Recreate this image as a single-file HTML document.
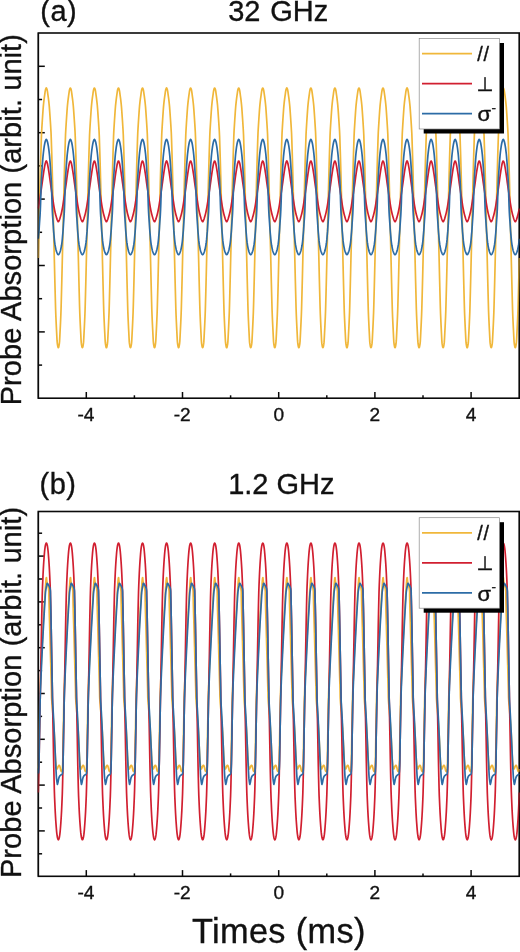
<!DOCTYPE html><html><head><meta charset="utf-8"><title>Probe Absorption</title><style>html,body{margin:0;padding:0;background:#fff}svg{display:block}</style></head><body><svg width="520" height="952" viewBox="0 0 520 952" font-family="Liberation Sans, Arial, Helvetica, sans-serif"><style>text{font-family:"Liberation Sans",Arial,Helvetica,"DejaVu Sans",sans-serif;stroke:#111;stroke-width:0.35px;paint-order:stroke}</style>
<rect width="520" height="952" fill="#fff"/>
<clipPath id="clipa"><rect x="37.4" y="33" width="482.799" height="365.2"/></clipPath>
<rect x="38.3" y="33" width="480.999" height="365.2" fill="none" stroke="#0a0a0a" stroke-width="1.6"/>
<line x1="38.3" x2="44.8" y1="66.3" y2="66.3" stroke="#0a0a0a" stroke-width="1.5"/>
<line x1="38.3" x2="44.8" y1="132.7" y2="132.7" stroke="#0a0a0a" stroke-width="1.5"/>
<line x1="38.3" x2="44.8" y1="199.100" y2="199.100" stroke="#0a0a0a" stroke-width="1.5"/>
<line x1="38.3" x2="44.8" y1="265.5" y2="265.5" stroke="#0a0a0a" stroke-width="1.5"/>
<line x1="38.3" x2="44.8" y1="331.900" y2="331.900" stroke="#0a0a0a" stroke-width="1.5"/>
<line x1="38.3" x2="42.099" y1="99.5" y2="99.5" stroke="#0a0a0a" stroke-width="1.5"/>
<line x1="38.3" x2="42.099" y1="165.9" y2="165.9" stroke="#0a0a0a" stroke-width="1.5"/>
<line x1="38.3" x2="42.099" y1="232.3" y2="232.3" stroke="#0a0a0a" stroke-width="1.5"/>
<line x1="38.3" x2="42.099" y1="298.700" y2="298.700" stroke="#0a0a0a" stroke-width="1.5"/>
<line x1="38.3" x2="42.099" y1="365.1" y2="365.1" stroke="#0a0a0a" stroke-width="1.5"/>
<line x1="86.299" x2="86.299" y1="398.2" y2="392.0" stroke="#0a0a0a" stroke-width="1.5"/>
<text x="85.999" y="421.3" font-size="19.1" text-anchor="middle" fill="#111">-4</text>
<line x1="134.399" x2="134.399" y1="398.2" y2="395.3" stroke="#0a0a0a" stroke-width="1.5"/>
<line x1="182.5" x2="182.5" y1="398.2" y2="392.0" stroke="#0a0a0a" stroke-width="1.5"/>
<text x="182.2" y="421.3" font-size="19.1" text-anchor="middle" fill="#111">-2</text>
<line x1="230.6" x2="230.6" y1="398.2" y2="395.3" stroke="#0a0a0a" stroke-width="1.5"/>
<line x1="278.7" x2="278.7" y1="398.2" y2="392.0" stroke="#0a0a0a" stroke-width="1.5"/>
<text x="278.7" y="421.3" font-size="19.1" text-anchor="middle" fill="#111">0</text>
<line x1="326.8" x2="326.8" y1="398.2" y2="395.3" stroke="#0a0a0a" stroke-width="1.5"/>
<line x1="374.9" x2="374.9" y1="398.2" y2="392.0" stroke="#0a0a0a" stroke-width="1.5"/>
<text x="374.9" y="421.3" font-size="19.1" text-anchor="middle" fill="#111">2</text>
<line x1="423.0" x2="423.0" y1="398.2" y2="395.3" stroke="#0a0a0a" stroke-width="1.5"/>
<line x1="471.1" x2="471.1" y1="398.2" y2="392.0" stroke="#0a0a0a" stroke-width="1.5"/>
<text x="471.1" y="421.3" font-size="19.1" text-anchor="middle" fill="#111">4</text>
<g clip-path="url(#clipa)" fill="none" stroke-width="1.7" stroke-linejoin="round">
<path d="M38.30 258.01 L38.55 248.13 L38.80 238.00 L39.05 226.43 L39.30 214.74 L39.55 203.57 L39.80 192.92 L40.05 182.86 L40.30 173.43 L40.55 164.48 L40.80 155.50 L41.05 147.81 L41.30 139.86 L41.55 132.94 L41.80 128.68 L42.05 124.67 L42.30 120.76 L42.55 117.02 L42.80 113.38 L43.05 109.81 L43.30 106.60 L43.55 103.99 L43.80 101.69 L44.05 99.61 L44.30 97.69 L44.55 95.87 L44.80 94.07 L45.05 92.21 L45.30 90.59 L45.55 89.54 L45.80 88.79 L46.05 88.22 L46.30 88.00 L46.55 88.22 L46.80 88.79 L47.05 89.54 L47.30 90.59 L47.55 92.21 L47.80 94.07 L48.05 95.87 L48.30 97.69 L48.55 99.61 L48.80 101.69 L49.05 103.99 L49.30 106.60 L49.55 109.81 L49.80 113.38 L50.05 117.02 L50.30 120.76 L50.55 124.67 L50.80 128.68 L51.05 132.94 L51.30 139.86 L51.55 147.81 L51.80 155.50 L52.05 164.48 L52.30 173.43 L52.55 182.86 L52.80 192.92 L53.05 203.57 L53.30 214.74 L53.55 226.43 L53.80 238.00 L54.05 248.13 L54.30 258.01 L54.55 268.53 L54.80 278.90 L55.05 288.61 L55.30 298.00 L55.55 307.53 L55.80 314.81 L56.05 320.51 L56.30 325.89 L56.55 330.87 L56.80 335.84 L57.05 340.69 L57.30 343.49 L57.55 345.13 L57.80 346.45 L58.05 347.34 L58.30 347.70 L58.55 347.45 L58.80 346.66 L59.05 345.42 L59.30 343.84 L59.55 341.48 L59.80 336.88 L60.05 331.83 L60.30 326.91 L60.55 321.61 L60.80 316.02 L61.05 309.24 L61.30 299.90 L61.55 290.50 L61.80 280.88 L62.05 270.65 L62.30 260.08 L62.55 250.08 L62.80 240.12 L63.05 228.82 L63.30 217.00 L63.55 205.78 L63.80 195.00 L64.05 184.83 L64.30 175.24 L64.55 166.30 L64.80 157.20 L65.05 149.30 L65.30 141.55 L65.55 134.00 L65.80 129.46 L66.05 125.48 L66.30 121.53 L66.55 117.76 L66.80 114.11 L67.05 110.50 L67.30 107.20 L67.55 104.48 L67.80 102.13 L68.05 100.01 L68.30 98.07 L68.55 96.23 L68.80 94.44 L69.05 92.58 L69.30 90.88 L69.55 89.70 L69.80 88.93 L70.05 88.31 L70.30 88.01 L70.55 88.15 L70.80 88.66 L71.05 89.38 L71.30 90.32 L71.55 91.86 L71.80 93.70 L72.05 95.51 L72.30 97.32 L72.55 99.22 L72.80 101.26 L73.05 103.51 L73.30 106.04 L73.55 109.13 L73.80 112.65 L74.05 116.30 L74.30 120.00 L74.55 123.88 L74.80 127.90 L75.05 131.98 L75.30 138.21 L75.55 146.32 L75.80 153.88 L76.05 162.64 L76.30 171.64 L76.55 180.92 L76.80 190.87 L77.05 201.39 L77.30 212.48 L77.55 224.03 L77.80 235.80 L78.05 246.17 L78.30 255.98 L78.55 266.41 L78.80 276.88 L79.05 286.70 L79.30 296.13 L79.55 305.70 L79.80 313.55 L80.05 319.41 L80.30 324.84 L80.55 329.91 L80.80 334.79 L81.05 339.83 L81.30 343.14 L81.55 344.83 L81.80 346.21 L82.05 347.20 L82.30 347.67 L82.55 347.55 L82.80 346.86 L83.05 345.70 L83.30 344.18 L83.55 342.16 L83.80 337.90 L84.05 332.78 L84.30 327.93 L84.55 322.71 L84.80 317.18 L85.05 310.80 L85.30 301.84 L85.55 292.39 L85.80 282.84 L86.05 272.75 L86.30 262.18 L86.55 252.03 L86.80 242.18 L87.05 231.19 L87.30 219.30 L87.55 208.00 L87.80 197.10 L88.05 186.82 L88.30 177.10 L88.55 168.09 L88.80 158.97 L89.05 150.79 L89.30 143.21 L89.55 135.23 L89.80 130.26 L90.05 126.28 L90.30 122.31 L90.55 118.50 L90.80 114.85 L91.05 111.21 L91.30 107.82 L91.55 104.98 L91.80 102.58 L92.05 100.42 L92.30 98.44 L92.55 96.59 L92.80 94.80 L93.05 92.95 L93.30 91.19 L93.55 89.88 L93.80 89.08 L94.05 88.42 L94.30 88.04 L94.55 88.08 L94.80 88.53 L95.05 89.23 L95.30 90.09 L95.55 91.51 L95.80 93.32 L96.05 95.16 L96.30 96.95 L96.55 98.83 L96.80 100.84 L97.05 103.04 L97.30 105.50 L97.55 108.46 L97.80 111.93 L98.05 115.58 L98.30 119.24 L98.55 123.09 L98.80 127.10 L99.05 131.09 L99.30 136.65 L99.55 144.80 L99.80 152.32 L100.05 160.79 L100.30 169.86 L100.55 179.00 L100.80 188.83 L101.05 199.23 L101.30 210.23 L101.55 221.65 L101.80 233.52 L102.05 244.20 L102.30 253.99 L102.55 264.29 L102.80 274.83 L103.05 284.78 L103.30 294.26 L103.55 303.79 L103.80 312.22 L104.05 318.31 L104.30 323.78 L104.55 328.92 L104.80 333.77 L105.05 338.89 L105.30 342.71 L105.55 344.51 L105.80 345.96 L106.05 347.04 L106.30 347.62 L106.55 347.62 L106.80 347.04 L107.05 345.96 L107.30 344.51 L107.55 342.71 L107.80 338.89 L108.05 333.77 L108.30 328.92 L108.55 323.78 L108.80 318.31 L109.05 312.22 L109.30 303.79 L109.55 294.26 L109.80 284.78 L110.05 274.83 L110.30 264.29 L110.55 253.99 L110.80 244.20 L111.05 233.52 L111.30 221.65 L111.55 210.23 L111.80 199.23 L112.05 188.83 L112.30 179.00 L112.55 169.86 L112.80 160.79 L113.05 152.32 L113.30 144.80 L113.55 136.65 L113.80 131.09 L114.05 127.10 L114.30 123.09 L114.55 119.24 L114.80 115.58 L115.05 111.93 L115.30 108.46 L115.55 105.50 L115.80 103.04 L116.05 100.84 L116.30 98.83 L116.55 96.95 L116.80 95.16 L117.05 93.32 L117.30 91.51 L117.55 90.09 L117.80 89.23 L118.05 88.53 L118.30 88.08 L118.55 88.04 L118.80 88.42 L119.05 89.08 L119.30 89.88 L119.55 91.19 L119.80 92.95 L120.05 94.80 L120.30 96.59 L120.55 98.44 L120.80 100.42 L121.05 102.58 L121.30 104.98 L121.55 107.82 L121.80 111.21 L122.05 114.85 L122.30 118.50 L122.55 122.31 L122.80 126.28 L123.05 130.26 L123.30 135.23 L123.55 143.21 L123.80 150.79 L124.05 158.97 L124.30 168.09 L124.55 177.10 L124.80 186.82 L125.05 197.10 L125.30 208.00 L125.55 219.30 L125.80 231.19 L126.05 242.18 L126.30 252.03 L126.55 262.18 L126.80 272.75 L127.05 282.84 L127.30 292.39 L127.55 301.84 L127.80 310.80 L128.05 317.18 L128.30 322.71 L128.55 327.93 L128.80 332.78 L129.05 337.90 L129.30 342.16 L129.55 344.18 L129.80 345.70 L130.05 346.86 L130.30 347.55 L130.55 347.67 L130.80 347.20 L131.05 346.21 L131.30 344.83 L131.55 343.14 L131.80 339.83 L132.05 334.79 L132.30 329.91 L132.55 324.84 L132.80 319.41 L133.05 313.55 L133.30 305.70 L133.55 296.13 L133.80 286.70 L134.05 276.88 L134.30 266.41 L134.55 255.98 L134.80 246.17 L135.05 235.80 L135.30 224.03 L135.55 212.48 L135.80 201.39 L136.05 190.87 L136.30 180.92 L136.55 171.64 L136.80 162.64 L137.05 153.88 L137.30 146.32 L137.55 138.21 L137.80 131.98 L138.05 127.90 L138.30 123.88 L138.55 120.00 L138.80 116.30 L139.05 112.65 L139.30 109.13 L139.55 106.04 L139.80 103.51 L140.05 101.26 L140.30 99.22 L140.55 97.32 L140.80 95.51 L141.05 93.70 L141.30 91.86 L141.55 90.32 L141.80 89.38 L142.05 88.66 L142.30 88.15 L142.55 88.01 L142.80 88.31 L143.05 88.93 L143.30 89.70 L143.55 90.88 L143.80 92.58 L144.05 94.44 L144.30 96.23 L144.55 98.07 L144.80 100.01 L145.05 102.13 L145.30 104.48 L145.55 107.20 L145.80 110.50 L146.05 114.11 L146.30 117.76 L146.55 121.53 L146.80 125.48 L147.05 129.46 L147.30 134.00 L147.55 141.55 L147.80 149.30 L148.05 157.20 L148.30 166.30 L148.55 175.24 L148.80 184.83 L149.05 195.00 L149.30 205.78 L149.55 217.00 L149.80 228.82 L150.05 240.12 L150.30 250.08 L150.55 260.08 L150.80 270.65 L151.05 280.88 L151.30 290.50 L151.55 299.90 L151.80 309.24 L152.05 316.02 L152.30 321.61 L152.55 326.91 L152.80 331.83 L153.05 336.88 L153.30 341.48 L153.55 343.84 L153.80 345.42 L154.05 346.66 L154.30 347.45 L154.55 347.70 L154.80 347.34 L155.05 346.45 L155.30 345.13 L155.55 343.49 L155.80 340.69 L156.05 335.84 L156.30 330.87 L156.55 325.89 L156.80 320.51 L157.05 314.81 L157.30 307.53 L157.55 298.00 L157.80 288.61 L158.05 278.90 L158.30 268.53 L158.55 258.01 L158.80 248.13 L159.05 238.00 L159.30 226.43 L159.55 214.74 L159.80 203.57 L160.05 192.92 L160.30 182.86 L160.55 173.43 L160.80 164.48 L161.05 155.50 L161.30 147.81 L161.55 139.86 L161.80 132.94 L162.05 128.68 L162.30 124.67 L162.55 120.76 L162.80 117.02 L163.05 113.38 L163.30 109.81 L163.55 106.60 L163.80 103.99 L164.05 101.69 L164.30 99.61 L164.55 97.69 L164.80 95.87 L165.05 94.07 L165.30 92.21 L165.55 90.59 L165.80 89.54 L166.05 88.79 L166.30 88.22 L166.55 88.00 L166.80 88.22 L167.05 88.79 L167.30 89.54 L167.55 90.59 L167.80 92.21 L168.05 94.07 L168.30 95.87 L168.55 97.69 L168.80 99.61 L169.05 101.69 L169.30 103.99 L169.55 106.60 L169.80 109.81 L170.05 113.38 L170.30 117.02 L170.55 120.76 L170.80 124.67 L171.05 128.68 L171.30 132.94 L171.55 139.86 L171.80 147.81 L172.05 155.50 L172.30 164.48 L172.55 173.43 L172.80 182.86 L173.05 192.92 L173.30 203.57 L173.55 214.74 L173.80 226.43 L174.05 238.00 L174.30 248.13 L174.55 258.01 L174.80 268.53 L175.05 278.90 L175.30 288.61 L175.55 298.00 L175.80 307.53 L176.05 314.81 L176.30 320.51 L176.55 325.89 L176.80 330.87 L177.05 335.84 L177.30 340.69 L177.55 343.49 L177.80 345.13 L178.05 346.45 L178.30 347.34 L178.55 347.70 L178.80 347.45 L179.05 346.66 L179.30 345.42 L179.55 343.84 L179.80 341.48 L180.05 336.88 L180.30 331.83 L180.55 326.91 L180.80 321.61 L181.05 316.02 L181.30 309.24 L181.55 299.90 L181.80 290.50 L182.05 280.88 L182.30 270.65 L182.55 260.08 L182.80 250.08 L183.05 240.12 L183.30 228.82 L183.55 217.00 L183.80 205.78 L184.05 195.00 L184.30 184.83 L184.55 175.24 L184.80 166.30 L185.05 157.20 L185.30 149.30 L185.55 141.55 L185.80 134.00 L186.05 129.46 L186.30 125.48 L186.55 121.53 L186.80 117.76 L187.05 114.11 L187.30 110.50 L187.55 107.20 L187.80 104.48 L188.05 102.13 L188.30 100.01 L188.55 98.07 L188.80 96.23 L189.05 94.44 L189.30 92.58 L189.55 90.88 L189.80 89.70 L190.05 88.93 L190.30 88.31 L190.55 88.01 L190.80 88.15 L191.05 88.66 L191.30 89.38 L191.55 90.32 L191.80 91.86 L192.05 93.70 L192.30 95.51 L192.55 97.32 L192.80 99.22 L193.05 101.26 L193.30 103.51 L193.55 106.04 L193.80 109.13 L194.05 112.65 L194.30 116.30 L194.55 120.00 L194.80 123.88 L195.05 127.90 L195.30 131.98 L195.55 138.21 L195.80 146.32 L196.05 153.88 L196.30 162.64 L196.55 171.64 L196.80 180.92 L197.05 190.87 L197.30 201.39 L197.55 212.48 L197.80 224.03 L198.05 235.80 L198.30 246.17 L198.55 255.98 L198.80 266.41 L199.05 276.88 L199.30 286.70 L199.55 296.13 L199.80 305.70 L200.05 313.55 L200.30 319.41 L200.55 324.84 L200.80 329.91 L201.05 334.79 L201.30 339.83 L201.55 343.14 L201.80 344.83 L202.05 346.21 L202.30 347.20 L202.55 347.67 L202.80 347.55 L203.05 346.86 L203.30 345.70 L203.55 344.18 L203.80 342.16 L204.05 337.90 L204.30 332.78 L204.55 327.93 L204.80 322.71 L205.05 317.18 L205.30 310.80 L205.55 301.84 L205.80 292.39 L206.05 282.84 L206.30 272.75 L206.55 262.18 L206.80 252.03 L207.05 242.18 L207.30 231.19 L207.55 219.30 L207.80 208.00 L208.05 197.10 L208.30 186.82 L208.55 177.10 L208.80 168.09 L209.05 158.97 L209.30 150.79 L209.55 143.21 L209.80 135.23 L210.05 130.26 L210.30 126.28 L210.55 122.31 L210.80 118.50 L211.05 114.85 L211.30 111.21 L211.55 107.82 L211.80 104.98 L212.05 102.58 L212.30 100.42 L212.55 98.44 L212.80 96.59 L213.05 94.80 L213.30 92.95 L213.55 91.19 L213.80 89.88 L214.05 89.08 L214.30 88.42 L214.55 88.04 L214.80 88.08 L215.05 88.53 L215.30 89.23 L215.55 90.09 L215.80 91.51 L216.05 93.32 L216.30 95.16 L216.55 96.95 L216.80 98.83 L217.05 100.84 L217.30 103.04 L217.55 105.50 L217.80 108.46 L218.05 111.93 L218.30 115.58 L218.55 119.24 L218.80 123.09 L219.05 127.10 L219.30 131.09 L219.55 136.65 L219.80 144.80 L220.05 152.32 L220.30 160.79 L220.55 169.86 L220.80 179.00 L221.05 188.83 L221.30 199.23 L221.55 210.23 L221.80 221.65 L222.05 233.52 L222.30 244.20 L222.55 253.99 L222.80 264.29 L223.05 274.83 L223.30 284.78 L223.55 294.26 L223.80 303.79 L224.05 312.22 L224.30 318.31 L224.55 323.78 L224.80 328.92 L225.05 333.77 L225.30 338.89 L225.55 342.71 L225.80 344.51 L226.05 345.96 L226.30 347.04 L226.55 347.62 L226.80 347.62 L227.05 347.04 L227.30 345.96 L227.55 344.51 L227.80 342.71 L228.05 338.89 L228.30 333.77 L228.55 328.92 L228.80 323.78 L229.05 318.31 L229.30 312.22 L229.55 303.79 L229.80 294.26 L230.05 284.78 L230.30 274.83 L230.55 264.29 L230.80 253.99 L231.05 244.20 L231.30 233.52 L231.55 221.65 L231.80 210.23 L232.05 199.23 L232.30 188.83 L232.55 179.00 L232.80 169.86 L233.05 160.79 L233.30 152.32 L233.55 144.80 L233.80 136.65 L234.05 131.09 L234.30 127.10 L234.55 123.09 L234.80 119.24 L235.05 115.58 L235.30 111.93 L235.55 108.46 L235.80 105.50 L236.05 103.04 L236.30 100.84 L236.55 98.83 L236.80 96.95 L237.05 95.16 L237.30 93.32 L237.55 91.51 L237.80 90.09 L238.05 89.23 L238.30 88.53 L238.55 88.08 L238.80 88.04 L239.05 88.42 L239.30 89.08 L239.55 89.88 L239.80 91.19 L240.05 92.95 L240.30 94.80 L240.55 96.59 L240.80 98.44 L241.05 100.42 L241.30 102.58 L241.55 104.98 L241.80 107.82 L242.05 111.21 L242.30 114.85 L242.55 118.50 L242.80 122.31 L243.05 126.28 L243.30 130.26 L243.55 135.23 L243.80 143.21 L244.05 150.79 L244.30 158.97 L244.55 168.09 L244.80 177.10 L245.05 186.82 L245.30 197.10 L245.55 208.00 L245.80 219.30 L246.05 231.19 L246.30 242.18 L246.55 252.03 L246.80 262.18 L247.05 272.75 L247.30 282.84 L247.55 292.39 L247.80 301.84 L248.05 310.80 L248.30 317.18 L248.55 322.71 L248.80 327.93 L249.05 332.78 L249.30 337.90 L249.55 342.16 L249.80 344.18 L250.05 345.70 L250.30 346.86 L250.55 347.55 L250.80 347.67 L251.05 347.20 L251.30 346.21 L251.55 344.83 L251.80 343.14 L252.05 339.83 L252.30 334.79 L252.55 329.91 L252.80 324.84 L253.05 319.41 L253.30 313.55 L253.55 305.70 L253.80 296.13 L254.05 286.70 L254.30 276.88 L254.55 266.41 L254.80 255.98 L255.05 246.17 L255.30 235.80 L255.55 224.03 L255.80 212.48 L256.05 201.39 L256.30 190.87 L256.55 180.92 L256.80 171.64 L257.05 162.64 L257.30 153.88 L257.55 146.32 L257.80 138.21 L258.05 131.98 L258.30 127.90 L258.55 123.88 L258.80 120.00 L259.05 116.30 L259.30 112.65 L259.55 109.13 L259.80 106.04 L260.05 103.51 L260.30 101.26 L260.55 99.22 L260.80 97.32 L261.05 95.51 L261.30 93.70 L261.55 91.86 L261.80 90.32 L262.05 89.38 L262.30 88.66 L262.55 88.15 L262.80 88.01 L263.05 88.31 L263.30 88.93 L263.55 89.70 L263.80 90.88 L264.05 92.58 L264.30 94.44 L264.55 96.23 L264.80 98.07 L265.05 100.01 L265.30 102.13 L265.55 104.48 L265.80 107.20 L266.05 110.50 L266.30 114.11 L266.55 117.76 L266.80 121.53 L267.05 125.48 L267.30 129.46 L267.55 134.00 L267.80 141.55 L268.05 149.30 L268.30 157.20 L268.55 166.30 L268.80 175.24 L269.05 184.83 L269.30 195.00 L269.55 205.78 L269.80 217.00 L270.05 228.82 L270.30 240.12 L270.55 250.08 L270.80 260.08 L271.05 270.65 L271.30 280.88 L271.55 290.50 L271.80 299.90 L272.05 309.24 L272.30 316.02 L272.55 321.61 L272.80 326.91 L273.05 331.83 L273.30 336.88 L273.55 341.48 L273.80 343.84 L274.05 345.42 L274.30 346.66 L274.55 347.45 L274.80 347.70 L275.05 347.34 L275.30 346.45 L275.55 345.13 L275.80 343.49 L276.05 340.69 L276.30 335.84 L276.55 330.87 L276.80 325.89 L277.05 320.51 L277.30 314.81 L277.55 307.53 L277.80 298.00 L278.05 288.61 L278.30 278.90 L278.55 268.53 L278.80 258.01 L279.05 248.13 L279.30 238.00 L279.55 226.43 L279.80 214.74 L280.05 203.57 L280.30 192.92 L280.55 182.86 L280.80 173.43 L281.05 164.48 L281.30 155.50 L281.55 147.81 L281.80 139.86 L282.05 132.94 L282.30 128.68 L282.55 124.67 L282.80 120.76 L283.05 117.02 L283.30 113.38 L283.55 109.81 L283.80 106.60 L284.05 103.99 L284.30 101.69 L284.55 99.61 L284.80 97.69 L285.05 95.87 L285.30 94.07 L285.55 92.21 L285.80 90.59 L286.05 89.54 L286.30 88.79 L286.55 88.22 L286.80 88.00 L287.05 88.22 L287.30 88.79 L287.55 89.54 L287.80 90.59 L288.05 92.21 L288.30 94.07 L288.55 95.87 L288.80 97.69 L289.05 99.61 L289.30 101.69 L289.55 103.99 L289.80 106.60 L290.05 109.81 L290.30 113.38 L290.55 117.02 L290.80 120.76 L291.05 124.67 L291.30 128.68 L291.55 132.94 L291.80 139.86 L292.05 147.81 L292.30 155.50 L292.55 164.48 L292.80 173.43 L293.05 182.86 L293.30 192.92 L293.55 203.57 L293.80 214.74 L294.05 226.43 L294.30 238.00 L294.55 248.13 L294.80 258.01 L295.05 268.53 L295.30 278.90 L295.55 288.61 L295.80 298.00 L296.05 307.53 L296.30 314.81 L296.55 320.51 L296.80 325.89 L297.05 330.87 L297.30 335.84 L297.55 340.69 L297.80 343.49 L298.05 345.13 L298.30 346.45 L298.55 347.34 L298.80 347.70 L299.05 347.45 L299.30 346.66 L299.55 345.42 L299.80 343.84 L300.05 341.48 L300.30 336.88 L300.55 331.83 L300.80 326.91 L301.05 321.61 L301.30 316.02 L301.55 309.24 L301.80 299.90 L302.05 290.50 L302.30 280.88 L302.55 270.65 L302.80 260.08 L303.05 250.08 L303.30 240.12 L303.55 228.82 L303.80 217.00 L304.05 205.78 L304.30 195.00 L304.55 184.83 L304.80 175.24 L305.05 166.30 L305.30 157.20 L305.55 149.30 L305.80 141.55 L306.05 134.00 L306.30 129.46 L306.55 125.48 L306.80 121.53 L307.05 117.76 L307.30 114.11 L307.55 110.50 L307.80 107.20 L308.05 104.48 L308.30 102.13 L308.55 100.01 L308.80 98.07 L309.05 96.23 L309.30 94.44 L309.55 92.58 L309.80 90.88 L310.05 89.70 L310.30 88.93 L310.55 88.31 L310.80 88.01 L311.05 88.15 L311.30 88.66 L311.55 89.38 L311.80 90.32 L312.05 91.86 L312.30 93.70 L312.55 95.51 L312.80 97.32 L313.05 99.22 L313.30 101.26 L313.55 103.51 L313.80 106.04 L314.05 109.13 L314.30 112.65 L314.55 116.30 L314.80 120.00 L315.05 123.88 L315.30 127.90 L315.55 131.98 L315.80 138.21 L316.05 146.32 L316.30 153.88 L316.55 162.64 L316.80 171.64 L317.05 180.92 L317.30 190.87 L317.55 201.39 L317.80 212.48 L318.05 224.03 L318.30 235.80 L318.55 246.17 L318.80 255.98 L319.05 266.41 L319.30 276.88 L319.55 286.70 L319.80 296.13 L320.05 305.70 L320.30 313.55 L320.55 319.41 L320.80 324.84 L321.05 329.91 L321.30 334.79 L321.55 339.83 L321.80 343.14 L322.05 344.83 L322.30 346.21 L322.55 347.20 L322.80 347.67 L323.05 347.55 L323.30 346.86 L323.55 345.70 L323.80 344.18 L324.05 342.16 L324.30 337.90 L324.55 332.78 L324.80 327.93 L325.05 322.71 L325.30 317.18 L325.55 310.80 L325.80 301.84 L326.05 292.39 L326.30 282.84 L326.55 272.75 L326.80 262.18 L327.05 252.03 L327.30 242.18 L327.55 231.19 L327.80 219.30 L328.05 208.00 L328.30 197.10 L328.55 186.82 L328.80 177.10 L329.05 168.09 L329.30 158.97 L329.55 150.79 L329.80 143.21 L330.05 135.23 L330.30 130.26 L330.55 126.28 L330.80 122.31 L331.05 118.50 L331.30 114.85 L331.55 111.21 L331.80 107.82 L332.05 104.98 L332.30 102.58 L332.55 100.42 L332.80 98.44 L333.05 96.59 L333.30 94.80 L333.55 92.95 L333.80 91.19 L334.05 89.88 L334.30 89.08 L334.55 88.42 L334.80 88.04 L335.05 88.08 L335.30 88.53 L335.55 89.23 L335.80 90.09 L336.05 91.51 L336.30 93.32 L336.55 95.16 L336.80 96.95 L337.05 98.83 L337.30 100.84 L337.55 103.04 L337.80 105.50 L338.05 108.46 L338.30 111.93 L338.55 115.58 L338.80 119.24 L339.05 123.09 L339.30 127.10 L339.55 131.09 L339.80 136.65 L340.05 144.80 L340.30 152.32 L340.55 160.79 L340.80 169.86 L341.05 179.00 L341.30 188.83 L341.55 199.23 L341.80 210.23 L342.05 221.65 L342.30 233.52 L342.55 244.20 L342.80 253.99 L343.05 264.29 L343.30 274.83 L343.55 284.78 L343.80 294.26 L344.05 303.79 L344.30 312.22 L344.55 318.31 L344.80 323.78 L345.05 328.92 L345.30 333.77 L345.55 338.89 L345.80 342.71 L346.05 344.51 L346.30 345.96 L346.55 347.04 L346.80 347.62 L347.05 347.62 L347.30 347.04 L347.55 345.96 L347.80 344.51 L348.05 342.71 L348.30 338.89 L348.55 333.77 L348.80 328.92 L349.05 323.78 L349.30 318.31 L349.55 312.22 L349.80 303.79 L350.05 294.26 L350.30 284.78 L350.55 274.83 L350.80 264.29 L351.05 253.99 L351.30 244.20 L351.55 233.52 L351.80 221.65 L352.05 210.23 L352.30 199.23 L352.55 188.83 L352.80 179.00 L353.05 169.86 L353.30 160.79 L353.55 152.32 L353.80 144.80 L354.05 136.65 L354.30 131.09 L354.55 127.10 L354.80 123.09 L355.05 119.24 L355.30 115.58 L355.55 111.93 L355.80 108.46 L356.05 105.50 L356.30 103.04 L356.55 100.84 L356.80 98.83 L357.05 96.95 L357.30 95.16 L357.55 93.32 L357.80 91.51 L358.05 90.09 L358.30 89.23 L358.55 88.53 L358.80 88.08 L359.05 88.04 L359.30 88.42 L359.55 89.08 L359.80 89.88 L360.05 91.19 L360.30 92.95 L360.55 94.80 L360.80 96.59 L361.05 98.44 L361.30 100.42 L361.55 102.58 L361.80 104.98 L362.05 107.82 L362.30 111.21 L362.55 114.85 L362.80 118.50 L363.05 122.31 L363.30 126.28 L363.55 130.26 L363.80 135.23 L364.05 143.21 L364.30 150.79 L364.55 158.97 L364.80 168.09 L365.05 177.10 L365.30 186.82 L365.55 197.10 L365.80 208.00 L366.05 219.30 L366.30 231.19 L366.55 242.18 L366.80 252.03 L367.05 262.18 L367.30 272.75 L367.55 282.84 L367.80 292.39 L368.05 301.84 L368.30 310.80 L368.55 317.18 L368.80 322.71 L369.05 327.93 L369.30 332.78 L369.55 337.90 L369.80 342.16 L370.05 344.18 L370.30 345.70 L370.55 346.86 L370.80 347.55 L371.05 347.67 L371.30 347.20 L371.55 346.21 L371.80 344.83 L372.05 343.14 L372.30 339.83 L372.55 334.79 L372.80 329.91 L373.05 324.84 L373.30 319.41 L373.55 313.55 L373.80 305.70 L374.05 296.13 L374.30 286.70 L374.55 276.88 L374.80 266.41 L375.05 255.98 L375.30 246.17 L375.55 235.80 L375.80 224.03 L376.05 212.48 L376.30 201.39 L376.55 190.87 L376.80 180.92 L377.05 171.64 L377.30 162.64 L377.55 153.88 L377.80 146.32 L378.05 138.21 L378.30 131.98 L378.55 127.90 L378.80 123.88 L379.05 120.00 L379.30 116.30 L379.55 112.65 L379.80 109.13 L380.05 106.04 L380.30 103.51 L380.55 101.26 L380.80 99.22 L381.05 97.32 L381.30 95.51 L381.55 93.70 L381.80 91.86 L382.05 90.32 L382.30 89.38 L382.55 88.66 L382.80 88.15 L383.05 88.01 L383.30 88.31 L383.55 88.93 L383.80 89.70 L384.05 90.88 L384.30 92.58 L384.55 94.44 L384.80 96.23 L385.05 98.07 L385.30 100.01 L385.55 102.13 L385.80 104.48 L386.05 107.20 L386.30 110.50 L386.55 114.11 L386.80 117.76 L387.05 121.53 L387.30 125.48 L387.55 129.46 L387.80 134.00 L388.05 141.55 L388.30 149.30 L388.55 157.20 L388.80 166.30 L389.05 175.24 L389.30 184.83 L389.55 195.00 L389.80 205.78 L390.05 217.00 L390.30 228.82 L390.55 240.12 L390.80 250.08 L391.05 260.08 L391.30 270.65 L391.55 280.88 L391.80 290.50 L392.05 299.90 L392.30 309.24 L392.55 316.02 L392.80 321.61 L393.05 326.91 L393.30 331.83 L393.55 336.88 L393.80 341.48 L394.05 343.84 L394.30 345.42 L394.55 346.66 L394.80 347.45 L395.05 347.70 L395.30 347.34 L395.55 346.45 L395.80 345.13 L396.05 343.49 L396.30 340.69 L396.55 335.84 L396.80 330.87 L397.05 325.89 L397.30 320.51 L397.55 314.81 L397.80 307.53 L398.05 298.00 L398.30 288.61 L398.55 278.90 L398.80 268.53 L399.05 258.01 L399.30 248.13 L399.55 238.00 L399.80 226.43 L400.05 214.74 L400.30 203.57 L400.55 192.92 L400.80 182.86 L401.05 173.43 L401.30 164.48 L401.55 155.50 L401.80 147.81 L402.05 139.86 L402.30 132.94 L402.55 128.68 L402.80 124.67 L403.05 120.76 L403.30 117.02 L403.55 113.38 L403.80 109.81 L404.05 106.60 L404.30 103.99 L404.55 101.69 L404.80 99.61 L405.05 97.69 L405.30 95.87 L405.55 94.07 L405.80 92.21 L406.05 90.59 L406.30 89.54 L406.55 88.79 L406.80 88.22 L407.05 88.00 L407.30 88.22 L407.55 88.79 L407.80 89.54 L408.05 90.59 L408.30 92.21 L408.55 94.07 L408.80 95.87 L409.05 97.69 L409.30 99.61 L409.55 101.69 L409.80 103.99 L410.05 106.60 L410.30 109.81 L410.55 113.38 L410.80 117.02 L411.05 120.76 L411.30 124.67 L411.55 128.68 L411.80 132.94 L412.05 139.86 L412.30 147.81 L412.55 155.50 L412.80 164.48 L413.05 173.43 L413.30 182.86 L413.55 192.92 L413.80 203.57 L414.05 214.74 L414.30 226.43 L414.55 238.00 L414.80 248.13 L415.05 258.01 L415.30 268.53 L415.55 278.90 L415.80 288.61 L416.05 298.00 L416.30 307.53 L416.55 314.81 L416.80 320.51 L417.05 325.89 L417.30 330.87 L417.55 335.84 L417.80 340.69 L418.05 343.49 L418.30 345.13 L418.55 346.45 L418.80 347.34 L419.05 347.70 L419.30 347.45 L419.55 346.66 L419.80 345.42 L420.05 343.84 L420.30 341.48 L420.55 336.88 L420.80 331.83 L421.05 326.91 L421.30 321.61 L421.55 316.02 L421.80 309.24 L422.05 299.90 L422.30 290.50 L422.55 280.88 L422.80 270.65 L423.05 260.08 L423.30 250.08 L423.55 240.12 L423.80 228.82 L424.05 217.00 L424.30 205.78 L424.55 195.00 L424.80 184.83 L425.05 175.24 L425.30 166.30 L425.55 157.20 L425.80 149.30 L426.05 141.55 L426.30 134.00 L426.55 129.46 L426.80 125.48 L427.05 121.53 L427.30 117.76 L427.55 114.11 L427.80 110.50 L428.05 107.20 L428.30 104.48 L428.55 102.13 L428.80 100.01 L429.05 98.07 L429.30 96.23 L429.55 94.44 L429.80 92.58 L430.05 90.88 L430.30 89.70 L430.55 88.93 L430.80 88.31 L431.05 88.01 L431.30 88.15 L431.55 88.66 L431.80 89.38 L432.05 90.32 L432.30 91.86 L432.55 93.70 L432.80 95.51 L433.05 97.32 L433.30 99.22 L433.55 101.26 L433.80 103.51 L434.05 106.04 L434.30 109.13 L434.55 112.65 L434.80 116.30 L435.05 120.00 L435.30 123.88 L435.55 127.90 L435.80 131.98 L436.05 138.21 L436.30 146.32 L436.55 153.88 L436.80 162.64 L437.05 171.64 L437.30 180.92 L437.55 190.87 L437.80 201.39 L438.05 212.48 L438.30 224.03 L438.55 235.80 L438.80 246.17 L439.05 255.98 L439.30 266.41 L439.55 276.88 L439.80 286.70 L440.05 296.13 L440.30 305.70 L440.55 313.55 L440.80 319.41 L441.05 324.84 L441.30 329.91 L441.55 334.79 L441.80 339.83 L442.05 343.14 L442.30 344.83 L442.55 346.21 L442.80 347.20 L443.05 347.67 L443.30 347.55 L443.55 346.86 L443.80 345.70 L444.05 344.18 L444.30 342.16 L444.55 337.90 L444.80 332.78 L445.05 327.93 L445.30 322.71 L445.55 317.18 L445.80 310.80 L446.05 301.84 L446.30 292.39 L446.55 282.84 L446.80 272.75 L447.05 262.18 L447.30 252.03 L447.55 242.18 L447.80 231.19 L448.05 219.30 L448.30 208.00 L448.55 197.10 L448.80 186.82 L449.05 177.10 L449.30 168.09 L449.55 158.97 L449.80 150.79 L450.05 143.21 L450.30 135.23 L450.55 130.26 L450.80 126.28 L451.05 122.31 L451.30 118.50 L451.55 114.85 L451.80 111.21 L452.05 107.82 L452.30 104.98 L452.55 102.58 L452.80 100.42 L453.05 98.44 L453.30 96.59 L453.55 94.80 L453.80 92.95 L454.05 91.19 L454.30 89.88 L454.55 89.08 L454.80 88.42 L455.05 88.04 L455.30 88.08 L455.55 88.53 L455.80 89.23 L456.05 90.09 L456.30 91.51 L456.55 93.32 L456.80 95.16 L457.05 96.95 L457.30 98.83 L457.55 100.84 L457.80 103.04 L458.05 105.50 L458.30 108.46 L458.55 111.93 L458.80 115.58 L459.05 119.24 L459.30 123.09 L459.55 127.10 L459.80 131.09 L460.05 136.65 L460.30 144.80 L460.55 152.32 L460.80 160.79 L461.05 169.86 L461.30 179.00 L461.55 188.83 L461.80 199.23 L462.05 210.23 L462.30 221.65 L462.55 233.52 L462.80 244.20 L463.05 253.99 L463.30 264.29 L463.55 274.83 L463.80 284.78 L464.05 294.26 L464.30 303.79 L464.55 312.22 L464.80 318.31 L465.05 323.78 L465.30 328.92 L465.55 333.77 L465.80 338.89 L466.05 342.71 L466.30 344.51 L466.55 345.96 L466.80 347.04 L467.05 347.62 L467.30 347.62 L467.55 347.04 L467.80 345.96 L468.05 344.51 L468.30 342.71 L468.55 338.89 L468.80 333.77 L469.05 328.92 L469.30 323.78 L469.55 318.31 L469.80 312.22 L470.05 303.79 L470.30 294.26 L470.55 284.78 L470.80 274.83 L471.05 264.29 L471.30 253.99 L471.55 244.20 L471.80 233.52 L472.05 221.65 L472.30 210.23 L472.55 199.23 L472.80 188.83 L473.05 179.00 L473.30 169.86 L473.55 160.79 L473.80 152.32 L474.05 144.80 L474.30 136.65 L474.55 131.09 L474.80 127.10 L475.05 123.09 L475.30 119.24 L475.55 115.58 L475.80 111.93 L476.05 108.46 L476.30 105.50 L476.55 103.04 L476.80 100.84 L477.05 98.83 L477.30 96.95 L477.55 95.16 L477.80 93.32 L478.05 91.51 L478.30 90.09 L478.55 89.23 L478.80 88.53 L479.05 88.08 L479.30 88.04 L479.55 88.42 L479.80 89.08 L480.05 89.88 L480.30 91.19 L480.55 92.95 L480.80 94.80 L481.05 96.59 L481.30 98.44 L481.55 100.42 L481.80 102.58 L482.05 104.98 L482.30 107.82 L482.55 111.21 L482.80 114.85 L483.05 118.50 L483.30 122.31 L483.55 126.28 L483.80 130.26 L484.05 135.23 L484.30 143.21 L484.55 150.79 L484.80 158.97 L485.05 168.09 L485.30 177.10 L485.55 186.82 L485.80 197.10 L486.05 208.00 L486.30 219.30 L486.55 231.19 L486.80 242.18 L487.05 252.03 L487.30 262.18 L487.55 272.75 L487.80 282.84 L488.05 292.39 L488.30 301.84 L488.55 310.80 L488.80 317.18 L489.05 322.71 L489.30 327.93 L489.55 332.78 L489.80 337.90 L490.05 342.16 L490.30 344.18 L490.55 345.70 L490.80 346.86 L491.05 347.55 L491.30 347.67 L491.55 347.20 L491.80 346.21 L492.05 344.83 L492.30 343.14 L492.55 339.83 L492.80 334.79 L493.05 329.91 L493.30 324.84 L493.55 319.41 L493.80 313.55 L494.05 305.70 L494.30 296.13 L494.55 286.70 L494.80 276.88 L495.05 266.41 L495.30 255.98 L495.55 246.17 L495.80 235.80 L496.05 224.03 L496.30 212.48 L496.55 201.39 L496.80 190.87 L497.05 180.92 L497.30 171.64 L497.55 162.64 L497.80 153.88 L498.05 146.32 L498.30 138.21 L498.55 131.98 L498.80 127.90 L499.05 123.88 L499.30 120.00 L499.55 116.30 L499.80 112.65 L500.05 109.13 L500.30 106.04 L500.55 103.51 L500.80 101.26 L501.05 99.22 L501.30 97.32 L501.55 95.51 L501.80 93.70 L502.05 91.86 L502.30 90.32 L502.55 89.38 L502.80 88.66 L503.05 88.15 L503.30 88.01 L503.55 88.31 L503.80 88.93 L504.05 89.70 L504.30 90.88 L504.55 92.58 L504.80 94.44 L505.05 96.23 L505.30 98.07 L505.55 100.01 L505.80 102.13 L506.05 104.48 L506.30 107.20 L506.55 110.50 L506.80 114.11 L507.05 117.76 L507.30 121.53 L507.55 125.48 L507.80 129.46 L508.05 134.00 L508.30 141.55 L508.55 149.30 L508.80 157.20 L509.05 166.30 L509.30 175.24 L509.55 184.83 L509.80 195.00 L510.05 205.78 L510.30 217.00 L510.55 228.82 L510.80 240.12 L511.05 250.08 L511.30 260.08 L511.55 270.65 L511.80 280.88 L512.05 290.50 L512.30 299.90 L512.55 309.24 L512.80 316.02 L513.05 321.61 L513.30 326.91 L513.55 331.83 L513.80 336.88 L514.05 341.48 L514.30 343.84 L514.55 345.42 L514.80 346.66 L515.05 347.45 L515.30 347.70 L515.55 347.34 L515.80 346.45 L516.05 345.13 L516.30 343.49 L516.55 340.69 L516.80 335.84 L517.05 330.87 L517.30 325.89 L517.55 320.51 L517.80 314.81 L518.05 307.53 L518.30 298.00 L518.55 288.61 L518.80 278.90 L519.05 268.53 L519.30 258.01" stroke="#F0B73A"/>
<path d="M38.30 208.50 L38.55 207.11 L38.80 205.62 L39.05 204.07 L39.30 202.50 L39.55 200.90 L39.80 199.26 L40.05 197.59 L40.30 195.89 L40.55 194.20 L40.80 192.50 L41.05 190.82 L41.30 189.14 L41.55 187.45 L41.80 185.74 L42.05 184.00 L42.30 182.21 L42.55 180.30 L42.80 178.37 L43.05 176.55 L43.30 174.82 L43.55 173.13 L43.80 171.48 L44.05 169.89 L44.30 168.37 L44.55 166.92 L44.80 165.56 L45.05 164.23 L45.30 163.20 L45.55 162.42 L45.80 161.71 L46.05 161.20 L46.30 161.00 L46.55 161.20 L46.80 161.71 L47.05 162.42 L47.30 163.20 L47.55 164.23 L47.80 165.56 L48.05 166.92 L48.30 168.37 L48.55 169.89 L48.80 171.48 L49.05 173.13 L49.30 174.82 L49.55 176.55 L49.80 178.37 L50.05 180.30 L50.30 182.21 L50.55 184.00 L50.80 185.74 L51.05 187.45 L51.30 189.14 L51.55 190.82 L51.80 192.50 L52.05 194.20 L52.30 195.89 L52.55 197.59 L52.80 199.26 L53.05 200.90 L53.30 202.50 L53.55 204.07 L53.80 205.62 L54.05 207.11 L54.30 208.50 L54.55 209.79 L54.80 211.01 L55.05 212.15 L55.30 213.22 L55.55 214.23 L55.80 215.18 L56.05 216.08 L56.30 216.94 L56.55 217.81 L56.80 218.63 L57.05 219.38 L57.30 220.00 L57.55 220.56 L57.80 221.10 L58.05 221.51 L58.30 221.70 L58.55 221.57 L58.80 221.20 L59.05 220.67 L59.30 220.11 L59.55 219.52 L59.80 218.79 L60.05 217.98 L60.30 217.12 L60.55 216.26 L60.80 215.36 L61.05 214.42 L61.30 213.43 L61.55 212.37 L61.80 211.24 L62.05 210.04 L62.30 208.76 L62.55 207.40 L62.80 205.93 L63.05 204.39 L63.30 202.81 L63.55 201.22 L63.80 199.59 L64.05 197.92 L64.30 196.23 L64.55 194.54 L64.80 192.84 L65.05 191.15 L65.30 189.47 L65.55 187.79 L65.80 186.09 L66.05 184.35 L66.30 182.57 L66.55 180.69 L66.80 178.75 L67.05 176.90 L67.30 175.17 L67.55 173.46 L67.80 171.81 L68.05 170.20 L68.30 168.66 L68.55 167.20 L68.80 165.83 L69.05 164.48 L69.30 163.37 L69.55 162.57 L69.80 161.84 L70.05 161.28 L70.30 161.01 L70.55 161.13 L70.80 161.59 L71.05 162.27 L71.30 163.04 L71.55 163.99 L71.80 165.28 L72.05 166.65 L72.30 168.07 L72.55 169.58 L72.80 171.16 L73.05 172.79 L73.30 174.48 L73.55 176.20 L73.80 177.99 L74.05 179.91 L74.30 181.84 L74.55 183.65 L74.80 185.40 L75.05 187.11 L75.30 188.80 L75.55 190.48 L75.80 192.16 L76.05 193.86 L76.30 195.56 L76.55 197.25 L76.80 198.93 L77.05 200.58 L77.30 202.18 L77.55 203.76 L77.80 205.32 L78.05 206.82 L78.30 208.23 L78.55 209.54 L78.80 210.77 L79.05 211.93 L79.30 213.01 L79.55 214.03 L79.80 214.99 L80.05 215.90 L80.30 216.77 L80.55 217.63 L80.80 218.47 L81.05 219.24 L81.30 219.89 L81.55 220.45 L81.80 221.00 L82.05 221.45 L82.30 221.68 L82.55 221.62 L82.80 221.29 L83.05 220.79 L83.30 220.22 L83.55 219.65 L83.80 218.95 L84.05 218.14 L84.30 217.29 L84.55 216.43 L84.80 215.54 L85.05 214.61 L85.30 213.63 L85.55 212.59 L85.80 211.47 L86.05 210.29 L86.30 209.03 L86.55 207.68 L86.80 206.23 L87.05 204.70 L87.30 203.13 L87.55 201.55 L87.80 199.92 L88.05 198.26 L88.30 196.57 L88.55 194.88 L88.80 193.18 L89.05 191.49 L89.30 189.81 L89.55 188.13 L89.80 186.43 L90.05 184.70 L90.30 182.93 L90.55 181.08 L90.80 179.13 L91.05 177.25 L91.30 175.51 L91.55 173.80 L91.80 172.13 L92.05 170.52 L92.30 168.97 L92.55 167.49 L92.80 166.10 L93.05 164.74 L93.30 163.56 L93.55 162.73 L93.80 161.98 L94.05 161.37 L94.30 161.03 L94.55 161.07 L94.80 161.47 L95.05 162.12 L95.30 162.89 L95.55 163.77 L95.80 165.01 L96.05 166.37 L96.30 167.78 L96.55 169.27 L96.80 170.84 L97.05 172.46 L97.30 174.14 L97.55 175.86 L97.80 177.62 L98.05 179.52 L98.30 181.46 L98.55 183.29 L98.80 185.05 L99.05 186.77 L99.30 188.46 L99.55 190.15 L99.80 191.83 L100.05 193.52 L100.30 195.22 L100.55 196.91 L100.80 198.59 L101.05 200.25 L101.30 201.87 L101.55 203.45 L101.80 205.01 L102.05 206.53 L102.30 207.96 L102.55 209.28 L102.80 210.53 L103.05 211.70 L103.30 212.80 L103.55 213.83 L103.80 214.80 L104.05 215.72 L104.30 216.60 L104.55 217.46 L104.80 218.31 L105.05 219.10 L105.30 219.77 L105.55 220.33 L105.80 220.89 L106.05 221.37 L106.30 221.66 L106.55 221.66 L106.80 221.37 L107.05 220.89 L107.30 220.33 L107.55 219.77 L107.80 219.10 L108.05 218.31 L108.30 217.46 L108.55 216.60 L108.80 215.72 L109.05 214.80 L109.30 213.83 L109.55 212.80 L109.80 211.70 L110.05 210.53 L110.30 209.28 L110.55 207.96 L110.80 206.53 L111.05 205.01 L111.30 203.45 L111.55 201.87 L111.80 200.25 L112.05 198.59 L112.30 196.91 L112.55 195.22 L112.80 193.52 L113.05 191.83 L113.30 190.15 L113.55 188.46 L113.80 186.77 L114.05 185.05 L114.30 183.29 L114.55 181.46 L114.80 179.52 L115.05 177.62 L115.30 175.86 L115.55 174.14 L115.80 172.46 L116.05 170.84 L116.30 169.27 L116.55 167.78 L116.80 166.37 L117.05 165.01 L117.30 163.77 L117.55 162.89 L117.80 162.12 L118.05 161.47 L118.30 161.07 L118.55 161.03 L118.80 161.37 L119.05 161.98 L119.30 162.73 L119.55 163.56 L119.80 164.74 L120.05 166.10 L120.30 167.49 L120.55 168.97 L120.80 170.52 L121.05 172.13 L121.30 173.80 L121.55 175.51 L121.80 177.25 L122.05 179.13 L122.30 181.08 L122.55 182.93 L122.80 184.70 L123.05 186.43 L123.30 188.13 L123.55 189.81 L123.80 191.49 L124.05 193.18 L124.30 194.88 L124.55 196.57 L124.80 198.26 L125.05 199.92 L125.30 201.55 L125.55 203.13 L125.80 204.70 L126.05 206.23 L126.30 207.68 L126.55 209.03 L126.80 210.29 L127.05 211.47 L127.30 212.59 L127.55 213.63 L127.80 214.61 L128.05 215.54 L128.30 216.43 L128.55 217.29 L128.80 218.14 L129.05 218.95 L129.30 219.65 L129.55 220.22 L129.80 220.79 L130.05 221.29 L130.30 221.62 L130.55 221.68 L130.80 221.45 L131.05 221.00 L131.30 220.45 L131.55 219.89 L131.80 219.24 L132.05 218.47 L132.30 217.63 L132.55 216.77 L132.80 215.90 L133.05 214.99 L133.30 214.03 L133.55 213.01 L133.80 211.93 L134.05 210.77 L134.30 209.54 L134.55 208.23 L134.80 206.82 L135.05 205.32 L135.30 203.76 L135.55 202.18 L135.80 200.58 L136.05 198.93 L136.30 197.25 L136.55 195.56 L136.80 193.86 L137.05 192.16 L137.30 190.48 L137.55 188.80 L137.80 187.11 L138.05 185.40 L138.30 183.65 L138.55 181.84 L138.80 179.91 L139.05 177.99 L139.30 176.20 L139.55 174.48 L139.80 172.79 L140.05 171.16 L140.30 169.58 L140.55 168.07 L140.80 166.65 L141.05 165.28 L141.30 163.99 L141.55 163.04 L141.80 162.27 L142.05 161.59 L142.30 161.13 L142.55 161.01 L142.80 161.28 L143.05 161.84 L143.30 162.57 L143.55 163.37 L143.80 164.48 L144.05 165.83 L144.30 167.20 L144.55 168.66 L144.80 170.20 L145.05 171.81 L145.30 173.46 L145.55 175.17 L145.80 176.90 L146.05 178.75 L146.30 180.69 L146.55 182.57 L146.80 184.35 L147.05 186.09 L147.30 187.79 L147.55 189.47 L147.80 191.15 L148.05 192.84 L148.30 194.54 L148.55 196.23 L148.80 197.92 L149.05 199.59 L149.30 201.22 L149.55 202.81 L149.80 204.39 L150.05 205.93 L150.30 207.40 L150.55 208.76 L150.80 210.04 L151.05 211.24 L151.30 212.37 L151.55 213.43 L151.80 214.42 L152.05 215.36 L152.30 216.26 L152.55 217.12 L152.80 217.98 L153.05 218.79 L153.30 219.52 L153.55 220.11 L153.80 220.67 L154.05 221.20 L154.30 221.57 L154.55 221.70 L154.80 221.51 L155.05 221.10 L155.30 220.56 L155.55 220.00 L155.80 219.38 L156.05 218.63 L156.30 217.81 L156.55 216.94 L156.80 216.08 L157.05 215.18 L157.30 214.23 L157.55 213.22 L157.80 212.15 L158.05 211.01 L158.30 209.79 L158.55 208.50 L158.80 207.11 L159.05 205.62 L159.30 204.07 L159.55 202.50 L159.80 200.90 L160.05 199.26 L160.30 197.59 L160.55 195.89 L160.80 194.20 L161.05 192.50 L161.30 190.82 L161.55 189.14 L161.80 187.45 L162.05 185.74 L162.30 184.00 L162.55 182.21 L162.80 180.30 L163.05 178.37 L163.30 176.55 L163.55 174.82 L163.80 173.13 L164.05 171.48 L164.30 169.89 L164.55 168.37 L164.80 166.92 L165.05 165.56 L165.30 164.23 L165.55 163.20 L165.80 162.42 L166.05 161.71 L166.30 161.20 L166.55 161.00 L166.80 161.20 L167.05 161.71 L167.30 162.42 L167.55 163.20 L167.80 164.23 L168.05 165.56 L168.30 166.92 L168.55 168.37 L168.80 169.89 L169.05 171.48 L169.30 173.13 L169.55 174.82 L169.80 176.55 L170.05 178.37 L170.30 180.30 L170.55 182.21 L170.80 184.00 L171.05 185.74 L171.30 187.45 L171.55 189.14 L171.80 190.82 L172.05 192.50 L172.30 194.20 L172.55 195.89 L172.80 197.59 L173.05 199.26 L173.30 200.90 L173.55 202.50 L173.80 204.07 L174.05 205.62 L174.30 207.11 L174.55 208.50 L174.80 209.79 L175.05 211.01 L175.30 212.15 L175.55 213.22 L175.80 214.23 L176.05 215.18 L176.30 216.08 L176.55 216.94 L176.80 217.81 L177.05 218.63 L177.30 219.38 L177.55 220.00 L177.80 220.56 L178.05 221.10 L178.30 221.51 L178.55 221.70 L178.80 221.57 L179.05 221.20 L179.30 220.67 L179.55 220.11 L179.80 219.52 L180.05 218.79 L180.30 217.98 L180.55 217.12 L180.80 216.26 L181.05 215.36 L181.30 214.42 L181.55 213.43 L181.80 212.37 L182.05 211.24 L182.30 210.04 L182.55 208.76 L182.80 207.40 L183.05 205.93 L183.30 204.39 L183.55 202.81 L183.80 201.22 L184.05 199.59 L184.30 197.92 L184.55 196.23 L184.80 194.54 L185.05 192.84 L185.30 191.15 L185.55 189.47 L185.80 187.79 L186.05 186.09 L186.30 184.35 L186.55 182.57 L186.80 180.69 L187.05 178.75 L187.30 176.90 L187.55 175.17 L187.80 173.46 L188.05 171.81 L188.30 170.20 L188.55 168.66 L188.80 167.20 L189.05 165.83 L189.30 164.48 L189.55 163.37 L189.80 162.57 L190.05 161.84 L190.30 161.28 L190.55 161.01 L190.80 161.13 L191.05 161.59 L191.30 162.27 L191.55 163.04 L191.80 163.99 L192.05 165.28 L192.30 166.65 L192.55 168.07 L192.80 169.58 L193.05 171.16 L193.30 172.79 L193.55 174.48 L193.80 176.20 L194.05 177.99 L194.30 179.91 L194.55 181.84 L194.80 183.65 L195.05 185.40 L195.30 187.11 L195.55 188.80 L195.80 190.48 L196.05 192.16 L196.30 193.86 L196.55 195.56 L196.80 197.25 L197.05 198.93 L197.30 200.58 L197.55 202.18 L197.80 203.76 L198.05 205.32 L198.30 206.82 L198.55 208.23 L198.80 209.54 L199.05 210.77 L199.30 211.93 L199.55 213.01 L199.80 214.03 L200.05 214.99 L200.30 215.90 L200.55 216.77 L200.80 217.63 L201.05 218.47 L201.30 219.24 L201.55 219.89 L201.80 220.45 L202.05 221.00 L202.30 221.45 L202.55 221.68 L202.80 221.62 L203.05 221.29 L203.30 220.79 L203.55 220.22 L203.80 219.65 L204.05 218.95 L204.30 218.14 L204.55 217.29 L204.80 216.43 L205.05 215.54 L205.30 214.61 L205.55 213.63 L205.80 212.59 L206.05 211.47 L206.30 210.29 L206.55 209.03 L206.80 207.68 L207.05 206.23 L207.30 204.70 L207.55 203.13 L207.80 201.55 L208.05 199.92 L208.30 198.26 L208.55 196.57 L208.80 194.88 L209.05 193.18 L209.30 191.49 L209.55 189.81 L209.80 188.13 L210.05 186.43 L210.30 184.70 L210.55 182.93 L210.80 181.08 L211.05 179.13 L211.30 177.25 L211.55 175.51 L211.80 173.80 L212.05 172.13 L212.30 170.52 L212.55 168.97 L212.80 167.49 L213.05 166.10 L213.30 164.74 L213.55 163.56 L213.80 162.73 L214.05 161.98 L214.30 161.37 L214.55 161.03 L214.80 161.07 L215.05 161.47 L215.30 162.12 L215.55 162.89 L215.80 163.77 L216.05 165.01 L216.30 166.37 L216.55 167.78 L216.80 169.27 L217.05 170.84 L217.30 172.46 L217.55 174.14 L217.80 175.86 L218.05 177.62 L218.30 179.52 L218.55 181.46 L218.80 183.29 L219.05 185.05 L219.30 186.77 L219.55 188.46 L219.80 190.15 L220.05 191.83 L220.30 193.52 L220.55 195.22 L220.80 196.91 L221.05 198.59 L221.30 200.25 L221.55 201.87 L221.80 203.45 L222.05 205.01 L222.30 206.53 L222.55 207.96 L222.80 209.28 L223.05 210.53 L223.30 211.70 L223.55 212.80 L223.80 213.83 L224.05 214.80 L224.30 215.72 L224.55 216.60 L224.80 217.46 L225.05 218.31 L225.30 219.10 L225.55 219.77 L225.80 220.33 L226.05 220.89 L226.30 221.37 L226.55 221.66 L226.80 221.66 L227.05 221.37 L227.30 220.89 L227.55 220.33 L227.80 219.77 L228.05 219.10 L228.30 218.31 L228.55 217.46 L228.80 216.60 L229.05 215.72 L229.30 214.80 L229.55 213.83 L229.80 212.80 L230.05 211.70 L230.30 210.53 L230.55 209.28 L230.80 207.96 L231.05 206.53 L231.30 205.01 L231.55 203.45 L231.80 201.87 L232.05 200.25 L232.30 198.59 L232.55 196.91 L232.80 195.22 L233.05 193.52 L233.30 191.83 L233.55 190.15 L233.80 188.46 L234.05 186.77 L234.30 185.05 L234.55 183.29 L234.80 181.46 L235.05 179.52 L235.30 177.62 L235.55 175.86 L235.80 174.14 L236.05 172.46 L236.30 170.84 L236.55 169.27 L236.80 167.78 L237.05 166.37 L237.30 165.01 L237.55 163.77 L237.80 162.89 L238.05 162.12 L238.30 161.47 L238.55 161.07 L238.80 161.03 L239.05 161.37 L239.30 161.98 L239.55 162.73 L239.80 163.56 L240.05 164.74 L240.30 166.10 L240.55 167.49 L240.80 168.97 L241.05 170.52 L241.30 172.13 L241.55 173.80 L241.80 175.51 L242.05 177.25 L242.30 179.13 L242.55 181.08 L242.80 182.93 L243.05 184.70 L243.30 186.43 L243.55 188.13 L243.80 189.81 L244.05 191.49 L244.30 193.18 L244.55 194.88 L244.80 196.57 L245.05 198.26 L245.30 199.92 L245.55 201.55 L245.80 203.13 L246.05 204.70 L246.30 206.23 L246.55 207.68 L246.80 209.03 L247.05 210.29 L247.30 211.47 L247.55 212.59 L247.80 213.63 L248.05 214.61 L248.30 215.54 L248.55 216.43 L248.80 217.29 L249.05 218.14 L249.30 218.95 L249.55 219.65 L249.80 220.22 L250.05 220.79 L250.30 221.29 L250.55 221.62 L250.80 221.68 L251.05 221.45 L251.30 221.00 L251.55 220.45 L251.80 219.89 L252.05 219.24 L252.30 218.47 L252.55 217.63 L252.80 216.77 L253.05 215.90 L253.30 214.99 L253.55 214.03 L253.80 213.01 L254.05 211.93 L254.30 210.77 L254.55 209.54 L254.80 208.23 L255.05 206.82 L255.30 205.32 L255.55 203.76 L255.80 202.18 L256.05 200.58 L256.30 198.93 L256.55 197.25 L256.80 195.56 L257.05 193.86 L257.30 192.16 L257.55 190.48 L257.80 188.80 L258.05 187.11 L258.30 185.40 L258.55 183.65 L258.80 181.84 L259.05 179.91 L259.30 177.99 L259.55 176.20 L259.80 174.48 L260.05 172.79 L260.30 171.16 L260.55 169.58 L260.80 168.07 L261.05 166.65 L261.30 165.28 L261.55 163.99 L261.80 163.04 L262.05 162.27 L262.30 161.59 L262.55 161.13 L262.80 161.01 L263.05 161.28 L263.30 161.84 L263.55 162.57 L263.80 163.37 L264.05 164.48 L264.30 165.83 L264.55 167.20 L264.80 168.66 L265.05 170.20 L265.30 171.81 L265.55 173.46 L265.80 175.17 L266.05 176.90 L266.30 178.75 L266.55 180.69 L266.80 182.57 L267.05 184.35 L267.30 186.09 L267.55 187.79 L267.80 189.47 L268.05 191.15 L268.30 192.84 L268.55 194.54 L268.80 196.23 L269.05 197.92 L269.30 199.59 L269.55 201.22 L269.80 202.81 L270.05 204.39 L270.30 205.93 L270.55 207.40 L270.80 208.76 L271.05 210.04 L271.30 211.24 L271.55 212.37 L271.80 213.43 L272.05 214.42 L272.30 215.36 L272.55 216.26 L272.80 217.12 L273.05 217.98 L273.30 218.79 L273.55 219.52 L273.80 220.11 L274.05 220.67 L274.30 221.20 L274.55 221.57 L274.80 221.70 L275.05 221.51 L275.30 221.10 L275.55 220.56 L275.80 220.00 L276.05 219.38 L276.30 218.63 L276.55 217.81 L276.80 216.94 L277.05 216.08 L277.30 215.18 L277.55 214.23 L277.80 213.22 L278.05 212.15 L278.30 211.01 L278.55 209.79 L278.80 208.50 L279.05 207.11 L279.30 205.62 L279.55 204.07 L279.80 202.50 L280.05 200.90 L280.30 199.26 L280.55 197.59 L280.80 195.89 L281.05 194.20 L281.30 192.50 L281.55 190.82 L281.80 189.14 L282.05 187.45 L282.30 185.74 L282.55 184.00 L282.80 182.21 L283.05 180.30 L283.30 178.37 L283.55 176.55 L283.80 174.82 L284.05 173.13 L284.30 171.48 L284.55 169.89 L284.80 168.37 L285.05 166.92 L285.30 165.56 L285.55 164.23 L285.80 163.20 L286.05 162.42 L286.30 161.71 L286.55 161.20 L286.80 161.00 L287.05 161.20 L287.30 161.71 L287.55 162.42 L287.80 163.20 L288.05 164.23 L288.30 165.56 L288.55 166.92 L288.80 168.37 L289.05 169.89 L289.30 171.48 L289.55 173.13 L289.80 174.82 L290.05 176.55 L290.30 178.37 L290.55 180.30 L290.80 182.21 L291.05 184.00 L291.30 185.74 L291.55 187.45 L291.80 189.14 L292.05 190.82 L292.30 192.50 L292.55 194.20 L292.80 195.89 L293.05 197.59 L293.30 199.26 L293.55 200.90 L293.80 202.50 L294.05 204.07 L294.30 205.62 L294.55 207.11 L294.80 208.50 L295.05 209.79 L295.30 211.01 L295.55 212.15 L295.80 213.22 L296.05 214.23 L296.30 215.18 L296.55 216.08 L296.80 216.94 L297.05 217.81 L297.30 218.63 L297.55 219.38 L297.80 220.00 L298.05 220.56 L298.30 221.10 L298.55 221.51 L298.80 221.70 L299.05 221.57 L299.30 221.20 L299.55 220.67 L299.80 220.11 L300.05 219.52 L300.30 218.79 L300.55 217.98 L300.80 217.12 L301.05 216.26 L301.30 215.36 L301.55 214.42 L301.80 213.43 L302.05 212.37 L302.30 211.24 L302.55 210.04 L302.80 208.76 L303.05 207.40 L303.30 205.93 L303.55 204.39 L303.80 202.81 L304.05 201.22 L304.30 199.59 L304.55 197.92 L304.80 196.23 L305.05 194.54 L305.30 192.84 L305.55 191.15 L305.80 189.47 L306.05 187.79 L306.30 186.09 L306.55 184.35 L306.80 182.57 L307.05 180.69 L307.30 178.75 L307.55 176.90 L307.80 175.17 L308.05 173.46 L308.30 171.81 L308.55 170.20 L308.80 168.66 L309.05 167.20 L309.30 165.83 L309.55 164.48 L309.80 163.37 L310.05 162.57 L310.30 161.84 L310.55 161.28 L310.80 161.01 L311.05 161.13 L311.30 161.59 L311.55 162.27 L311.80 163.04 L312.05 163.99 L312.30 165.28 L312.55 166.65 L312.80 168.07 L313.05 169.58 L313.30 171.16 L313.55 172.79 L313.80 174.48 L314.05 176.20 L314.30 177.99 L314.55 179.91 L314.80 181.84 L315.05 183.65 L315.30 185.40 L315.55 187.11 L315.80 188.80 L316.05 190.48 L316.30 192.16 L316.55 193.86 L316.80 195.56 L317.05 197.25 L317.30 198.93 L317.55 200.58 L317.80 202.18 L318.05 203.76 L318.30 205.32 L318.55 206.82 L318.80 208.23 L319.05 209.54 L319.30 210.77 L319.55 211.93 L319.80 213.01 L320.05 214.03 L320.30 214.99 L320.55 215.90 L320.80 216.77 L321.05 217.63 L321.30 218.47 L321.55 219.24 L321.80 219.89 L322.05 220.45 L322.30 221.00 L322.55 221.45 L322.80 221.68 L323.05 221.62 L323.30 221.29 L323.55 220.79 L323.80 220.22 L324.05 219.65 L324.30 218.95 L324.55 218.14 L324.80 217.29 L325.05 216.43 L325.30 215.54 L325.55 214.61 L325.80 213.63 L326.05 212.59 L326.30 211.47 L326.55 210.29 L326.80 209.03 L327.05 207.68 L327.30 206.23 L327.55 204.70 L327.80 203.13 L328.05 201.55 L328.30 199.92 L328.55 198.26 L328.80 196.57 L329.05 194.88 L329.30 193.18 L329.55 191.49 L329.80 189.81 L330.05 188.13 L330.30 186.43 L330.55 184.70 L330.80 182.93 L331.05 181.08 L331.30 179.13 L331.55 177.25 L331.80 175.51 L332.05 173.80 L332.30 172.13 L332.55 170.52 L332.80 168.97 L333.05 167.49 L333.30 166.10 L333.55 164.74 L333.80 163.56 L334.05 162.73 L334.30 161.98 L334.55 161.37 L334.80 161.03 L335.05 161.07 L335.30 161.47 L335.55 162.12 L335.80 162.89 L336.05 163.77 L336.30 165.01 L336.55 166.37 L336.80 167.78 L337.05 169.27 L337.30 170.84 L337.55 172.46 L337.80 174.14 L338.05 175.86 L338.30 177.62 L338.55 179.52 L338.80 181.46 L339.05 183.29 L339.30 185.05 L339.55 186.77 L339.80 188.46 L340.05 190.15 L340.30 191.83 L340.55 193.52 L340.80 195.22 L341.05 196.91 L341.30 198.59 L341.55 200.25 L341.80 201.87 L342.05 203.45 L342.30 205.01 L342.55 206.53 L342.80 207.96 L343.05 209.28 L343.30 210.53 L343.55 211.70 L343.80 212.80 L344.05 213.83 L344.30 214.80 L344.55 215.72 L344.80 216.60 L345.05 217.46 L345.30 218.31 L345.55 219.10 L345.80 219.77 L346.05 220.33 L346.30 220.89 L346.55 221.37 L346.80 221.66 L347.05 221.66 L347.30 221.37 L347.55 220.89 L347.80 220.33 L348.05 219.77 L348.30 219.10 L348.55 218.31 L348.80 217.46 L349.05 216.60 L349.30 215.72 L349.55 214.80 L349.80 213.83 L350.05 212.80 L350.30 211.70 L350.55 210.53 L350.80 209.28 L351.05 207.96 L351.30 206.53 L351.55 205.01 L351.80 203.45 L352.05 201.87 L352.30 200.25 L352.55 198.59 L352.80 196.91 L353.05 195.22 L353.30 193.52 L353.55 191.83 L353.80 190.15 L354.05 188.46 L354.30 186.77 L354.55 185.05 L354.80 183.29 L355.05 181.46 L355.30 179.52 L355.55 177.62 L355.80 175.86 L356.05 174.14 L356.30 172.46 L356.55 170.84 L356.80 169.27 L357.05 167.78 L357.30 166.37 L357.55 165.01 L357.80 163.77 L358.05 162.89 L358.30 162.12 L358.55 161.47 L358.80 161.07 L359.05 161.03 L359.30 161.37 L359.55 161.98 L359.80 162.73 L360.05 163.56 L360.30 164.74 L360.55 166.10 L360.80 167.49 L361.05 168.97 L361.30 170.52 L361.55 172.13 L361.80 173.80 L362.05 175.51 L362.30 177.25 L362.55 179.13 L362.80 181.08 L363.05 182.93 L363.30 184.70 L363.55 186.43 L363.80 188.13 L364.05 189.81 L364.30 191.49 L364.55 193.18 L364.80 194.88 L365.05 196.57 L365.30 198.26 L365.55 199.92 L365.80 201.55 L366.05 203.13 L366.30 204.70 L366.55 206.23 L366.80 207.68 L367.05 209.03 L367.30 210.29 L367.55 211.47 L367.80 212.59 L368.05 213.63 L368.30 214.61 L368.55 215.54 L368.80 216.43 L369.05 217.29 L369.30 218.14 L369.55 218.95 L369.80 219.65 L370.05 220.22 L370.30 220.79 L370.55 221.29 L370.80 221.62 L371.05 221.68 L371.30 221.45 L371.55 221.00 L371.80 220.45 L372.05 219.89 L372.30 219.24 L372.55 218.47 L372.80 217.63 L373.05 216.77 L373.30 215.90 L373.55 214.99 L373.80 214.03 L374.05 213.01 L374.30 211.93 L374.55 210.77 L374.80 209.54 L375.05 208.23 L375.30 206.82 L375.55 205.32 L375.80 203.76 L376.05 202.18 L376.30 200.58 L376.55 198.93 L376.80 197.25 L377.05 195.56 L377.30 193.86 L377.55 192.16 L377.80 190.48 L378.05 188.80 L378.30 187.11 L378.55 185.40 L378.80 183.65 L379.05 181.84 L379.30 179.91 L379.55 177.99 L379.80 176.20 L380.05 174.48 L380.30 172.79 L380.55 171.16 L380.80 169.58 L381.05 168.07 L381.30 166.65 L381.55 165.28 L381.80 163.99 L382.05 163.04 L382.30 162.27 L382.55 161.59 L382.80 161.13 L383.05 161.01 L383.30 161.28 L383.55 161.84 L383.80 162.57 L384.05 163.37 L384.30 164.48 L384.55 165.83 L384.80 167.20 L385.05 168.66 L385.30 170.20 L385.55 171.81 L385.80 173.46 L386.05 175.17 L386.30 176.90 L386.55 178.75 L386.80 180.69 L387.05 182.57 L387.30 184.35 L387.55 186.09 L387.80 187.79 L388.05 189.47 L388.30 191.15 L388.55 192.84 L388.80 194.54 L389.05 196.23 L389.30 197.92 L389.55 199.59 L389.80 201.22 L390.05 202.81 L390.30 204.39 L390.55 205.93 L390.80 207.40 L391.05 208.76 L391.30 210.04 L391.55 211.24 L391.80 212.37 L392.05 213.43 L392.30 214.42 L392.55 215.36 L392.80 216.26 L393.05 217.12 L393.30 217.98 L393.55 218.79 L393.80 219.52 L394.05 220.11 L394.30 220.67 L394.55 221.20 L394.80 221.57 L395.05 221.70 L395.30 221.51 L395.55 221.10 L395.80 220.56 L396.05 220.00 L396.30 219.38 L396.55 218.63 L396.80 217.81 L397.05 216.94 L397.30 216.08 L397.55 215.18 L397.80 214.23 L398.05 213.22 L398.30 212.15 L398.55 211.01 L398.80 209.79 L399.05 208.50 L399.30 207.11 L399.55 205.62 L399.80 204.07 L400.05 202.50 L400.30 200.90 L400.55 199.26 L400.80 197.59 L401.05 195.89 L401.30 194.20 L401.55 192.50 L401.80 190.82 L402.05 189.14 L402.30 187.45 L402.55 185.74 L402.80 184.00 L403.05 182.21 L403.30 180.30 L403.55 178.37 L403.80 176.55 L404.05 174.82 L404.30 173.13 L404.55 171.48 L404.80 169.89 L405.05 168.37 L405.30 166.92 L405.55 165.56 L405.80 164.23 L406.05 163.20 L406.30 162.42 L406.55 161.71 L406.80 161.20 L407.05 161.00 L407.30 161.20 L407.55 161.71 L407.80 162.42 L408.05 163.20 L408.30 164.23 L408.55 165.56 L408.80 166.92 L409.05 168.37 L409.30 169.89 L409.55 171.48 L409.80 173.13 L410.05 174.82 L410.30 176.55 L410.55 178.37 L410.80 180.30 L411.05 182.21 L411.30 184.00 L411.55 185.74 L411.80 187.45 L412.05 189.14 L412.30 190.82 L412.55 192.50 L412.80 194.20 L413.05 195.89 L413.30 197.59 L413.55 199.26 L413.80 200.90 L414.05 202.50 L414.30 204.07 L414.55 205.62 L414.80 207.11 L415.05 208.50 L415.30 209.79 L415.55 211.01 L415.80 212.15 L416.05 213.22 L416.30 214.23 L416.55 215.18 L416.80 216.08 L417.05 216.94 L417.30 217.81 L417.55 218.63 L417.80 219.38 L418.05 220.00 L418.30 220.56 L418.55 221.10 L418.80 221.51 L419.05 221.70 L419.30 221.57 L419.55 221.20 L419.80 220.67 L420.05 220.11 L420.30 219.52 L420.55 218.79 L420.80 217.98 L421.05 217.12 L421.30 216.26 L421.55 215.36 L421.80 214.42 L422.05 213.43 L422.30 212.37 L422.55 211.24 L422.80 210.04 L423.05 208.76 L423.30 207.40 L423.55 205.93 L423.80 204.39 L424.05 202.81 L424.30 201.22 L424.55 199.59 L424.80 197.92 L425.05 196.23 L425.30 194.54 L425.55 192.84 L425.80 191.15 L426.05 189.47 L426.30 187.79 L426.55 186.09 L426.80 184.35 L427.05 182.57 L427.30 180.69 L427.55 178.75 L427.80 176.90 L428.05 175.17 L428.30 173.46 L428.55 171.81 L428.80 170.20 L429.05 168.66 L429.30 167.20 L429.55 165.83 L429.80 164.48 L430.05 163.37 L430.30 162.57 L430.55 161.84 L430.80 161.28 L431.05 161.01 L431.30 161.13 L431.55 161.59 L431.80 162.27 L432.05 163.04 L432.30 163.99 L432.55 165.28 L432.80 166.65 L433.05 168.07 L433.30 169.58 L433.55 171.16 L433.80 172.79 L434.05 174.48 L434.30 176.20 L434.55 177.99 L434.80 179.91 L435.05 181.84 L435.30 183.65 L435.55 185.40 L435.80 187.11 L436.05 188.80 L436.30 190.48 L436.55 192.16 L436.80 193.86 L437.05 195.56 L437.30 197.25 L437.55 198.93 L437.80 200.58 L438.05 202.18 L438.30 203.76 L438.55 205.32 L438.80 206.82 L439.05 208.23 L439.30 209.54 L439.55 210.77 L439.80 211.93 L440.05 213.01 L440.30 214.03 L440.55 214.99 L440.80 215.90 L441.05 216.77 L441.30 217.63 L441.55 218.47 L441.80 219.24 L442.05 219.89 L442.30 220.45 L442.55 221.00 L442.80 221.45 L443.05 221.68 L443.30 221.62 L443.55 221.29 L443.80 220.79 L444.05 220.22 L444.30 219.65 L444.55 218.95 L444.80 218.14 L445.05 217.29 L445.30 216.43 L445.55 215.54 L445.80 214.61 L446.05 213.63 L446.30 212.59 L446.55 211.47 L446.80 210.29 L447.05 209.03 L447.30 207.68 L447.55 206.23 L447.80 204.70 L448.05 203.13 L448.30 201.55 L448.55 199.92 L448.80 198.26 L449.05 196.57 L449.30 194.88 L449.55 193.18 L449.80 191.49 L450.05 189.81 L450.30 188.13 L450.55 186.43 L450.80 184.70 L451.05 182.93 L451.30 181.08 L451.55 179.13 L451.80 177.25 L452.05 175.51 L452.30 173.80 L452.55 172.13 L452.80 170.52 L453.05 168.97 L453.30 167.49 L453.55 166.10 L453.80 164.74 L454.05 163.56 L454.30 162.73 L454.55 161.98 L454.80 161.37 L455.05 161.03 L455.30 161.07 L455.55 161.47 L455.80 162.12 L456.05 162.89 L456.30 163.77 L456.55 165.01 L456.80 166.37 L457.05 167.78 L457.30 169.27 L457.55 170.84 L457.80 172.46 L458.05 174.14 L458.30 175.86 L458.55 177.62 L458.80 179.52 L459.05 181.46 L459.30 183.29 L459.55 185.05 L459.80 186.77 L460.05 188.46 L460.30 190.15 L460.55 191.83 L460.80 193.52 L461.05 195.22 L461.30 196.91 L461.55 198.59 L461.80 200.25 L462.05 201.87 L462.30 203.45 L462.55 205.01 L462.80 206.53 L463.05 207.96 L463.30 209.28 L463.55 210.53 L463.80 211.70 L464.05 212.80 L464.30 213.83 L464.55 214.80 L464.80 215.72 L465.05 216.60 L465.30 217.46 L465.55 218.31 L465.80 219.10 L466.05 219.77 L466.30 220.33 L466.55 220.89 L466.80 221.37 L467.05 221.66 L467.30 221.66 L467.55 221.37 L467.80 220.89 L468.05 220.33 L468.30 219.77 L468.55 219.10 L468.80 218.31 L469.05 217.46 L469.30 216.60 L469.55 215.72 L469.80 214.80 L470.05 213.83 L470.30 212.80 L470.55 211.70 L470.80 210.53 L471.05 209.28 L471.30 207.96 L471.55 206.53 L471.80 205.01 L472.05 203.45 L472.30 201.87 L472.55 200.25 L472.80 198.59 L473.05 196.91 L473.30 195.22 L473.55 193.52 L473.80 191.83 L474.05 190.15 L474.30 188.46 L474.55 186.77 L474.80 185.05 L475.05 183.29 L475.30 181.46 L475.55 179.52 L475.80 177.62 L476.05 175.86 L476.30 174.14 L476.55 172.46 L476.80 170.84 L477.05 169.27 L477.30 167.78 L477.55 166.37 L477.80 165.01 L478.05 163.77 L478.30 162.89 L478.55 162.12 L478.80 161.47 L479.05 161.07 L479.30 161.03 L479.55 161.37 L479.80 161.98 L480.05 162.73 L480.30 163.56 L480.55 164.74 L480.80 166.10 L481.05 167.49 L481.30 168.97 L481.55 170.52 L481.80 172.13 L482.05 173.80 L482.30 175.51 L482.55 177.25 L482.80 179.13 L483.05 181.08 L483.30 182.93 L483.55 184.70 L483.80 186.43 L484.05 188.13 L484.30 189.81 L484.55 191.49 L484.80 193.18 L485.05 194.88 L485.30 196.57 L485.55 198.26 L485.80 199.92 L486.05 201.55 L486.30 203.13 L486.55 204.70 L486.80 206.23 L487.05 207.68 L487.30 209.03 L487.55 210.29 L487.80 211.47 L488.05 212.59 L488.30 213.63 L488.55 214.61 L488.80 215.54 L489.05 216.43 L489.30 217.29 L489.55 218.14 L489.80 218.95 L490.05 219.65 L490.30 220.22 L490.55 220.79 L490.80 221.29 L491.05 221.62 L491.30 221.68 L491.55 221.45 L491.80 221.00 L492.05 220.45 L492.30 219.89 L492.55 219.24 L492.80 218.47 L493.05 217.63 L493.30 216.77 L493.55 215.90 L493.80 214.99 L494.05 214.03 L494.30 213.01 L494.55 211.93 L494.80 210.77 L495.05 209.54 L495.30 208.23 L495.55 206.82 L495.80 205.32 L496.05 203.76 L496.30 202.18 L496.55 200.58 L496.80 198.93 L497.05 197.25 L497.30 195.56 L497.55 193.86 L497.80 192.16 L498.05 190.48 L498.30 188.80 L498.55 187.11 L498.80 185.40 L499.05 183.65 L499.30 181.84 L499.55 179.91 L499.80 177.99 L500.05 176.20 L500.30 174.48 L500.55 172.79 L500.80 171.16 L501.05 169.58 L501.30 168.07 L501.55 166.65 L501.80 165.28 L502.05 163.99 L502.30 163.04 L502.55 162.27 L502.80 161.59 L503.05 161.13 L503.30 161.01 L503.55 161.28 L503.80 161.84 L504.05 162.57 L504.30 163.37 L504.55 164.48 L504.80 165.83 L505.05 167.20 L505.30 168.66 L505.55 170.20 L505.80 171.81 L506.05 173.46 L506.30 175.17 L506.55 176.90 L506.80 178.75 L507.05 180.69 L507.30 182.57 L507.55 184.35 L507.80 186.09 L508.05 187.79 L508.30 189.47 L508.55 191.15 L508.80 192.84 L509.05 194.54 L509.30 196.23 L509.55 197.92 L509.80 199.59 L510.05 201.22 L510.30 202.81 L510.55 204.39 L510.80 205.93 L511.05 207.40 L511.30 208.76 L511.55 210.04 L511.80 211.24 L512.05 212.37 L512.30 213.43 L512.55 214.42 L512.80 215.36 L513.05 216.26 L513.30 217.12 L513.55 217.98 L513.80 218.79 L514.05 219.52 L514.30 220.11 L514.55 220.67 L514.80 221.20 L515.05 221.57 L515.30 221.70 L515.55 221.51 L515.80 221.10 L516.05 220.56 L516.30 220.00 L516.55 219.38 L516.80 218.63 L517.05 217.81 L517.30 216.94 L517.55 216.08 L517.80 215.18 L518.05 214.23 L518.30 213.22 L518.55 212.15 L518.80 211.01 L519.05 209.79 L519.30 208.50" stroke="#D11F30"/>
<path d="M38.30 238.80 L38.55 235.79 L38.80 233.08 L39.05 230.13 L39.30 226.02 L39.55 222.20 L39.80 218.62 L40.05 215.08 L40.30 210.28 L40.55 204.02 L40.80 195.97 L41.05 188.03 L41.30 181.45 L41.55 177.10 L41.80 173.22 L42.05 169.35 L42.30 165.59 L42.55 162.19 L42.80 158.99 L43.05 156.03 L43.30 153.56 L43.55 151.39 L43.80 149.44 L44.05 147.61 L44.30 145.95 L44.55 144.54 L44.80 143.26 L45.05 142.14 L45.30 141.30 L45.55 140.63 L45.80 140.01 L46.05 139.57 L46.30 139.40 L46.55 139.57 L46.80 140.01 L47.05 140.63 L47.30 141.30 L47.55 142.14 L47.80 143.26 L48.05 144.54 L48.30 145.95 L48.55 147.61 L48.80 149.44 L49.05 151.39 L49.30 153.56 L49.55 156.03 L49.80 158.99 L50.05 162.19 L50.30 165.59 L50.55 169.35 L50.80 173.22 L51.05 177.10 L51.30 181.45 L51.55 188.03 L51.80 195.97 L52.05 204.02 L52.30 210.28 L52.55 215.08 L52.80 218.62 L53.05 222.20 L53.30 226.02 L53.55 230.13 L53.80 233.08 L54.05 235.79 L54.30 238.80 L54.55 241.33 L54.80 243.29 L55.05 244.96 L55.30 246.38 L55.55 247.67 L55.80 248.87 L56.05 249.96 L56.30 250.89 L56.55 251.64 L56.80 252.26 L57.05 252.87 L57.30 253.44 L57.55 253.93 L57.80 254.33 L58.05 254.59 L58.30 254.70 L58.55 254.63 L58.80 254.39 L59.05 254.02 L59.30 253.54 L59.55 252.99 L59.80 252.38 L60.05 251.76 L60.30 251.06 L60.55 250.16 L60.80 249.10 L61.05 247.92 L61.30 246.64 L61.55 245.26 L61.80 243.64 L62.05 241.75 L62.30 239.38 L62.55 236.38 L62.80 233.61 L63.05 230.79 L63.30 226.89 L63.55 222.93 L63.80 219.33 L64.05 215.84 L64.30 211.37 L64.55 205.40 L64.80 197.61 L65.05 189.62 L65.30 182.50 L65.55 177.92 L65.80 173.97 L66.05 170.14 L66.30 166.30 L66.55 162.85 L66.80 159.63 L67.05 156.58 L67.30 154.02 L67.55 151.80 L67.80 149.82 L68.05 147.96 L68.30 146.27 L68.55 144.80 L68.80 143.51 L69.05 142.35 L69.30 141.44 L69.55 140.76 L69.80 140.13 L70.05 139.64 L70.30 139.41 L70.55 139.51 L70.80 139.91 L71.05 140.49 L71.30 141.16 L71.55 141.95 L71.80 143.02 L72.05 144.27 L72.30 145.65 L72.55 147.26 L72.80 149.06 L73.05 150.99 L73.30 153.10 L73.55 155.50 L73.80 158.37 L74.05 161.54 L74.30 164.88 L74.55 168.56 L74.80 172.46 L75.05 176.28 L75.30 180.48 L75.55 186.49 L75.80 194.40 L76.05 202.51 L76.30 209.13 L76.55 214.26 L76.80 217.93 L77.05 221.49 L77.30 225.19 L77.55 229.40 L77.80 232.54 L78.05 235.22 L78.30 238.20 L78.55 240.90 L78.80 242.92 L79.05 244.64 L79.30 246.11 L79.55 247.42 L79.80 248.64 L80.05 249.75 L80.30 250.72 L80.55 251.50 L80.80 252.14 L81.05 252.75 L81.30 253.33 L81.55 253.84 L81.80 254.26 L82.05 254.55 L82.30 254.69 L82.55 254.66 L82.80 254.45 L83.05 254.10 L83.30 253.64 L83.55 253.10 L83.80 252.51 L84.05 251.89 L84.30 251.21 L84.55 250.35 L84.80 249.32 L85.05 248.16 L85.30 246.90 L85.55 245.55 L85.80 243.99 L86.05 242.15 L86.30 239.93 L86.55 236.98 L86.80 234.14 L87.05 231.40 L87.30 227.75 L87.55 223.66 L87.80 220.05 L88.05 216.56 L88.30 212.40 L88.55 206.69 L88.80 199.27 L89.05 191.24 L89.30 183.69 L89.55 178.75 L89.80 174.73 L90.05 170.92 L90.30 167.03 L90.55 163.51 L90.80 160.26 L91.05 157.16 L91.30 154.50 L91.55 152.23 L91.80 150.20 L92.05 148.32 L92.30 146.59 L92.55 145.07 L92.80 143.76 L93.05 142.56 L93.30 141.60 L93.55 140.89 L93.80 140.24 L94.05 139.72 L94.30 139.43 L94.55 139.46 L94.80 139.81 L95.05 140.37 L95.30 141.03 L95.55 141.77 L95.80 142.79 L96.05 144.01 L96.30 145.35 L96.55 146.92 L96.80 148.69 L97.05 150.59 L97.30 152.66 L97.55 154.99 L97.80 157.76 L98.05 160.90 L98.30 164.19 L98.55 167.79 L98.80 171.70 L99.05 175.49 L99.30 179.59 L99.55 185.03 L99.80 192.84 L100.05 200.91 L100.30 207.94 L100.55 213.37 L100.80 217.25 L101.05 220.77 L101.30 224.42 L101.55 228.60 L101.80 231.99 L102.05 234.67 L102.30 237.59 L102.55 240.44 L102.80 242.54 L103.05 244.32 L103.30 245.84 L103.55 247.16 L103.80 248.41 L104.05 249.54 L104.30 250.54 L104.55 251.36 L104.80 252.01 L105.05 252.63 L105.30 253.22 L105.55 253.74 L105.80 254.18 L106.05 254.50 L106.30 254.68 L106.55 254.68 L106.80 254.50 L107.05 254.18 L107.30 253.74 L107.55 253.22 L107.80 252.63 L108.05 252.01 L108.30 251.36 L108.55 250.54 L108.80 249.54 L109.05 248.41 L109.30 247.16 L109.55 245.84 L109.80 244.32 L110.05 242.54 L110.30 240.44 L110.55 237.59 L110.80 234.67 L111.05 231.99 L111.30 228.60 L111.55 224.42 L111.80 220.77 L112.05 217.25 L112.30 213.37 L112.55 207.94 L112.80 200.91 L113.05 192.84 L113.30 185.03 L113.55 179.59 L113.80 175.49 L114.05 171.70 L114.30 167.79 L114.55 164.19 L114.80 160.90 L115.05 157.76 L115.30 154.99 L115.55 152.66 L115.80 150.59 L116.05 148.69 L116.30 146.92 L116.55 145.35 L116.80 144.01 L117.05 142.79 L117.30 141.77 L117.55 141.03 L117.80 140.37 L118.05 139.81 L118.30 139.46 L118.55 139.43 L118.80 139.72 L119.05 140.24 L119.30 140.89 L119.55 141.60 L119.80 142.56 L120.05 143.76 L120.30 145.07 L120.55 146.59 L120.80 148.32 L121.05 150.20 L121.30 152.23 L121.55 154.50 L121.80 157.16 L122.05 160.26 L122.30 163.51 L122.55 167.03 L122.80 170.92 L123.05 174.73 L123.30 178.75 L123.55 183.69 L123.80 191.24 L124.05 199.27 L124.30 206.69 L124.55 212.40 L124.80 216.56 L125.05 220.05 L125.30 223.66 L125.55 227.75 L125.80 231.40 L126.05 234.14 L126.30 236.98 L126.55 239.93 L126.80 242.15 L127.05 243.99 L127.30 245.55 L127.55 246.90 L127.80 248.16 L128.05 249.32 L128.30 250.35 L128.55 251.21 L128.80 251.89 L129.05 252.51 L129.30 253.10 L129.55 253.64 L129.80 254.10 L130.05 254.45 L130.30 254.66 L130.55 254.69 L130.80 254.55 L131.05 254.26 L131.30 253.84 L131.55 253.33 L131.80 252.75 L132.05 252.14 L132.30 251.50 L132.55 250.72 L132.80 249.75 L133.05 248.64 L133.30 247.42 L133.55 246.11 L133.80 244.64 L134.05 242.92 L134.30 240.90 L134.55 238.20 L134.80 235.22 L135.05 232.54 L135.30 229.40 L135.55 225.19 L135.80 221.49 L136.05 217.93 L136.30 214.26 L136.55 209.13 L136.80 202.51 L137.05 194.40 L137.30 186.49 L137.55 180.48 L137.80 176.28 L138.05 172.46 L138.30 168.56 L138.55 164.88 L138.80 161.54 L139.05 158.37 L139.30 155.50 L139.55 153.10 L139.80 150.99 L140.05 149.06 L140.30 147.26 L140.55 145.65 L140.80 144.27 L141.05 143.02 L141.30 141.95 L141.55 141.16 L141.80 140.49 L142.05 139.91 L142.30 139.51 L142.55 139.41 L142.80 139.64 L143.05 140.13 L143.30 140.76 L143.55 141.44 L143.80 142.35 L144.05 143.51 L144.30 144.80 L144.55 146.27 L144.80 147.96 L145.05 149.82 L145.30 151.80 L145.55 154.02 L145.80 156.58 L146.05 159.63 L146.30 162.85 L146.55 166.30 L146.80 170.14 L147.05 173.97 L147.30 177.92 L147.55 182.50 L147.80 189.62 L148.05 197.61 L148.30 205.40 L148.55 211.37 L148.80 215.84 L149.05 219.33 L149.30 222.93 L149.55 226.89 L149.80 230.79 L150.05 233.61 L150.30 236.38 L150.55 239.38 L150.80 241.75 L151.05 243.64 L151.30 245.26 L151.55 246.64 L151.80 247.92 L152.05 249.10 L152.30 250.16 L152.55 251.06 L152.80 251.76 L153.05 252.38 L153.30 252.99 L153.55 253.54 L153.80 254.02 L154.05 254.39 L154.30 254.63 L154.55 254.70 L154.80 254.59 L155.05 254.33 L155.30 253.93 L155.55 253.44 L155.80 252.87 L156.05 252.26 L156.30 251.64 L156.55 250.89 L156.80 249.96 L157.05 248.87 L157.30 247.67 L157.55 246.38 L157.80 244.96 L158.05 243.29 L158.30 241.33 L158.55 238.80 L158.80 235.79 L159.05 233.08 L159.30 230.13 L159.55 226.02 L159.80 222.20 L160.05 218.62 L160.30 215.08 L160.55 210.28 L160.80 204.02 L161.05 195.97 L161.30 188.03 L161.55 181.45 L161.80 177.10 L162.05 173.22 L162.30 169.35 L162.55 165.59 L162.80 162.19 L163.05 158.99 L163.30 156.03 L163.55 153.56 L163.80 151.39 L164.05 149.44 L164.30 147.61 L164.55 145.95 L164.80 144.54 L165.05 143.26 L165.30 142.14 L165.55 141.30 L165.80 140.63 L166.05 140.01 L166.30 139.57 L166.55 139.40 L166.80 139.57 L167.05 140.01 L167.30 140.63 L167.55 141.30 L167.80 142.14 L168.05 143.26 L168.30 144.54 L168.55 145.95 L168.80 147.61 L169.05 149.44 L169.30 151.39 L169.55 153.56 L169.80 156.03 L170.05 158.99 L170.30 162.19 L170.55 165.59 L170.80 169.35 L171.05 173.22 L171.30 177.10 L171.55 181.45 L171.80 188.03 L172.05 195.97 L172.30 204.02 L172.55 210.28 L172.80 215.08 L173.05 218.62 L173.30 222.20 L173.55 226.02 L173.80 230.13 L174.05 233.08 L174.30 235.79 L174.55 238.80 L174.80 241.33 L175.05 243.29 L175.30 244.96 L175.55 246.38 L175.80 247.67 L176.05 248.87 L176.30 249.96 L176.55 250.89 L176.80 251.64 L177.05 252.26 L177.30 252.87 L177.55 253.44 L177.80 253.93 L178.05 254.33 L178.30 254.59 L178.55 254.70 L178.80 254.63 L179.05 254.39 L179.30 254.02 L179.55 253.54 L179.80 252.99 L180.05 252.38 L180.30 251.76 L180.55 251.06 L180.80 250.16 L181.05 249.10 L181.30 247.92 L181.55 246.64 L181.80 245.26 L182.05 243.64 L182.30 241.75 L182.55 239.38 L182.80 236.38 L183.05 233.61 L183.30 230.79 L183.55 226.89 L183.80 222.93 L184.05 219.33 L184.30 215.84 L184.55 211.37 L184.80 205.40 L185.05 197.61 L185.30 189.62 L185.55 182.50 L185.80 177.92 L186.05 173.97 L186.30 170.14 L186.55 166.30 L186.80 162.85 L187.05 159.63 L187.30 156.58 L187.55 154.02 L187.80 151.80 L188.05 149.82 L188.30 147.96 L188.55 146.27 L188.80 144.80 L189.05 143.51 L189.30 142.35 L189.55 141.44 L189.80 140.76 L190.05 140.13 L190.30 139.64 L190.55 139.41 L190.80 139.51 L191.05 139.91 L191.30 140.49 L191.55 141.16 L191.80 141.95 L192.05 143.02 L192.30 144.27 L192.55 145.65 L192.80 147.26 L193.05 149.06 L193.30 150.99 L193.55 153.10 L193.80 155.50 L194.05 158.37 L194.30 161.54 L194.55 164.88 L194.80 168.56 L195.05 172.46 L195.30 176.28 L195.55 180.48 L195.80 186.49 L196.05 194.40 L196.30 202.51 L196.55 209.13 L196.80 214.26 L197.05 217.93 L197.30 221.49 L197.55 225.19 L197.80 229.40 L198.05 232.54 L198.30 235.22 L198.55 238.20 L198.80 240.90 L199.05 242.92 L199.30 244.64 L199.55 246.11 L199.80 247.42 L200.05 248.64 L200.30 249.75 L200.55 250.72 L200.80 251.50 L201.05 252.14 L201.30 252.75 L201.55 253.33 L201.80 253.84 L202.05 254.26 L202.30 254.55 L202.55 254.69 L202.80 254.66 L203.05 254.45 L203.30 254.10 L203.55 253.64 L203.80 253.10 L204.05 252.51 L204.30 251.89 L204.55 251.21 L204.80 250.35 L205.05 249.32 L205.30 248.16 L205.55 246.90 L205.80 245.55 L206.05 243.99 L206.30 242.15 L206.55 239.93 L206.80 236.98 L207.05 234.14 L207.30 231.40 L207.55 227.75 L207.80 223.66 L208.05 220.05 L208.30 216.56 L208.55 212.40 L208.80 206.69 L209.05 199.27 L209.30 191.24 L209.55 183.69 L209.80 178.75 L210.05 174.73 L210.30 170.92 L210.55 167.03 L210.80 163.51 L211.05 160.26 L211.30 157.16 L211.55 154.50 L211.80 152.23 L212.05 150.20 L212.30 148.32 L212.55 146.59 L212.80 145.07 L213.05 143.76 L213.30 142.56 L213.55 141.60 L213.80 140.89 L214.05 140.24 L214.30 139.72 L214.55 139.43 L214.80 139.46 L215.05 139.81 L215.30 140.37 L215.55 141.03 L215.80 141.77 L216.05 142.79 L216.30 144.01 L216.55 145.35 L216.80 146.92 L217.05 148.69 L217.30 150.59 L217.55 152.66 L217.80 154.99 L218.05 157.76 L218.30 160.90 L218.55 164.19 L218.80 167.79 L219.05 171.70 L219.30 175.49 L219.55 179.59 L219.80 185.03 L220.05 192.84 L220.30 200.91 L220.55 207.94 L220.80 213.37 L221.05 217.25 L221.30 220.77 L221.55 224.42 L221.80 228.60 L222.05 231.99 L222.30 234.67 L222.55 237.59 L222.80 240.44 L223.05 242.54 L223.30 244.32 L223.55 245.84 L223.80 247.16 L224.05 248.41 L224.30 249.54 L224.55 250.54 L224.80 251.36 L225.05 252.01 L225.30 252.63 L225.55 253.22 L225.80 253.74 L226.05 254.18 L226.30 254.50 L226.55 254.68 L226.80 254.68 L227.05 254.50 L227.30 254.18 L227.55 253.74 L227.80 253.22 L228.05 252.63 L228.30 252.01 L228.55 251.36 L228.80 250.54 L229.05 249.54 L229.30 248.41 L229.55 247.16 L229.80 245.84 L230.05 244.32 L230.30 242.54 L230.55 240.44 L230.80 237.59 L231.05 234.67 L231.30 231.99 L231.55 228.60 L231.80 224.42 L232.05 220.77 L232.30 217.25 L232.55 213.37 L232.80 207.94 L233.05 200.91 L233.30 192.84 L233.55 185.03 L233.80 179.59 L234.05 175.49 L234.30 171.70 L234.55 167.79 L234.80 164.19 L235.05 160.90 L235.30 157.76 L235.55 154.99 L235.80 152.66 L236.05 150.59 L236.30 148.69 L236.55 146.92 L236.80 145.35 L237.05 144.01 L237.30 142.79 L237.55 141.77 L237.80 141.03 L238.05 140.37 L238.30 139.81 L238.55 139.46 L238.80 139.43 L239.05 139.72 L239.30 140.24 L239.55 140.89 L239.80 141.60 L240.05 142.56 L240.30 143.76 L240.55 145.07 L240.80 146.59 L241.05 148.32 L241.30 150.20 L241.55 152.23 L241.80 154.50 L242.05 157.16 L242.30 160.26 L242.55 163.51 L242.80 167.03 L243.05 170.92 L243.30 174.73 L243.55 178.75 L243.80 183.69 L244.05 191.24 L244.30 199.27 L244.55 206.69 L244.80 212.40 L245.05 216.56 L245.30 220.05 L245.55 223.66 L245.80 227.75 L246.05 231.40 L246.30 234.14 L246.55 236.98 L246.80 239.93 L247.05 242.15 L247.30 243.99 L247.55 245.55 L247.80 246.90 L248.05 248.16 L248.30 249.32 L248.55 250.35 L248.80 251.21 L249.05 251.89 L249.30 252.51 L249.55 253.10 L249.80 253.64 L250.05 254.10 L250.30 254.45 L250.55 254.66 L250.80 254.69 L251.05 254.55 L251.30 254.26 L251.55 253.84 L251.80 253.33 L252.05 252.75 L252.30 252.14 L252.55 251.50 L252.80 250.72 L253.05 249.75 L253.30 248.64 L253.55 247.42 L253.80 246.11 L254.05 244.64 L254.30 242.92 L254.55 240.90 L254.80 238.20 L255.05 235.22 L255.30 232.54 L255.55 229.40 L255.80 225.19 L256.05 221.49 L256.30 217.93 L256.55 214.26 L256.80 209.13 L257.05 202.51 L257.30 194.40 L257.55 186.49 L257.80 180.48 L258.05 176.28 L258.30 172.46 L258.55 168.56 L258.80 164.88 L259.05 161.54 L259.30 158.37 L259.55 155.50 L259.80 153.10 L260.05 150.99 L260.30 149.06 L260.55 147.26 L260.80 145.65 L261.05 144.27 L261.30 143.02 L261.55 141.95 L261.80 141.16 L262.05 140.49 L262.30 139.91 L262.55 139.51 L262.80 139.41 L263.05 139.64 L263.30 140.13 L263.55 140.76 L263.80 141.44 L264.05 142.35 L264.30 143.51 L264.55 144.80 L264.80 146.27 L265.05 147.96 L265.30 149.82 L265.55 151.80 L265.80 154.02 L266.05 156.58 L266.30 159.63 L266.55 162.85 L266.80 166.30 L267.05 170.14 L267.30 173.97 L267.55 177.92 L267.80 182.50 L268.05 189.62 L268.30 197.61 L268.55 205.40 L268.80 211.37 L269.05 215.84 L269.30 219.33 L269.55 222.93 L269.80 226.89 L270.05 230.79 L270.30 233.61 L270.55 236.38 L270.80 239.38 L271.05 241.75 L271.30 243.64 L271.55 245.26 L271.80 246.64 L272.05 247.92 L272.30 249.10 L272.55 250.16 L272.80 251.06 L273.05 251.76 L273.30 252.38 L273.55 252.99 L273.80 253.54 L274.05 254.02 L274.30 254.39 L274.55 254.63 L274.80 254.70 L275.05 254.59 L275.30 254.33 L275.55 253.93 L275.80 253.44 L276.05 252.87 L276.30 252.26 L276.55 251.64 L276.80 250.89 L277.05 249.96 L277.30 248.87 L277.55 247.67 L277.80 246.38 L278.05 244.96 L278.30 243.29 L278.55 241.33 L278.80 238.80 L279.05 235.79 L279.30 233.08 L279.55 230.13 L279.80 226.02 L280.05 222.20 L280.30 218.62 L280.55 215.08 L280.80 210.28 L281.05 204.02 L281.30 195.97 L281.55 188.03 L281.80 181.45 L282.05 177.10 L282.30 173.22 L282.55 169.35 L282.80 165.59 L283.05 162.19 L283.30 158.99 L283.55 156.03 L283.80 153.56 L284.05 151.39 L284.30 149.44 L284.55 147.61 L284.80 145.95 L285.05 144.54 L285.30 143.26 L285.55 142.14 L285.80 141.30 L286.05 140.63 L286.30 140.01 L286.55 139.57 L286.80 139.40 L287.05 139.57 L287.30 140.01 L287.55 140.63 L287.80 141.30 L288.05 142.14 L288.30 143.26 L288.55 144.54 L288.80 145.95 L289.05 147.61 L289.30 149.44 L289.55 151.39 L289.80 153.56 L290.05 156.03 L290.30 158.99 L290.55 162.19 L290.80 165.59 L291.05 169.35 L291.30 173.22 L291.55 177.10 L291.80 181.45 L292.05 188.03 L292.30 195.97 L292.55 204.02 L292.80 210.28 L293.05 215.08 L293.30 218.62 L293.55 222.20 L293.80 226.02 L294.05 230.13 L294.30 233.08 L294.55 235.79 L294.80 238.80 L295.05 241.33 L295.30 243.29 L295.55 244.96 L295.80 246.38 L296.05 247.67 L296.30 248.87 L296.55 249.96 L296.80 250.89 L297.05 251.64 L297.30 252.26 L297.55 252.87 L297.80 253.44 L298.05 253.93 L298.30 254.33 L298.55 254.59 L298.80 254.70 L299.05 254.63 L299.30 254.39 L299.55 254.02 L299.80 253.54 L300.05 252.99 L300.30 252.38 L300.55 251.76 L300.80 251.06 L301.05 250.16 L301.30 249.10 L301.55 247.92 L301.80 246.64 L302.05 245.26 L302.30 243.64 L302.55 241.75 L302.80 239.38 L303.05 236.38 L303.30 233.61 L303.55 230.79 L303.80 226.89 L304.05 222.93 L304.30 219.33 L304.55 215.84 L304.80 211.37 L305.05 205.40 L305.30 197.61 L305.55 189.62 L305.80 182.50 L306.05 177.92 L306.30 173.97 L306.55 170.14 L306.80 166.30 L307.05 162.85 L307.30 159.63 L307.55 156.58 L307.80 154.02 L308.05 151.80 L308.30 149.82 L308.55 147.96 L308.80 146.27 L309.05 144.80 L309.30 143.51 L309.55 142.35 L309.80 141.44 L310.05 140.76 L310.30 140.13 L310.55 139.64 L310.80 139.41 L311.05 139.51 L311.30 139.91 L311.55 140.49 L311.80 141.16 L312.05 141.95 L312.30 143.02 L312.55 144.27 L312.80 145.65 L313.05 147.26 L313.30 149.06 L313.55 150.99 L313.80 153.10 L314.05 155.50 L314.30 158.37 L314.55 161.54 L314.80 164.88 L315.05 168.56 L315.30 172.46 L315.55 176.28 L315.80 180.48 L316.05 186.49 L316.30 194.40 L316.55 202.51 L316.80 209.13 L317.05 214.26 L317.30 217.93 L317.55 221.49 L317.80 225.19 L318.05 229.40 L318.30 232.54 L318.55 235.22 L318.80 238.20 L319.05 240.90 L319.30 242.92 L319.55 244.64 L319.80 246.11 L320.05 247.42 L320.30 248.64 L320.55 249.75 L320.80 250.72 L321.05 251.50 L321.30 252.14 L321.55 252.75 L321.80 253.33 L322.05 253.84 L322.30 254.26 L322.55 254.55 L322.80 254.69 L323.05 254.66 L323.30 254.45 L323.55 254.10 L323.80 253.64 L324.05 253.10 L324.30 252.51 L324.55 251.89 L324.80 251.21 L325.05 250.35 L325.30 249.32 L325.55 248.16 L325.80 246.90 L326.05 245.55 L326.30 243.99 L326.55 242.15 L326.80 239.93 L327.05 236.98 L327.30 234.14 L327.55 231.40 L327.80 227.75 L328.05 223.66 L328.30 220.05 L328.55 216.56 L328.80 212.40 L329.05 206.69 L329.30 199.27 L329.55 191.24 L329.80 183.69 L330.05 178.75 L330.30 174.73 L330.55 170.92 L330.80 167.03 L331.05 163.51 L331.30 160.26 L331.55 157.16 L331.80 154.50 L332.05 152.23 L332.30 150.20 L332.55 148.32 L332.80 146.59 L333.05 145.07 L333.30 143.76 L333.55 142.56 L333.80 141.60 L334.05 140.89 L334.30 140.24 L334.55 139.72 L334.80 139.43 L335.05 139.46 L335.30 139.81 L335.55 140.37 L335.80 141.03 L336.05 141.77 L336.30 142.79 L336.55 144.01 L336.80 145.35 L337.05 146.92 L337.30 148.69 L337.55 150.59 L337.80 152.66 L338.05 154.99 L338.30 157.76 L338.55 160.90 L338.80 164.19 L339.05 167.79 L339.30 171.70 L339.55 175.49 L339.80 179.59 L340.05 185.03 L340.30 192.84 L340.55 200.91 L340.80 207.94 L341.05 213.37 L341.30 217.25 L341.55 220.77 L341.80 224.42 L342.05 228.60 L342.30 231.99 L342.55 234.67 L342.80 237.59 L343.05 240.44 L343.30 242.54 L343.55 244.32 L343.80 245.84 L344.05 247.16 L344.30 248.41 L344.55 249.54 L344.80 250.54 L345.05 251.36 L345.30 252.01 L345.55 252.63 L345.80 253.22 L346.05 253.74 L346.30 254.18 L346.55 254.50 L346.80 254.68 L347.05 254.68 L347.30 254.50 L347.55 254.18 L347.80 253.74 L348.05 253.22 L348.30 252.63 L348.55 252.01 L348.80 251.36 L349.05 250.54 L349.30 249.54 L349.55 248.41 L349.80 247.16 L350.05 245.84 L350.30 244.32 L350.55 242.54 L350.80 240.44 L351.05 237.59 L351.30 234.67 L351.55 231.99 L351.80 228.60 L352.05 224.42 L352.30 220.77 L352.55 217.25 L352.80 213.37 L353.05 207.94 L353.30 200.91 L353.55 192.84 L353.80 185.03 L354.05 179.59 L354.30 175.49 L354.55 171.70 L354.80 167.79 L355.05 164.19 L355.30 160.90 L355.55 157.76 L355.80 154.99 L356.05 152.66 L356.30 150.59 L356.55 148.69 L356.80 146.92 L357.05 145.35 L357.30 144.01 L357.55 142.79 L357.80 141.77 L358.05 141.03 L358.30 140.37 L358.55 139.81 L358.80 139.46 L359.05 139.43 L359.30 139.72 L359.55 140.24 L359.80 140.89 L360.05 141.60 L360.30 142.56 L360.55 143.76 L360.80 145.07 L361.05 146.59 L361.30 148.32 L361.55 150.20 L361.80 152.23 L362.05 154.50 L362.30 157.16 L362.55 160.26 L362.80 163.51 L363.05 167.03 L363.30 170.92 L363.55 174.73 L363.80 178.75 L364.05 183.69 L364.30 191.24 L364.55 199.27 L364.80 206.69 L365.05 212.40 L365.30 216.56 L365.55 220.05 L365.80 223.66 L366.05 227.75 L366.30 231.40 L366.55 234.14 L366.80 236.98 L367.05 239.93 L367.30 242.15 L367.55 243.99 L367.80 245.55 L368.05 246.90 L368.30 248.16 L368.55 249.32 L368.80 250.35 L369.05 251.21 L369.30 251.89 L369.55 252.51 L369.80 253.10 L370.05 253.64 L370.30 254.10 L370.55 254.45 L370.80 254.66 L371.05 254.69 L371.30 254.55 L371.55 254.26 L371.80 253.84 L372.05 253.33 L372.30 252.75 L372.55 252.14 L372.80 251.50 L373.05 250.72 L373.30 249.75 L373.55 248.64 L373.80 247.42 L374.05 246.11 L374.30 244.64 L374.55 242.92 L374.80 240.90 L375.05 238.20 L375.30 235.22 L375.55 232.54 L375.80 229.40 L376.05 225.19 L376.30 221.49 L376.55 217.93 L376.80 214.26 L377.05 209.13 L377.30 202.51 L377.55 194.40 L377.80 186.49 L378.05 180.48 L378.30 176.28 L378.55 172.46 L378.80 168.56 L379.05 164.88 L379.30 161.54 L379.55 158.37 L379.80 155.50 L380.05 153.10 L380.30 150.99 L380.55 149.06 L380.80 147.26 L381.05 145.65 L381.30 144.27 L381.55 143.02 L381.80 141.95 L382.05 141.16 L382.30 140.49 L382.55 139.91 L382.80 139.51 L383.05 139.41 L383.30 139.64 L383.55 140.13 L383.80 140.76 L384.05 141.44 L384.30 142.35 L384.55 143.51 L384.80 144.80 L385.05 146.27 L385.30 147.96 L385.55 149.82 L385.80 151.80 L386.05 154.02 L386.30 156.58 L386.55 159.63 L386.80 162.85 L387.05 166.30 L387.30 170.14 L387.55 173.97 L387.80 177.92 L388.05 182.50 L388.30 189.62 L388.55 197.61 L388.80 205.40 L389.05 211.37 L389.30 215.84 L389.55 219.33 L389.80 222.93 L390.05 226.89 L390.30 230.79 L390.55 233.61 L390.80 236.38 L391.05 239.38 L391.30 241.75 L391.55 243.64 L391.80 245.26 L392.05 246.64 L392.30 247.92 L392.55 249.10 L392.80 250.16 L393.05 251.06 L393.30 251.76 L393.55 252.38 L393.80 252.99 L394.05 253.54 L394.30 254.02 L394.55 254.39 L394.80 254.63 L395.05 254.70 L395.30 254.59 L395.55 254.33 L395.80 253.93 L396.05 253.44 L396.30 252.87 L396.55 252.26 L396.80 251.64 L397.05 250.89 L397.30 249.96 L397.55 248.87 L397.80 247.67 L398.05 246.38 L398.30 244.96 L398.55 243.29 L398.80 241.33 L399.05 238.80 L399.30 235.79 L399.55 233.08 L399.80 230.13 L400.05 226.02 L400.30 222.20 L400.55 218.62 L400.80 215.08 L401.05 210.28 L401.30 204.02 L401.55 195.97 L401.80 188.03 L402.05 181.45 L402.30 177.10 L402.55 173.22 L402.80 169.35 L403.05 165.59 L403.30 162.19 L403.55 158.99 L403.80 156.03 L404.05 153.56 L404.30 151.39 L404.55 149.44 L404.80 147.61 L405.05 145.95 L405.30 144.54 L405.55 143.26 L405.80 142.14 L406.05 141.30 L406.30 140.63 L406.55 140.01 L406.80 139.57 L407.05 139.40 L407.30 139.57 L407.55 140.01 L407.80 140.63 L408.05 141.30 L408.30 142.14 L408.55 143.26 L408.80 144.54 L409.05 145.95 L409.30 147.61 L409.55 149.44 L409.80 151.39 L410.05 153.56 L410.30 156.03 L410.55 158.99 L410.80 162.19 L411.05 165.59 L411.30 169.35 L411.55 173.22 L411.80 177.10 L412.05 181.45 L412.30 188.03 L412.55 195.97 L412.80 204.02 L413.05 210.28 L413.30 215.08 L413.55 218.62 L413.80 222.20 L414.05 226.02 L414.30 230.13 L414.55 233.08 L414.80 235.79 L415.05 238.80 L415.30 241.33 L415.55 243.29 L415.80 244.96 L416.05 246.38 L416.30 247.67 L416.55 248.87 L416.80 249.96 L417.05 250.89 L417.30 251.64 L417.55 252.26 L417.80 252.87 L418.05 253.44 L418.30 253.93 L418.55 254.33 L418.80 254.59 L419.05 254.70 L419.30 254.63 L419.55 254.39 L419.80 254.02 L420.05 253.54 L420.30 252.99 L420.55 252.38 L420.80 251.76 L421.05 251.06 L421.30 250.16 L421.55 249.10 L421.80 247.92 L422.05 246.64 L422.30 245.26 L422.55 243.64 L422.80 241.75 L423.05 239.38 L423.30 236.38 L423.55 233.61 L423.80 230.79 L424.05 226.89 L424.30 222.93 L424.55 219.33 L424.80 215.84 L425.05 211.37 L425.30 205.40 L425.55 197.61 L425.80 189.62 L426.05 182.50 L426.30 177.92 L426.55 173.97 L426.80 170.14 L427.05 166.30 L427.30 162.85 L427.55 159.63 L427.80 156.58 L428.05 154.02 L428.30 151.80 L428.55 149.82 L428.80 147.96 L429.05 146.27 L429.30 144.80 L429.55 143.51 L429.80 142.35 L430.05 141.44 L430.30 140.76 L430.55 140.13 L430.80 139.64 L431.05 139.41 L431.30 139.51 L431.55 139.91 L431.80 140.49 L432.05 141.16 L432.30 141.95 L432.55 143.02 L432.80 144.27 L433.05 145.65 L433.30 147.26 L433.55 149.06 L433.80 150.99 L434.05 153.10 L434.30 155.50 L434.55 158.37 L434.80 161.54 L435.05 164.88 L435.30 168.56 L435.55 172.46 L435.80 176.28 L436.05 180.48 L436.30 186.49 L436.55 194.40 L436.80 202.51 L437.05 209.13 L437.30 214.26 L437.55 217.93 L437.80 221.49 L438.05 225.19 L438.30 229.40 L438.55 232.54 L438.80 235.22 L439.05 238.20 L439.30 240.90 L439.55 242.92 L439.80 244.64 L440.05 246.11 L440.30 247.42 L440.55 248.64 L440.80 249.75 L441.05 250.72 L441.30 251.50 L441.55 252.14 L441.80 252.75 L442.05 253.33 L442.30 253.84 L442.55 254.26 L442.80 254.55 L443.05 254.69 L443.30 254.66 L443.55 254.45 L443.80 254.10 L444.05 253.64 L444.30 253.10 L444.55 252.51 L444.80 251.89 L445.05 251.21 L445.30 250.35 L445.55 249.32 L445.80 248.16 L446.05 246.90 L446.30 245.55 L446.55 243.99 L446.80 242.15 L447.05 239.93 L447.30 236.98 L447.55 234.14 L447.80 231.40 L448.05 227.75 L448.30 223.66 L448.55 220.05 L448.80 216.56 L449.05 212.40 L449.30 206.69 L449.55 199.27 L449.80 191.24 L450.05 183.69 L450.30 178.75 L450.55 174.73 L450.80 170.92 L451.05 167.03 L451.30 163.51 L451.55 160.26 L451.80 157.16 L452.05 154.50 L452.30 152.23 L452.55 150.20 L452.80 148.32 L453.05 146.59 L453.30 145.07 L453.55 143.76 L453.80 142.56 L454.05 141.60 L454.30 140.89 L454.55 140.24 L454.80 139.72 L455.05 139.43 L455.30 139.46 L455.55 139.81 L455.80 140.37 L456.05 141.03 L456.30 141.77 L456.55 142.79 L456.80 144.01 L457.05 145.35 L457.30 146.92 L457.55 148.69 L457.80 150.59 L458.05 152.66 L458.30 154.99 L458.55 157.76 L458.80 160.90 L459.05 164.19 L459.30 167.79 L459.55 171.70 L459.80 175.49 L460.05 179.59 L460.30 185.03 L460.55 192.84 L460.80 200.91 L461.05 207.94 L461.30 213.37 L461.55 217.25 L461.80 220.77 L462.05 224.42 L462.30 228.60 L462.55 231.99 L462.80 234.67 L463.05 237.59 L463.30 240.44 L463.55 242.54 L463.80 244.32 L464.05 245.84 L464.30 247.16 L464.55 248.41 L464.80 249.54 L465.05 250.54 L465.30 251.36 L465.55 252.01 L465.80 252.63 L466.05 253.22 L466.30 253.74 L466.55 254.18 L466.80 254.50 L467.05 254.68 L467.30 254.68 L467.55 254.50 L467.80 254.18 L468.05 253.74 L468.30 253.22 L468.55 252.63 L468.80 252.01 L469.05 251.36 L469.30 250.54 L469.55 249.54 L469.80 248.41 L470.05 247.16 L470.30 245.84 L470.55 244.32 L470.80 242.54 L471.05 240.44 L471.30 237.59 L471.55 234.67 L471.80 231.99 L472.05 228.60 L472.30 224.42 L472.55 220.77 L472.80 217.25 L473.05 213.37 L473.30 207.94 L473.55 200.91 L473.80 192.84 L474.05 185.03 L474.30 179.59 L474.55 175.49 L474.80 171.70 L475.05 167.79 L475.30 164.19 L475.55 160.90 L475.80 157.76 L476.05 154.99 L476.30 152.66 L476.55 150.59 L476.80 148.69 L477.05 146.92 L477.30 145.35 L477.55 144.01 L477.80 142.79 L478.05 141.77 L478.30 141.03 L478.55 140.37 L478.80 139.81 L479.05 139.46 L479.30 139.43 L479.55 139.72 L479.80 140.24 L480.05 140.89 L480.30 141.60 L480.55 142.56 L480.80 143.76 L481.05 145.07 L481.30 146.59 L481.55 148.32 L481.80 150.20 L482.05 152.23 L482.30 154.50 L482.55 157.16 L482.80 160.26 L483.05 163.51 L483.30 167.03 L483.55 170.92 L483.80 174.73 L484.05 178.75 L484.30 183.69 L484.55 191.24 L484.80 199.27 L485.05 206.69 L485.30 212.40 L485.55 216.56 L485.80 220.05 L486.05 223.66 L486.30 227.75 L486.55 231.40 L486.80 234.14 L487.05 236.98 L487.30 239.93 L487.55 242.15 L487.80 243.99 L488.05 245.55 L488.30 246.90 L488.55 248.16 L488.80 249.32 L489.05 250.35 L489.30 251.21 L489.55 251.89 L489.80 252.51 L490.05 253.10 L490.30 253.64 L490.55 254.10 L490.80 254.45 L491.05 254.66 L491.30 254.69 L491.55 254.55 L491.80 254.26 L492.05 253.84 L492.30 253.33 L492.55 252.75 L492.80 252.14 L493.05 251.50 L493.30 250.72 L493.55 249.75 L493.80 248.64 L494.05 247.42 L494.30 246.11 L494.55 244.64 L494.80 242.92 L495.05 240.90 L495.30 238.20 L495.55 235.22 L495.80 232.54 L496.05 229.40 L496.30 225.19 L496.55 221.49 L496.80 217.93 L497.05 214.26 L497.30 209.13 L497.55 202.51 L497.80 194.40 L498.05 186.49 L498.30 180.48 L498.55 176.28 L498.80 172.46 L499.05 168.56 L499.30 164.88 L499.55 161.54 L499.80 158.37 L500.05 155.50 L500.30 153.10 L500.55 150.99 L500.80 149.06 L501.05 147.26 L501.30 145.65 L501.55 144.27 L501.80 143.02 L502.05 141.95 L502.30 141.16 L502.55 140.49 L502.80 139.91 L503.05 139.51 L503.30 139.41 L503.55 139.64 L503.80 140.13 L504.05 140.76 L504.30 141.44 L504.55 142.35 L504.80 143.51 L505.05 144.80 L505.30 146.27 L505.55 147.96 L505.80 149.82 L506.05 151.80 L506.30 154.02 L506.55 156.58 L506.80 159.63 L507.05 162.85 L507.30 166.30 L507.55 170.14 L507.80 173.97 L508.05 177.92 L508.30 182.50 L508.55 189.62 L508.80 197.61 L509.05 205.40 L509.30 211.37 L509.55 215.84 L509.80 219.33 L510.05 222.93 L510.30 226.89 L510.55 230.79 L510.80 233.61 L511.05 236.38 L511.30 239.38 L511.55 241.75 L511.80 243.64 L512.05 245.26 L512.30 246.64 L512.55 247.92 L512.80 249.10 L513.05 250.16 L513.30 251.06 L513.55 251.76 L513.80 252.38 L514.05 252.99 L514.30 253.54 L514.55 254.02 L514.80 254.39 L515.05 254.63 L515.30 254.70 L515.55 254.59 L515.80 254.33 L516.05 253.93 L516.30 253.44 L516.55 252.87 L516.80 252.26 L517.05 251.64 L517.30 250.89 L517.55 249.96 L517.80 248.87 L518.05 247.67 L518.30 246.38 L518.55 244.96 L518.80 243.29 L519.05 241.33 L519.30 238.80" stroke="#2C6CA6"/>
</g>
<path d="M38.3 33V398.2M519.3 33V398.2" stroke="#0a0a0a" stroke-width="1.6" opacity="0.45" fill="none"/>
<rect x="423.7" y="43.0" width="80.300" height="90.5" fill="#000"/>
<rect x="419.2" y="38.5" width="80.300" height="90.5" fill="#fff" stroke="#8a8a8a" stroke-width="0.7"/>
<line x1="422" x2="472" y1="53.6" y2="53.6" stroke="#F0B73A" stroke-width="1.7"/>
<text x="477.3" y="60.6" font-size="19.8" letter-spacing="0.7" fill="#111">//</text>
<line x1="422" x2="472" y1="83.6" y2="83.6" stroke="#D11F30" stroke-width="1.7"/>
<text x="476.8" y="91.1" font-size="19.5" fill="#111">⊥</text>
<line x1="422" x2="472" y1="113.6" y2="113.6" stroke="#2C6CA6" stroke-width="1.7"/>
<text transform="translate(477.4 121.3) scale(1.12 1)" font-size="19.6" fill="#111">σ</text><text x="491.4" y="111.8" font-size="13.5" fill="#111">-</text>
<text x="40.3" y="21.3" font-size="29" letter-spacing="0.5" fill="#111">(a)</text>
<text x="228.2" y="21.3" font-size="29" word-spacing="1.7" fill="#111">32 GHz</text>
<text transform="translate(21.4 405.3) rotate(-90)" font-size="29" letter-spacing="0.07" fill="#111">Probe Absorption (arbit. unit)</text>
<clipPath id="clipb"><rect x="37.4" y="511.5" width="482.799" height="364.799"/></clipPath>
<rect x="38.3" y="511.5" width="480.999" height="364.799" fill="none" stroke="#0a0a0a" stroke-width="1.6"/>
<line x1="38.3" x2="44.8" y1="556.1" y2="556.1" stroke="#0a0a0a" stroke-width="1.5"/>
<line x1="38.3" x2="44.8" y1="601.9" y2="601.9" stroke="#0a0a0a" stroke-width="1.5"/>
<line x1="38.3" x2="44.8" y1="647.7" y2="647.7" stroke="#0a0a0a" stroke-width="1.5"/>
<line x1="38.3" x2="44.8" y1="693.5" y2="693.5" stroke="#0a0a0a" stroke-width="1.5"/>
<line x1="38.3" x2="44.8" y1="739.3" y2="739.3" stroke="#0a0a0a" stroke-width="1.5"/>
<line x1="38.3" x2="44.8" y1="785.1" y2="785.1" stroke="#0a0a0a" stroke-width="1.5"/>
<line x1="38.3" x2="44.8" y1="830.9" y2="830.9" stroke="#0a0a0a" stroke-width="1.5"/>
<line x1="38.3" x2="42.099" y1="533.2" y2="533.2" stroke="#0a0a0a" stroke-width="1.5"/>
<line x1="38.3" x2="42.099" y1="579.0" y2="579.0" stroke="#0a0a0a" stroke-width="1.5"/>
<line x1="38.3" x2="42.099" y1="624.800" y2="624.800" stroke="#0a0a0a" stroke-width="1.5"/>
<line x1="38.3" x2="42.099" y1="670.6" y2="670.6" stroke="#0a0a0a" stroke-width="1.5"/>
<line x1="38.3" x2="42.099" y1="716.400" y2="716.400" stroke="#0a0a0a" stroke-width="1.5"/>
<line x1="38.3" x2="42.099" y1="762.2" y2="762.2" stroke="#0a0a0a" stroke-width="1.5"/>
<line x1="38.3" x2="42.099" y1="808.0" y2="808.0" stroke="#0a0a0a" stroke-width="1.5"/>
<line x1="38.3" x2="42.099" y1="853.8" y2="853.8" stroke="#0a0a0a" stroke-width="1.5"/>
<line x1="86.299" x2="86.299" y1="876.3" y2="870.099" stroke="#0a0a0a" stroke-width="1.5"/>
<text x="85.999" y="899.0" font-size="19.1" text-anchor="middle" fill="#111">-4</text>
<line x1="134.399" x2="134.399" y1="876.3" y2="873.4" stroke="#0a0a0a" stroke-width="1.5"/>
<line x1="182.5" x2="182.5" y1="876.3" y2="870.099" stroke="#0a0a0a" stroke-width="1.5"/>
<text x="182.2" y="899.0" font-size="19.1" text-anchor="middle" fill="#111">-2</text>
<line x1="230.6" x2="230.6" y1="876.3" y2="873.4" stroke="#0a0a0a" stroke-width="1.5"/>
<line x1="278.7" x2="278.7" y1="876.3" y2="870.099" stroke="#0a0a0a" stroke-width="1.5"/>
<text x="278.7" y="899.0" font-size="19.1" text-anchor="middle" fill="#111">0</text>
<line x1="326.8" x2="326.8" y1="876.3" y2="873.4" stroke="#0a0a0a" stroke-width="1.5"/>
<line x1="374.9" x2="374.9" y1="876.3" y2="870.099" stroke="#0a0a0a" stroke-width="1.5"/>
<text x="374.9" y="899.0" font-size="19.1" text-anchor="middle" fill="#111">2</text>
<line x1="423.0" x2="423.0" y1="876.3" y2="873.4" stroke="#0a0a0a" stroke-width="1.5"/>
<line x1="471.1" x2="471.1" y1="876.3" y2="870.099" stroke="#0a0a0a" stroke-width="1.5"/>
<text x="471.1" y="899.0" font-size="19.1" text-anchor="middle" fill="#111">4</text>
<g clip-path="url(#clipb)" fill="none" stroke-width="1.7" stroke-linejoin="round">
<path d="M38.35 768.43 L38.41 767.78 L38.47 767.03 L38.53 766.17 L38.58 765.16 L38.63 764.00 L38.67 762.64 L38.71 761.09 L38.74 759.38 L38.77 757.56 L38.80 755.67 L38.83 753.76 L38.86 751.85 L38.89 750.00 L38.93 748.17 L38.96 746.32 L38.99 744.45 L39.03 742.56 L39.06 740.67 L39.10 738.77 L39.13 736.88 L39.16 735.00 L39.20 733.16 L39.23 731.37 L39.26 729.59 L39.30 727.81 L39.33 725.99 L39.37 724.10 L39.41 722.11 L39.45 720.00 L39.49 717.71 L39.53 715.23 L39.58 712.65 L39.62 710.00 L39.67 707.35 L39.72 704.77 L39.77 702.29 L39.82 700.00 L39.88 697.89 L39.94 695.90 L40.00 694.01 L40.06 692.19 L40.13 690.41 L40.19 688.63 L40.26 686.84 L40.33 685.00 L40.41 683.12 L40.48 681.25 L40.56 679.38 L40.64 677.50 L40.72 675.62 L40.80 673.75 L40.88 671.88 L40.96 670.00 L41.05 668.12 L41.13 666.25 L41.22 664.38 L41.30 662.50 L41.39 660.62 L41.48 658.75 L41.57 656.88 L41.66 655.00 L41.75 653.12 L41.84 651.25 L41.93 649.38 L42.03 647.50 L42.12 645.62 L42.21 643.75 L42.31 641.88 L42.40 640.00 L42.50 638.12 L42.59 636.25 L42.69 634.38 L42.78 632.50 L42.88 630.62 L42.98 628.75 L43.08 626.88 L43.18 625.00 L43.28 623.09 L43.39 621.13 L43.51 619.16 L43.62 617.19 L43.73 615.26 L43.84 613.40 L43.94 611.64 L44.04 610.00 L44.13 608.50 L44.21 607.10 L44.29 605.80 L44.37 604.56 L44.44 603.38 L44.51 602.24 L44.58 601.12 L44.66 600.00 L44.72 598.92 L44.79 597.92 L44.85 596.96 L44.91 596.03 L44.97 595.10 L45.04 594.13 L45.10 593.11 L45.17 592.00 L45.25 590.76 L45.34 589.40 L45.42 587.96 L45.51 586.49 L45.60 585.06 L45.69 583.72 L45.77 582.51 L45.85 581.50 L45.92 580.64 L46.00 579.87 L46.07 579.20 L46.13 578.63 L46.20 578.18 L46.27 577.85 L46.33 577.65 L46.40 577.60 L46.46 577.71 L46.51 577.99 L46.55 578.41 L46.60 578.94 L46.65 579.58 L46.73 580.28 L46.82 581.03 L46.95 581.80 L47.12 582.64 L47.34 583.60 L47.59 584.63 L47.85 585.72 L48.11 586.84 L48.35 587.94 L48.56 589.01 L48.71 590.00 L48.81 590.89 L48.87 591.69 L48.89 592.45 L48.90 593.20 L48.89 593.99 L48.89 594.86 L48.89 595.85 L48.91 597.00 L48.94 598.29 L48.97 599.66 L49.00 601.13 L49.03 602.69 L49.07 604.35 L49.11 606.12 L49.16 608.00 L49.21 610.00 L49.27 612.17 L49.34 614.51 L49.41 616.99 L49.49 619.56 L49.57 622.19 L49.65 624.84 L49.72 627.45 L49.79 630.00 L49.86 632.50 L49.93 635.00 L50.00 637.50 L50.07 640.00 L50.13 642.50 L50.20 645.00 L50.27 647.50 L50.33 650.00 L50.40 652.50 L50.47 655.00 L50.54 657.50 L50.61 660.00 L50.68 662.50 L50.75 665.00 L50.82 667.50 L50.89 670.00 L50.96 672.57 L51.03 675.23 L51.11 677.94 L51.18 680.62 L51.26 683.23 L51.33 685.70 L51.39 687.98 L51.45 690.00 L51.49 691.69 L51.51 693.09 L51.53 694.26 L51.54 695.31 L51.56 696.32 L51.59 697.38 L51.65 698.58 L51.73 700.00 L51.84 701.64 L51.97 703.40 L52.13 705.26 L52.29 707.19 L52.47 709.16 L52.64 711.13 L52.81 713.09 L52.97 715.00 L53.12 716.88 L53.27 718.75 L53.41 720.62 L53.56 722.50 L53.70 724.38 L53.84 726.25 L53.97 728.12 L54.09 730.00 L54.21 731.89 L54.31 733.80 L54.41 735.71 L54.51 737.62 L54.59 739.52 L54.68 741.39 L54.77 743.22 L54.85 745.00 L54.93 746.75 L55.01 748.50 L55.08 750.22 L55.15 751.91 L55.21 753.54 L55.28 755.11 L55.36 756.60 L55.44 758.00 L55.53 759.34 L55.64 760.64 L55.75 761.89 L55.86 763.06 L55.96 764.13 L56.06 765.08 L56.14 765.88 L56.20 766.50 L56.26 766.72 L56.34 767.05 L56.43 767.45 L56.54 767.88 L56.65 768.28 L56.77 768.63 L56.88 768.89 L57.00 769.00 L57.12 768.96 L57.24 768.81 L57.36 768.57 L57.49 768.26 L57.62 767.93 L57.75 767.58 L57.87 767.27 L58.00 767.00 L58.13 766.75 L58.25 766.49 L58.38 766.21 L58.51 765.95 L58.63 765.71 L58.76 765.51 L58.88 765.37 L59.00 765.30 L59.12 765.29 L59.23 765.34 L59.34 765.42 L59.46 765.56 L59.57 765.73 L59.68 765.95 L59.79 766.21 L59.90 766.50 L60.01 766.87 L60.13 767.33 L60.24 767.85 L60.36 768.40 L60.47 768.95 L60.58 769.47 L60.69 769.93 L60.80 770.30 L60.91 770.59 L61.01 770.85 L61.12 771.06 L61.22 771.23 L61.32 771.36 L61.42 771.45 L61.51 771.50 L61.60 771.50 L61.69 771.47 L61.77 771.42 L61.84 771.33 L61.92 771.20 L61.99 771.01 L62.06 770.75 L62.13 770.42 L62.20 770.00 L62.27 769.52 L62.33 769.00 L62.40 768.43 L62.46 767.78 L62.52 767.03 L62.58 766.17 L62.63 765.16 L62.68 764.00 L62.72 762.64 L62.76 761.09 L62.79 759.38 L62.82 757.56 L62.85 755.67 L62.88 753.76 L62.91 751.85 L62.94 750.00 L62.98 748.17 L63.01 746.32 L63.04 744.45 L63.08 742.56 L63.11 740.67 L63.15 738.77 L63.18 736.88 L63.21 735.00 L63.25 733.16 L63.28 731.37 L63.31 729.59 L63.35 727.81 L63.38 725.99 L63.42 724.10 L63.46 722.11 L63.50 720.00 L63.54 717.71 L63.58 715.23 L63.63 712.65 L63.67 710.00 L63.72 707.35 L63.77 704.77 L63.82 702.29 L63.87 700.00 L63.93 697.89 L63.99 695.90 L64.05 694.01 L64.11 692.19 L64.18 690.41 L64.24 688.63 L64.31 686.84 L64.38 685.00 L64.46 683.12 L64.53 681.25 L64.61 679.38 L64.69 677.50 L64.77 675.62 L64.85 673.75 L64.93 671.88 L65.01 670.00 L65.10 668.12 L65.18 666.25 L65.27 664.38 L65.35 662.50 L65.44 660.62 L65.53 658.75 L65.62 656.88 L65.71 655.00 L65.80 653.12 L65.89 651.25 L65.98 649.38 L66.08 647.50 L66.17 645.62 L66.26 643.75 L66.36 641.88 L66.45 640.00 L66.55 638.12 L66.64 636.25 L66.74 634.38 L66.83 632.50 L66.93 630.62 L67.03 628.75 L67.13 626.88 L67.23 625.00 L67.33 623.09 L67.44 621.13 L67.56 619.16 L67.67 617.19 L67.78 615.26 L67.89 613.40 L67.99 611.64 L68.09 610.00 L68.18 608.50 L68.26 607.10 L68.34 605.80 L68.42 604.56 L68.49 603.38 L68.56 602.24 L68.63 601.12 L68.71 600.00 L68.77 598.92 L68.84 597.92 L68.90 596.96 L68.96 596.03 L69.02 595.10 L69.09 594.13 L69.15 593.11 L69.22 592.00 L69.30 590.76 L69.39 589.40 L69.47 587.96 L69.56 586.49 L69.65 585.06 L69.74 583.72 L69.82 582.51 L69.90 581.50 L69.97 580.64 L70.05 579.87 L70.12 579.20 L70.18 578.63 L70.25 578.18 L70.32 577.85 L70.38 577.65 L70.45 577.60 L70.51 577.71 L70.56 577.99 L70.60 578.41 L70.65 578.94 L70.70 579.58 L70.78 580.28 L70.87 581.03 L71.00 581.80 L71.17 582.64 L71.39 583.60 L71.64 584.63 L71.90 585.72 L72.16 586.84 L72.40 587.94 L72.61 589.01 L72.76 590.00 L72.86 590.89 L72.92 591.69 L72.94 592.45 L72.95 593.20 L72.94 593.99 L72.94 594.86 L72.94 595.85 L72.96 597.00 L72.99 598.29 L73.02 599.66 L73.05 601.13 L73.08 602.69 L73.12 604.35 L73.16 606.12 L73.21 608.00 L73.26 610.00 L73.32 612.17 L73.39 614.51 L73.46 616.99 L73.54 619.56 L73.62 622.19 L73.70 624.84 L73.77 627.45 L73.84 630.00 L73.91 632.50 L73.98 635.00 L74.05 637.50 L74.12 640.00 L74.18 642.50 L74.25 645.00 L74.32 647.50 L74.38 650.00 L74.45 652.50 L74.52 655.00 L74.59 657.50 L74.66 660.00 L74.73 662.50 L74.80 665.00 L74.87 667.50 L74.94 670.00 L75.01 672.57 L75.08 675.23 L75.16 677.94 L75.23 680.62 L75.31 683.23 L75.38 685.70 L75.44 687.98 L75.50 690.00 L75.54 691.69 L75.56 693.09 L75.58 694.26 L75.59 695.31 L75.61 696.32 L75.64 697.38 L75.70 698.58 L75.78 700.00 L75.89 701.64 L76.02 703.40 L76.18 705.26 L76.34 707.19 L76.52 709.16 L76.69 711.13 L76.86 713.09 L77.02 715.00 L77.17 716.88 L77.32 718.75 L77.46 720.62 L77.61 722.50 L77.75 724.38 L77.89 726.25 L78.02 728.12 L78.14 730.00 L78.26 731.89 L78.36 733.80 L78.46 735.71 L78.56 737.62 L78.64 739.52 L78.73 741.39 L78.82 743.22 L78.90 745.00 L78.98 746.75 L79.06 748.50 L79.13 750.22 L79.20 751.91 L79.26 753.54 L79.33 755.11 L79.41 756.60 L79.49 758.00 L79.58 759.34 L79.69 760.64 L79.80 761.89 L79.91 763.06 L80.01 764.13 L80.11 765.08 L80.19 765.88 L80.25 766.50 L80.31 766.72 L80.39 767.05 L80.48 767.45 L80.59 767.88 L80.70 768.28 L80.82 768.63 L80.93 768.89 L81.05 769.00 L81.17 768.96 L81.29 768.81 L81.41 768.57 L81.54 768.26 L81.67 767.93 L81.80 767.58 L81.92 767.27 L82.05 767.00 L82.18 766.75 L82.30 766.49 L82.43 766.21 L82.56 765.95 L82.68 765.71 L82.81 765.51 L82.93 765.37 L83.05 765.30 L83.17 765.29 L83.28 765.34 L83.39 765.42 L83.51 765.56 L83.62 765.73 L83.73 765.95 L83.84 766.21 L83.95 766.50 L84.06 766.87 L84.18 767.33 L84.29 767.85 L84.41 768.40 L84.52 768.95 L84.63 769.47 L84.74 769.93 L84.85 770.30 L84.96 770.59 L85.06 770.85 L85.17 771.06 L85.27 771.23 L85.37 771.36 L85.47 771.45 L85.56 771.50 L85.65 771.50 L85.74 771.47 L85.82 771.42 L85.89 771.33 L85.97 771.20 L86.04 771.01 L86.11 770.75 L86.18 770.42 L86.25 770.00 L86.32 769.52 L86.38 769.00 L86.45 768.43 L86.51 767.78 L86.57 767.03 L86.63 766.17 L86.68 765.16 L86.73 764.00 L86.77 762.64 L86.81 761.09 L86.84 759.38 L86.87 757.56 L86.90 755.67 L86.93 753.76 L86.96 751.85 L86.99 750.00 L87.03 748.17 L87.06 746.32 L87.09 744.45 L87.13 742.56 L87.16 740.67 L87.20 738.77 L87.23 736.88 L87.26 735.00 L87.30 733.16 L87.33 731.37 L87.36 729.59 L87.40 727.81 L87.43 725.99 L87.47 724.10 L87.51 722.11 L87.55 720.00 L87.59 717.71 L87.63 715.23 L87.68 712.65 L87.72 710.00 L87.77 707.35 L87.82 704.77 L87.87 702.29 L87.92 700.00 L87.98 697.89 L88.04 695.90 L88.10 694.01 L88.16 692.19 L88.23 690.41 L88.29 688.63 L88.36 686.84 L88.43 685.00 L88.51 683.12 L88.58 681.25 L88.66 679.38 L88.74 677.50 L88.82 675.62 L88.90 673.75 L88.98 671.88 L89.06 670.00 L89.15 668.12 L89.23 666.25 L89.32 664.38 L89.40 662.50 L89.49 660.62 L89.58 658.75 L89.67 656.88 L89.76 655.00 L89.85 653.12 L89.94 651.25 L90.03 649.38 L90.13 647.50 L90.22 645.62 L90.31 643.75 L90.41 641.88 L90.50 640.00 L90.60 638.12 L90.69 636.25 L90.79 634.38 L90.88 632.50 L90.98 630.62 L91.08 628.75 L91.18 626.88 L91.28 625.00 L91.38 623.09 L91.49 621.13 L91.61 619.16 L91.72 617.19 L91.83 615.26 L91.94 613.40 L92.04 611.64 L92.14 610.00 L92.23 608.50 L92.31 607.10 L92.39 605.80 L92.47 604.56 L92.54 603.38 L92.61 602.24 L92.68 601.12 L92.76 600.00 L92.82 598.92 L92.89 597.92 L92.95 596.96 L93.01 596.03 L93.07 595.10 L93.14 594.13 L93.20 593.11 L93.27 592.00 L93.35 590.76 L93.44 589.40 L93.52 587.96 L93.61 586.49 L93.70 585.06 L93.79 583.72 L93.87 582.51 L93.95 581.50 L94.02 580.64 L94.10 579.87 L94.17 579.20 L94.23 578.63 L94.30 578.18 L94.37 577.85 L94.43 577.65 L94.50 577.60 L94.56 577.71 L94.61 577.99 L94.65 578.41 L94.70 578.94 L94.75 579.58 L94.83 580.28 L94.92 581.03 L95.05 581.80 L95.22 582.64 L95.44 583.60 L95.69 584.63 L95.95 585.72 L96.21 586.84 L96.45 587.94 L96.66 589.01 L96.81 590.00 L96.91 590.89 L96.97 591.69 L96.99 592.45 L97.00 593.20 L96.99 593.99 L96.99 594.86 L96.99 595.85 L97.01 597.00 L97.04 598.29 L97.07 599.66 L97.10 601.13 L97.13 602.69 L97.17 604.35 L97.21 606.12 L97.26 608.00 L97.31 610.00 L97.37 612.17 L97.44 614.51 L97.51 616.99 L97.59 619.56 L97.67 622.19 L97.75 624.84 L97.82 627.45 L97.89 630.00 L97.96 632.50 L98.03 635.00 L98.10 637.50 L98.17 640.00 L98.23 642.50 L98.30 645.00 L98.37 647.50 L98.43 650.00 L98.50 652.50 L98.57 655.00 L98.64 657.50 L98.71 660.00 L98.78 662.50 L98.85 665.00 L98.92 667.50 L98.99 670.00 L99.06 672.57 L99.13 675.23 L99.21 677.94 L99.28 680.62 L99.36 683.23 L99.43 685.70 L99.49 687.98 L99.55 690.00 L99.59 691.69 L99.61 693.09 L99.63 694.26 L99.64 695.31 L99.66 696.32 L99.69 697.38 L99.75 698.58 L99.83 700.00 L99.94 701.64 L100.07 703.40 L100.23 705.26 L100.39 707.19 L100.57 709.16 L100.74 711.13 L100.91 713.09 L101.07 715.00 L101.22 716.88 L101.37 718.75 L101.51 720.62 L101.66 722.50 L101.80 724.38 L101.94 726.25 L102.07 728.12 L102.19 730.00 L102.31 731.89 L102.41 733.80 L102.51 735.71 L102.61 737.62 L102.69 739.52 L102.78 741.39 L102.87 743.22 L102.95 745.00 L103.03 746.75 L103.11 748.50 L103.18 750.22 L103.25 751.91 L103.31 753.54 L103.38 755.11 L103.46 756.60 L103.54 758.00 L103.63 759.34 L103.74 760.64 L103.85 761.89 L103.96 763.06 L104.06 764.13 L104.16 765.08 L104.24 765.88 L104.30 766.50 L104.36 766.72 L104.44 767.05 L104.53 767.45 L104.64 767.88 L104.75 768.28 L104.87 768.63 L104.98 768.89 L105.10 769.00 L105.22 768.96 L105.34 768.81 L105.46 768.57 L105.59 768.26 L105.72 767.93 L105.85 767.58 L105.97 767.27 L106.10 767.00 L106.23 766.75 L106.35 766.49 L106.48 766.21 L106.61 765.95 L106.73 765.71 L106.86 765.51 L106.98 765.37 L107.10 765.30 L107.22 765.29 L107.33 765.34 L107.44 765.42 L107.56 765.56 L107.67 765.73 L107.78 765.95 L107.89 766.21 L108.00 766.50 L108.11 766.87 L108.23 767.33 L108.34 767.85 L108.46 768.40 L108.57 768.95 L108.68 769.47 L108.79 769.93 L108.90 770.30 L109.01 770.59 L109.11 770.85 L109.22 771.06 L109.32 771.23 L109.42 771.36 L109.52 771.45 L109.61 771.50 L109.70 771.50 L109.79 771.47 L109.87 771.42 L109.94 771.33 L110.02 771.20 L110.09 771.01 L110.16 770.75 L110.23 770.42 L110.30 770.00 L110.37 769.52 L110.43 769.00 L110.50 768.43 L110.56 767.78 L110.62 767.03 L110.68 766.17 L110.73 765.16 L110.78 764.00 L110.82 762.64 L110.86 761.09 L110.89 759.38 L110.92 757.56 L110.95 755.67 L110.98 753.76 L111.01 751.85 L111.04 750.00 L111.08 748.17 L111.11 746.32 L111.14 744.45 L111.18 742.56 L111.21 740.67 L111.25 738.77 L111.28 736.88 L111.31 735.00 L111.35 733.16 L111.38 731.37 L111.41 729.59 L111.45 727.81 L111.48 725.99 L111.52 724.10 L111.56 722.11 L111.60 720.00 L111.64 717.71 L111.68 715.23 L111.73 712.65 L111.77 710.00 L111.82 707.35 L111.87 704.77 L111.92 702.29 L111.97 700.00 L112.03 697.89 L112.09 695.90 L112.15 694.01 L112.21 692.19 L112.28 690.41 L112.34 688.63 L112.41 686.84 L112.48 685.00 L112.56 683.12 L112.63 681.25 L112.71 679.38 L112.79 677.50 L112.87 675.62 L112.95 673.75 L113.03 671.88 L113.11 670.00 L113.20 668.12 L113.28 666.25 L113.37 664.38 L113.45 662.50 L113.54 660.62 L113.63 658.75 L113.72 656.88 L113.81 655.00 L113.90 653.12 L113.99 651.25 L114.08 649.38 L114.18 647.50 L114.27 645.62 L114.36 643.75 L114.46 641.88 L114.55 640.00 L114.65 638.12 L114.74 636.25 L114.84 634.38 L114.93 632.50 L115.03 630.62 L115.13 628.75 L115.23 626.88 L115.33 625.00 L115.43 623.09 L115.54 621.13 L115.66 619.16 L115.77 617.19 L115.88 615.26 L115.99 613.40 L116.09 611.64 L116.19 610.00 L116.28 608.50 L116.36 607.10 L116.44 605.80 L116.52 604.56 L116.59 603.38 L116.66 602.24 L116.73 601.12 L116.81 600.00 L116.87 598.92 L116.94 597.92 L117.00 596.96 L117.06 596.03 L117.12 595.10 L117.19 594.13 L117.25 593.11 L117.32 592.00 L117.40 590.76 L117.49 589.40 L117.57 587.96 L117.66 586.49 L117.75 585.06 L117.84 583.72 L117.92 582.51 L118.00 581.50 L118.07 580.64 L118.15 579.87 L118.22 579.20 L118.28 578.63 L118.35 578.18 L118.42 577.85 L118.48 577.65 L118.55 577.60 L118.61 577.71 L118.66 577.99 L118.70 578.41 L118.75 578.94 L118.80 579.58 L118.88 580.28 L118.97 581.03 L119.10 581.80 L119.27 582.64 L119.49 583.60 L119.74 584.63 L120.00 585.72 L120.26 586.84 L120.50 587.94 L120.71 589.01 L120.86 590.00 L120.96 590.89 L121.02 591.69 L121.04 592.45 L121.05 593.20 L121.04 593.99 L121.04 594.86 L121.04 595.85 L121.06 597.00 L121.09 598.29 L121.12 599.66 L121.15 601.13 L121.18 602.69 L121.22 604.35 L121.26 606.12 L121.31 608.00 L121.36 610.00 L121.42 612.17 L121.49 614.51 L121.56 616.99 L121.64 619.56 L121.72 622.19 L121.80 624.84 L121.87 627.45 L121.94 630.00 L122.01 632.50 L122.08 635.00 L122.15 637.50 L122.22 640.00 L122.28 642.50 L122.35 645.00 L122.42 647.50 L122.48 650.00 L122.55 652.50 L122.62 655.00 L122.69 657.50 L122.76 660.00 L122.83 662.50 L122.90 665.00 L122.97 667.50 L123.04 670.00 L123.11 672.57 L123.18 675.23 L123.26 677.94 L123.33 680.62 L123.41 683.23 L123.48 685.70 L123.54 687.98 L123.60 690.00 L123.64 691.69 L123.66 693.09 L123.68 694.26 L123.69 695.31 L123.71 696.32 L123.74 697.38 L123.80 698.58 L123.88 700.00 L123.99 701.64 L124.12 703.40 L124.28 705.26 L124.44 707.19 L124.62 709.16 L124.79 711.13 L124.96 713.09 L125.12 715.00 L125.27 716.88 L125.42 718.75 L125.56 720.62 L125.71 722.50 L125.85 724.38 L125.99 726.25 L126.12 728.12 L126.24 730.00 L126.36 731.89 L126.46 733.80 L126.56 735.71 L126.66 737.62 L126.74 739.52 L126.83 741.39 L126.92 743.22 L127.00 745.00 L127.08 746.75 L127.16 748.50 L127.23 750.22 L127.30 751.91 L127.36 753.54 L127.43 755.11 L127.51 756.60 L127.59 758.00 L127.68 759.34 L127.79 760.64 L127.90 761.89 L128.01 763.06 L128.11 764.13 L128.21 765.08 L128.29 765.88 L128.35 766.50 L128.41 766.72 L128.49 767.05 L128.58 767.45 L128.69 767.88 L128.80 768.28 L128.92 768.63 L129.03 768.89 L129.15 769.00 L129.27 768.96 L129.39 768.81 L129.51 768.57 L129.64 768.26 L129.77 767.93 L129.90 767.58 L130.02 767.27 L130.15 767.00 L130.28 766.75 L130.40 766.49 L130.53 766.21 L130.66 765.95 L130.78 765.71 L130.91 765.51 L131.03 765.37 L131.15 765.30 L131.27 765.29 L131.38 765.34 L131.49 765.42 L131.61 765.56 L131.72 765.73 L131.83 765.95 L131.94 766.21 L132.05 766.50 L132.16 766.87 L132.28 767.33 L132.39 767.85 L132.51 768.40 L132.62 768.95 L132.73 769.47 L132.84 769.93 L132.95 770.30 L133.06 770.59 L133.16 770.85 L133.27 771.06 L133.37 771.23 L133.47 771.36 L133.57 771.45 L133.66 771.50 L133.75 771.50 L133.84 771.47 L133.92 771.42 L133.99 771.33 L134.07 771.20 L134.14 771.01 L134.21 770.75 L134.28 770.42 L134.35 770.00 L134.42 769.52 L134.48 769.00 L134.55 768.43 L134.61 767.78 L134.67 767.03 L134.73 766.17 L134.78 765.16 L134.83 764.00 L134.87 762.64 L134.91 761.09 L134.94 759.38 L134.97 757.56 L135.00 755.67 L135.03 753.76 L135.06 751.85 L135.09 750.00 L135.13 748.17 L135.16 746.32 L135.19 744.45 L135.23 742.56 L135.26 740.67 L135.30 738.77 L135.33 736.88 L135.36 735.00 L135.40 733.16 L135.43 731.37 L135.46 729.59 L135.50 727.81 L135.53 725.99 L135.57 724.10 L135.61 722.11 L135.65 720.00 L135.69 717.71 L135.73 715.23 L135.78 712.65 L135.82 710.00 L135.87 707.35 L135.92 704.77 L135.97 702.29 L136.02 700.00 L136.08 697.89 L136.14 695.90 L136.20 694.01 L136.26 692.19 L136.33 690.41 L136.39 688.63 L136.46 686.84 L136.53 685.00 L136.61 683.12 L136.68 681.25 L136.76 679.38 L136.84 677.50 L136.92 675.62 L137.00 673.75 L137.08 671.88 L137.16 670.00 L137.25 668.12 L137.33 666.25 L137.42 664.38 L137.50 662.50 L137.59 660.62 L137.68 658.75 L137.77 656.88 L137.86 655.00 L137.95 653.12 L138.04 651.25 L138.13 649.38 L138.23 647.50 L138.32 645.62 L138.41 643.75 L138.51 641.88 L138.60 640.00 L138.70 638.12 L138.79 636.25 L138.89 634.38 L138.98 632.50 L139.08 630.62 L139.18 628.75 L139.28 626.88 L139.38 625.00 L139.48 623.09 L139.59 621.13 L139.71 619.16 L139.82 617.19 L139.93 615.26 L140.04 613.40 L140.14 611.64 L140.24 610.00 L140.33 608.50 L140.41 607.10 L140.49 605.80 L140.57 604.56 L140.64 603.38 L140.71 602.24 L140.78 601.12 L140.86 600.00 L140.92 598.92 L140.99 597.92 L141.05 596.96 L141.11 596.03 L141.17 595.10 L141.24 594.13 L141.30 593.11 L141.37 592.00 L141.45 590.76 L141.54 589.40 L141.62 587.96 L141.71 586.49 L141.80 585.06 L141.89 583.72 L141.97 582.51 L142.05 581.50 L142.12 580.64 L142.20 579.87 L142.27 579.20 L142.33 578.63 L142.40 578.18 L142.47 577.85 L142.53 577.65 L142.60 577.60 L142.66 577.71 L142.71 577.99 L142.75 578.41 L142.80 578.94 L142.85 579.58 L142.93 580.28 L143.02 581.03 L143.15 581.80 L143.32 582.64 L143.54 583.60 L143.79 584.63 L144.05 585.72 L144.31 586.84 L144.55 587.94 L144.76 589.01 L144.91 590.00 L145.01 590.89 L145.07 591.69 L145.09 592.45 L145.10 593.20 L145.09 593.99 L145.09 594.86 L145.09 595.85 L145.11 597.00 L145.14 598.29 L145.17 599.66 L145.20 601.13 L145.23 602.69 L145.27 604.35 L145.31 606.12 L145.36 608.00 L145.41 610.00 L145.47 612.17 L145.54 614.51 L145.61 616.99 L145.69 619.56 L145.77 622.19 L145.85 624.84 L145.92 627.45 L145.99 630.00 L146.06 632.50 L146.13 635.00 L146.20 637.50 L146.27 640.00 L146.33 642.50 L146.40 645.00 L146.47 647.50 L146.53 650.00 L146.60 652.50 L146.67 655.00 L146.74 657.50 L146.81 660.00 L146.88 662.50 L146.95 665.00 L147.02 667.50 L147.09 670.00 L147.16 672.57 L147.23 675.23 L147.31 677.94 L147.38 680.62 L147.46 683.23 L147.53 685.70 L147.59 687.98 L147.65 690.00 L147.69 691.69 L147.71 693.09 L147.73 694.26 L147.74 695.31 L147.76 696.32 L147.79 697.38 L147.85 698.58 L147.93 700.00 L148.04 701.64 L148.17 703.40 L148.33 705.26 L148.49 707.19 L148.67 709.16 L148.84 711.13 L149.01 713.09 L149.17 715.00 L149.32 716.88 L149.47 718.75 L149.61 720.62 L149.76 722.50 L149.90 724.38 L150.04 726.25 L150.17 728.12 L150.29 730.00 L150.41 731.89 L150.51 733.80 L150.61 735.71 L150.71 737.62 L150.79 739.52 L150.88 741.39 L150.97 743.22 L151.05 745.00 L151.13 746.75 L151.21 748.50 L151.28 750.22 L151.35 751.91 L151.41 753.54 L151.48 755.11 L151.56 756.60 L151.64 758.00 L151.73 759.34 L151.84 760.64 L151.95 761.89 L152.06 763.06 L152.16 764.13 L152.26 765.08 L152.34 765.88 L152.40 766.50 L152.46 766.72 L152.54 767.05 L152.63 767.45 L152.74 767.88 L152.85 768.28 L152.97 768.63 L153.08 768.89 L153.20 769.00 L153.32 768.96 L153.44 768.81 L153.56 768.57 L153.69 768.26 L153.82 767.93 L153.95 767.58 L154.07 767.27 L154.20 767.00 L154.33 766.75 L154.45 766.49 L154.58 766.21 L154.71 765.95 L154.83 765.71 L154.96 765.51 L155.08 765.37 L155.20 765.30 L155.32 765.29 L155.43 765.34 L155.54 765.42 L155.66 765.56 L155.77 765.73 L155.88 765.95 L155.99 766.21 L156.10 766.50 L156.21 766.87 L156.33 767.33 L156.44 767.85 L156.56 768.40 L156.67 768.95 L156.78 769.47 L156.89 769.93 L157.00 770.30 L157.11 770.59 L157.21 770.85 L157.32 771.06 L157.42 771.23 L157.52 771.36 L157.62 771.45 L157.71 771.50 L157.80 771.50 L157.89 771.47 L157.97 771.42 L158.04 771.33 L158.12 771.20 L158.19 771.01 L158.26 770.75 L158.33 770.42 L158.40 770.00 L158.47 769.52 L158.53 769.00 L158.60 768.43 L158.66 767.78 L158.72 767.03 L158.78 766.17 L158.83 765.16 L158.88 764.00 L158.92 762.64 L158.96 761.09 L158.99 759.38 L159.02 757.56 L159.05 755.67 L159.08 753.76 L159.11 751.85 L159.14 750.00 L159.18 748.17 L159.21 746.32 L159.24 744.45 L159.28 742.56 L159.31 740.67 L159.35 738.77 L159.38 736.88 L159.41 735.00 L159.45 733.16 L159.48 731.37 L159.51 729.59 L159.55 727.81 L159.58 725.99 L159.62 724.10 L159.66 722.11 L159.70 720.00 L159.74 717.71 L159.78 715.23 L159.83 712.65 L159.87 710.00 L159.92 707.35 L159.97 704.77 L160.02 702.29 L160.07 700.00 L160.13 697.89 L160.19 695.90 L160.25 694.01 L160.31 692.19 L160.38 690.41 L160.44 688.63 L160.51 686.84 L160.58 685.00 L160.66 683.12 L160.73 681.25 L160.81 679.38 L160.89 677.50 L160.97 675.62 L161.05 673.75 L161.13 671.88 L161.21 670.00 L161.30 668.12 L161.38 666.25 L161.47 664.38 L161.55 662.50 L161.64 660.62 L161.73 658.75 L161.82 656.88 L161.91 655.00 L162.00 653.12 L162.09 651.25 L162.18 649.38 L162.28 647.50 L162.37 645.62 L162.46 643.75 L162.56 641.88 L162.65 640.00 L162.75 638.12 L162.84 636.25 L162.94 634.38 L163.03 632.50 L163.13 630.62 L163.23 628.75 L163.33 626.88 L163.43 625.00 L163.53 623.09 L163.64 621.13 L163.76 619.16 L163.87 617.19 L163.98 615.26 L164.09 613.40 L164.19 611.64 L164.29 610.00 L164.38 608.50 L164.46 607.10 L164.54 605.80 L164.62 604.56 L164.69 603.38 L164.76 602.24 L164.83 601.12 L164.91 600.00 L164.97 598.92 L165.04 597.92 L165.10 596.96 L165.16 596.03 L165.22 595.10 L165.29 594.13 L165.35 593.11 L165.42 592.00 L165.50 590.76 L165.59 589.40 L165.67 587.96 L165.76 586.49 L165.85 585.06 L165.94 583.72 L166.02 582.51 L166.10 581.50 L166.17 580.64 L166.25 579.87 L166.32 579.20 L166.38 578.63 L166.45 578.18 L166.52 577.85 L166.58 577.65 L166.65 577.60 L166.71 577.71 L166.76 577.99 L166.80 578.41 L166.85 578.94 L166.90 579.58 L166.98 580.28 L167.07 581.03 L167.20 581.80 L167.37 582.64 L167.59 583.60 L167.84 584.63 L168.10 585.72 L168.36 586.84 L168.60 587.94 L168.81 589.01 L168.96 590.00 L169.06 590.89 L169.12 591.69 L169.14 592.45 L169.15 593.20 L169.14 593.99 L169.14 594.86 L169.14 595.85 L169.16 597.00 L169.19 598.29 L169.22 599.66 L169.25 601.13 L169.28 602.69 L169.32 604.35 L169.36 606.12 L169.41 608.00 L169.46 610.00 L169.52 612.17 L169.59 614.51 L169.66 616.99 L169.74 619.56 L169.82 622.19 L169.90 624.84 L169.97 627.45 L170.04 630.00 L170.11 632.50 L170.18 635.00 L170.25 637.50 L170.32 640.00 L170.38 642.50 L170.45 645.00 L170.52 647.50 L170.58 650.00 L170.65 652.50 L170.72 655.00 L170.79 657.50 L170.86 660.00 L170.93 662.50 L171.00 665.00 L171.07 667.50 L171.14 670.00 L171.21 672.57 L171.28 675.23 L171.36 677.94 L171.43 680.62 L171.51 683.23 L171.58 685.70 L171.64 687.98 L171.70 690.00 L171.74 691.69 L171.76 693.09 L171.78 694.26 L171.79 695.31 L171.81 696.32 L171.84 697.38 L171.90 698.58 L171.98 700.00 L172.09 701.64 L172.22 703.40 L172.38 705.26 L172.54 707.19 L172.72 709.16 L172.89 711.13 L173.06 713.09 L173.22 715.00 L173.37 716.88 L173.52 718.75 L173.66 720.62 L173.81 722.50 L173.95 724.38 L174.09 726.25 L174.22 728.12 L174.34 730.00 L174.46 731.89 L174.56 733.80 L174.66 735.71 L174.76 737.62 L174.84 739.52 L174.93 741.39 L175.02 743.22 L175.10 745.00 L175.18 746.75 L175.26 748.50 L175.33 750.22 L175.40 751.91 L175.46 753.54 L175.53 755.11 L175.61 756.60 L175.69 758.00 L175.78 759.34 L175.89 760.64 L176.00 761.89 L176.11 763.06 L176.21 764.13 L176.31 765.08 L176.39 765.88 L176.45 766.50 L176.51 766.72 L176.59 767.05 L176.68 767.45 L176.79 767.88 L176.90 768.28 L177.02 768.63 L177.13 768.89 L177.25 769.00 L177.37 768.96 L177.49 768.81 L177.61 768.57 L177.74 768.26 L177.87 767.93 L178.00 767.58 L178.12 767.27 L178.25 767.00 L178.38 766.75 L178.50 766.49 L178.63 766.21 L178.76 765.95 L178.88 765.71 L179.01 765.51 L179.13 765.37 L179.25 765.30 L179.37 765.29 L179.48 765.34 L179.59 765.42 L179.71 765.56 L179.82 765.73 L179.93 765.95 L180.04 766.21 L180.15 766.50 L180.26 766.87 L180.38 767.33 L180.49 767.85 L180.61 768.40 L180.72 768.95 L180.83 769.47 L180.94 769.93 L181.05 770.30 L181.16 770.59 L181.26 770.85 L181.37 771.06 L181.47 771.23 L181.57 771.36 L181.67 771.45 L181.76 771.50 L181.85 771.50 L181.94 771.47 L182.02 771.42 L182.09 771.33 L182.17 771.20 L182.24 771.01 L182.31 770.75 L182.38 770.42 L182.45 770.00 L182.52 769.52 L182.58 769.00 L182.65 768.43 L182.71 767.78 L182.77 767.03 L182.83 766.17 L182.88 765.16 L182.93 764.00 L182.97 762.64 L183.01 761.09 L183.04 759.38 L183.07 757.56 L183.10 755.67 L183.13 753.76 L183.16 751.85 L183.19 750.00 L183.23 748.17 L183.26 746.32 L183.29 744.45 L183.33 742.56 L183.36 740.67 L183.40 738.77 L183.43 736.88 L183.46 735.00 L183.50 733.16 L183.53 731.37 L183.56 729.59 L183.60 727.81 L183.63 725.99 L183.67 724.10 L183.71 722.11 L183.75 720.00 L183.79 717.71 L183.83 715.23 L183.88 712.65 L183.92 710.00 L183.97 707.35 L184.02 704.77 L184.07 702.29 L184.12 700.00 L184.18 697.89 L184.24 695.90 L184.30 694.01 L184.36 692.19 L184.43 690.41 L184.49 688.63 L184.56 686.84 L184.63 685.00 L184.71 683.12 L184.78 681.25 L184.86 679.38 L184.94 677.50 L185.02 675.62 L185.10 673.75 L185.18 671.88 L185.26 670.00 L185.35 668.12 L185.43 666.25 L185.52 664.38 L185.60 662.50 L185.69 660.62 L185.78 658.75 L185.87 656.88 L185.96 655.00 L186.05 653.12 L186.14 651.25 L186.23 649.38 L186.33 647.50 L186.42 645.62 L186.51 643.75 L186.61 641.88 L186.70 640.00 L186.80 638.12 L186.89 636.25 L186.99 634.38 L187.08 632.50 L187.18 630.62 L187.28 628.75 L187.38 626.88 L187.48 625.00 L187.58 623.09 L187.69 621.13 L187.81 619.16 L187.92 617.19 L188.03 615.26 L188.14 613.40 L188.24 611.64 L188.34 610.00 L188.43 608.50 L188.51 607.10 L188.59 605.80 L188.67 604.56 L188.74 603.38 L188.81 602.24 L188.88 601.12 L188.96 600.00 L189.02 598.92 L189.09 597.92 L189.15 596.96 L189.21 596.03 L189.27 595.10 L189.34 594.13 L189.40 593.11 L189.47 592.00 L189.55 590.76 L189.64 589.40 L189.72 587.96 L189.81 586.49 L189.90 585.06 L189.99 583.72 L190.07 582.51 L190.15 581.50 L190.22 580.64 L190.30 579.87 L190.37 579.20 L190.43 578.63 L190.50 578.18 L190.57 577.85 L190.63 577.65 L190.70 577.60 L190.76 577.71 L190.81 577.99 L190.85 578.41 L190.90 578.94 L190.95 579.58 L191.03 580.28 L191.12 581.03 L191.25 581.80 L191.42 582.64 L191.64 583.60 L191.89 584.63 L192.15 585.72 L192.41 586.84 L192.65 587.94 L192.86 589.01 L193.01 590.00 L193.11 590.89 L193.17 591.69 L193.19 592.45 L193.20 593.20 L193.19 593.99 L193.19 594.86 L193.19 595.85 L193.21 597.00 L193.24 598.29 L193.27 599.66 L193.30 601.13 L193.33 602.69 L193.37 604.35 L193.41 606.12 L193.46 608.00 L193.51 610.00 L193.57 612.17 L193.64 614.51 L193.71 616.99 L193.79 619.56 L193.87 622.19 L193.95 624.84 L194.02 627.45 L194.09 630.00 L194.16 632.50 L194.23 635.00 L194.30 637.50 L194.37 640.00 L194.43 642.50 L194.50 645.00 L194.57 647.50 L194.63 650.00 L194.70 652.50 L194.77 655.00 L194.84 657.50 L194.91 660.00 L194.98 662.50 L195.05 665.00 L195.12 667.50 L195.19 670.00 L195.26 672.57 L195.33 675.23 L195.41 677.94 L195.48 680.62 L195.56 683.23 L195.63 685.70 L195.69 687.98 L195.75 690.00 L195.79 691.69 L195.81 693.09 L195.83 694.26 L195.84 695.31 L195.86 696.32 L195.89 697.38 L195.95 698.58 L196.03 700.00 L196.14 701.64 L196.27 703.40 L196.43 705.26 L196.59 707.19 L196.77 709.16 L196.94 711.13 L197.11 713.09 L197.27 715.00 L197.42 716.88 L197.57 718.75 L197.71 720.62 L197.86 722.50 L198.00 724.38 L198.14 726.25 L198.27 728.12 L198.39 730.00 L198.51 731.89 L198.61 733.80 L198.71 735.71 L198.81 737.62 L198.89 739.52 L198.98 741.39 L199.07 743.22 L199.15 745.00 L199.23 746.75 L199.31 748.50 L199.38 750.22 L199.45 751.91 L199.51 753.54 L199.58 755.11 L199.66 756.60 L199.74 758.00 L199.83 759.34 L199.94 760.64 L200.05 761.89 L200.16 763.06 L200.26 764.13 L200.36 765.08 L200.44 765.88 L200.50 766.50 L200.56 766.72 L200.64 767.05 L200.73 767.45 L200.84 767.88 L200.95 768.28 L201.07 768.63 L201.18 768.89 L201.30 769.00 L201.42 768.96 L201.54 768.81 L201.66 768.57 L201.79 768.26 L201.92 767.93 L202.05 767.58 L202.17 767.27 L202.30 767.00 L202.43 766.75 L202.55 766.49 L202.68 766.21 L202.81 765.95 L202.93 765.71 L203.06 765.51 L203.18 765.37 L203.30 765.30 L203.42 765.29 L203.53 765.34 L203.64 765.42 L203.76 765.56 L203.87 765.73 L203.98 765.95 L204.09 766.21 L204.20 766.50 L204.31 766.87 L204.43 767.33 L204.54 767.85 L204.66 768.40 L204.77 768.95 L204.88 769.47 L204.99 769.93 L205.10 770.30 L205.21 770.59 L205.31 770.85 L205.42 771.06 L205.52 771.23 L205.62 771.36 L205.72 771.45 L205.81 771.50 L205.90 771.50 L205.99 771.47 L206.07 771.42 L206.14 771.33 L206.22 771.20 L206.29 771.01 L206.36 770.75 L206.43 770.42 L206.50 770.00 L206.57 769.52 L206.63 769.00 L206.70 768.43 L206.76 767.78 L206.82 767.03 L206.88 766.17 L206.93 765.16 L206.98 764.00 L207.02 762.64 L207.06 761.09 L207.09 759.38 L207.12 757.56 L207.15 755.67 L207.18 753.76 L207.21 751.85 L207.24 750.00 L207.28 748.17 L207.31 746.32 L207.34 744.45 L207.38 742.56 L207.41 740.67 L207.45 738.77 L207.48 736.88 L207.51 735.00 L207.55 733.16 L207.58 731.37 L207.61 729.59 L207.65 727.81 L207.68 725.99 L207.72 724.10 L207.76 722.11 L207.80 720.00 L207.84 717.71 L207.88 715.23 L207.93 712.65 L207.97 710.00 L208.02 707.35 L208.07 704.77 L208.12 702.29 L208.17 700.00 L208.23 697.89 L208.29 695.90 L208.35 694.01 L208.41 692.19 L208.48 690.41 L208.54 688.63 L208.61 686.84 L208.68 685.00 L208.76 683.12 L208.83 681.25 L208.91 679.38 L208.99 677.50 L209.07 675.62 L209.15 673.75 L209.23 671.88 L209.31 670.00 L209.40 668.12 L209.48 666.25 L209.57 664.38 L209.65 662.50 L209.74 660.62 L209.83 658.75 L209.92 656.88 L210.01 655.00 L210.10 653.12 L210.19 651.25 L210.28 649.38 L210.38 647.50 L210.47 645.62 L210.56 643.75 L210.66 641.88 L210.75 640.00 L210.85 638.12 L210.94 636.25 L211.04 634.38 L211.13 632.50 L211.23 630.62 L211.33 628.75 L211.43 626.88 L211.53 625.00 L211.63 623.09 L211.74 621.13 L211.86 619.16 L211.97 617.19 L212.08 615.26 L212.19 613.40 L212.29 611.64 L212.39 610.00 L212.48 608.50 L212.56 607.10 L212.64 605.80 L212.72 604.56 L212.79 603.38 L212.86 602.24 L212.93 601.12 L213.01 600.00 L213.07 598.92 L213.14 597.92 L213.20 596.96 L213.26 596.03 L213.32 595.10 L213.39 594.13 L213.45 593.11 L213.52 592.00 L213.60 590.76 L213.69 589.40 L213.77 587.96 L213.86 586.49 L213.95 585.06 L214.04 583.72 L214.12 582.51 L214.20 581.50 L214.27 580.64 L214.35 579.87 L214.42 579.20 L214.48 578.63 L214.55 578.18 L214.62 577.85 L214.68 577.65 L214.75 577.60 L214.81 577.71 L214.86 577.99 L214.90 578.41 L214.95 578.94 L215.00 579.58 L215.08 580.28 L215.17 581.03 L215.30 581.80 L215.47 582.64 L215.69 583.60 L215.94 584.63 L216.20 585.72 L216.46 586.84 L216.70 587.94 L216.91 589.01 L217.06 590.00 L217.16 590.89 L217.22 591.69 L217.24 592.45 L217.25 593.20 L217.24 593.99 L217.24 594.86 L217.24 595.85 L217.26 597.00 L217.29 598.29 L217.32 599.66 L217.35 601.13 L217.38 602.69 L217.42 604.35 L217.46 606.12 L217.51 608.00 L217.56 610.00 L217.62 612.17 L217.69 614.51 L217.76 616.99 L217.84 619.56 L217.92 622.19 L218.00 624.84 L218.07 627.45 L218.14 630.00 L218.21 632.50 L218.28 635.00 L218.35 637.50 L218.42 640.00 L218.48 642.50 L218.55 645.00 L218.62 647.50 L218.68 650.00 L218.75 652.50 L218.82 655.00 L218.89 657.50 L218.96 660.00 L219.03 662.50 L219.10 665.00 L219.17 667.50 L219.24 670.00 L219.31 672.57 L219.38 675.23 L219.46 677.94 L219.53 680.62 L219.61 683.23 L219.68 685.70 L219.74 687.98 L219.80 690.00 L219.84 691.69 L219.86 693.09 L219.88 694.26 L219.89 695.31 L219.91 696.32 L219.94 697.38 L220.00 698.58 L220.08 700.00 L220.19 701.64 L220.32 703.40 L220.48 705.26 L220.64 707.19 L220.82 709.16 L220.99 711.13 L221.16 713.09 L221.32 715.00 L221.47 716.88 L221.62 718.75 L221.76 720.62 L221.91 722.50 L222.05 724.38 L222.19 726.25 L222.32 728.12 L222.44 730.00 L222.56 731.89 L222.66 733.80 L222.76 735.71 L222.86 737.62 L222.94 739.52 L223.03 741.39 L223.12 743.22 L223.20 745.00 L223.28 746.75 L223.36 748.50 L223.43 750.22 L223.50 751.91 L223.56 753.54 L223.63 755.11 L223.71 756.60 L223.79 758.00 L223.88 759.34 L223.99 760.64 L224.10 761.89 L224.21 763.06 L224.31 764.13 L224.41 765.08 L224.49 765.88 L224.55 766.50 L224.61 766.72 L224.69 767.05 L224.78 767.45 L224.89 767.88 L225.00 768.28 L225.12 768.63 L225.23 768.89 L225.35 769.00 L225.47 768.96 L225.59 768.81 L225.71 768.57 L225.84 768.26 L225.97 767.93 L226.10 767.58 L226.22 767.27 L226.35 767.00 L226.48 766.75 L226.60 766.49 L226.73 766.21 L226.86 765.95 L226.98 765.71 L227.11 765.51 L227.23 765.37 L227.35 765.30 L227.47 765.29 L227.58 765.34 L227.69 765.42 L227.81 765.56 L227.92 765.73 L228.03 765.95 L228.14 766.21 L228.25 766.50 L228.36 766.87 L228.48 767.33 L228.59 767.85 L228.71 768.40 L228.82 768.95 L228.93 769.47 L229.04 769.93 L229.15 770.30 L229.26 770.59 L229.36 770.85 L229.47 771.06 L229.57 771.23 L229.67 771.36 L229.77 771.45 L229.86 771.50 L229.95 771.50 L230.04 771.47 L230.12 771.42 L230.19 771.33 L230.27 771.20 L230.34 771.01 L230.41 770.75 L230.48 770.42 L230.55 770.00 L230.62 769.52 L230.68 769.00 L230.75 768.43 L230.81 767.78 L230.87 767.03 L230.93 766.17 L230.98 765.16 L231.03 764.00 L231.07 762.64 L231.11 761.09 L231.14 759.38 L231.17 757.56 L231.20 755.67 L231.23 753.76 L231.26 751.85 L231.29 750.00 L231.33 748.17 L231.36 746.32 L231.39 744.45 L231.43 742.56 L231.46 740.67 L231.50 738.77 L231.53 736.88 L231.56 735.00 L231.60 733.16 L231.63 731.37 L231.66 729.59 L231.70 727.81 L231.73 725.99 L231.77 724.10 L231.81 722.11 L231.85 720.00 L231.89 717.71 L231.93 715.23 L231.98 712.65 L232.02 710.00 L232.07 707.35 L232.12 704.77 L232.17 702.29 L232.22 700.00 L232.28 697.89 L232.34 695.90 L232.40 694.01 L232.46 692.19 L232.53 690.41 L232.59 688.63 L232.66 686.84 L232.73 685.00 L232.81 683.12 L232.88 681.25 L232.96 679.38 L233.04 677.50 L233.12 675.62 L233.20 673.75 L233.28 671.88 L233.36 670.00 L233.45 668.12 L233.53 666.25 L233.62 664.38 L233.70 662.50 L233.79 660.62 L233.88 658.75 L233.97 656.88 L234.06 655.00 L234.15 653.12 L234.24 651.25 L234.33 649.38 L234.43 647.50 L234.52 645.62 L234.61 643.75 L234.71 641.88 L234.80 640.00 L234.90 638.12 L234.99 636.25 L235.09 634.38 L235.18 632.50 L235.28 630.62 L235.38 628.75 L235.48 626.88 L235.58 625.00 L235.68 623.09 L235.79 621.13 L235.91 619.16 L236.02 617.19 L236.13 615.26 L236.24 613.40 L236.34 611.64 L236.44 610.00 L236.53 608.50 L236.61 607.10 L236.69 605.80 L236.77 604.56 L236.84 603.38 L236.91 602.24 L236.98 601.12 L237.06 600.00 L237.12 598.92 L237.19 597.92 L237.25 596.96 L237.31 596.03 L237.37 595.10 L237.44 594.13 L237.50 593.11 L237.57 592.00 L237.65 590.76 L237.74 589.40 L237.82 587.96 L237.91 586.49 L238.00 585.06 L238.09 583.72 L238.17 582.51 L238.25 581.50 L238.32 580.64 L238.40 579.87 L238.47 579.20 L238.53 578.63 L238.60 578.18 L238.67 577.85 L238.73 577.65 L238.80 577.60 L238.86 577.71 L238.91 577.99 L238.95 578.41 L239.00 578.94 L239.05 579.58 L239.13 580.28 L239.22 581.03 L239.35 581.80 L239.52 582.64 L239.74 583.60 L239.99 584.63 L240.25 585.72 L240.51 586.84 L240.75 587.94 L240.96 589.01 L241.11 590.00 L241.21 590.89 L241.27 591.69 L241.29 592.45 L241.30 593.20 L241.29 593.99 L241.29 594.86 L241.29 595.85 L241.31 597.00 L241.34 598.29 L241.37 599.66 L241.40 601.13 L241.43 602.69 L241.47 604.35 L241.51 606.12 L241.56 608.00 L241.61 610.00 L241.67 612.17 L241.74 614.51 L241.81 616.99 L241.89 619.56 L241.97 622.19 L242.05 624.84 L242.12 627.45 L242.19 630.00 L242.26 632.50 L242.33 635.00 L242.40 637.50 L242.47 640.00 L242.53 642.50 L242.60 645.00 L242.67 647.50 L242.73 650.00 L242.80 652.50 L242.87 655.00 L242.94 657.50 L243.01 660.00 L243.08 662.50 L243.15 665.00 L243.22 667.50 L243.29 670.00 L243.36 672.57 L243.43 675.23 L243.51 677.94 L243.58 680.62 L243.66 683.23 L243.73 685.70 L243.79 687.98 L243.85 690.00 L243.89 691.69 L243.91 693.09 L243.93 694.26 L243.94 695.31 L243.96 696.32 L243.99 697.38 L244.05 698.58 L244.13 700.00 L244.24 701.64 L244.37 703.40 L244.53 705.26 L244.69 707.19 L244.87 709.16 L245.04 711.13 L245.21 713.09 L245.37 715.00 L245.52 716.88 L245.67 718.75 L245.81 720.62 L245.96 722.50 L246.10 724.38 L246.24 726.25 L246.37 728.12 L246.49 730.00 L246.61 731.89 L246.71 733.80 L246.81 735.71 L246.91 737.62 L246.99 739.52 L247.08 741.39 L247.17 743.22 L247.25 745.00 L247.33 746.75 L247.41 748.50 L247.48 750.22 L247.55 751.91 L247.61 753.54 L247.68 755.11 L247.76 756.60 L247.84 758.00 L247.93 759.34 L248.04 760.64 L248.15 761.89 L248.26 763.06 L248.36 764.13 L248.46 765.08 L248.54 765.88 L248.60 766.50 L248.66 766.72 L248.74 767.05 L248.83 767.45 L248.94 767.88 L249.05 768.28 L249.17 768.63 L249.28 768.89 L249.40 769.00 L249.52 768.96 L249.64 768.81 L249.76 768.57 L249.89 768.26 L250.02 767.93 L250.15 767.58 L250.27 767.27 L250.40 767.00 L250.53 766.75 L250.65 766.49 L250.78 766.21 L250.91 765.95 L251.03 765.71 L251.16 765.51 L251.28 765.37 L251.40 765.30 L251.52 765.29 L251.63 765.34 L251.74 765.42 L251.86 765.56 L251.97 765.73 L252.08 765.95 L252.19 766.21 L252.30 766.50 L252.41 766.87 L252.53 767.33 L252.64 767.85 L252.76 768.40 L252.87 768.95 L252.98 769.47 L253.09 769.93 L253.20 770.30 L253.31 770.59 L253.41 770.85 L253.52 771.06 L253.62 771.23 L253.72 771.36 L253.82 771.45 L253.91 771.50 L254.00 771.50 L254.09 771.47 L254.17 771.42 L254.24 771.33 L254.32 771.20 L254.39 771.01 L254.46 770.75 L254.53 770.42 L254.60 770.00 L254.67 769.52 L254.73 769.00 L254.80 768.43 L254.86 767.78 L254.92 767.03 L254.98 766.17 L255.03 765.16 L255.08 764.00 L255.12 762.64 L255.16 761.09 L255.19 759.38 L255.22 757.56 L255.25 755.67 L255.28 753.76 L255.31 751.85 L255.34 750.00 L255.38 748.17 L255.41 746.32 L255.44 744.45 L255.48 742.56 L255.51 740.67 L255.55 738.77 L255.58 736.88 L255.61 735.00 L255.65 733.16 L255.68 731.37 L255.71 729.59 L255.75 727.81 L255.78 725.99 L255.82 724.10 L255.86 722.11 L255.90 720.00 L255.94 717.71 L255.98 715.23 L256.03 712.65 L256.07 710.00 L256.12 707.35 L256.17 704.77 L256.22 702.29 L256.27 700.00 L256.33 697.89 L256.39 695.90 L256.45 694.01 L256.51 692.19 L256.58 690.41 L256.64 688.63 L256.71 686.84 L256.78 685.00 L256.86 683.12 L256.93 681.25 L257.01 679.38 L257.09 677.50 L257.17 675.62 L257.25 673.75 L257.33 671.88 L257.41 670.00 L257.50 668.12 L257.58 666.25 L257.67 664.38 L257.75 662.50 L257.84 660.62 L257.93 658.75 L258.02 656.88 L258.11 655.00 L258.20 653.12 L258.29 651.25 L258.38 649.38 L258.48 647.50 L258.57 645.62 L258.66 643.75 L258.76 641.88 L258.85 640.00 L258.95 638.12 L259.04 636.25 L259.14 634.38 L259.23 632.50 L259.33 630.62 L259.43 628.75 L259.53 626.88 L259.63 625.00 L259.73 623.09 L259.84 621.13 L259.96 619.16 L260.07 617.19 L260.18 615.26 L260.29 613.40 L260.39 611.64 L260.49 610.00 L260.58 608.50 L260.66 607.10 L260.74 605.80 L260.82 604.56 L260.89 603.38 L260.96 602.24 L261.03 601.12 L261.11 600.00 L261.17 598.92 L261.24 597.92 L261.30 596.96 L261.36 596.03 L261.42 595.10 L261.49 594.13 L261.55 593.11 L261.62 592.00 L261.70 590.76 L261.79 589.40 L261.87 587.96 L261.96 586.49 L262.05 585.06 L262.14 583.72 L262.22 582.51 L262.30 581.50 L262.37 580.64 L262.45 579.87 L262.52 579.20 L262.58 578.63 L262.65 578.18 L262.72 577.85 L262.78 577.65 L262.85 577.60 L262.91 577.71 L262.96 577.99 L263.00 578.41 L263.05 578.94 L263.10 579.58 L263.18 580.28 L263.27 581.03 L263.40 581.80 L263.57 582.64 L263.79 583.60 L264.04 584.63 L264.30 585.72 L264.56 586.84 L264.80 587.94 L265.01 589.01 L265.16 590.00 L265.26 590.89 L265.32 591.69 L265.34 592.45 L265.35 593.20 L265.34 593.99 L265.34 594.86 L265.34 595.85 L265.36 597.00 L265.39 598.29 L265.42 599.66 L265.45 601.13 L265.48 602.69 L265.52 604.35 L265.56 606.12 L265.61 608.00 L265.66 610.00 L265.72 612.17 L265.79 614.51 L265.86 616.99 L265.94 619.56 L266.02 622.19 L266.10 624.84 L266.17 627.45 L266.24 630.00 L266.31 632.50 L266.38 635.00 L266.45 637.50 L266.52 640.00 L266.58 642.50 L266.65 645.00 L266.72 647.50 L266.78 650.00 L266.85 652.50 L266.92 655.00 L266.99 657.50 L267.06 660.00 L267.13 662.50 L267.20 665.00 L267.27 667.50 L267.34 670.00 L267.41 672.57 L267.48 675.23 L267.56 677.94 L267.63 680.62 L267.71 683.23 L267.78 685.70 L267.84 687.98 L267.90 690.00 L267.94 691.69 L267.96 693.09 L267.98 694.26 L267.99 695.31 L268.01 696.32 L268.04 697.38 L268.10 698.58 L268.18 700.00 L268.29 701.64 L268.42 703.40 L268.58 705.26 L268.74 707.19 L268.92 709.16 L269.09 711.13 L269.26 713.09 L269.42 715.00 L269.57 716.88 L269.72 718.75 L269.86 720.62 L270.01 722.50 L270.15 724.38 L270.29 726.25 L270.42 728.12 L270.54 730.00 L270.66 731.89 L270.76 733.80 L270.86 735.71 L270.96 737.62 L271.04 739.52 L271.13 741.39 L271.22 743.22 L271.30 745.00 L271.38 746.75 L271.46 748.50 L271.53 750.22 L271.60 751.91 L271.66 753.54 L271.73 755.11 L271.81 756.60 L271.89 758.00 L271.98 759.34 L272.09 760.64 L272.20 761.89 L272.31 763.06 L272.41 764.13 L272.51 765.08 L272.59 765.88 L272.65 766.50 L272.71 766.72 L272.79 767.05 L272.88 767.45 L272.99 767.88 L273.10 768.28 L273.22 768.63 L273.33 768.89 L273.45 769.00 L273.57 768.96 L273.69 768.81 L273.81 768.57 L273.94 768.26 L274.07 767.93 L274.20 767.58 L274.32 767.27 L274.45 767.00 L274.58 766.75 L274.70 766.49 L274.83 766.21 L274.96 765.95 L275.08 765.71 L275.21 765.51 L275.33 765.37 L275.45 765.30 L275.57 765.29 L275.68 765.34 L275.79 765.42 L275.91 765.56 L276.02 765.73 L276.13 765.95 L276.24 766.21 L276.35 766.50 L276.46 766.87 L276.58 767.33 L276.69 767.85 L276.81 768.40 L276.92 768.95 L277.03 769.47 L277.14 769.93 L277.25 770.30 L277.36 770.59 L277.46 770.85 L277.57 771.06 L277.67 771.23 L277.77 771.36 L277.87 771.45 L277.96 771.50 L278.05 771.50 L278.14 771.47 L278.22 771.42 L278.29 771.33 L278.37 771.20 L278.44 771.01 L278.51 770.75 L278.58 770.42 L278.65 770.00 L278.72 769.52 L278.78 769.00 L278.85 768.43 L278.91 767.78 L278.97 767.03 L279.03 766.17 L279.08 765.16 L279.13 764.00 L279.17 762.64 L279.21 761.09 L279.24 759.38 L279.27 757.56 L279.30 755.67 L279.33 753.76 L279.36 751.85 L279.39 750.00 L279.43 748.17 L279.46 746.32 L279.49 744.45 L279.53 742.56 L279.56 740.67 L279.60 738.77 L279.63 736.88 L279.66 735.00 L279.70 733.16 L279.73 731.37 L279.76 729.59 L279.80 727.81 L279.83 725.99 L279.87 724.10 L279.91 722.11 L279.95 720.00 L279.99 717.71 L280.03 715.23 L280.08 712.65 L280.12 710.00 L280.17 707.35 L280.22 704.77 L280.27 702.29 L280.32 700.00 L280.38 697.89 L280.44 695.90 L280.50 694.01 L280.56 692.19 L280.63 690.41 L280.69 688.63 L280.76 686.84 L280.83 685.00 L280.91 683.12 L280.98 681.25 L281.06 679.38 L281.14 677.50 L281.22 675.62 L281.30 673.75 L281.38 671.88 L281.46 670.00 L281.55 668.12 L281.63 666.25 L281.72 664.38 L281.80 662.50 L281.89 660.62 L281.98 658.75 L282.07 656.88 L282.16 655.00 L282.25 653.12 L282.34 651.25 L282.43 649.38 L282.53 647.50 L282.62 645.62 L282.71 643.75 L282.81 641.88 L282.90 640.00 L283.00 638.12 L283.09 636.25 L283.19 634.38 L283.28 632.50 L283.38 630.62 L283.48 628.75 L283.58 626.88 L283.68 625.00 L283.78 623.09 L283.89 621.13 L284.01 619.16 L284.12 617.19 L284.23 615.26 L284.34 613.40 L284.44 611.64 L284.54 610.00 L284.63 608.50 L284.71 607.10 L284.79 605.80 L284.87 604.56 L284.94 603.38 L285.01 602.24 L285.08 601.12 L285.16 600.00 L285.22 598.92 L285.29 597.92 L285.35 596.96 L285.41 596.03 L285.47 595.10 L285.54 594.13 L285.60 593.11 L285.67 592.00 L285.75 590.76 L285.84 589.40 L285.92 587.96 L286.01 586.49 L286.10 585.06 L286.19 583.72 L286.27 582.51 L286.35 581.50 L286.42 580.64 L286.50 579.87 L286.57 579.20 L286.63 578.63 L286.70 578.18 L286.77 577.85 L286.83 577.65 L286.90 577.60 L286.96 577.71 L287.01 577.99 L287.05 578.41 L287.10 578.94 L287.15 579.58 L287.23 580.28 L287.32 581.03 L287.45 581.80 L287.62 582.64 L287.84 583.60 L288.09 584.63 L288.35 585.72 L288.61 586.84 L288.85 587.94 L289.06 589.01 L289.21 590.00 L289.31 590.89 L289.37 591.69 L289.39 592.45 L289.40 593.20 L289.39 593.99 L289.39 594.86 L289.39 595.85 L289.41 597.00 L289.44 598.29 L289.47 599.66 L289.50 601.13 L289.53 602.69 L289.57 604.35 L289.61 606.12 L289.66 608.00 L289.71 610.00 L289.77 612.17 L289.84 614.51 L289.91 616.99 L289.99 619.56 L290.07 622.19 L290.15 624.84 L290.22 627.45 L290.29 630.00 L290.36 632.50 L290.43 635.00 L290.50 637.50 L290.57 640.00 L290.63 642.50 L290.70 645.00 L290.77 647.50 L290.83 650.00 L290.90 652.50 L290.97 655.00 L291.04 657.50 L291.11 660.00 L291.18 662.50 L291.25 665.00 L291.32 667.50 L291.39 670.00 L291.46 672.57 L291.53 675.23 L291.61 677.94 L291.68 680.62 L291.76 683.23 L291.83 685.70 L291.89 687.98 L291.95 690.00 L291.99 691.69 L292.01 693.09 L292.03 694.26 L292.04 695.31 L292.06 696.32 L292.09 697.38 L292.15 698.58 L292.23 700.00 L292.34 701.64 L292.47 703.40 L292.63 705.26 L292.79 707.19 L292.97 709.16 L293.14 711.13 L293.31 713.09 L293.47 715.00 L293.62 716.88 L293.77 718.75 L293.91 720.62 L294.06 722.50 L294.20 724.38 L294.34 726.25 L294.47 728.12 L294.59 730.00 L294.71 731.89 L294.81 733.80 L294.91 735.71 L295.01 737.62 L295.09 739.52 L295.18 741.39 L295.27 743.22 L295.35 745.00 L295.43 746.75 L295.51 748.50 L295.58 750.22 L295.65 751.91 L295.71 753.54 L295.78 755.11 L295.86 756.60 L295.94 758.00 L296.03 759.34 L296.14 760.64 L296.25 761.89 L296.36 763.06 L296.46 764.13 L296.56 765.08 L296.64 765.88 L296.70 766.50 L296.76 766.72 L296.84 767.05 L296.93 767.45 L297.04 767.88 L297.15 768.28 L297.27 768.63 L297.38 768.89 L297.50 769.00 L297.62 768.96 L297.74 768.81 L297.86 768.57 L297.99 768.26 L298.12 767.93 L298.25 767.58 L298.37 767.27 L298.50 767.00 L298.63 766.75 L298.75 766.49 L298.88 766.21 L299.01 765.95 L299.13 765.71 L299.26 765.51 L299.38 765.37 L299.50 765.30 L299.62 765.29 L299.73 765.34 L299.84 765.42 L299.96 765.56 L300.07 765.73 L300.18 765.95 L300.29 766.21 L300.40 766.50 L300.51 766.87 L300.63 767.33 L300.74 767.85 L300.86 768.40 L300.97 768.95 L301.08 769.47 L301.19 769.93 L301.30 770.30 L301.41 770.59 L301.51 770.85 L301.62 771.06 L301.72 771.23 L301.82 771.36 L301.92 771.45 L302.01 771.50 L302.10 771.50 L302.19 771.47 L302.27 771.42 L302.34 771.33 L302.42 771.20 L302.49 771.01 L302.56 770.75 L302.63 770.42 L302.70 770.00 L302.77 769.52 L302.83 769.00 L302.90 768.43 L302.96 767.78 L303.02 767.03 L303.08 766.17 L303.13 765.16 L303.18 764.00 L303.22 762.64 L303.26 761.09 L303.29 759.38 L303.32 757.56 L303.35 755.67 L303.38 753.76 L303.41 751.85 L303.44 750.00 L303.48 748.17 L303.51 746.32 L303.54 744.45 L303.58 742.56 L303.61 740.67 L303.65 738.77 L303.68 736.88 L303.71 735.00 L303.75 733.16 L303.78 731.37 L303.81 729.59 L303.85 727.81 L303.88 725.99 L303.92 724.10 L303.96 722.11 L304.00 720.00 L304.04 717.71 L304.08 715.23 L304.13 712.65 L304.17 710.00 L304.22 707.35 L304.27 704.77 L304.32 702.29 L304.37 700.00 L304.43 697.89 L304.49 695.90 L304.55 694.01 L304.61 692.19 L304.68 690.41 L304.74 688.63 L304.81 686.84 L304.88 685.00 L304.96 683.12 L305.03 681.25 L305.11 679.38 L305.19 677.50 L305.27 675.62 L305.35 673.75 L305.43 671.88 L305.51 670.00 L305.60 668.12 L305.68 666.25 L305.77 664.38 L305.85 662.50 L305.94 660.62 L306.03 658.75 L306.12 656.88 L306.21 655.00 L306.30 653.12 L306.39 651.25 L306.48 649.38 L306.58 647.50 L306.67 645.62 L306.76 643.75 L306.86 641.88 L306.95 640.00 L307.05 638.12 L307.14 636.25 L307.24 634.38 L307.33 632.50 L307.43 630.62 L307.53 628.75 L307.63 626.88 L307.73 625.00 L307.83 623.09 L307.94 621.13 L308.06 619.16 L308.17 617.19 L308.28 615.26 L308.39 613.40 L308.49 611.64 L308.59 610.00 L308.68 608.50 L308.76 607.10 L308.84 605.80 L308.92 604.56 L308.99 603.38 L309.06 602.24 L309.13 601.12 L309.21 600.00 L309.27 598.92 L309.34 597.92 L309.40 596.96 L309.46 596.03 L309.52 595.10 L309.59 594.13 L309.65 593.11 L309.72 592.00 L309.80 590.76 L309.89 589.40 L309.97 587.96 L310.06 586.49 L310.15 585.06 L310.24 583.72 L310.32 582.51 L310.40 581.50 L310.47 580.64 L310.55 579.87 L310.62 579.20 L310.68 578.63 L310.75 578.18 L310.82 577.85 L310.88 577.65 L310.95 577.60 L311.01 577.71 L311.06 577.99 L311.10 578.41 L311.15 578.94 L311.20 579.58 L311.28 580.28 L311.37 581.03 L311.50 581.80 L311.67 582.64 L311.89 583.60 L312.14 584.63 L312.40 585.72 L312.66 586.84 L312.90 587.94 L313.11 589.01 L313.26 590.00 L313.36 590.89 L313.42 591.69 L313.44 592.45 L313.45 593.20 L313.44 593.99 L313.44 594.86 L313.44 595.85 L313.46 597.00 L313.49 598.29 L313.52 599.66 L313.55 601.13 L313.58 602.69 L313.62 604.35 L313.66 606.12 L313.71 608.00 L313.76 610.00 L313.82 612.17 L313.89 614.51 L313.96 616.99 L314.04 619.56 L314.12 622.19 L314.20 624.84 L314.27 627.45 L314.34 630.00 L314.41 632.50 L314.48 635.00 L314.55 637.50 L314.62 640.00 L314.68 642.50 L314.75 645.00 L314.82 647.50 L314.88 650.00 L314.95 652.50 L315.02 655.00 L315.09 657.50 L315.16 660.00 L315.23 662.50 L315.30 665.00 L315.37 667.50 L315.44 670.00 L315.51 672.57 L315.58 675.23 L315.66 677.94 L315.73 680.62 L315.81 683.23 L315.88 685.70 L315.94 687.98 L316.00 690.00 L316.04 691.69 L316.06 693.09 L316.08 694.26 L316.09 695.31 L316.11 696.32 L316.14 697.38 L316.20 698.58 L316.28 700.00 L316.39 701.64 L316.52 703.40 L316.68 705.26 L316.84 707.19 L317.02 709.16 L317.19 711.13 L317.36 713.09 L317.52 715.00 L317.67 716.88 L317.82 718.75 L317.96 720.62 L318.11 722.50 L318.25 724.38 L318.39 726.25 L318.52 728.12 L318.64 730.00 L318.76 731.89 L318.86 733.80 L318.96 735.71 L319.06 737.62 L319.14 739.52 L319.23 741.39 L319.32 743.22 L319.40 745.00 L319.48 746.75 L319.56 748.50 L319.63 750.22 L319.70 751.91 L319.76 753.54 L319.83 755.11 L319.91 756.60 L319.99 758.00 L320.08 759.34 L320.19 760.64 L320.30 761.89 L320.41 763.06 L320.51 764.13 L320.61 765.08 L320.69 765.88 L320.75 766.50 L320.81 766.72 L320.89 767.05 L320.98 767.45 L321.09 767.88 L321.20 768.28 L321.32 768.63 L321.43 768.89 L321.55 769.00 L321.67 768.96 L321.79 768.81 L321.91 768.57 L322.04 768.26 L322.17 767.93 L322.30 767.58 L322.42 767.27 L322.55 767.00 L322.68 766.75 L322.80 766.49 L322.93 766.21 L323.06 765.95 L323.18 765.71 L323.31 765.51 L323.43 765.37 L323.55 765.30 L323.67 765.29 L323.78 765.34 L323.89 765.42 L324.01 765.56 L324.12 765.73 L324.23 765.95 L324.34 766.21 L324.45 766.50 L324.56 766.87 L324.68 767.33 L324.79 767.85 L324.91 768.40 L325.02 768.95 L325.13 769.47 L325.24 769.93 L325.35 770.30 L325.46 770.59 L325.56 770.85 L325.67 771.06 L325.77 771.23 L325.87 771.36 L325.97 771.45 L326.06 771.50 L326.15 771.50 L326.24 771.47 L326.32 771.42 L326.39 771.33 L326.47 771.20 L326.54 771.01 L326.61 770.75 L326.68 770.42 L326.75 770.00 L326.82 769.52 L326.88 769.00 L326.95 768.43 L327.01 767.78 L327.07 767.03 L327.13 766.17 L327.18 765.16 L327.23 764.00 L327.27 762.64 L327.31 761.09 L327.34 759.38 L327.37 757.56 L327.40 755.67 L327.43 753.76 L327.46 751.85 L327.49 750.00 L327.53 748.17 L327.56 746.32 L327.59 744.45 L327.63 742.56 L327.66 740.67 L327.70 738.77 L327.73 736.88 L327.76 735.00 L327.80 733.16 L327.83 731.37 L327.86 729.59 L327.90 727.81 L327.93 725.99 L327.97 724.10 L328.01 722.11 L328.05 720.00 L328.09 717.71 L328.13 715.23 L328.18 712.65 L328.22 710.00 L328.27 707.35 L328.32 704.77 L328.37 702.29 L328.42 700.00 L328.48 697.89 L328.54 695.90 L328.60 694.01 L328.66 692.19 L328.73 690.41 L328.79 688.63 L328.86 686.84 L328.93 685.00 L329.01 683.12 L329.08 681.25 L329.16 679.38 L329.24 677.50 L329.32 675.62 L329.40 673.75 L329.48 671.88 L329.56 670.00 L329.65 668.12 L329.73 666.25 L329.82 664.38 L329.90 662.50 L329.99 660.62 L330.08 658.75 L330.17 656.88 L330.26 655.00 L330.35 653.12 L330.44 651.25 L330.53 649.38 L330.63 647.50 L330.72 645.62 L330.81 643.75 L330.91 641.88 L331.00 640.00 L331.10 638.12 L331.19 636.25 L331.29 634.38 L331.38 632.50 L331.48 630.62 L331.58 628.75 L331.68 626.88 L331.78 625.00 L331.88 623.09 L331.99 621.13 L332.11 619.16 L332.22 617.19 L332.33 615.26 L332.44 613.40 L332.54 611.64 L332.64 610.00 L332.73 608.50 L332.81 607.10 L332.89 605.80 L332.97 604.56 L333.04 603.38 L333.11 602.24 L333.18 601.12 L333.26 600.00 L333.32 598.92 L333.39 597.92 L333.45 596.96 L333.51 596.03 L333.57 595.10 L333.64 594.13 L333.70 593.11 L333.77 592.00 L333.85 590.76 L333.94 589.40 L334.02 587.96 L334.11 586.49 L334.20 585.06 L334.29 583.72 L334.37 582.51 L334.45 581.50 L334.52 580.64 L334.60 579.87 L334.67 579.20 L334.73 578.63 L334.80 578.18 L334.87 577.85 L334.93 577.65 L335.00 577.60 L335.06 577.71 L335.11 577.99 L335.15 578.41 L335.20 578.94 L335.25 579.58 L335.33 580.28 L335.42 581.03 L335.55 581.80 L335.72 582.64 L335.94 583.60 L336.19 584.63 L336.45 585.72 L336.71 586.84 L336.95 587.94 L337.16 589.01 L337.31 590.00 L337.41 590.89 L337.47 591.69 L337.49 592.45 L337.50 593.20 L337.49 593.99 L337.49 594.86 L337.49 595.85 L337.51 597.00 L337.54 598.29 L337.57 599.66 L337.60 601.13 L337.63 602.69 L337.67 604.35 L337.71 606.12 L337.76 608.00 L337.81 610.00 L337.87 612.17 L337.94 614.51 L338.01 616.99 L338.09 619.56 L338.17 622.19 L338.25 624.84 L338.32 627.45 L338.39 630.00 L338.46 632.50 L338.53 635.00 L338.60 637.50 L338.67 640.00 L338.73 642.50 L338.80 645.00 L338.87 647.50 L338.93 650.00 L339.00 652.50 L339.07 655.00 L339.14 657.50 L339.21 660.00 L339.28 662.50 L339.35 665.00 L339.42 667.50 L339.49 670.00 L339.56 672.57 L339.63 675.23 L339.71 677.94 L339.78 680.62 L339.86 683.23 L339.93 685.70 L339.99 687.98 L340.05 690.00 L340.09 691.69 L340.11 693.09 L340.13 694.26 L340.14 695.31 L340.16 696.32 L340.19 697.38 L340.25 698.58 L340.33 700.00 L340.44 701.64 L340.57 703.40 L340.73 705.26 L340.89 707.19 L341.07 709.16 L341.24 711.13 L341.41 713.09 L341.57 715.00 L341.72 716.88 L341.87 718.75 L342.01 720.62 L342.16 722.50 L342.30 724.38 L342.44 726.25 L342.57 728.12 L342.69 730.00 L342.81 731.89 L342.91 733.80 L343.01 735.71 L343.11 737.62 L343.19 739.52 L343.28 741.39 L343.37 743.22 L343.45 745.00 L343.53 746.75 L343.61 748.50 L343.68 750.22 L343.75 751.91 L343.81 753.54 L343.88 755.11 L343.96 756.60 L344.04 758.00 L344.13 759.34 L344.24 760.64 L344.35 761.89 L344.46 763.06 L344.56 764.13 L344.66 765.08 L344.74 765.88 L344.80 766.50 L344.86 766.72 L344.94 767.05 L345.03 767.45 L345.14 767.88 L345.25 768.28 L345.37 768.63 L345.48 768.89 L345.60 769.00 L345.72 768.96 L345.84 768.81 L345.96 768.57 L346.09 768.26 L346.22 767.93 L346.35 767.58 L346.47 767.27 L346.60 767.00 L346.73 766.75 L346.85 766.49 L346.98 766.21 L347.11 765.95 L347.23 765.71 L347.36 765.51 L347.48 765.37 L347.60 765.30 L347.72 765.29 L347.83 765.34 L347.94 765.42 L348.06 765.56 L348.17 765.73 L348.28 765.95 L348.39 766.21 L348.50 766.50 L348.61 766.87 L348.73 767.33 L348.84 767.85 L348.96 768.40 L349.07 768.95 L349.18 769.47 L349.29 769.93 L349.40 770.30 L349.51 770.59 L349.61 770.85 L349.72 771.06 L349.82 771.23 L349.92 771.36 L350.02 771.45 L350.11 771.50 L350.20 771.50 L350.29 771.47 L350.37 771.42 L350.44 771.33 L350.52 771.20 L350.59 771.01 L350.66 770.75 L350.73 770.42 L350.80 770.00 L350.87 769.52 L350.93 769.00 L351.00 768.43 L351.06 767.78 L351.12 767.03 L351.18 766.17 L351.23 765.16 L351.28 764.00 L351.32 762.64 L351.36 761.09 L351.39 759.38 L351.42 757.56 L351.45 755.67 L351.48 753.76 L351.51 751.85 L351.54 750.00 L351.58 748.17 L351.61 746.32 L351.64 744.45 L351.68 742.56 L351.71 740.67 L351.75 738.77 L351.78 736.88 L351.81 735.00 L351.85 733.16 L351.88 731.37 L351.91 729.59 L351.95 727.81 L351.98 725.99 L352.02 724.10 L352.06 722.11 L352.10 720.00 L352.14 717.71 L352.18 715.23 L352.23 712.65 L352.27 710.00 L352.32 707.35 L352.37 704.77 L352.42 702.29 L352.47 700.00 L352.53 697.89 L352.59 695.90 L352.65 694.01 L352.71 692.19 L352.78 690.41 L352.84 688.63 L352.91 686.84 L352.98 685.00 L353.06 683.12 L353.13 681.25 L353.21 679.38 L353.29 677.50 L353.37 675.62 L353.45 673.75 L353.53 671.88 L353.61 670.00 L353.70 668.12 L353.78 666.25 L353.87 664.38 L353.95 662.50 L354.04 660.62 L354.13 658.75 L354.22 656.88 L354.31 655.00 L354.40 653.12 L354.49 651.25 L354.58 649.38 L354.68 647.50 L354.77 645.62 L354.86 643.75 L354.96 641.88 L355.05 640.00 L355.15 638.12 L355.24 636.25 L355.34 634.38 L355.43 632.50 L355.53 630.62 L355.63 628.75 L355.73 626.88 L355.83 625.00 L355.93 623.09 L356.04 621.13 L356.16 619.16 L356.27 617.19 L356.38 615.26 L356.49 613.40 L356.59 611.64 L356.69 610.00 L356.78 608.50 L356.86 607.10 L356.94 605.80 L357.02 604.56 L357.09 603.38 L357.16 602.24 L357.23 601.12 L357.31 600.00 L357.37 598.92 L357.44 597.92 L357.50 596.96 L357.56 596.03 L357.62 595.10 L357.69 594.13 L357.75 593.11 L357.82 592.00 L357.90 590.76 L357.99 589.40 L358.07 587.96 L358.16 586.49 L358.25 585.06 L358.34 583.72 L358.42 582.51 L358.50 581.50 L358.57 580.64 L358.65 579.87 L358.72 579.20 L358.78 578.63 L358.85 578.18 L358.92 577.85 L358.98 577.65 L359.05 577.60 L359.11 577.71 L359.16 577.99 L359.20 578.41 L359.25 578.94 L359.30 579.58 L359.38 580.28 L359.47 581.03 L359.60 581.80 L359.77 582.64 L359.99 583.60 L360.24 584.63 L360.50 585.72 L360.76 586.84 L361.00 587.94 L361.21 589.01 L361.36 590.00 L361.46 590.89 L361.52 591.69 L361.54 592.45 L361.55 593.20 L361.54 593.99 L361.54 594.86 L361.54 595.85 L361.56 597.00 L361.59 598.29 L361.62 599.66 L361.65 601.13 L361.68 602.69 L361.72 604.35 L361.76 606.12 L361.81 608.00 L361.86 610.00 L361.92 612.17 L361.99 614.51 L362.06 616.99 L362.14 619.56 L362.22 622.19 L362.30 624.84 L362.37 627.45 L362.44 630.00 L362.51 632.50 L362.58 635.00 L362.65 637.50 L362.72 640.00 L362.78 642.50 L362.85 645.00 L362.92 647.50 L362.98 650.00 L363.05 652.50 L363.12 655.00 L363.19 657.50 L363.26 660.00 L363.33 662.50 L363.40 665.00 L363.47 667.50 L363.54 670.00 L363.61 672.57 L363.68 675.23 L363.76 677.94 L363.83 680.62 L363.91 683.23 L363.98 685.70 L364.04 687.98 L364.10 690.00 L364.14 691.69 L364.16 693.09 L364.18 694.26 L364.19 695.31 L364.21 696.32 L364.24 697.38 L364.30 698.58 L364.38 700.00 L364.49 701.64 L364.62 703.40 L364.78 705.26 L364.94 707.19 L365.12 709.16 L365.29 711.13 L365.46 713.09 L365.62 715.00 L365.77 716.88 L365.92 718.75 L366.06 720.62 L366.21 722.50 L366.35 724.38 L366.49 726.25 L366.62 728.12 L366.74 730.00 L366.86 731.89 L366.96 733.80 L367.06 735.71 L367.16 737.62 L367.24 739.52 L367.33 741.39 L367.42 743.22 L367.50 745.00 L367.58 746.75 L367.66 748.50 L367.73 750.22 L367.80 751.91 L367.86 753.54 L367.93 755.11 L368.01 756.60 L368.09 758.00 L368.18 759.34 L368.29 760.64 L368.40 761.89 L368.51 763.06 L368.61 764.13 L368.71 765.08 L368.79 765.88 L368.85 766.50 L368.91 766.72 L368.99 767.05 L369.08 767.45 L369.19 767.88 L369.30 768.28 L369.42 768.63 L369.53 768.89 L369.65 769.00 L369.77 768.96 L369.89 768.81 L370.01 768.57 L370.14 768.26 L370.27 767.93 L370.40 767.58 L370.52 767.27 L370.65 767.00 L370.78 766.75 L370.90 766.49 L371.03 766.21 L371.16 765.95 L371.28 765.71 L371.41 765.51 L371.53 765.37 L371.65 765.30 L371.77 765.29 L371.88 765.34 L371.99 765.42 L372.11 765.56 L372.22 765.73 L372.33 765.95 L372.44 766.21 L372.55 766.50 L372.66 766.87 L372.78 767.33 L372.89 767.85 L373.01 768.40 L373.12 768.95 L373.23 769.47 L373.34 769.93 L373.45 770.30 L373.56 770.59 L373.66 770.85 L373.77 771.06 L373.87 771.23 L373.97 771.36 L374.07 771.45 L374.16 771.50 L374.25 771.50 L374.34 771.47 L374.42 771.42 L374.49 771.33 L374.57 771.20 L374.64 771.01 L374.71 770.75 L374.78 770.42 L374.85 770.00 L374.92 769.52 L374.98 769.00 L375.05 768.43 L375.11 767.78 L375.17 767.03 L375.23 766.17 L375.28 765.16 L375.33 764.00 L375.37 762.64 L375.41 761.09 L375.44 759.38 L375.47 757.56 L375.50 755.67 L375.53 753.76 L375.56 751.85 L375.59 750.00 L375.63 748.17 L375.66 746.32 L375.69 744.45 L375.73 742.56 L375.76 740.67 L375.80 738.77 L375.83 736.88 L375.86 735.00 L375.90 733.16 L375.93 731.37 L375.96 729.59 L376.00 727.81 L376.03 725.99 L376.07 724.10 L376.11 722.11 L376.15 720.00 L376.19 717.71 L376.23 715.23 L376.28 712.65 L376.32 710.00 L376.37 707.35 L376.42 704.77 L376.47 702.29 L376.52 700.00 L376.58 697.89 L376.64 695.90 L376.70 694.01 L376.76 692.19 L376.83 690.41 L376.89 688.63 L376.96 686.84 L377.03 685.00 L377.11 683.12 L377.18 681.25 L377.26 679.38 L377.34 677.50 L377.42 675.62 L377.50 673.75 L377.58 671.88 L377.66 670.00 L377.75 668.12 L377.83 666.25 L377.92 664.38 L378.00 662.50 L378.09 660.62 L378.18 658.75 L378.27 656.88 L378.36 655.00 L378.45 653.12 L378.54 651.25 L378.63 649.38 L378.73 647.50 L378.82 645.62 L378.91 643.75 L379.01 641.88 L379.10 640.00 L379.20 638.12 L379.29 636.25 L379.39 634.38 L379.48 632.50 L379.58 630.62 L379.68 628.75 L379.78 626.88 L379.88 625.00 L379.98 623.09 L380.09 621.13 L380.21 619.16 L380.32 617.19 L380.43 615.26 L380.54 613.40 L380.64 611.64 L380.74 610.00 L380.83 608.50 L380.91 607.10 L380.99 605.80 L381.07 604.56 L381.14 603.38 L381.21 602.24 L381.28 601.12 L381.36 600.00 L381.42 598.92 L381.49 597.92 L381.55 596.96 L381.61 596.03 L381.67 595.10 L381.74 594.13 L381.80 593.11 L381.87 592.00 L381.95 590.76 L382.04 589.40 L382.12 587.96 L382.21 586.49 L382.30 585.06 L382.39 583.72 L382.47 582.51 L382.55 581.50 L382.62 580.64 L382.70 579.87 L382.77 579.20 L382.83 578.63 L382.90 578.18 L382.97 577.85 L383.03 577.65 L383.10 577.60 L383.16 577.71 L383.21 577.99 L383.25 578.41 L383.30 578.94 L383.35 579.58 L383.43 580.28 L383.52 581.03 L383.65 581.80 L383.82 582.64 L384.04 583.60 L384.29 584.63 L384.55 585.72 L384.81 586.84 L385.05 587.94 L385.26 589.01 L385.41 590.00 L385.51 590.89 L385.57 591.69 L385.59 592.45 L385.60 593.20 L385.59 593.99 L385.59 594.86 L385.59 595.85 L385.61 597.00 L385.64 598.29 L385.67 599.66 L385.70 601.13 L385.73 602.69 L385.77 604.35 L385.81 606.12 L385.86 608.00 L385.91 610.00 L385.97 612.17 L386.04 614.51 L386.11 616.99 L386.19 619.56 L386.27 622.19 L386.35 624.84 L386.42 627.45 L386.49 630.00 L386.56 632.50 L386.63 635.00 L386.70 637.50 L386.77 640.00 L386.83 642.50 L386.90 645.00 L386.97 647.50 L387.03 650.00 L387.10 652.50 L387.17 655.00 L387.24 657.50 L387.31 660.00 L387.38 662.50 L387.45 665.00 L387.52 667.50 L387.59 670.00 L387.66 672.57 L387.73 675.23 L387.81 677.94 L387.88 680.62 L387.96 683.23 L388.03 685.70 L388.09 687.98 L388.15 690.00 L388.19 691.69 L388.21 693.09 L388.23 694.26 L388.24 695.31 L388.26 696.32 L388.29 697.38 L388.35 698.58 L388.43 700.00 L388.54 701.64 L388.67 703.40 L388.83 705.26 L388.99 707.19 L389.17 709.16 L389.34 711.13 L389.51 713.09 L389.67 715.00 L389.82 716.88 L389.97 718.75 L390.11 720.62 L390.26 722.50 L390.40 724.38 L390.54 726.25 L390.67 728.12 L390.79 730.00 L390.91 731.89 L391.01 733.80 L391.11 735.71 L391.21 737.62 L391.29 739.52 L391.38 741.39 L391.47 743.22 L391.55 745.00 L391.63 746.75 L391.71 748.50 L391.78 750.22 L391.85 751.91 L391.91 753.54 L391.98 755.11 L392.06 756.60 L392.14 758.00 L392.23 759.34 L392.34 760.64 L392.45 761.89 L392.56 763.06 L392.66 764.13 L392.76 765.08 L392.84 765.88 L392.90 766.50 L392.96 766.72 L393.04 767.05 L393.13 767.45 L393.24 767.88 L393.35 768.28 L393.47 768.63 L393.58 768.89 L393.70 769.00 L393.82 768.96 L393.94 768.81 L394.06 768.57 L394.19 768.26 L394.32 767.93 L394.45 767.58 L394.57 767.27 L394.70 767.00 L394.83 766.75 L394.95 766.49 L395.08 766.21 L395.21 765.95 L395.33 765.71 L395.46 765.51 L395.58 765.37 L395.70 765.30 L395.82 765.29 L395.93 765.34 L396.04 765.42 L396.16 765.56 L396.27 765.73 L396.38 765.95 L396.49 766.21 L396.60 766.50 L396.71 766.87 L396.83 767.33 L396.94 767.85 L397.06 768.40 L397.17 768.95 L397.28 769.47 L397.39 769.93 L397.50 770.30 L397.61 770.59 L397.71 770.85 L397.82 771.06 L397.92 771.23 L398.02 771.36 L398.12 771.45 L398.21 771.50 L398.30 771.50 L398.39 771.47 L398.47 771.42 L398.54 771.33 L398.62 771.20 L398.69 771.01 L398.76 770.75 L398.83 770.42 L398.90 770.00 L398.97 769.52 L399.03 769.00 L399.10 768.43 L399.16 767.78 L399.22 767.03 L399.28 766.17 L399.33 765.16 L399.38 764.00 L399.42 762.64 L399.46 761.09 L399.49 759.38 L399.52 757.56 L399.55 755.67 L399.58 753.76 L399.61 751.85 L399.64 750.00 L399.68 748.17 L399.71 746.32 L399.74 744.45 L399.78 742.56 L399.81 740.67 L399.85 738.77 L399.88 736.88 L399.91 735.00 L399.95 733.16 L399.98 731.37 L400.01 729.59 L400.05 727.81 L400.08 725.99 L400.12 724.10 L400.16 722.11 L400.20 720.00 L400.24 717.71 L400.28 715.23 L400.33 712.65 L400.37 710.00 L400.42 707.35 L400.47 704.77 L400.52 702.29 L400.57 700.00 L400.63 697.89 L400.69 695.90 L400.75 694.01 L400.81 692.19 L400.88 690.41 L400.94 688.63 L401.01 686.84 L401.08 685.00 L401.16 683.12 L401.23 681.25 L401.31 679.38 L401.39 677.50 L401.47 675.62 L401.55 673.75 L401.63 671.88 L401.71 670.00 L401.80 668.12 L401.88 666.25 L401.97 664.38 L402.05 662.50 L402.14 660.62 L402.23 658.75 L402.32 656.88 L402.41 655.00 L402.50 653.12 L402.59 651.25 L402.68 649.38 L402.78 647.50 L402.87 645.62 L402.96 643.75 L403.06 641.88 L403.15 640.00 L403.25 638.12 L403.34 636.25 L403.44 634.38 L403.53 632.50 L403.63 630.62 L403.73 628.75 L403.83 626.88 L403.93 625.00 L404.03 623.09 L404.14 621.13 L404.26 619.16 L404.37 617.19 L404.48 615.26 L404.59 613.40 L404.69 611.64 L404.79 610.00 L404.88 608.50 L404.96 607.10 L405.04 605.80 L405.12 604.56 L405.19 603.38 L405.26 602.24 L405.33 601.12 L405.41 600.00 L405.47 598.92 L405.54 597.92 L405.60 596.96 L405.66 596.03 L405.72 595.10 L405.79 594.13 L405.85 593.11 L405.92 592.00 L406.00 590.76 L406.09 589.40 L406.17 587.96 L406.26 586.49 L406.35 585.06 L406.44 583.72 L406.52 582.51 L406.60 581.50 L406.67 580.64 L406.75 579.87 L406.82 579.20 L406.88 578.63 L406.95 578.18 L407.02 577.85 L407.08 577.65 L407.15 577.60 L407.21 577.71 L407.26 577.99 L407.30 578.41 L407.35 578.94 L407.40 579.58 L407.48 580.28 L407.57 581.03 L407.70 581.80 L407.87 582.64 L408.09 583.60 L408.34 584.63 L408.60 585.72 L408.86 586.84 L409.10 587.94 L409.31 589.01 L409.46 590.00 L409.56 590.89 L409.62 591.69 L409.64 592.45 L409.65 593.20 L409.64 593.99 L409.64 594.86 L409.64 595.85 L409.66 597.00 L409.69 598.29 L409.72 599.66 L409.75 601.13 L409.78 602.69 L409.82 604.35 L409.86 606.12 L409.91 608.00 L409.96 610.00 L410.02 612.17 L410.09 614.51 L410.16 616.99 L410.24 619.56 L410.32 622.19 L410.40 624.84 L410.47 627.45 L410.54 630.00 L410.61 632.50 L410.68 635.00 L410.75 637.50 L410.82 640.00 L410.88 642.50 L410.95 645.00 L411.02 647.50 L411.08 650.00 L411.15 652.50 L411.22 655.00 L411.29 657.50 L411.36 660.00 L411.43 662.50 L411.50 665.00 L411.57 667.50 L411.64 670.00 L411.71 672.57 L411.78 675.23 L411.86 677.94 L411.93 680.62 L412.01 683.23 L412.08 685.70 L412.14 687.98 L412.20 690.00 L412.24 691.69 L412.26 693.09 L412.28 694.26 L412.29 695.31 L412.31 696.32 L412.34 697.38 L412.40 698.58 L412.48 700.00 L412.59 701.64 L412.72 703.40 L412.88 705.26 L413.04 707.19 L413.22 709.16 L413.39 711.13 L413.56 713.09 L413.72 715.00 L413.87 716.88 L414.02 718.75 L414.16 720.62 L414.31 722.50 L414.45 724.38 L414.59 726.25 L414.72 728.12 L414.84 730.00 L414.96 731.89 L415.06 733.80 L415.16 735.71 L415.26 737.62 L415.34 739.52 L415.43 741.39 L415.52 743.22 L415.60 745.00 L415.68 746.75 L415.76 748.50 L415.83 750.22 L415.90 751.91 L415.96 753.54 L416.03 755.11 L416.11 756.60 L416.19 758.00 L416.28 759.34 L416.39 760.64 L416.50 761.89 L416.61 763.06 L416.71 764.13 L416.81 765.08 L416.89 765.88 L416.95 766.50 L417.01 766.72 L417.09 767.05 L417.18 767.45 L417.29 767.88 L417.40 768.28 L417.52 768.63 L417.63 768.89 L417.75 769.00 L417.87 768.96 L417.99 768.81 L418.11 768.57 L418.24 768.26 L418.37 767.93 L418.50 767.58 L418.62 767.27 L418.75 767.00 L418.88 766.75 L419.00 766.49 L419.13 766.21 L419.26 765.95 L419.38 765.71 L419.51 765.51 L419.63 765.37 L419.75 765.30 L419.87 765.29 L419.98 765.34 L420.09 765.42 L420.21 765.56 L420.32 765.73 L420.43 765.95 L420.54 766.21 L420.65 766.50 L420.76 766.87 L420.88 767.33 L420.99 767.85 L421.11 768.40 L421.22 768.95 L421.33 769.47 L421.44 769.93 L421.55 770.30 L421.66 770.59 L421.76 770.85 L421.87 771.06 L421.97 771.23 L422.07 771.36 L422.17 771.45 L422.26 771.50 L422.35 771.50 L422.44 771.47 L422.52 771.42 L422.59 771.33 L422.67 771.20 L422.74 771.01 L422.81 770.75 L422.88 770.42 L422.95 770.00 L423.02 769.52 L423.08 769.00 L423.15 768.43 L423.21 767.78 L423.27 767.03 L423.33 766.17 L423.38 765.16 L423.43 764.00 L423.47 762.64 L423.51 761.09 L423.54 759.38 L423.57 757.56 L423.60 755.67 L423.63 753.76 L423.66 751.85 L423.69 750.00 L423.73 748.17 L423.76 746.32 L423.79 744.45 L423.83 742.56 L423.86 740.67 L423.90 738.77 L423.93 736.88 L423.96 735.00 L424.00 733.16 L424.03 731.37 L424.06 729.59 L424.10 727.81 L424.13 725.99 L424.17 724.10 L424.21 722.11 L424.25 720.00 L424.29 717.71 L424.33 715.23 L424.38 712.65 L424.42 710.00 L424.47 707.35 L424.52 704.77 L424.57 702.29 L424.62 700.00 L424.68 697.89 L424.74 695.90 L424.80 694.01 L424.86 692.19 L424.93 690.41 L424.99 688.63 L425.06 686.84 L425.13 685.00 L425.21 683.12 L425.28 681.25 L425.36 679.38 L425.44 677.50 L425.52 675.62 L425.60 673.75 L425.68 671.88 L425.76 670.00 L425.85 668.12 L425.93 666.25 L426.02 664.38 L426.10 662.50 L426.19 660.62 L426.28 658.75 L426.37 656.88 L426.46 655.00 L426.55 653.12 L426.64 651.25 L426.73 649.38 L426.83 647.50 L426.92 645.62 L427.01 643.75 L427.11 641.88 L427.20 640.00 L427.30 638.12 L427.39 636.25 L427.49 634.38 L427.58 632.50 L427.68 630.62 L427.78 628.75 L427.88 626.88 L427.98 625.00 L428.08 623.09 L428.19 621.13 L428.31 619.16 L428.42 617.19 L428.53 615.26 L428.64 613.40 L428.74 611.64 L428.84 610.00 L428.93 608.50 L429.01 607.10 L429.09 605.80 L429.17 604.56 L429.24 603.38 L429.31 602.24 L429.38 601.12 L429.46 600.00 L429.52 598.92 L429.59 597.92 L429.65 596.96 L429.71 596.03 L429.77 595.10 L429.84 594.13 L429.90 593.11 L429.97 592.00 L430.05 590.76 L430.14 589.40 L430.22 587.96 L430.31 586.49 L430.40 585.06 L430.49 583.72 L430.57 582.51 L430.65 581.50 L430.72 580.64 L430.80 579.87 L430.87 579.20 L430.93 578.63 L431.00 578.18 L431.07 577.85 L431.13 577.65 L431.20 577.60 L431.26 577.71 L431.31 577.99 L431.35 578.41 L431.40 578.94 L431.45 579.58 L431.53 580.28 L431.62 581.03 L431.75 581.80 L431.92 582.64 L432.14 583.60 L432.39 584.63 L432.65 585.72 L432.91 586.84 L433.15 587.94 L433.36 589.01 L433.51 590.00 L433.61 590.89 L433.67 591.69 L433.69 592.45 L433.70 593.20 L433.69 593.99 L433.69 594.86 L433.69 595.85 L433.71 597.00 L433.74 598.29 L433.77 599.66 L433.80 601.13 L433.83 602.69 L433.87 604.35 L433.91 606.12 L433.96 608.00 L434.01 610.00 L434.07 612.17 L434.14 614.51 L434.21 616.99 L434.29 619.56 L434.37 622.19 L434.45 624.84 L434.52 627.45 L434.59 630.00 L434.66 632.50 L434.73 635.00 L434.80 637.50 L434.87 640.00 L434.93 642.50 L435.00 645.00 L435.07 647.50 L435.13 650.00 L435.20 652.50 L435.27 655.00 L435.34 657.50 L435.41 660.00 L435.48 662.50 L435.55 665.00 L435.62 667.50 L435.69 670.00 L435.76 672.57 L435.83 675.23 L435.91 677.94 L435.98 680.62 L436.06 683.23 L436.13 685.70 L436.19 687.98 L436.25 690.00 L436.29 691.69 L436.31 693.09 L436.33 694.26 L436.34 695.31 L436.36 696.32 L436.39 697.38 L436.45 698.58 L436.53 700.00 L436.64 701.64 L436.77 703.40 L436.93 705.26 L437.09 707.19 L437.27 709.16 L437.44 711.13 L437.61 713.09 L437.77 715.00 L437.92 716.88 L438.07 718.75 L438.21 720.62 L438.36 722.50 L438.50 724.38 L438.64 726.25 L438.77 728.12 L438.89 730.00 L439.01 731.89 L439.11 733.80 L439.21 735.71 L439.31 737.62 L439.39 739.52 L439.48 741.39 L439.57 743.22 L439.65 745.00 L439.73 746.75 L439.81 748.50 L439.88 750.22 L439.95 751.91 L440.01 753.54 L440.08 755.11 L440.16 756.60 L440.24 758.00 L440.33 759.34 L440.44 760.64 L440.55 761.89 L440.66 763.06 L440.76 764.13 L440.86 765.08 L440.94 765.88 L441.00 766.50 L441.06 766.72 L441.14 767.05 L441.23 767.45 L441.34 767.88 L441.45 768.28 L441.57 768.63 L441.68 768.89 L441.80 769.00 L441.92 768.96 L442.04 768.81 L442.16 768.57 L442.29 768.26 L442.42 767.93 L442.55 767.58 L442.67 767.27 L442.80 767.00 L442.93 766.75 L443.05 766.49 L443.18 766.21 L443.31 765.95 L443.43 765.71 L443.56 765.51 L443.68 765.37 L443.80 765.30 L443.92 765.29 L444.03 765.34 L444.14 765.42 L444.26 765.56 L444.37 765.73 L444.48 765.95 L444.59 766.21 L444.70 766.50 L444.81 766.87 L444.93 767.33 L445.04 767.85 L445.16 768.40 L445.27 768.95 L445.38 769.47 L445.49 769.93 L445.60 770.30 L445.71 770.59 L445.81 770.85 L445.92 771.06 L446.02 771.23 L446.12 771.36 L446.22 771.45 L446.31 771.50 L446.40 771.50 L446.49 771.47 L446.57 771.42 L446.64 771.33 L446.72 771.20 L446.79 771.01 L446.86 770.75 L446.93 770.42 L447.00 770.00 L447.07 769.52 L447.13 769.00 L447.20 768.43 L447.26 767.78 L447.32 767.03 L447.38 766.17 L447.43 765.16 L447.48 764.00 L447.52 762.64 L447.56 761.09 L447.59 759.38 L447.62 757.56 L447.65 755.67 L447.68 753.76 L447.71 751.85 L447.74 750.00 L447.78 748.17 L447.81 746.32 L447.84 744.45 L447.88 742.56 L447.91 740.67 L447.95 738.77 L447.98 736.88 L448.01 735.00 L448.05 733.16 L448.08 731.37 L448.11 729.59 L448.15 727.81 L448.18 725.99 L448.22 724.10 L448.26 722.11 L448.30 720.00 L448.34 717.71 L448.38 715.23 L448.43 712.65 L448.47 710.00 L448.52 707.35 L448.57 704.77 L448.62 702.29 L448.67 700.00 L448.73 697.89 L448.79 695.90 L448.85 694.01 L448.91 692.19 L448.98 690.41 L449.04 688.63 L449.11 686.84 L449.18 685.00 L449.26 683.12 L449.33 681.25 L449.41 679.38 L449.49 677.50 L449.57 675.62 L449.65 673.75 L449.73 671.88 L449.81 670.00 L449.90 668.12 L449.98 666.25 L450.07 664.38 L450.15 662.50 L450.24 660.62 L450.33 658.75 L450.42 656.88 L450.51 655.00 L450.60 653.12 L450.69 651.25 L450.78 649.38 L450.88 647.50 L450.97 645.62 L451.06 643.75 L451.16 641.88 L451.25 640.00 L451.35 638.12 L451.44 636.25 L451.54 634.38 L451.63 632.50 L451.73 630.62 L451.83 628.75 L451.93 626.88 L452.03 625.00 L452.13 623.09 L452.24 621.13 L452.36 619.16 L452.47 617.19 L452.58 615.26 L452.69 613.40 L452.79 611.64 L452.89 610.00 L452.98 608.50 L453.06 607.10 L453.14 605.80 L453.22 604.56 L453.29 603.38 L453.36 602.24 L453.43 601.12 L453.51 600.00 L453.57 598.92 L453.64 597.92 L453.70 596.96 L453.76 596.03 L453.82 595.10 L453.89 594.13 L453.95 593.11 L454.02 592.00 L454.10 590.76 L454.19 589.40 L454.27 587.96 L454.36 586.49 L454.45 585.06 L454.54 583.72 L454.62 582.51 L454.70 581.50 L454.77 580.64 L454.85 579.87 L454.92 579.20 L454.98 578.63 L455.05 578.18 L455.12 577.85 L455.18 577.65 L455.25 577.60 L455.31 577.71 L455.36 577.99 L455.40 578.41 L455.45 578.94 L455.50 579.58 L455.58 580.28 L455.67 581.03 L455.80 581.80 L455.97 582.64 L456.19 583.60 L456.44 584.63 L456.70 585.72 L456.96 586.84 L457.20 587.94 L457.41 589.01 L457.56 590.00 L457.66 590.89 L457.72 591.69 L457.74 592.45 L457.75 593.20 L457.74 593.99 L457.74 594.86 L457.74 595.85 L457.76 597.00 L457.79 598.29 L457.82 599.66 L457.85 601.13 L457.88 602.69 L457.92 604.35 L457.96 606.12 L458.01 608.00 L458.06 610.00 L458.12 612.17 L458.19 614.51 L458.26 616.99 L458.34 619.56 L458.42 622.19 L458.50 624.84 L458.57 627.45 L458.64 630.00 L458.71 632.50 L458.78 635.00 L458.85 637.50 L458.92 640.00 L458.98 642.50 L459.05 645.00 L459.12 647.50 L459.18 650.00 L459.25 652.50 L459.32 655.00 L459.39 657.50 L459.46 660.00 L459.53 662.50 L459.60 665.00 L459.67 667.50 L459.74 670.00 L459.81 672.57 L459.88 675.23 L459.96 677.94 L460.03 680.62 L460.11 683.23 L460.18 685.70 L460.24 687.98 L460.30 690.00 L460.34 691.69 L460.36 693.09 L460.38 694.26 L460.39 695.31 L460.41 696.32 L460.44 697.38 L460.50 698.58 L460.58 700.00 L460.69 701.64 L460.82 703.40 L460.98 705.26 L461.14 707.19 L461.32 709.16 L461.49 711.13 L461.66 713.09 L461.82 715.00 L461.97 716.88 L462.12 718.75 L462.26 720.62 L462.41 722.50 L462.55 724.38 L462.69 726.25 L462.82 728.12 L462.94 730.00 L463.06 731.89 L463.16 733.80 L463.26 735.71 L463.36 737.62 L463.44 739.52 L463.53 741.39 L463.62 743.22 L463.70 745.00 L463.78 746.75 L463.86 748.50 L463.93 750.22 L464.00 751.91 L464.06 753.54 L464.13 755.11 L464.21 756.60 L464.29 758.00 L464.38 759.34 L464.49 760.64 L464.60 761.89 L464.71 763.06 L464.81 764.13 L464.91 765.08 L464.99 765.88 L465.05 766.50 L465.11 766.72 L465.19 767.05 L465.28 767.45 L465.39 767.88 L465.50 768.28 L465.62 768.63 L465.73 768.89 L465.85 769.00 L465.97 768.96 L466.09 768.81 L466.21 768.57 L466.34 768.26 L466.47 767.93 L466.60 767.58 L466.72 767.27 L466.85 767.00 L466.98 766.75 L467.10 766.49 L467.23 766.21 L467.36 765.95 L467.48 765.71 L467.61 765.51 L467.73 765.37 L467.85 765.30 L467.97 765.29 L468.08 765.34 L468.19 765.42 L468.31 765.56 L468.42 765.73 L468.53 765.95 L468.64 766.21 L468.75 766.50 L468.86 766.87 L468.98 767.33 L469.09 767.85 L469.21 768.40 L469.32 768.95 L469.43 769.47 L469.54 769.93 L469.65 770.30 L469.76 770.59 L469.86 770.85 L469.97 771.06 L470.07 771.23 L470.17 771.36 L470.27 771.45 L470.36 771.50 L470.45 771.50 L470.54 771.47 L470.62 771.42 L470.69 771.33 L470.77 771.20 L470.84 771.01 L470.91 770.75 L470.98 770.42 L471.05 770.00 L471.12 769.52 L471.18 769.00 L471.25 768.43 L471.31 767.78 L471.37 767.03 L471.43 766.17 L471.48 765.16 L471.53 764.00 L471.57 762.64 L471.61 761.09 L471.64 759.38 L471.67 757.56 L471.70 755.67 L471.73 753.76 L471.76 751.85 L471.79 750.00 L471.83 748.17 L471.86 746.32 L471.89 744.45 L471.93 742.56 L471.96 740.67 L472.00 738.77 L472.03 736.88 L472.06 735.00 L472.10 733.16 L472.13 731.37 L472.16 729.59 L472.20 727.81 L472.23 725.99 L472.27 724.10 L472.31 722.11 L472.35 720.00 L472.39 717.71 L472.43 715.23 L472.48 712.65 L472.52 710.00 L472.57 707.35 L472.62 704.77 L472.67 702.29 L472.72 700.00 L472.78 697.89 L472.84 695.90 L472.90 694.01 L472.96 692.19 L473.03 690.41 L473.09 688.63 L473.16 686.84 L473.23 685.00 L473.31 683.12 L473.38 681.25 L473.46 679.38 L473.54 677.50 L473.62 675.62 L473.70 673.75 L473.78 671.88 L473.86 670.00 L473.95 668.12 L474.03 666.25 L474.12 664.38 L474.20 662.50 L474.29 660.62 L474.38 658.75 L474.47 656.88 L474.56 655.00 L474.65 653.12 L474.74 651.25 L474.83 649.38 L474.93 647.50 L475.02 645.62 L475.11 643.75 L475.21 641.88 L475.30 640.00 L475.40 638.12 L475.49 636.25 L475.59 634.38 L475.68 632.50 L475.78 630.62 L475.88 628.75 L475.98 626.88 L476.08 625.00 L476.18 623.09 L476.29 621.13 L476.41 619.16 L476.52 617.19 L476.63 615.26 L476.74 613.40 L476.84 611.64 L476.94 610.00 L477.03 608.50 L477.11 607.10 L477.19 605.80 L477.27 604.56 L477.34 603.38 L477.41 602.24 L477.48 601.12 L477.56 600.00 L477.62 598.92 L477.69 597.92 L477.75 596.96 L477.81 596.03 L477.87 595.10 L477.94 594.13 L478.00 593.11 L478.07 592.00 L478.15 590.76 L478.24 589.40 L478.32 587.96 L478.41 586.49 L478.50 585.06 L478.59 583.72 L478.67 582.51 L478.75 581.50 L478.82 580.64 L478.90 579.87 L478.97 579.20 L479.03 578.63 L479.10 578.18 L479.17 577.85 L479.23 577.65 L479.30 577.60 L479.36 577.71 L479.41 577.99 L479.45 578.41 L479.50 578.94 L479.55 579.58 L479.63 580.28 L479.72 581.03 L479.85 581.80 L480.02 582.64 L480.24 583.60 L480.49 584.63 L480.75 585.72 L481.01 586.84 L481.25 587.94 L481.46 589.01 L481.61 590.00 L481.71 590.89 L481.77 591.69 L481.79 592.45 L481.80 593.20 L481.79 593.99 L481.79 594.86 L481.79 595.85 L481.81 597.00 L481.84 598.29 L481.87 599.66 L481.90 601.13 L481.93 602.69 L481.97 604.35 L482.01 606.12 L482.06 608.00 L482.11 610.00 L482.17 612.17 L482.24 614.51 L482.31 616.99 L482.39 619.56 L482.47 622.19 L482.55 624.84 L482.62 627.45 L482.69 630.00 L482.76 632.50 L482.83 635.00 L482.90 637.50 L482.97 640.00 L483.03 642.50 L483.10 645.00 L483.17 647.50 L483.23 650.00 L483.30 652.50 L483.37 655.00 L483.44 657.50 L483.51 660.00 L483.58 662.50 L483.65 665.00 L483.72 667.50 L483.79 670.00 L483.86 672.57 L483.93 675.23 L484.01 677.94 L484.08 680.62 L484.16 683.23 L484.23 685.70 L484.29 687.98 L484.35 690.00 L484.39 691.69 L484.41 693.09 L484.43 694.26 L484.44 695.31 L484.46 696.32 L484.49 697.38 L484.55 698.58 L484.63 700.00 L484.74 701.64 L484.87 703.40 L485.03 705.26 L485.19 707.19 L485.37 709.16 L485.54 711.13 L485.71 713.09 L485.87 715.00 L486.02 716.88 L486.17 718.75 L486.31 720.62 L486.46 722.50 L486.60 724.38 L486.74 726.25 L486.87 728.12 L486.99 730.00 L487.11 731.89 L487.21 733.80 L487.31 735.71 L487.41 737.62 L487.49 739.52 L487.58 741.39 L487.67 743.22 L487.75 745.00 L487.83 746.75 L487.91 748.50 L487.98 750.22 L488.05 751.91 L488.11 753.54 L488.18 755.11 L488.26 756.60 L488.34 758.00 L488.43 759.34 L488.54 760.64 L488.65 761.89 L488.76 763.06 L488.86 764.13 L488.96 765.08 L489.04 765.88 L489.10 766.50 L489.16 766.72 L489.24 767.05 L489.33 767.45 L489.44 767.88 L489.55 768.28 L489.67 768.63 L489.78 768.89 L489.90 769.00 L490.02 768.96 L490.14 768.81 L490.26 768.57 L490.39 768.26 L490.52 767.93 L490.65 767.58 L490.77 767.27 L490.90 767.00 L491.03 766.75 L491.15 766.49 L491.28 766.21 L491.41 765.95 L491.53 765.71 L491.66 765.51 L491.78 765.37 L491.90 765.30 L492.02 765.29 L492.13 765.34 L492.24 765.42 L492.36 765.56 L492.47 765.73 L492.58 765.95 L492.69 766.21 L492.80 766.50 L492.91 766.87 L493.03 767.33 L493.14 767.85 L493.26 768.40 L493.37 768.95 L493.48 769.47 L493.59 769.93 L493.70 770.30 L493.81 770.59 L493.91 770.85 L494.02 771.06 L494.12 771.23 L494.22 771.36 L494.32 771.45 L494.41 771.50 L494.50 771.50 L494.59 771.47 L494.67 771.42 L494.74 771.33 L494.82 771.20 L494.89 771.01 L494.96 770.75 L495.03 770.42 L495.10 770.00 L495.17 769.52 L495.23 769.00 L495.30 768.43 L495.36 767.78 L495.42 767.03 L495.48 766.17 L495.53 765.16 L495.58 764.00 L495.62 762.64 L495.66 761.09 L495.69 759.38 L495.72 757.56 L495.75 755.67 L495.78 753.76 L495.81 751.85 L495.84 750.00 L495.88 748.17 L495.91 746.32 L495.94 744.45 L495.98 742.56 L496.01 740.67 L496.05 738.77 L496.08 736.88 L496.11 735.00 L496.15 733.16 L496.18 731.37 L496.21 729.59 L496.25 727.81 L496.28 725.99 L496.32 724.10 L496.36 722.11 L496.40 720.00 L496.44 717.71 L496.48 715.23 L496.53 712.65 L496.57 710.00 L496.62 707.35 L496.67 704.77 L496.72 702.29 L496.77 700.00 L496.83 697.89 L496.89 695.90 L496.95 694.01 L497.01 692.19 L497.08 690.41 L497.14 688.63 L497.21 686.84 L497.28 685.00 L497.36 683.12 L497.43 681.25 L497.51 679.38 L497.59 677.50 L497.67 675.62 L497.75 673.75 L497.83 671.88 L497.91 670.00 L498.00 668.12 L498.08 666.25 L498.17 664.38 L498.25 662.50 L498.34 660.62 L498.43 658.75 L498.52 656.88 L498.61 655.00 L498.70 653.12 L498.79 651.25 L498.88 649.38 L498.98 647.50 L499.07 645.62 L499.16 643.75 L499.26 641.88 L499.35 640.00 L499.45 638.12 L499.54 636.25 L499.64 634.38 L499.73 632.50 L499.83 630.62 L499.93 628.75 L500.03 626.88 L500.13 625.00 L500.23 623.09 L500.34 621.13 L500.46 619.16 L500.57 617.19 L500.68 615.26 L500.79 613.40 L500.89 611.64 L500.99 610.00 L501.08 608.50 L501.16 607.10 L501.24 605.80 L501.32 604.56 L501.39 603.38 L501.46 602.24 L501.53 601.12 L501.61 600.00 L501.67 598.92 L501.74 597.92 L501.80 596.96 L501.86 596.03 L501.92 595.10 L501.99 594.13 L502.05 593.11 L502.12 592.00 L502.20 590.76 L502.29 589.40 L502.37 587.96 L502.46 586.49 L502.55 585.06 L502.64 583.72 L502.72 582.51 L502.80 581.50 L502.87 580.64 L502.95 579.87 L503.02 579.20 L503.08 578.63 L503.15 578.18 L503.22 577.85 L503.28 577.65 L503.35 577.60 L503.41 577.71 L503.46 577.99 L503.50 578.41 L503.55 578.94 L503.60 579.58 L503.68 580.28 L503.77 581.03 L503.90 581.80 L504.07 582.64 L504.29 583.60 L504.54 584.63 L504.80 585.72 L505.06 586.84 L505.30 587.94 L505.51 589.01 L505.66 590.00 L505.76 590.89 L505.82 591.69 L505.84 592.45 L505.85 593.20 L505.84 593.99 L505.84 594.86 L505.84 595.85 L505.86 597.00 L505.89 598.29 L505.92 599.66 L505.95 601.13 L505.98 602.69 L506.02 604.35 L506.06 606.12 L506.11 608.00 L506.16 610.00 L506.22 612.17 L506.29 614.51 L506.36 616.99 L506.44 619.56 L506.52 622.19 L506.60 624.84 L506.67 627.45 L506.74 630.00 L506.81 632.50 L506.88 635.00 L506.95 637.50 L507.02 640.00 L507.08 642.50 L507.15 645.00 L507.22 647.50 L507.28 650.00 L507.35 652.50 L507.42 655.00 L507.49 657.50 L507.56 660.00 L507.63 662.50 L507.70 665.00 L507.77 667.50 L507.84 670.00 L507.91 672.57 L507.98 675.23 L508.06 677.94 L508.13 680.62 L508.21 683.23 L508.28 685.70 L508.34 687.98 L508.40 690.00 L508.44 691.69 L508.46 693.09 L508.48 694.26 L508.49 695.31 L508.51 696.32 L508.54 697.38 L508.60 698.58 L508.68 700.00 L508.79 701.64 L508.92 703.40 L509.08 705.26 L509.24 707.19 L509.42 709.16 L509.59 711.13 L509.76 713.09 L509.92 715.00 L510.07 716.88 L510.22 718.75 L510.36 720.62 L510.51 722.50 L510.65 724.38 L510.79 726.25 L510.92 728.12 L511.04 730.00 L511.16 731.89 L511.26 733.80 L511.36 735.71 L511.46 737.62 L511.54 739.52 L511.63 741.39 L511.72 743.22 L511.80 745.00 L511.88 746.75 L511.96 748.50 L512.03 750.22 L512.10 751.91 L512.16 753.54 L512.23 755.11 L512.31 756.60 L512.39 758.00 L512.48 759.34 L512.59 760.64 L512.70 761.89 L512.81 763.06 L512.91 764.13 L513.01 765.08 L513.09 765.88 L513.15 766.50 L513.21 766.72 L513.29 767.05 L513.38 767.45 L513.49 767.88 L513.60 768.28 L513.72 768.63 L513.83 768.89 L513.95 769.00 L514.07 768.96 L514.19 768.81 L514.31 768.57 L514.44 768.26 L514.57 767.93 L514.70 767.58 L514.82 767.27 L514.95 767.00 L515.08 766.75 L515.20 766.49 L515.33 766.21 L515.46 765.95 L515.58 765.71 L515.71 765.51 L515.83 765.37 L515.95 765.30 L516.07 765.29 L516.18 765.34 L516.29 765.42 L516.41 765.56 L516.52 765.73 L516.63 765.95 L516.74 766.21 L516.85 766.50 L516.96 766.87 L517.08 767.33 L517.19 767.85 L517.31 768.40 L517.42 768.95 L517.53 769.47 L517.64 769.93 L517.75 770.30 L517.86 770.59 L517.96 770.85 L518.07 771.06 L518.17 771.23 L518.27 771.36 L518.37 771.45 L518.46 771.50 L518.55 771.50 L518.64 771.47 L518.72 771.42 L518.79 771.33 L518.87 771.20 L518.94 771.01 L519.01 770.75 L519.08 770.42 L519.15 770.00 L519.22 769.52 L519.28 769.00" stroke="#F0B73A"/>
<path d="M38.30 792.53 L38.55 782.94 L38.80 772.31 L39.05 760.54 L39.30 746.77 L39.55 733.07 L39.80 719.77 L40.05 706.56 L40.30 693.42 L40.55 680.28 L40.80 667.10 L41.05 653.84 L41.30 640.35 L41.55 626.31 L41.80 613.96 L42.05 603.10 L42.30 592.95 L42.55 585.64 L42.80 579.95 L43.05 574.33 L43.30 569.39 L43.55 565.11 L43.80 561.30 L44.05 557.90 L44.30 554.68 L44.55 551.76 L44.80 549.36 L45.05 547.49 L45.30 545.91 L45.55 544.76 L45.80 544.02 L46.05 543.41 L46.30 543.11 L46.55 543.25 L46.80 543.75 L47.05 544.45 L47.30 545.39 L47.55 546.82 L47.80 548.57 L48.05 550.73 L48.30 553.46 L48.55 556.59 L48.80 559.90 L49.05 563.53 L49.30 567.62 L49.55 572.24 L49.80 577.66 L50.05 583.35 L50.30 589.60 L50.55 598.92 L50.80 609.48 L51.05 621.10 L51.30 634.71 L51.55 648.49 L51.80 661.80 L52.05 675.02 L52.30 688.16 L52.55 701.31 L52.80 714.48 L53.05 727.73 L53.30 741.16 L53.55 755.23 L53.80 767.79 L54.05 778.76 L54.30 789.01 L54.55 796.66 L54.80 802.37 L55.05 808.03 L55.30 813.06 L55.55 817.38 L55.80 821.24 L56.05 824.67 L56.30 827.91 L56.55 830.86 L56.80 833.33 L57.05 835.24 L57.30 836.85 L57.55 838.05 L57.80 838.81 L58.05 839.44 L58.30 839.78 L58.55 839.69 L58.80 839.21 L59.05 838.52 L59.30 837.63 L59.55 836.25 L59.80 834.51 L60.05 832.42 L60.30 829.73 L60.55 826.64 L60.80 823.33 L61.05 819.75 L61.30 815.71 L61.55 811.16 L61.80 805.80 L62.05 800.11 L62.30 794.03 L62.55 785.02 L62.80 774.50 L63.05 763.03 L63.30 749.62 L63.55 735.75 L63.80 722.42 L64.05 709.20 L64.30 696.05 L64.55 682.91 L64.80 669.75 L65.05 656.50 L65.30 643.10 L65.55 629.06 L65.80 616.28 L66.05 605.19 L66.30 594.85 L66.55 586.86 L66.80 581.10 L67.05 575.42 L67.30 570.30 L67.55 565.93 L67.80 562.03 L68.05 558.56 L68.30 555.30 L68.55 552.31 L68.80 549.79 L69.05 547.84 L69.30 546.19 L69.55 544.95 L69.80 544.16 L70.05 543.52 L70.30 543.14 L70.55 543.18 L70.80 543.63 L71.05 544.30 L71.30 545.16 L71.55 546.50 L71.80 548.20 L72.05 550.25 L72.30 552.88 L72.55 555.94 L72.80 559.23 L73.05 562.77 L73.30 566.76 L73.55 571.25 L73.80 576.53 L74.05 582.23 L74.30 588.17 L74.55 596.85 L74.80 607.32 L75.05 618.66 L75.30 631.87 L75.55 645.80 L75.80 659.15 L76.05 672.39 L76.30 685.53 L76.55 698.68 L76.80 711.83 L77.05 725.08 L77.30 738.45 L77.55 752.44 L77.80 765.44 L78.05 776.65 L78.30 787.06 L78.55 795.39 L78.80 801.23 L79.05 806.93 L79.30 812.13 L79.55 816.56 L79.80 820.51 L80.05 824.00 L80.30 827.28 L80.55 830.31 L80.80 832.89 L81.05 834.88 L81.30 836.56 L81.55 837.85 L81.80 838.67 L82.05 839.33 L82.30 839.74 L82.55 839.74 L82.80 839.33 L83.05 838.67 L83.30 837.85 L83.55 836.56 L83.80 834.88 L84.05 832.89 L84.30 830.31 L84.55 827.28 L84.80 824.00 L85.05 820.51 L85.30 816.56 L85.55 812.13 L85.80 806.93 L86.05 801.23 L86.30 795.39 L86.55 787.06 L86.80 776.65 L87.05 765.44 L87.30 752.44 L87.55 738.45 L87.80 725.08 L88.05 711.83 L88.30 698.68 L88.55 685.53 L88.80 672.39 L89.05 659.15 L89.30 645.80 L89.55 631.87 L89.80 618.66 L90.05 607.32 L90.30 596.85 L90.55 588.17 L90.80 582.23 L91.05 576.53 L91.30 571.25 L91.55 566.76 L91.80 562.77 L92.05 559.23 L92.30 555.94 L92.55 552.88 L92.80 550.25 L93.05 548.20 L93.30 546.50 L93.55 545.16 L93.80 544.30 L94.05 543.63 L94.30 543.18 L94.55 543.14 L94.80 543.52 L95.05 544.16 L95.30 544.95 L95.55 546.19 L95.80 547.84 L96.05 549.79 L96.30 552.31 L96.55 555.30 L96.80 558.56 L97.05 562.03 L97.30 565.93 L97.55 570.30 L97.80 575.42 L98.05 581.10 L98.30 586.86 L98.55 594.85 L98.80 605.19 L99.05 616.28 L99.30 629.06 L99.55 643.10 L99.80 656.50 L100.05 669.75 L100.30 682.91 L100.55 696.05 L100.80 709.20 L101.05 722.42 L101.30 735.75 L101.55 749.62 L101.80 763.03 L102.05 774.50 L102.30 785.02 L102.55 794.03 L102.80 800.11 L103.05 805.80 L103.30 811.16 L103.55 815.71 L103.80 819.75 L104.05 823.33 L104.30 826.64 L104.55 829.73 L104.80 832.42 L105.05 834.51 L105.30 836.25 L105.55 837.63 L105.80 838.52 L106.05 839.21 L106.30 839.69 L106.55 839.78 L106.80 839.44 L107.05 838.81 L107.30 838.05 L107.55 836.85 L107.80 835.24 L108.05 833.33 L108.30 830.86 L108.55 827.91 L108.80 824.67 L109.05 821.24 L109.30 817.38 L109.55 813.06 L109.80 808.03 L110.05 802.37 L110.30 796.66 L110.55 789.01 L110.80 778.76 L111.05 767.79 L111.30 755.23 L111.55 741.16 L111.80 727.73 L112.05 714.48 L112.30 701.31 L112.55 688.16 L112.80 675.02 L113.05 661.80 L113.30 648.49 L113.55 634.71 L113.80 621.10 L114.05 609.48 L114.30 598.92 L114.55 589.60 L114.80 583.35 L115.05 577.66 L115.30 572.24 L115.55 567.62 L115.80 563.53 L116.05 559.90 L116.30 556.59 L116.55 553.46 L116.80 550.73 L117.05 548.57 L117.30 546.82 L117.55 545.39 L117.80 544.45 L118.05 543.75 L118.30 543.25 L118.55 543.11 L118.80 543.41 L119.05 544.02 L119.30 544.76 L119.55 545.91 L119.80 547.49 L120.05 549.36 L120.30 551.76 L120.55 554.68 L120.80 557.90 L121.05 561.30 L121.30 565.11 L121.55 569.39 L121.80 574.33 L122.05 579.95 L122.30 585.64 L122.55 592.95 L122.80 603.10 L123.05 613.96 L123.30 626.31 L123.55 640.35 L123.80 653.84 L124.05 667.10 L124.30 680.28 L124.55 693.42 L124.80 706.56 L125.05 719.77 L125.30 733.07 L125.55 746.77 L125.80 760.54 L126.05 772.31 L126.30 782.94 L126.55 792.53 L126.80 798.99 L127.05 804.67 L127.30 810.15 L127.55 814.85 L127.80 818.98 L128.05 822.65 L128.30 825.99 L128.55 829.14 L128.80 831.92 L129.05 834.14 L129.30 835.92 L129.55 837.39 L129.80 838.37 L130.05 839.09 L130.30 839.62 L130.55 839.80 L130.80 839.53 L131.05 838.95 L131.30 838.22 L131.55 837.13 L131.80 835.58 L132.05 833.75 L132.30 831.40 L132.55 828.53 L132.80 825.33 L133.05 821.96 L133.30 818.19 L133.55 813.96 L133.80 809.11 L134.05 803.52 L134.30 797.85 L134.55 790.85 L134.80 780.84 L135.05 770.08 L135.30 757.94 L135.55 743.95 L135.80 730.40 L136.05 717.12 L136.30 703.93 L136.55 690.79 L136.80 677.65 L137.05 664.45 L137.30 651.17 L137.55 637.54 L137.80 623.64 L138.05 611.70 L138.30 601.01 L138.55 591.19 L138.80 584.47 L139.05 578.80 L139.30 573.27 L139.55 568.49 L139.80 564.31 L140.05 560.59 L140.30 557.24 L140.55 554.06 L140.80 551.24 L141.05 548.95 L141.30 547.15 L141.55 545.64 L141.80 544.60 L142.05 543.88 L142.30 543.32 L142.55 543.10 L142.80 543.32 L143.05 543.88 L143.30 544.60 L143.55 545.64 L143.80 547.15 L144.05 548.95 L144.30 551.24 L144.55 554.06 L144.80 557.24 L145.05 560.59 L145.30 564.31 L145.55 568.49 L145.80 573.27 L146.05 578.80 L146.30 584.47 L146.55 591.19 L146.80 601.01 L147.05 611.70 L147.30 623.64 L147.55 637.54 L147.80 651.17 L148.05 664.45 L148.30 677.65 L148.55 690.79 L148.80 703.93 L149.05 717.12 L149.30 730.40 L149.55 743.95 L149.80 757.94 L150.05 770.08 L150.30 780.84 L150.55 790.85 L150.80 797.85 L151.05 803.52 L151.30 809.11 L151.55 813.96 L151.80 818.19 L152.05 821.96 L152.30 825.33 L152.55 828.53 L152.80 831.40 L153.05 833.75 L153.30 835.58 L153.55 837.13 L153.80 838.22 L154.05 838.95 L154.30 839.53 L154.55 839.80 L154.80 839.62 L155.05 839.09 L155.30 838.37 L155.55 837.39 L155.80 835.92 L156.05 834.14 L156.30 831.92 L156.55 829.14 L156.80 825.99 L157.05 822.65 L157.30 818.98 L157.55 814.85 L157.80 810.15 L158.05 804.67 L158.30 798.99 L158.55 792.53 L158.80 782.94 L159.05 772.31 L159.30 760.54 L159.55 746.77 L159.80 733.07 L160.05 719.77 L160.30 706.56 L160.55 693.42 L160.80 680.28 L161.05 667.10 L161.30 653.84 L161.55 640.35 L161.80 626.31 L162.05 613.96 L162.30 603.10 L162.55 592.95 L162.80 585.64 L163.05 579.95 L163.30 574.33 L163.55 569.39 L163.80 565.11 L164.05 561.30 L164.30 557.90 L164.55 554.68 L164.80 551.76 L165.05 549.36 L165.30 547.49 L165.55 545.91 L165.80 544.76 L166.05 544.02 L166.30 543.41 L166.55 543.11 L166.80 543.25 L167.05 543.75 L167.30 544.45 L167.55 545.39 L167.80 546.82 L168.05 548.57 L168.30 550.73 L168.55 553.46 L168.80 556.59 L169.05 559.90 L169.30 563.53 L169.55 567.62 L169.80 572.24 L170.05 577.66 L170.30 583.35 L170.55 589.60 L170.80 598.92 L171.05 609.48 L171.30 621.10 L171.55 634.71 L171.80 648.49 L172.05 661.80 L172.30 675.02 L172.55 688.16 L172.80 701.31 L173.05 714.48 L173.30 727.73 L173.55 741.16 L173.80 755.23 L174.05 767.79 L174.30 778.76 L174.55 789.01 L174.80 796.66 L175.05 802.37 L175.30 808.03 L175.55 813.06 L175.80 817.38 L176.05 821.24 L176.30 824.67 L176.55 827.91 L176.80 830.86 L177.05 833.33 L177.30 835.24 L177.55 836.85 L177.80 838.05 L178.05 838.81 L178.30 839.44 L178.55 839.78 L178.80 839.69 L179.05 839.21 L179.30 838.52 L179.55 837.63 L179.80 836.25 L180.05 834.51 L180.30 832.42 L180.55 829.73 L180.80 826.64 L181.05 823.33 L181.30 819.75 L181.55 815.71 L181.80 811.16 L182.05 805.80 L182.30 800.11 L182.55 794.03 L182.80 785.02 L183.05 774.50 L183.30 763.03 L183.55 749.62 L183.80 735.75 L184.05 722.42 L184.30 709.20 L184.55 696.05 L184.80 682.91 L185.05 669.75 L185.30 656.50 L185.55 643.10 L185.80 629.06 L186.05 616.28 L186.30 605.19 L186.55 594.85 L186.80 586.86 L187.05 581.10 L187.30 575.42 L187.55 570.30 L187.80 565.93 L188.05 562.03 L188.30 558.56 L188.55 555.30 L188.80 552.31 L189.05 549.79 L189.30 547.84 L189.55 546.19 L189.80 544.95 L190.05 544.16 L190.30 543.52 L190.55 543.14 L190.80 543.18 L191.05 543.63 L191.30 544.30 L191.55 545.16 L191.80 546.50 L192.05 548.20 L192.30 550.25 L192.55 552.88 L192.80 555.94 L193.05 559.23 L193.30 562.77 L193.55 566.76 L193.80 571.25 L194.05 576.53 L194.30 582.23 L194.55 588.17 L194.80 596.85 L195.05 607.32 L195.30 618.66 L195.55 631.87 L195.80 645.80 L196.05 659.15 L196.30 672.39 L196.55 685.53 L196.80 698.68 L197.05 711.83 L197.30 725.08 L197.55 738.45 L197.80 752.44 L198.05 765.44 L198.30 776.65 L198.55 787.06 L198.80 795.39 L199.05 801.23 L199.30 806.93 L199.55 812.13 L199.80 816.56 L200.05 820.51 L200.30 824.00 L200.55 827.28 L200.80 830.31 L201.05 832.89 L201.30 834.88 L201.55 836.56 L201.80 837.85 L202.05 838.67 L202.30 839.33 L202.55 839.74 L202.80 839.74 L203.05 839.33 L203.30 838.67 L203.55 837.85 L203.80 836.56 L204.05 834.88 L204.30 832.89 L204.55 830.31 L204.80 827.28 L205.05 824.00 L205.30 820.51 L205.55 816.56 L205.80 812.13 L206.05 806.93 L206.30 801.23 L206.55 795.39 L206.80 787.06 L207.05 776.65 L207.30 765.44 L207.55 752.44 L207.80 738.45 L208.05 725.08 L208.30 711.83 L208.55 698.68 L208.80 685.53 L209.05 672.39 L209.30 659.15 L209.55 645.80 L209.80 631.87 L210.05 618.66 L210.30 607.32 L210.55 596.85 L210.80 588.17 L211.05 582.23 L211.30 576.53 L211.55 571.25 L211.80 566.76 L212.05 562.77 L212.30 559.23 L212.55 555.94 L212.80 552.88 L213.05 550.25 L213.30 548.20 L213.55 546.50 L213.80 545.16 L214.05 544.30 L214.30 543.63 L214.55 543.18 L214.80 543.14 L215.05 543.52 L215.30 544.16 L215.55 544.95 L215.80 546.19 L216.05 547.84 L216.30 549.79 L216.55 552.31 L216.80 555.30 L217.05 558.56 L217.30 562.03 L217.55 565.93 L217.80 570.30 L218.05 575.42 L218.30 581.10 L218.55 586.86 L218.80 594.85 L219.05 605.19 L219.30 616.28 L219.55 629.06 L219.80 643.10 L220.05 656.50 L220.30 669.75 L220.55 682.91 L220.80 696.05 L221.05 709.20 L221.30 722.42 L221.55 735.75 L221.80 749.62 L222.05 763.03 L222.30 774.50 L222.55 785.02 L222.80 794.03 L223.05 800.11 L223.30 805.80 L223.55 811.16 L223.80 815.71 L224.05 819.75 L224.30 823.33 L224.55 826.64 L224.80 829.73 L225.05 832.42 L225.30 834.51 L225.55 836.25 L225.80 837.63 L226.05 838.52 L226.30 839.21 L226.55 839.69 L226.80 839.78 L227.05 839.44 L227.30 838.81 L227.55 838.05 L227.80 836.85 L228.05 835.24 L228.30 833.33 L228.55 830.86 L228.80 827.91 L229.05 824.67 L229.30 821.24 L229.55 817.38 L229.80 813.06 L230.05 808.03 L230.30 802.37 L230.55 796.66 L230.80 789.01 L231.05 778.76 L231.30 767.79 L231.55 755.23 L231.80 741.16 L232.05 727.73 L232.30 714.48 L232.55 701.31 L232.80 688.16 L233.05 675.02 L233.30 661.80 L233.55 648.49 L233.80 634.71 L234.05 621.10 L234.30 609.48 L234.55 598.92 L234.80 589.60 L235.05 583.35 L235.30 577.66 L235.55 572.24 L235.80 567.62 L236.05 563.53 L236.30 559.90 L236.55 556.59 L236.80 553.46 L237.05 550.73 L237.30 548.57 L237.55 546.82 L237.80 545.39 L238.05 544.45 L238.30 543.75 L238.55 543.25 L238.80 543.11 L239.05 543.41 L239.30 544.02 L239.55 544.76 L239.80 545.91 L240.05 547.49 L240.30 549.36 L240.55 551.76 L240.80 554.68 L241.05 557.90 L241.30 561.30 L241.55 565.11 L241.80 569.39 L242.05 574.33 L242.30 579.95 L242.55 585.64 L242.80 592.95 L243.05 603.10 L243.30 613.96 L243.55 626.31 L243.80 640.35 L244.05 653.84 L244.30 667.10 L244.55 680.28 L244.80 693.42 L245.05 706.56 L245.30 719.77 L245.55 733.07 L245.80 746.77 L246.05 760.54 L246.30 772.31 L246.55 782.94 L246.80 792.53 L247.05 798.99 L247.30 804.67 L247.55 810.15 L247.80 814.85 L248.05 818.98 L248.30 822.65 L248.55 825.99 L248.80 829.14 L249.05 831.92 L249.30 834.14 L249.55 835.92 L249.80 837.39 L250.05 838.37 L250.30 839.09 L250.55 839.62 L250.80 839.80 L251.05 839.53 L251.30 838.95 L251.55 838.22 L251.80 837.13 L252.05 835.58 L252.30 833.75 L252.55 831.40 L252.80 828.53 L253.05 825.33 L253.30 821.96 L253.55 818.19 L253.80 813.96 L254.05 809.11 L254.30 803.52 L254.55 797.85 L254.80 790.85 L255.05 780.84 L255.30 770.08 L255.55 757.94 L255.80 743.95 L256.05 730.40 L256.30 717.12 L256.55 703.93 L256.80 690.79 L257.05 677.65 L257.30 664.45 L257.55 651.17 L257.80 637.54 L258.05 623.64 L258.30 611.70 L258.55 601.01 L258.80 591.19 L259.05 584.47 L259.30 578.80 L259.55 573.27 L259.80 568.49 L260.05 564.31 L260.30 560.59 L260.55 557.24 L260.80 554.06 L261.05 551.24 L261.30 548.95 L261.55 547.15 L261.80 545.64 L262.05 544.60 L262.30 543.88 L262.55 543.32 L262.80 543.10 L263.05 543.32 L263.30 543.88 L263.55 544.60 L263.80 545.64 L264.05 547.15 L264.30 548.95 L264.55 551.24 L264.80 554.06 L265.05 557.24 L265.30 560.59 L265.55 564.31 L265.80 568.49 L266.05 573.27 L266.30 578.80 L266.55 584.47 L266.80 591.19 L267.05 601.01 L267.30 611.70 L267.55 623.64 L267.80 637.54 L268.05 651.17 L268.30 664.45 L268.55 677.65 L268.80 690.79 L269.05 703.93 L269.30 717.12 L269.55 730.40 L269.80 743.95 L270.05 757.94 L270.30 770.08 L270.55 780.84 L270.80 790.85 L271.05 797.85 L271.30 803.52 L271.55 809.11 L271.80 813.96 L272.05 818.19 L272.30 821.96 L272.55 825.33 L272.80 828.53 L273.05 831.40 L273.30 833.75 L273.55 835.58 L273.80 837.13 L274.05 838.22 L274.30 838.95 L274.55 839.53 L274.80 839.80 L275.05 839.62 L275.30 839.09 L275.55 838.37 L275.80 837.39 L276.05 835.92 L276.30 834.14 L276.55 831.92 L276.80 829.14 L277.05 825.99 L277.30 822.65 L277.55 818.98 L277.80 814.85 L278.05 810.15 L278.30 804.67 L278.55 798.99 L278.80 792.53 L279.05 782.94 L279.30 772.31 L279.55 760.54 L279.80 746.77 L280.05 733.07 L280.30 719.77 L280.55 706.56 L280.80 693.42 L281.05 680.28 L281.30 667.10 L281.55 653.84 L281.80 640.35 L282.05 626.31 L282.30 613.96 L282.55 603.10 L282.80 592.95 L283.05 585.64 L283.30 579.95 L283.55 574.33 L283.80 569.39 L284.05 565.11 L284.30 561.30 L284.55 557.90 L284.80 554.68 L285.05 551.76 L285.30 549.36 L285.55 547.49 L285.80 545.91 L286.05 544.76 L286.30 544.02 L286.55 543.41 L286.80 543.11 L287.05 543.25 L287.30 543.75 L287.55 544.45 L287.80 545.39 L288.05 546.82 L288.30 548.57 L288.55 550.73 L288.80 553.46 L289.05 556.59 L289.30 559.90 L289.55 563.53 L289.80 567.62 L290.05 572.24 L290.30 577.66 L290.55 583.35 L290.80 589.60 L291.05 598.92 L291.30 609.48 L291.55 621.10 L291.80 634.71 L292.05 648.49 L292.30 661.80 L292.55 675.02 L292.80 688.16 L293.05 701.31 L293.30 714.48 L293.55 727.73 L293.80 741.16 L294.05 755.23 L294.30 767.79 L294.55 778.76 L294.80 789.01 L295.05 796.66 L295.30 802.37 L295.55 808.03 L295.80 813.06 L296.05 817.38 L296.30 821.24 L296.55 824.67 L296.80 827.91 L297.05 830.86 L297.30 833.33 L297.55 835.24 L297.80 836.85 L298.05 838.05 L298.30 838.81 L298.55 839.44 L298.80 839.78 L299.05 839.69 L299.30 839.21 L299.55 838.52 L299.80 837.63 L300.05 836.25 L300.30 834.51 L300.55 832.42 L300.80 829.73 L301.05 826.64 L301.30 823.33 L301.55 819.75 L301.80 815.71 L302.05 811.16 L302.30 805.80 L302.55 800.11 L302.80 794.03 L303.05 785.02 L303.30 774.50 L303.55 763.03 L303.80 749.62 L304.05 735.75 L304.30 722.42 L304.55 709.20 L304.80 696.05 L305.05 682.91 L305.30 669.75 L305.55 656.50 L305.80 643.10 L306.05 629.06 L306.30 616.28 L306.55 605.19 L306.80 594.85 L307.05 586.86 L307.30 581.10 L307.55 575.42 L307.80 570.30 L308.05 565.93 L308.30 562.03 L308.55 558.56 L308.80 555.30 L309.05 552.31 L309.30 549.79 L309.55 547.84 L309.80 546.19 L310.05 544.95 L310.30 544.16 L310.55 543.52 L310.80 543.14 L311.05 543.18 L311.30 543.63 L311.55 544.30 L311.80 545.16 L312.05 546.50 L312.30 548.20 L312.55 550.25 L312.80 552.88 L313.05 555.94 L313.30 559.23 L313.55 562.77 L313.80 566.76 L314.05 571.25 L314.30 576.53 L314.55 582.23 L314.80 588.17 L315.05 596.85 L315.30 607.32 L315.55 618.66 L315.80 631.87 L316.05 645.80 L316.30 659.15 L316.55 672.39 L316.80 685.53 L317.05 698.68 L317.30 711.83 L317.55 725.08 L317.80 738.45 L318.05 752.44 L318.30 765.44 L318.55 776.65 L318.80 787.06 L319.05 795.39 L319.30 801.23 L319.55 806.93 L319.80 812.13 L320.05 816.56 L320.30 820.51 L320.55 824.00 L320.80 827.28 L321.05 830.31 L321.30 832.89 L321.55 834.88 L321.80 836.56 L322.05 837.85 L322.30 838.67 L322.55 839.33 L322.80 839.74 L323.05 839.74 L323.30 839.33 L323.55 838.67 L323.80 837.85 L324.05 836.56 L324.30 834.88 L324.55 832.89 L324.80 830.31 L325.05 827.28 L325.30 824.00 L325.55 820.51 L325.80 816.56 L326.05 812.13 L326.30 806.93 L326.55 801.23 L326.80 795.39 L327.05 787.06 L327.30 776.65 L327.55 765.44 L327.80 752.44 L328.05 738.45 L328.30 725.08 L328.55 711.83 L328.80 698.68 L329.05 685.53 L329.30 672.39 L329.55 659.15 L329.80 645.80 L330.05 631.87 L330.30 618.66 L330.55 607.32 L330.80 596.85 L331.05 588.17 L331.30 582.23 L331.55 576.53 L331.80 571.25 L332.05 566.76 L332.30 562.77 L332.55 559.23 L332.80 555.94 L333.05 552.88 L333.30 550.25 L333.55 548.20 L333.80 546.50 L334.05 545.16 L334.30 544.30 L334.55 543.63 L334.80 543.18 L335.05 543.14 L335.30 543.52 L335.55 544.16 L335.80 544.95 L336.05 546.19 L336.30 547.84 L336.55 549.79 L336.80 552.31 L337.05 555.30 L337.30 558.56 L337.55 562.03 L337.80 565.93 L338.05 570.30 L338.30 575.42 L338.55 581.10 L338.80 586.86 L339.05 594.85 L339.30 605.19 L339.55 616.28 L339.80 629.06 L340.05 643.10 L340.30 656.50 L340.55 669.75 L340.80 682.91 L341.05 696.05 L341.30 709.20 L341.55 722.42 L341.80 735.75 L342.05 749.62 L342.30 763.03 L342.55 774.50 L342.80 785.02 L343.05 794.03 L343.30 800.11 L343.55 805.80 L343.80 811.16 L344.05 815.71 L344.30 819.75 L344.55 823.33 L344.80 826.64 L345.05 829.73 L345.30 832.42 L345.55 834.51 L345.80 836.25 L346.05 837.63 L346.30 838.52 L346.55 839.21 L346.80 839.69 L347.05 839.78 L347.30 839.44 L347.55 838.81 L347.80 838.05 L348.05 836.85 L348.30 835.24 L348.55 833.33 L348.80 830.86 L349.05 827.91 L349.30 824.67 L349.55 821.24 L349.80 817.38 L350.05 813.06 L350.30 808.03 L350.55 802.37 L350.80 796.66 L351.05 789.01 L351.30 778.76 L351.55 767.79 L351.80 755.23 L352.05 741.16 L352.30 727.73 L352.55 714.48 L352.80 701.31 L353.05 688.16 L353.30 675.02 L353.55 661.80 L353.80 648.49 L354.05 634.71 L354.30 621.10 L354.55 609.48 L354.80 598.92 L355.05 589.60 L355.30 583.35 L355.55 577.66 L355.80 572.24 L356.05 567.62 L356.30 563.53 L356.55 559.90 L356.80 556.59 L357.05 553.46 L357.30 550.73 L357.55 548.57 L357.80 546.82 L358.05 545.39 L358.30 544.45 L358.55 543.75 L358.80 543.25 L359.05 543.11 L359.30 543.41 L359.55 544.02 L359.80 544.76 L360.05 545.91 L360.30 547.49 L360.55 549.36 L360.80 551.76 L361.05 554.68 L361.30 557.90 L361.55 561.30 L361.80 565.11 L362.05 569.39 L362.30 574.33 L362.55 579.95 L362.80 585.64 L363.05 592.95 L363.30 603.10 L363.55 613.96 L363.80 626.31 L364.05 640.35 L364.30 653.84 L364.55 667.10 L364.80 680.28 L365.05 693.42 L365.30 706.56 L365.55 719.77 L365.80 733.07 L366.05 746.77 L366.30 760.54 L366.55 772.31 L366.80 782.94 L367.05 792.53 L367.30 798.99 L367.55 804.67 L367.80 810.15 L368.05 814.85 L368.30 818.98 L368.55 822.65 L368.80 825.99 L369.05 829.14 L369.30 831.92 L369.55 834.14 L369.80 835.92 L370.05 837.39 L370.30 838.37 L370.55 839.09 L370.80 839.62 L371.05 839.80 L371.30 839.53 L371.55 838.95 L371.80 838.22 L372.05 837.13 L372.30 835.58 L372.55 833.75 L372.80 831.40 L373.05 828.53 L373.30 825.33 L373.55 821.96 L373.80 818.19 L374.05 813.96 L374.30 809.11 L374.55 803.52 L374.80 797.85 L375.05 790.85 L375.30 780.84 L375.55 770.08 L375.80 757.94 L376.05 743.95 L376.30 730.40 L376.55 717.12 L376.80 703.93 L377.05 690.79 L377.30 677.65 L377.55 664.45 L377.80 651.17 L378.05 637.54 L378.30 623.64 L378.55 611.70 L378.80 601.01 L379.05 591.19 L379.30 584.47 L379.55 578.80 L379.80 573.27 L380.05 568.49 L380.30 564.31 L380.55 560.59 L380.80 557.24 L381.05 554.06 L381.30 551.24 L381.55 548.95 L381.80 547.15 L382.05 545.64 L382.30 544.60 L382.55 543.88 L382.80 543.32 L383.05 543.10 L383.30 543.32 L383.55 543.88 L383.80 544.60 L384.05 545.64 L384.30 547.15 L384.55 548.95 L384.80 551.24 L385.05 554.06 L385.30 557.24 L385.55 560.59 L385.80 564.31 L386.05 568.49 L386.30 573.27 L386.55 578.80 L386.80 584.47 L387.05 591.19 L387.30 601.01 L387.55 611.70 L387.80 623.64 L388.05 637.54 L388.30 651.17 L388.55 664.45 L388.80 677.65 L389.05 690.79 L389.30 703.93 L389.55 717.12 L389.80 730.40 L390.05 743.95 L390.30 757.94 L390.55 770.08 L390.80 780.84 L391.05 790.85 L391.30 797.85 L391.55 803.52 L391.80 809.11 L392.05 813.96 L392.30 818.19 L392.55 821.96 L392.80 825.33 L393.05 828.53 L393.30 831.40 L393.55 833.75 L393.80 835.58 L394.05 837.13 L394.30 838.22 L394.55 838.95 L394.80 839.53 L395.05 839.80 L395.30 839.62 L395.55 839.09 L395.80 838.37 L396.05 837.39 L396.30 835.92 L396.55 834.14 L396.80 831.92 L397.05 829.14 L397.30 825.99 L397.55 822.65 L397.80 818.98 L398.05 814.85 L398.30 810.15 L398.55 804.67 L398.80 798.99 L399.05 792.53 L399.30 782.94 L399.55 772.31 L399.80 760.54 L400.05 746.77 L400.30 733.07 L400.55 719.77 L400.80 706.56 L401.05 693.42 L401.30 680.28 L401.55 667.10 L401.80 653.84 L402.05 640.35 L402.30 626.31 L402.55 613.96 L402.80 603.10 L403.05 592.95 L403.30 585.64 L403.55 579.95 L403.80 574.33 L404.05 569.39 L404.30 565.11 L404.55 561.30 L404.80 557.90 L405.05 554.68 L405.30 551.76 L405.55 549.36 L405.80 547.49 L406.05 545.91 L406.30 544.76 L406.55 544.02 L406.80 543.41 L407.05 543.11 L407.30 543.25 L407.55 543.75 L407.80 544.45 L408.05 545.39 L408.30 546.82 L408.55 548.57 L408.80 550.73 L409.05 553.46 L409.30 556.59 L409.55 559.90 L409.80 563.53 L410.05 567.62 L410.30 572.24 L410.55 577.66 L410.80 583.35 L411.05 589.60 L411.30 598.92 L411.55 609.48 L411.80 621.10 L412.05 634.71 L412.30 648.49 L412.55 661.80 L412.80 675.02 L413.05 688.16 L413.30 701.31 L413.55 714.48 L413.80 727.73 L414.05 741.16 L414.30 755.23 L414.55 767.79 L414.80 778.76 L415.05 789.01 L415.30 796.66 L415.55 802.37 L415.80 808.03 L416.05 813.06 L416.30 817.38 L416.55 821.24 L416.80 824.67 L417.05 827.91 L417.30 830.86 L417.55 833.33 L417.80 835.24 L418.05 836.85 L418.30 838.05 L418.55 838.81 L418.80 839.44 L419.05 839.78 L419.30 839.69 L419.55 839.21 L419.80 838.52 L420.05 837.63 L420.30 836.25 L420.55 834.51 L420.80 832.42 L421.05 829.73 L421.30 826.64 L421.55 823.33 L421.80 819.75 L422.05 815.71 L422.30 811.16 L422.55 805.80 L422.80 800.11 L423.05 794.03 L423.30 785.02 L423.55 774.50 L423.80 763.03 L424.05 749.62 L424.30 735.75 L424.55 722.42 L424.80 709.20 L425.05 696.05 L425.30 682.91 L425.55 669.75 L425.80 656.50 L426.05 643.10 L426.30 629.06 L426.55 616.28 L426.80 605.19 L427.05 594.85 L427.30 586.86 L427.55 581.10 L427.80 575.42 L428.05 570.30 L428.30 565.93 L428.55 562.03 L428.80 558.56 L429.05 555.30 L429.30 552.31 L429.55 549.79 L429.80 547.84 L430.05 546.19 L430.30 544.95 L430.55 544.16 L430.80 543.52 L431.05 543.14 L431.30 543.18 L431.55 543.63 L431.80 544.30 L432.05 545.16 L432.30 546.50 L432.55 548.20 L432.80 550.25 L433.05 552.88 L433.30 555.94 L433.55 559.23 L433.80 562.77 L434.05 566.76 L434.30 571.25 L434.55 576.53 L434.80 582.23 L435.05 588.17 L435.30 596.85 L435.55 607.32 L435.80 618.66 L436.05 631.87 L436.30 645.80 L436.55 659.15 L436.80 672.39 L437.05 685.53 L437.30 698.68 L437.55 711.83 L437.80 725.08 L438.05 738.45 L438.30 752.44 L438.55 765.44 L438.80 776.65 L439.05 787.06 L439.30 795.39 L439.55 801.23 L439.80 806.93 L440.05 812.13 L440.30 816.56 L440.55 820.51 L440.80 824.00 L441.05 827.28 L441.30 830.31 L441.55 832.89 L441.80 834.88 L442.05 836.56 L442.30 837.85 L442.55 838.67 L442.80 839.33 L443.05 839.74 L443.30 839.74 L443.55 839.33 L443.80 838.67 L444.05 837.85 L444.30 836.56 L444.55 834.88 L444.80 832.89 L445.05 830.31 L445.30 827.28 L445.55 824.00 L445.80 820.51 L446.05 816.56 L446.30 812.13 L446.55 806.93 L446.80 801.23 L447.05 795.39 L447.30 787.06 L447.55 776.65 L447.80 765.44 L448.05 752.44 L448.30 738.45 L448.55 725.08 L448.80 711.83 L449.05 698.68 L449.30 685.53 L449.55 672.39 L449.80 659.15 L450.05 645.80 L450.30 631.87 L450.55 618.66 L450.80 607.32 L451.05 596.85 L451.30 588.17 L451.55 582.23 L451.80 576.53 L452.05 571.25 L452.30 566.76 L452.55 562.77 L452.80 559.23 L453.05 555.94 L453.30 552.88 L453.55 550.25 L453.80 548.20 L454.05 546.50 L454.30 545.16 L454.55 544.30 L454.80 543.63 L455.05 543.18 L455.30 543.14 L455.55 543.52 L455.80 544.16 L456.05 544.95 L456.30 546.19 L456.55 547.84 L456.80 549.79 L457.05 552.31 L457.30 555.30 L457.55 558.56 L457.80 562.03 L458.05 565.93 L458.30 570.30 L458.55 575.42 L458.80 581.10 L459.05 586.86 L459.30 594.85 L459.55 605.19 L459.80 616.28 L460.05 629.06 L460.30 643.10 L460.55 656.50 L460.80 669.75 L461.05 682.91 L461.30 696.05 L461.55 709.20 L461.80 722.42 L462.05 735.75 L462.30 749.62 L462.55 763.03 L462.80 774.50 L463.05 785.02 L463.30 794.03 L463.55 800.11 L463.80 805.80 L464.05 811.16 L464.30 815.71 L464.55 819.75 L464.80 823.33 L465.05 826.64 L465.30 829.73 L465.55 832.42 L465.80 834.51 L466.05 836.25 L466.30 837.63 L466.55 838.52 L466.80 839.21 L467.05 839.69 L467.30 839.78 L467.55 839.44 L467.80 838.81 L468.05 838.05 L468.30 836.85 L468.55 835.24 L468.80 833.33 L469.05 830.86 L469.30 827.91 L469.55 824.67 L469.80 821.24 L470.05 817.38 L470.30 813.06 L470.55 808.03 L470.80 802.37 L471.05 796.66 L471.30 789.01 L471.55 778.76 L471.80 767.79 L472.05 755.23 L472.30 741.16 L472.55 727.73 L472.80 714.48 L473.05 701.31 L473.30 688.16 L473.55 675.02 L473.80 661.80 L474.05 648.49 L474.30 634.71 L474.55 621.10 L474.80 609.48 L475.05 598.92 L475.30 589.60 L475.55 583.35 L475.80 577.66 L476.05 572.24 L476.30 567.62 L476.55 563.53 L476.80 559.90 L477.05 556.59 L477.30 553.46 L477.55 550.73 L477.80 548.57 L478.05 546.82 L478.30 545.39 L478.55 544.45 L478.80 543.75 L479.05 543.25 L479.30 543.11 L479.55 543.41 L479.80 544.02 L480.05 544.76 L480.30 545.91 L480.55 547.49 L480.80 549.36 L481.05 551.76 L481.30 554.68 L481.55 557.90 L481.80 561.30 L482.05 565.11 L482.30 569.39 L482.55 574.33 L482.80 579.95 L483.05 585.64 L483.30 592.95 L483.55 603.10 L483.80 613.96 L484.05 626.31 L484.30 640.35 L484.55 653.84 L484.80 667.10 L485.05 680.28 L485.30 693.42 L485.55 706.56 L485.80 719.77 L486.05 733.07 L486.30 746.77 L486.55 760.54 L486.80 772.31 L487.05 782.94 L487.30 792.53 L487.55 798.99 L487.80 804.67 L488.05 810.15 L488.30 814.85 L488.55 818.98 L488.80 822.65 L489.05 825.99 L489.30 829.14 L489.55 831.92 L489.80 834.14 L490.05 835.92 L490.30 837.39 L490.55 838.37 L490.80 839.09 L491.05 839.62 L491.30 839.80 L491.55 839.53 L491.80 838.95 L492.05 838.22 L492.30 837.13 L492.55 835.58 L492.80 833.75 L493.05 831.40 L493.30 828.53 L493.55 825.33 L493.80 821.96 L494.05 818.19 L494.30 813.96 L494.55 809.11 L494.80 803.52 L495.05 797.85 L495.30 790.85 L495.55 780.84 L495.80 770.08 L496.05 757.94 L496.30 743.95 L496.55 730.40 L496.80 717.12 L497.05 703.93 L497.30 690.79 L497.55 677.65 L497.80 664.45 L498.05 651.17 L498.30 637.54 L498.55 623.64 L498.80 611.70 L499.05 601.01 L499.30 591.19 L499.55 584.47 L499.80 578.80 L500.05 573.27 L500.30 568.49 L500.55 564.31 L500.80 560.59 L501.05 557.24 L501.30 554.06 L501.55 551.24 L501.80 548.95 L502.05 547.15 L502.30 545.64 L502.55 544.60 L502.80 543.88 L503.05 543.32 L503.30 543.10 L503.55 543.32 L503.80 543.88 L504.05 544.60 L504.30 545.64 L504.55 547.15 L504.80 548.95 L505.05 551.24 L505.30 554.06 L505.55 557.24 L505.80 560.59 L506.05 564.31 L506.30 568.49 L506.55 573.27 L506.80 578.80 L507.05 584.47 L507.30 591.19 L507.55 601.01 L507.80 611.70 L508.05 623.64 L508.30 637.54 L508.55 651.17 L508.80 664.45 L509.05 677.65 L509.30 690.79 L509.55 703.93 L509.80 717.12 L510.05 730.40 L510.30 743.95 L510.55 757.94 L510.80 770.08 L511.05 780.84 L511.30 790.85 L511.55 797.85 L511.80 803.52 L512.05 809.11 L512.30 813.96 L512.55 818.19 L512.80 821.96 L513.05 825.33 L513.30 828.53 L513.55 831.40 L513.80 833.75 L514.05 835.58 L514.30 837.13 L514.55 838.22 L514.80 838.95 L515.05 839.53 L515.30 839.80 L515.55 839.62 L515.80 839.09 L516.05 838.37 L516.30 837.39 L516.55 835.92 L516.80 834.14 L517.05 831.92 L517.30 829.14 L517.55 825.99 L517.80 822.65 L518.05 818.98 L518.30 814.85 L518.55 810.15 L518.80 804.67 L519.05 798.99 L519.30 792.53" stroke="#D11F30"/>
<path d="M38.32 773.46 L38.38 773.25 L38.43 772.95 L38.49 772.55 L38.55 772.00 L38.61 771.33 L38.67 770.56 L38.72 769.70 L38.78 768.75 L38.83 767.70 L38.89 766.56 L38.93 765.33 L38.98 764.00 L39.02 762.54 L39.06 760.95 L39.09 759.23 L39.12 757.44 L39.15 755.59 L39.18 753.71 L39.21 751.84 L39.24 750.00 L39.28 748.17 L39.31 746.32 L39.34 744.45 L39.38 742.56 L39.41 740.67 L39.45 738.77 L39.48 736.88 L39.51 735.00 L39.55 733.16 L39.58 731.37 L39.61 729.59 L39.65 727.81 L39.68 725.99 L39.72 724.10 L39.76 722.11 L39.80 720.00 L39.84 717.71 L39.88 715.23 L39.93 712.65 L39.97 710.00 L40.02 707.35 L40.07 704.77 L40.12 702.29 L40.17 700.00 L40.23 697.89 L40.29 695.90 L40.35 694.01 L40.41 692.19 L40.48 690.41 L40.54 688.63 L40.61 686.84 L40.68 685.00 L40.76 683.12 L40.83 681.25 L40.91 679.38 L40.99 677.50 L41.07 675.62 L41.15 673.75 L41.23 671.88 L41.31 670.00 L41.40 668.12 L41.48 666.25 L41.57 664.38 L41.65 662.50 L41.74 660.62 L41.83 658.75 L41.92 656.88 L42.01 655.00 L42.10 653.12 L42.19 651.25 L42.28 649.38 L42.38 647.50 L42.47 645.62 L42.56 643.75 L42.66 641.88 L42.75 640.00 L42.85 638.12 L42.94 636.25 L43.04 634.38 L43.13 632.50 L43.23 630.62 L43.33 628.75 L43.43 626.88 L43.53 625.00 L43.63 623.09 L43.74 621.13 L43.86 619.16 L43.97 617.19 L44.08 615.26 L44.19 613.40 L44.29 611.64 L44.39 610.00 L44.48 608.50 L44.56 607.10 L44.64 605.80 L44.72 604.56 L44.79 603.38 L44.86 602.24 L44.93 601.12 L45.01 600.00 L45.07 598.89 L45.13 597.81 L45.18 596.77 L45.24 595.75 L45.30 594.77 L45.36 593.81 L45.44 592.89 L45.52 592.00 L45.63 591.13 L45.75 590.28 L45.89 589.45 L46.03 588.66 L46.17 587.91 L46.31 587.21 L46.44 586.57 L46.55 586.00 L46.65 585.49 L46.73 585.02 L46.80 584.61 L46.87 584.25 L46.94 583.95 L47.02 583.70 L47.10 583.52 L47.20 583.40 L47.31 583.36 L47.44 583.42 L47.57 583.55 L47.70 583.72 L47.84 583.94 L47.98 584.17 L48.12 584.40 L48.25 584.60 L48.38 584.78 L48.50 584.97 L48.63 585.15 L48.75 585.35 L48.87 585.57 L49.00 585.81 L49.12 586.08 L49.25 586.40 L49.39 586.74 L49.53 587.09 L49.68 587.47 L49.83 587.88 L49.98 588.32 L50.11 588.82 L50.22 589.37 L50.31 590.00 L50.38 590.67 L50.42 591.37 L50.44 592.11 L50.46 592.91 L50.46 593.79 L50.47 594.75 L50.48 595.81 L50.51 597.00 L50.54 598.29 L50.57 599.66 L50.61 601.13 L50.64 602.69 L50.68 604.35 L50.73 606.12 L50.77 608.00 L50.81 610.00 L50.86 612.17 L50.91 614.51 L50.96 616.99 L51.01 619.56 L51.06 622.19 L51.12 624.84 L51.17 627.45 L51.22 630.00 L51.26 632.50 L51.31 635.00 L51.36 637.50 L51.40 640.00 L51.44 642.50 L51.49 645.00 L51.53 647.50 L51.58 650.00 L51.62 652.50 L51.67 655.00 L51.72 657.50 L51.77 660.00 L51.81 662.50 L51.86 665.00 L51.91 667.50 L51.95 670.00 L52.00 672.57 L52.05 675.23 L52.11 677.94 L52.16 680.62 L52.21 683.23 L52.25 685.70 L52.30 687.98 L52.33 690.00 L52.36 691.69 L52.38 693.09 L52.39 694.26 L52.40 695.31 L52.41 696.32 L52.43 697.38 L52.47 698.58 L52.53 700.00 L52.60 701.64 L52.70 703.40 L52.81 705.26 L52.92 707.19 L53.05 709.16 L53.17 711.13 L53.28 713.09 L53.39 715.00 L53.49 716.88 L53.59 718.75 L53.68 720.62 L53.78 722.50 L53.87 724.38 L53.96 726.25 L54.05 728.12 L54.14 730.00 L54.23 731.88 L54.32 733.75 L54.41 735.62 L54.50 737.50 L54.59 739.38 L54.68 741.25 L54.76 743.12 L54.85 745.00 L54.94 746.91 L55.03 748.87 L55.12 750.84 L55.21 752.81 L55.29 754.74 L55.38 756.60 L55.46 758.36 L55.53 760.00 L55.60 761.51 L55.67 762.91 L55.73 764.23 L55.78 765.47 L55.84 766.65 L55.89 767.79 L55.95 768.90 L56.01 770.00 L56.06 771.08 L56.12 772.12 L56.17 773.13 L56.22 774.09 L56.28 775.02 L56.33 775.89 L56.39 776.72 L56.45 777.50 L56.51 778.22 L56.58 778.89 L56.66 779.50 L56.73 780.07 L56.80 780.60 L56.87 781.09 L56.94 781.56 L57.00 782.00 L57.06 782.42 L57.12 782.80 L57.18 783.16 L57.23 783.48 L57.29 783.77 L57.33 784.02 L57.37 784.23 L57.40 784.40 L57.45 784.24 L57.51 784.04 L57.58 783.80 L57.66 783.52 L57.74 783.22 L57.83 782.90 L57.92 782.56 L58.00 782.20 L58.08 781.81 L58.17 781.37 L58.25 780.89 L58.34 780.40 L58.43 779.91 L58.52 779.43 L58.61 778.99 L58.70 778.60 L58.79 778.25 L58.89 777.93 L58.98 777.62 L59.08 777.34 L59.18 777.08 L59.28 776.84 L59.39 776.61 L59.50 776.40 L59.62 776.21 L59.74 776.04 L59.86 775.89 L59.99 775.76 L60.12 775.63 L60.25 775.52 L60.38 775.41 L60.50 775.30 L60.62 775.19 L60.74 775.09 L60.85 775.00 L60.97 774.92 L61.08 774.84 L61.19 774.76 L61.30 774.68 L61.40 774.60 L61.50 774.53 L61.59 774.48 L61.69 774.43 L61.78 774.38 L61.86 774.32 L61.94 774.25 L62.02 774.14 L62.10 774.00 L62.17 773.86 L62.24 773.74 L62.31 773.62 L62.37 773.46 L62.43 773.25 L62.48 772.95 L62.54 772.55 L62.60 772.00 L62.66 771.33 L62.72 770.56 L62.77 769.70 L62.83 768.75 L62.88 767.70 L62.94 766.56 L62.98 765.33 L63.03 764.00 L63.07 762.54 L63.11 760.95 L63.14 759.23 L63.17 757.44 L63.20 755.59 L63.23 753.71 L63.26 751.84 L63.29 750.00 L63.33 748.17 L63.36 746.32 L63.39 744.45 L63.43 742.56 L63.46 740.67 L63.50 738.77 L63.53 736.88 L63.56 735.00 L63.60 733.16 L63.63 731.37 L63.66 729.59 L63.70 727.81 L63.73 725.99 L63.77 724.10 L63.81 722.11 L63.85 720.00 L63.89 717.71 L63.93 715.23 L63.98 712.65 L64.02 710.00 L64.07 707.35 L64.12 704.77 L64.17 702.29 L64.22 700.00 L64.28 697.89 L64.34 695.90 L64.40 694.01 L64.46 692.19 L64.53 690.41 L64.59 688.63 L64.66 686.84 L64.73 685.00 L64.81 683.12 L64.88 681.25 L64.96 679.38 L65.04 677.50 L65.12 675.62 L65.20 673.75 L65.28 671.88 L65.36 670.00 L65.45 668.12 L65.53 666.25 L65.62 664.38 L65.70 662.50 L65.79 660.62 L65.88 658.75 L65.97 656.88 L66.06 655.00 L66.15 653.12 L66.24 651.25 L66.33 649.38 L66.43 647.50 L66.52 645.62 L66.61 643.75 L66.71 641.88 L66.80 640.00 L66.90 638.12 L66.99 636.25 L67.09 634.38 L67.18 632.50 L67.28 630.62 L67.38 628.75 L67.48 626.88 L67.58 625.00 L67.68 623.09 L67.79 621.13 L67.91 619.16 L68.02 617.19 L68.13 615.26 L68.24 613.40 L68.34 611.64 L68.44 610.00 L68.53 608.50 L68.61 607.10 L68.69 605.80 L68.77 604.56 L68.84 603.38 L68.91 602.24 L68.98 601.12 L69.06 600.00 L69.12 598.89 L69.18 597.81 L69.23 596.77 L69.29 595.75 L69.35 594.77 L69.41 593.81 L69.49 592.89 L69.57 592.00 L69.68 591.13 L69.80 590.28 L69.94 589.45 L70.08 588.66 L70.22 587.91 L70.36 587.21 L70.49 586.57 L70.60 586.00 L70.70 585.49 L70.78 585.02 L70.85 584.61 L70.92 584.25 L70.99 583.95 L71.07 583.70 L71.15 583.52 L71.25 583.40 L71.36 583.36 L71.49 583.42 L71.62 583.55 L71.75 583.72 L71.89 583.94 L72.03 584.17 L72.17 584.40 L72.30 584.60 L72.43 584.78 L72.55 584.97 L72.68 585.15 L72.80 585.35 L72.92 585.57 L73.05 585.81 L73.17 586.08 L73.30 586.40 L73.44 586.74 L73.58 587.09 L73.73 587.47 L73.88 587.88 L74.03 588.32 L74.16 588.82 L74.27 589.37 L74.36 590.00 L74.43 590.67 L74.47 591.37 L74.49 592.11 L74.51 592.91 L74.51 593.79 L74.52 594.75 L74.53 595.81 L74.56 597.00 L74.59 598.29 L74.62 599.66 L74.66 601.13 L74.69 602.69 L74.73 604.35 L74.78 606.12 L74.82 608.00 L74.86 610.00 L74.91 612.17 L74.96 614.51 L75.01 616.99 L75.06 619.56 L75.11 622.19 L75.17 624.84 L75.22 627.45 L75.27 630.00 L75.31 632.50 L75.36 635.00 L75.41 637.50 L75.45 640.00 L75.49 642.50 L75.54 645.00 L75.58 647.50 L75.63 650.00 L75.67 652.50 L75.72 655.00 L75.77 657.50 L75.82 660.00 L75.86 662.50 L75.91 665.00 L75.96 667.50 L76.00 670.00 L76.05 672.57 L76.10 675.23 L76.16 677.94 L76.21 680.62 L76.26 683.23 L76.30 685.70 L76.35 687.98 L76.38 690.00 L76.41 691.69 L76.43 693.09 L76.44 694.26 L76.45 695.31 L76.46 696.32 L76.48 697.38 L76.52 698.58 L76.58 700.00 L76.65 701.64 L76.75 703.40 L76.86 705.26 L76.97 707.19 L77.10 709.16 L77.22 711.13 L77.33 713.09 L77.44 715.00 L77.54 716.88 L77.64 718.75 L77.73 720.62 L77.83 722.50 L77.92 724.38 L78.01 726.25 L78.10 728.12 L78.19 730.00 L78.28 731.88 L78.37 733.75 L78.46 735.62 L78.55 737.50 L78.64 739.38 L78.73 741.25 L78.81 743.12 L78.90 745.00 L78.99 746.91 L79.08 748.87 L79.17 750.84 L79.26 752.81 L79.34 754.74 L79.43 756.60 L79.51 758.36 L79.58 760.00 L79.65 761.51 L79.72 762.91 L79.78 764.23 L79.83 765.47 L79.89 766.65 L79.94 767.79 L80.00 768.90 L80.06 770.00 L80.11 771.08 L80.17 772.12 L80.22 773.13 L80.27 774.09 L80.33 775.02 L80.38 775.89 L80.44 776.72 L80.50 777.50 L80.56 778.22 L80.63 778.89 L80.71 779.50 L80.78 780.07 L80.85 780.60 L80.92 781.09 L80.99 781.56 L81.05 782.00 L81.11 782.42 L81.17 782.80 L81.23 783.16 L81.28 783.48 L81.34 783.77 L81.38 784.02 L81.42 784.23 L81.45 784.40 L81.50 784.24 L81.56 784.04 L81.63 783.80 L81.71 783.52 L81.79 783.22 L81.88 782.90 L81.97 782.56 L82.05 782.20 L82.13 781.81 L82.22 781.37 L82.30 780.89 L82.39 780.40 L82.48 779.91 L82.57 779.43 L82.66 778.99 L82.75 778.60 L82.84 778.25 L82.94 777.93 L83.03 777.62 L83.13 777.34 L83.23 777.08 L83.33 776.84 L83.44 776.61 L83.55 776.40 L83.67 776.21 L83.79 776.04 L83.91 775.89 L84.04 775.76 L84.17 775.63 L84.30 775.52 L84.43 775.41 L84.55 775.30 L84.67 775.19 L84.79 775.09 L84.90 775.00 L85.02 774.92 L85.13 774.84 L85.24 774.76 L85.35 774.68 L85.45 774.60 L85.55 774.53 L85.64 774.48 L85.74 774.43 L85.83 774.38 L85.91 774.32 L85.99 774.25 L86.07 774.14 L86.15 774.00 L86.22 773.86 L86.29 773.74 L86.36 773.62 L86.42 773.46 L86.48 773.25 L86.53 772.95 L86.59 772.55 L86.65 772.00 L86.71 771.33 L86.77 770.56 L86.82 769.70 L86.88 768.75 L86.93 767.70 L86.99 766.56 L87.03 765.33 L87.08 764.00 L87.12 762.54 L87.16 760.95 L87.19 759.23 L87.22 757.44 L87.25 755.59 L87.28 753.71 L87.31 751.84 L87.34 750.00 L87.38 748.17 L87.41 746.32 L87.44 744.45 L87.48 742.56 L87.51 740.67 L87.55 738.77 L87.58 736.88 L87.61 735.00 L87.65 733.16 L87.68 731.37 L87.71 729.59 L87.75 727.81 L87.78 725.99 L87.82 724.10 L87.86 722.11 L87.90 720.00 L87.94 717.71 L87.98 715.23 L88.03 712.65 L88.07 710.00 L88.12 707.35 L88.17 704.77 L88.22 702.29 L88.27 700.00 L88.33 697.89 L88.39 695.90 L88.45 694.01 L88.51 692.19 L88.58 690.41 L88.64 688.63 L88.71 686.84 L88.78 685.00 L88.86 683.12 L88.93 681.25 L89.01 679.38 L89.09 677.50 L89.17 675.62 L89.25 673.75 L89.33 671.88 L89.41 670.00 L89.50 668.12 L89.58 666.25 L89.67 664.38 L89.75 662.50 L89.84 660.62 L89.93 658.75 L90.02 656.88 L90.11 655.00 L90.20 653.12 L90.29 651.25 L90.38 649.38 L90.48 647.50 L90.57 645.62 L90.66 643.75 L90.76 641.88 L90.85 640.00 L90.95 638.12 L91.04 636.25 L91.14 634.38 L91.23 632.50 L91.33 630.62 L91.43 628.75 L91.53 626.88 L91.63 625.00 L91.73 623.09 L91.84 621.13 L91.96 619.16 L92.07 617.19 L92.18 615.26 L92.29 613.40 L92.39 611.64 L92.49 610.00 L92.58 608.50 L92.66 607.10 L92.74 605.80 L92.82 604.56 L92.89 603.38 L92.96 602.24 L93.03 601.12 L93.11 600.00 L93.17 598.89 L93.23 597.81 L93.28 596.77 L93.34 595.75 L93.40 594.77 L93.46 593.81 L93.54 592.89 L93.62 592.00 L93.73 591.13 L93.85 590.28 L93.99 589.45 L94.13 588.66 L94.27 587.91 L94.41 587.21 L94.54 586.57 L94.65 586.00 L94.75 585.49 L94.83 585.02 L94.90 584.61 L94.97 584.25 L95.04 583.95 L95.12 583.70 L95.20 583.52 L95.30 583.40 L95.41 583.36 L95.54 583.42 L95.67 583.55 L95.80 583.72 L95.94 583.94 L96.08 584.17 L96.22 584.40 L96.35 584.60 L96.48 584.78 L96.60 584.97 L96.73 585.15 L96.85 585.35 L96.97 585.57 L97.10 585.81 L97.22 586.08 L97.35 586.40 L97.49 586.74 L97.63 587.09 L97.78 587.47 L97.93 587.88 L98.08 588.32 L98.21 588.82 L98.32 589.37 L98.41 590.00 L98.48 590.67 L98.52 591.37 L98.54 592.11 L98.56 592.91 L98.56 593.79 L98.57 594.75 L98.58 595.81 L98.61 597.00 L98.64 598.29 L98.67 599.66 L98.71 601.13 L98.74 602.69 L98.78 604.35 L98.83 606.12 L98.87 608.00 L98.91 610.00 L98.96 612.17 L99.01 614.51 L99.06 616.99 L99.11 619.56 L99.16 622.19 L99.22 624.84 L99.27 627.45 L99.32 630.00 L99.36 632.50 L99.41 635.00 L99.46 637.50 L99.50 640.00 L99.54 642.50 L99.59 645.00 L99.63 647.50 L99.68 650.00 L99.72 652.50 L99.77 655.00 L99.82 657.50 L99.87 660.00 L99.91 662.50 L99.96 665.00 L100.01 667.50 L100.05 670.00 L100.10 672.57 L100.15 675.23 L100.21 677.94 L100.26 680.62 L100.31 683.23 L100.35 685.70 L100.40 687.98 L100.43 690.00 L100.46 691.69 L100.48 693.09 L100.49 694.26 L100.50 695.31 L100.51 696.32 L100.53 697.38 L100.57 698.58 L100.63 700.00 L100.70 701.64 L100.80 703.40 L100.91 705.26 L101.02 707.19 L101.15 709.16 L101.27 711.13 L101.38 713.09 L101.49 715.00 L101.59 716.88 L101.69 718.75 L101.78 720.62 L101.88 722.50 L101.97 724.38 L102.06 726.25 L102.15 728.12 L102.24 730.00 L102.33 731.88 L102.42 733.75 L102.51 735.62 L102.60 737.50 L102.69 739.38 L102.78 741.25 L102.86 743.12 L102.95 745.00 L103.04 746.91 L103.13 748.87 L103.22 750.84 L103.31 752.81 L103.39 754.74 L103.48 756.60 L103.56 758.36 L103.63 760.00 L103.70 761.51 L103.77 762.91 L103.83 764.23 L103.88 765.47 L103.94 766.65 L103.99 767.79 L104.05 768.90 L104.11 770.00 L104.16 771.08 L104.22 772.12 L104.27 773.13 L104.32 774.09 L104.38 775.02 L104.43 775.89 L104.49 776.72 L104.55 777.50 L104.61 778.22 L104.68 778.89 L104.76 779.50 L104.83 780.07 L104.90 780.60 L104.97 781.09 L105.04 781.56 L105.10 782.00 L105.16 782.42 L105.22 782.80 L105.28 783.16 L105.33 783.48 L105.39 783.77 L105.43 784.02 L105.47 784.23 L105.50 784.40 L105.55 784.24 L105.61 784.04 L105.68 783.80 L105.76 783.52 L105.84 783.22 L105.93 782.90 L106.02 782.56 L106.10 782.20 L106.18 781.81 L106.27 781.37 L106.35 780.89 L106.44 780.40 L106.53 779.91 L106.62 779.43 L106.71 778.99 L106.80 778.60 L106.89 778.25 L106.99 777.93 L107.08 777.62 L107.18 777.34 L107.28 777.08 L107.38 776.84 L107.49 776.61 L107.60 776.40 L107.72 776.21 L107.84 776.04 L107.96 775.89 L108.09 775.76 L108.22 775.63 L108.35 775.52 L108.48 775.41 L108.60 775.30 L108.72 775.19 L108.84 775.09 L108.95 775.00 L109.07 774.92 L109.18 774.84 L109.29 774.76 L109.40 774.68 L109.50 774.60 L109.60 774.53 L109.69 774.48 L109.79 774.43 L109.88 774.38 L109.96 774.32 L110.04 774.25 L110.12 774.14 L110.20 774.00 L110.27 773.86 L110.34 773.74 L110.41 773.62 L110.47 773.46 L110.53 773.25 L110.58 772.95 L110.64 772.55 L110.70 772.00 L110.76 771.33 L110.82 770.56 L110.87 769.70 L110.93 768.75 L110.98 767.70 L111.04 766.56 L111.08 765.33 L111.13 764.00 L111.17 762.54 L111.21 760.95 L111.24 759.23 L111.27 757.44 L111.30 755.59 L111.33 753.71 L111.36 751.84 L111.39 750.00 L111.43 748.17 L111.46 746.32 L111.49 744.45 L111.53 742.56 L111.56 740.67 L111.60 738.77 L111.63 736.88 L111.66 735.00 L111.70 733.16 L111.73 731.37 L111.76 729.59 L111.80 727.81 L111.83 725.99 L111.87 724.10 L111.91 722.11 L111.95 720.00 L111.99 717.71 L112.03 715.23 L112.08 712.65 L112.12 710.00 L112.17 707.35 L112.22 704.77 L112.27 702.29 L112.32 700.00 L112.38 697.89 L112.44 695.90 L112.50 694.01 L112.56 692.19 L112.63 690.41 L112.69 688.63 L112.76 686.84 L112.83 685.00 L112.91 683.12 L112.98 681.25 L113.06 679.38 L113.14 677.50 L113.22 675.62 L113.30 673.75 L113.38 671.88 L113.46 670.00 L113.55 668.12 L113.63 666.25 L113.72 664.38 L113.80 662.50 L113.89 660.62 L113.98 658.75 L114.07 656.88 L114.16 655.00 L114.25 653.12 L114.34 651.25 L114.43 649.38 L114.53 647.50 L114.62 645.62 L114.71 643.75 L114.81 641.88 L114.90 640.00 L115.00 638.12 L115.09 636.25 L115.19 634.38 L115.28 632.50 L115.38 630.62 L115.48 628.75 L115.58 626.88 L115.68 625.00 L115.78 623.09 L115.89 621.13 L116.01 619.16 L116.12 617.19 L116.23 615.26 L116.34 613.40 L116.44 611.64 L116.54 610.00 L116.63 608.50 L116.71 607.10 L116.79 605.80 L116.87 604.56 L116.94 603.38 L117.01 602.24 L117.08 601.12 L117.16 600.00 L117.22 598.89 L117.28 597.81 L117.33 596.77 L117.39 595.75 L117.45 594.77 L117.51 593.81 L117.59 592.89 L117.67 592.00 L117.78 591.13 L117.90 590.28 L118.04 589.45 L118.18 588.66 L118.32 587.91 L118.46 587.21 L118.59 586.57 L118.70 586.00 L118.80 585.49 L118.88 585.02 L118.95 584.61 L119.02 584.25 L119.09 583.95 L119.17 583.70 L119.25 583.52 L119.35 583.40 L119.46 583.36 L119.59 583.42 L119.72 583.55 L119.85 583.72 L119.99 583.94 L120.13 584.17 L120.27 584.40 L120.40 584.60 L120.53 584.78 L120.65 584.97 L120.78 585.15 L120.90 585.35 L121.02 585.57 L121.15 585.81 L121.27 586.08 L121.40 586.40 L121.54 586.74 L121.68 587.09 L121.83 587.47 L121.98 587.88 L122.13 588.32 L122.26 588.82 L122.37 589.37 L122.46 590.00 L122.53 590.67 L122.57 591.37 L122.59 592.11 L122.61 592.91 L122.61 593.79 L122.62 594.75 L122.63 595.81 L122.66 597.00 L122.69 598.29 L122.72 599.66 L122.76 601.13 L122.79 602.69 L122.83 604.35 L122.88 606.12 L122.92 608.00 L122.96 610.00 L123.01 612.17 L123.06 614.51 L123.11 616.99 L123.16 619.56 L123.21 622.19 L123.27 624.84 L123.32 627.45 L123.37 630.00 L123.41 632.50 L123.46 635.00 L123.51 637.50 L123.55 640.00 L123.59 642.50 L123.64 645.00 L123.68 647.50 L123.73 650.00 L123.77 652.50 L123.82 655.00 L123.87 657.50 L123.92 660.00 L123.96 662.50 L124.01 665.00 L124.06 667.50 L124.10 670.00 L124.15 672.57 L124.20 675.23 L124.26 677.94 L124.31 680.62 L124.36 683.23 L124.40 685.70 L124.45 687.98 L124.48 690.00 L124.51 691.69 L124.53 693.09 L124.54 694.26 L124.55 695.31 L124.56 696.32 L124.58 697.38 L124.62 698.58 L124.68 700.00 L124.75 701.64 L124.85 703.40 L124.96 705.26 L125.07 707.19 L125.20 709.16 L125.32 711.13 L125.43 713.09 L125.54 715.00 L125.64 716.88 L125.74 718.75 L125.83 720.62 L125.93 722.50 L126.02 724.38 L126.11 726.25 L126.20 728.12 L126.29 730.00 L126.38 731.88 L126.47 733.75 L126.56 735.62 L126.65 737.50 L126.74 739.38 L126.83 741.25 L126.91 743.12 L127.00 745.00 L127.09 746.91 L127.18 748.87 L127.27 750.84 L127.36 752.81 L127.44 754.74 L127.53 756.60 L127.61 758.36 L127.68 760.00 L127.75 761.51 L127.82 762.91 L127.88 764.23 L127.93 765.47 L127.99 766.65 L128.04 767.79 L128.10 768.90 L128.16 770.00 L128.21 771.08 L128.27 772.12 L128.32 773.13 L128.37 774.09 L128.43 775.02 L128.48 775.89 L128.54 776.72 L128.60 777.50 L128.66 778.22 L128.73 778.89 L128.81 779.50 L128.88 780.07 L128.95 780.60 L129.02 781.09 L129.09 781.56 L129.15 782.00 L129.21 782.42 L129.27 782.80 L129.33 783.16 L129.38 783.48 L129.44 783.77 L129.48 784.02 L129.52 784.23 L129.55 784.40 L129.60 784.24 L129.66 784.04 L129.73 783.80 L129.81 783.52 L129.89 783.22 L129.98 782.90 L130.07 782.56 L130.15 782.20 L130.23 781.81 L130.32 781.37 L130.40 780.89 L130.49 780.40 L130.58 779.91 L130.67 779.43 L130.76 778.99 L130.85 778.60 L130.94 778.25 L131.04 777.93 L131.13 777.62 L131.23 777.34 L131.33 777.08 L131.43 776.84 L131.54 776.61 L131.65 776.40 L131.77 776.21 L131.89 776.04 L132.01 775.89 L132.14 775.76 L132.27 775.63 L132.40 775.52 L132.53 775.41 L132.65 775.30 L132.77 775.19 L132.89 775.09 L133.00 775.00 L133.12 774.92 L133.23 774.84 L133.34 774.76 L133.45 774.68 L133.55 774.60 L133.65 774.53 L133.74 774.48 L133.84 774.43 L133.93 774.38 L134.01 774.32 L134.09 774.25 L134.17 774.14 L134.25 774.00 L134.32 773.86 L134.39 773.74 L134.46 773.62 L134.52 773.46 L134.58 773.25 L134.63 772.95 L134.69 772.55 L134.75 772.00 L134.81 771.33 L134.87 770.56 L134.92 769.70 L134.98 768.75 L135.03 767.70 L135.09 766.56 L135.13 765.33 L135.18 764.00 L135.22 762.54 L135.26 760.95 L135.29 759.23 L135.32 757.44 L135.35 755.59 L135.38 753.71 L135.41 751.84 L135.44 750.00 L135.48 748.17 L135.51 746.32 L135.54 744.45 L135.58 742.56 L135.61 740.67 L135.65 738.77 L135.68 736.88 L135.71 735.00 L135.75 733.16 L135.78 731.37 L135.81 729.59 L135.85 727.81 L135.88 725.99 L135.92 724.10 L135.96 722.11 L136.00 720.00 L136.04 717.71 L136.08 715.23 L136.13 712.65 L136.17 710.00 L136.22 707.35 L136.27 704.77 L136.32 702.29 L136.37 700.00 L136.43 697.89 L136.49 695.90 L136.55 694.01 L136.61 692.19 L136.68 690.41 L136.74 688.63 L136.81 686.84 L136.88 685.00 L136.96 683.12 L137.03 681.25 L137.11 679.38 L137.19 677.50 L137.27 675.62 L137.35 673.75 L137.43 671.88 L137.51 670.00 L137.60 668.12 L137.68 666.25 L137.77 664.38 L137.85 662.50 L137.94 660.62 L138.03 658.75 L138.12 656.88 L138.21 655.00 L138.30 653.12 L138.39 651.25 L138.48 649.38 L138.58 647.50 L138.67 645.62 L138.76 643.75 L138.86 641.88 L138.95 640.00 L139.05 638.12 L139.14 636.25 L139.24 634.38 L139.33 632.50 L139.43 630.62 L139.53 628.75 L139.63 626.88 L139.73 625.00 L139.83 623.09 L139.94 621.13 L140.06 619.16 L140.17 617.19 L140.28 615.26 L140.39 613.40 L140.49 611.64 L140.59 610.00 L140.68 608.50 L140.76 607.10 L140.84 605.80 L140.92 604.56 L140.99 603.38 L141.06 602.24 L141.13 601.12 L141.21 600.00 L141.27 598.89 L141.33 597.81 L141.38 596.77 L141.44 595.75 L141.50 594.77 L141.56 593.81 L141.64 592.89 L141.72 592.00 L141.83 591.13 L141.95 590.28 L142.09 589.45 L142.23 588.66 L142.37 587.91 L142.51 587.21 L142.64 586.57 L142.75 586.00 L142.85 585.49 L142.93 585.02 L143.00 584.61 L143.07 584.25 L143.14 583.95 L143.22 583.70 L143.30 583.52 L143.40 583.40 L143.51 583.36 L143.64 583.42 L143.77 583.55 L143.90 583.72 L144.04 583.94 L144.18 584.17 L144.32 584.40 L144.45 584.60 L144.58 584.78 L144.70 584.97 L144.83 585.15 L144.95 585.35 L145.07 585.57 L145.20 585.81 L145.32 586.08 L145.45 586.40 L145.59 586.74 L145.73 587.09 L145.88 587.47 L146.03 587.88 L146.18 588.32 L146.31 588.82 L146.42 589.37 L146.51 590.00 L146.58 590.67 L146.62 591.37 L146.64 592.11 L146.66 592.91 L146.66 593.79 L146.67 594.75 L146.68 595.81 L146.71 597.00 L146.74 598.29 L146.77 599.66 L146.81 601.13 L146.84 602.69 L146.88 604.35 L146.93 606.12 L146.97 608.00 L147.01 610.00 L147.06 612.17 L147.11 614.51 L147.16 616.99 L147.21 619.56 L147.26 622.19 L147.32 624.84 L147.37 627.45 L147.42 630.00 L147.46 632.50 L147.51 635.00 L147.56 637.50 L147.60 640.00 L147.64 642.50 L147.69 645.00 L147.73 647.50 L147.78 650.00 L147.82 652.50 L147.87 655.00 L147.92 657.50 L147.97 660.00 L148.01 662.50 L148.06 665.00 L148.11 667.50 L148.15 670.00 L148.20 672.57 L148.25 675.23 L148.31 677.94 L148.36 680.62 L148.41 683.23 L148.45 685.70 L148.50 687.98 L148.53 690.00 L148.56 691.69 L148.58 693.09 L148.59 694.26 L148.60 695.31 L148.61 696.32 L148.63 697.38 L148.67 698.58 L148.73 700.00 L148.80 701.64 L148.90 703.40 L149.01 705.26 L149.12 707.19 L149.25 709.16 L149.37 711.13 L149.48 713.09 L149.59 715.00 L149.69 716.88 L149.79 718.75 L149.88 720.62 L149.98 722.50 L150.07 724.38 L150.16 726.25 L150.25 728.12 L150.34 730.00 L150.43 731.88 L150.52 733.75 L150.61 735.62 L150.70 737.50 L150.79 739.38 L150.88 741.25 L150.96 743.12 L151.05 745.00 L151.14 746.91 L151.23 748.87 L151.32 750.84 L151.41 752.81 L151.49 754.74 L151.58 756.60 L151.66 758.36 L151.73 760.00 L151.80 761.51 L151.87 762.91 L151.93 764.23 L151.98 765.47 L152.04 766.65 L152.09 767.79 L152.15 768.90 L152.21 770.00 L152.26 771.08 L152.32 772.12 L152.37 773.13 L152.42 774.09 L152.48 775.02 L152.53 775.89 L152.59 776.72 L152.65 777.50 L152.71 778.22 L152.78 778.89 L152.86 779.50 L152.93 780.07 L153.00 780.60 L153.07 781.09 L153.14 781.56 L153.20 782.00 L153.26 782.42 L153.32 782.80 L153.38 783.16 L153.43 783.48 L153.49 783.77 L153.53 784.02 L153.57 784.23 L153.60 784.40 L153.65 784.24 L153.71 784.04 L153.78 783.80 L153.86 783.52 L153.94 783.22 L154.03 782.90 L154.12 782.56 L154.20 782.20 L154.28 781.81 L154.37 781.37 L154.45 780.89 L154.54 780.40 L154.63 779.91 L154.72 779.43 L154.81 778.99 L154.90 778.60 L154.99 778.25 L155.09 777.93 L155.18 777.62 L155.28 777.34 L155.38 777.08 L155.48 776.84 L155.59 776.61 L155.70 776.40 L155.82 776.21 L155.94 776.04 L156.06 775.89 L156.19 775.76 L156.32 775.63 L156.45 775.52 L156.58 775.41 L156.70 775.30 L156.82 775.19 L156.94 775.09 L157.05 775.00 L157.17 774.92 L157.28 774.84 L157.39 774.76 L157.50 774.68 L157.60 774.60 L157.70 774.53 L157.79 774.48 L157.89 774.43 L157.97 774.38 L158.06 774.32 L158.14 774.25 L158.22 774.14 L158.30 774.00 L158.37 773.86 L158.44 773.74 L158.51 773.62 L158.57 773.46 L158.63 773.25 L158.68 772.95 L158.74 772.55 L158.80 772.00 L158.86 771.33 L158.92 770.56 L158.97 769.70 L159.03 768.75 L159.08 767.70 L159.14 766.56 L159.18 765.33 L159.23 764.00 L159.27 762.54 L159.31 760.95 L159.34 759.23 L159.37 757.44 L159.40 755.59 L159.43 753.71 L159.46 751.84 L159.49 750.00 L159.53 748.17 L159.56 746.32 L159.59 744.45 L159.63 742.56 L159.66 740.67 L159.70 738.77 L159.73 736.88 L159.76 735.00 L159.80 733.16 L159.83 731.37 L159.86 729.59 L159.90 727.81 L159.93 725.99 L159.97 724.10 L160.01 722.11 L160.05 720.00 L160.09 717.71 L160.13 715.23 L160.18 712.65 L160.22 710.00 L160.27 707.35 L160.32 704.77 L160.37 702.29 L160.42 700.00 L160.48 697.89 L160.54 695.90 L160.60 694.01 L160.66 692.19 L160.73 690.41 L160.79 688.63 L160.86 686.84 L160.93 685.00 L161.01 683.12 L161.08 681.25 L161.16 679.38 L161.24 677.50 L161.32 675.62 L161.40 673.75 L161.48 671.88 L161.56 670.00 L161.65 668.12 L161.73 666.25 L161.82 664.38 L161.90 662.50 L161.99 660.62 L162.08 658.75 L162.17 656.88 L162.26 655.00 L162.35 653.12 L162.44 651.25 L162.53 649.38 L162.63 647.50 L162.72 645.62 L162.81 643.75 L162.91 641.88 L163.00 640.00 L163.10 638.12 L163.19 636.25 L163.29 634.38 L163.38 632.50 L163.48 630.62 L163.58 628.75 L163.68 626.88 L163.78 625.00 L163.88 623.09 L163.99 621.13 L164.11 619.16 L164.22 617.19 L164.33 615.26 L164.44 613.40 L164.54 611.64 L164.64 610.00 L164.73 608.50 L164.81 607.10 L164.89 605.80 L164.97 604.56 L165.04 603.38 L165.11 602.24 L165.18 601.12 L165.26 600.00 L165.32 598.89 L165.38 597.81 L165.43 596.77 L165.49 595.75 L165.55 594.77 L165.61 593.81 L165.69 592.89 L165.77 592.00 L165.88 591.13 L166.00 590.28 L166.14 589.45 L166.28 588.66 L166.42 587.91 L166.56 587.21 L166.69 586.57 L166.80 586.00 L166.90 585.49 L166.98 585.02 L167.05 584.61 L167.12 584.25 L167.19 583.95 L167.27 583.70 L167.35 583.52 L167.45 583.40 L167.56 583.36 L167.69 583.42 L167.82 583.55 L167.95 583.72 L168.09 583.94 L168.23 584.17 L168.37 584.40 L168.50 584.60 L168.63 584.78 L168.75 584.97 L168.88 585.15 L169.00 585.35 L169.12 585.57 L169.25 585.81 L169.37 586.08 L169.50 586.40 L169.64 586.74 L169.78 587.09 L169.93 587.47 L170.08 587.88 L170.23 588.32 L170.36 588.82 L170.47 589.37 L170.56 590.00 L170.63 590.67 L170.67 591.37 L170.69 592.11 L170.71 592.91 L170.71 593.79 L170.72 594.75 L170.73 595.81 L170.76 597.00 L170.79 598.29 L170.82 599.66 L170.86 601.13 L170.89 602.69 L170.93 604.35 L170.98 606.12 L171.02 608.00 L171.06 610.00 L171.11 612.17 L171.16 614.51 L171.21 616.99 L171.26 619.56 L171.31 622.19 L171.37 624.84 L171.42 627.45 L171.47 630.00 L171.51 632.50 L171.56 635.00 L171.61 637.50 L171.65 640.00 L171.69 642.50 L171.74 645.00 L171.78 647.50 L171.83 650.00 L171.87 652.50 L171.92 655.00 L171.97 657.50 L172.02 660.00 L172.06 662.50 L172.11 665.00 L172.16 667.50 L172.20 670.00 L172.25 672.57 L172.30 675.23 L172.36 677.94 L172.41 680.62 L172.46 683.23 L172.50 685.70 L172.55 687.98 L172.58 690.00 L172.61 691.69 L172.63 693.09 L172.64 694.26 L172.65 695.31 L172.66 696.32 L172.68 697.38 L172.72 698.58 L172.78 700.00 L172.85 701.64 L172.95 703.40 L173.06 705.26 L173.17 707.19 L173.30 709.16 L173.42 711.13 L173.53 713.09 L173.64 715.00 L173.74 716.88 L173.84 718.75 L173.93 720.62 L174.03 722.50 L174.12 724.38 L174.21 726.25 L174.30 728.12 L174.39 730.00 L174.48 731.88 L174.57 733.75 L174.66 735.62 L174.75 737.50 L174.84 739.38 L174.93 741.25 L175.01 743.12 L175.10 745.00 L175.19 746.91 L175.28 748.87 L175.37 750.84 L175.46 752.81 L175.54 754.74 L175.63 756.60 L175.71 758.36 L175.78 760.00 L175.85 761.51 L175.92 762.91 L175.98 764.23 L176.03 765.47 L176.09 766.65 L176.14 767.79 L176.20 768.90 L176.26 770.00 L176.31 771.08 L176.37 772.12 L176.42 773.13 L176.47 774.09 L176.53 775.02 L176.58 775.89 L176.64 776.72 L176.70 777.50 L176.76 778.22 L176.83 778.89 L176.91 779.50 L176.98 780.07 L177.05 780.60 L177.12 781.09 L177.19 781.56 L177.25 782.00 L177.31 782.42 L177.37 782.80 L177.43 783.16 L177.48 783.48 L177.54 783.77 L177.58 784.02 L177.62 784.23 L177.65 784.40 L177.70 784.24 L177.76 784.04 L177.83 783.80 L177.91 783.52 L177.99 783.22 L178.08 782.90 L178.17 782.56 L178.25 782.20 L178.33 781.81 L178.42 781.37 L178.50 780.89 L178.59 780.40 L178.68 779.91 L178.77 779.43 L178.86 778.99 L178.95 778.60 L179.04 778.25 L179.14 777.93 L179.23 777.62 L179.33 777.34 L179.43 777.08 L179.53 776.84 L179.64 776.61 L179.75 776.40 L179.87 776.21 L179.99 776.04 L180.11 775.89 L180.24 775.76 L180.37 775.63 L180.50 775.52 L180.63 775.41 L180.75 775.30 L180.87 775.19 L180.99 775.09 L181.10 775.00 L181.22 774.92 L181.33 774.84 L181.44 774.76 L181.55 774.68 L181.65 774.60 L181.75 774.53 L181.84 774.48 L181.94 774.43 L182.03 774.38 L182.11 774.32 L182.19 774.25 L182.27 774.14 L182.35 774.00 L182.42 773.86 L182.49 773.74 L182.56 773.62 L182.62 773.46 L182.68 773.25 L182.73 772.95 L182.79 772.55 L182.85 772.00 L182.91 771.33 L182.97 770.56 L183.02 769.70 L183.08 768.75 L183.13 767.70 L183.19 766.56 L183.23 765.33 L183.28 764.00 L183.32 762.54 L183.36 760.95 L183.39 759.23 L183.42 757.44 L183.45 755.59 L183.48 753.71 L183.51 751.84 L183.54 750.00 L183.58 748.17 L183.61 746.32 L183.64 744.45 L183.68 742.56 L183.71 740.67 L183.75 738.77 L183.78 736.88 L183.81 735.00 L183.85 733.16 L183.88 731.37 L183.91 729.59 L183.95 727.81 L183.98 725.99 L184.02 724.10 L184.06 722.11 L184.10 720.00 L184.14 717.71 L184.18 715.23 L184.23 712.65 L184.27 710.00 L184.32 707.35 L184.37 704.77 L184.42 702.29 L184.47 700.00 L184.53 697.89 L184.59 695.90 L184.65 694.01 L184.71 692.19 L184.78 690.41 L184.84 688.63 L184.91 686.84 L184.98 685.00 L185.06 683.12 L185.13 681.25 L185.21 679.38 L185.29 677.50 L185.37 675.62 L185.45 673.75 L185.53 671.88 L185.61 670.00 L185.70 668.12 L185.78 666.25 L185.87 664.38 L185.95 662.50 L186.04 660.62 L186.13 658.75 L186.22 656.88 L186.31 655.00 L186.40 653.12 L186.49 651.25 L186.58 649.38 L186.68 647.50 L186.77 645.62 L186.86 643.75 L186.96 641.88 L187.05 640.00 L187.15 638.12 L187.24 636.25 L187.34 634.38 L187.43 632.50 L187.53 630.62 L187.63 628.75 L187.73 626.88 L187.83 625.00 L187.93 623.09 L188.04 621.13 L188.16 619.16 L188.27 617.19 L188.38 615.26 L188.49 613.40 L188.59 611.64 L188.69 610.00 L188.78 608.50 L188.86 607.10 L188.94 605.80 L189.02 604.56 L189.09 603.38 L189.16 602.24 L189.23 601.12 L189.31 600.00 L189.37 598.89 L189.43 597.81 L189.48 596.77 L189.54 595.75 L189.60 594.77 L189.66 593.81 L189.74 592.89 L189.82 592.00 L189.93 591.13 L190.05 590.28 L190.19 589.45 L190.33 588.66 L190.47 587.91 L190.61 587.21 L190.74 586.57 L190.85 586.00 L190.95 585.49 L191.03 585.02 L191.10 584.61 L191.17 584.25 L191.24 583.95 L191.32 583.70 L191.40 583.52 L191.50 583.40 L191.61 583.36 L191.74 583.42 L191.87 583.55 L192.00 583.72 L192.14 583.94 L192.28 584.17 L192.42 584.40 L192.55 584.60 L192.68 584.78 L192.80 584.97 L192.93 585.15 L193.05 585.35 L193.17 585.57 L193.30 585.81 L193.42 586.08 L193.55 586.40 L193.69 586.74 L193.83 587.09 L193.98 587.47 L194.13 587.88 L194.28 588.32 L194.41 588.82 L194.52 589.37 L194.61 590.00 L194.68 590.67 L194.72 591.37 L194.74 592.11 L194.76 592.91 L194.76 593.79 L194.77 594.75 L194.78 595.81 L194.81 597.00 L194.84 598.29 L194.87 599.66 L194.91 601.13 L194.94 602.69 L194.98 604.35 L195.03 606.12 L195.07 608.00 L195.11 610.00 L195.16 612.17 L195.21 614.51 L195.26 616.99 L195.31 619.56 L195.36 622.19 L195.42 624.84 L195.47 627.45 L195.52 630.00 L195.56 632.50 L195.61 635.00 L195.66 637.50 L195.70 640.00 L195.74 642.50 L195.79 645.00 L195.83 647.50 L195.88 650.00 L195.92 652.50 L195.97 655.00 L196.02 657.50 L196.07 660.00 L196.11 662.50 L196.16 665.00 L196.21 667.50 L196.25 670.00 L196.30 672.57 L196.35 675.23 L196.41 677.94 L196.46 680.62 L196.51 683.23 L196.55 685.70 L196.60 687.98 L196.63 690.00 L196.66 691.69 L196.68 693.09 L196.69 694.26 L196.70 695.31 L196.71 696.32 L196.73 697.38 L196.77 698.58 L196.83 700.00 L196.90 701.64 L197.00 703.40 L197.11 705.26 L197.22 707.19 L197.35 709.16 L197.47 711.13 L197.58 713.09 L197.69 715.00 L197.79 716.88 L197.89 718.75 L197.98 720.62 L198.08 722.50 L198.17 724.38 L198.26 726.25 L198.35 728.12 L198.44 730.00 L198.53 731.88 L198.62 733.75 L198.71 735.62 L198.80 737.50 L198.89 739.38 L198.98 741.25 L199.06 743.12 L199.15 745.00 L199.24 746.91 L199.33 748.87 L199.42 750.84 L199.51 752.81 L199.59 754.74 L199.68 756.60 L199.76 758.36 L199.83 760.00 L199.90 761.51 L199.97 762.91 L200.03 764.23 L200.08 765.47 L200.14 766.65 L200.19 767.79 L200.25 768.90 L200.31 770.00 L200.36 771.08 L200.42 772.12 L200.47 773.13 L200.52 774.09 L200.58 775.02 L200.63 775.89 L200.69 776.72 L200.75 777.50 L200.81 778.22 L200.88 778.89 L200.96 779.50 L201.03 780.07 L201.10 780.60 L201.17 781.09 L201.24 781.56 L201.30 782.00 L201.36 782.42 L201.42 782.80 L201.48 783.16 L201.53 783.48 L201.59 783.77 L201.63 784.02 L201.67 784.23 L201.70 784.40 L201.75 784.24 L201.81 784.04 L201.88 783.80 L201.96 783.52 L202.04 783.22 L202.13 782.90 L202.22 782.56 L202.30 782.20 L202.38 781.81 L202.47 781.37 L202.55 780.89 L202.64 780.40 L202.73 779.91 L202.82 779.43 L202.91 778.99 L203.00 778.60 L203.09 778.25 L203.19 777.93 L203.28 777.62 L203.38 777.34 L203.48 777.08 L203.58 776.84 L203.69 776.61 L203.80 776.40 L203.92 776.21 L204.04 776.04 L204.16 775.89 L204.29 775.76 L204.42 775.63 L204.55 775.52 L204.68 775.41 L204.80 775.30 L204.92 775.19 L205.04 775.09 L205.15 775.00 L205.27 774.92 L205.38 774.84 L205.49 774.76 L205.60 774.68 L205.70 774.60 L205.80 774.53 L205.89 774.48 L205.99 774.43 L206.07 774.38 L206.16 774.32 L206.24 774.25 L206.32 774.14 L206.40 774.00 L206.47 773.86 L206.54 773.74 L206.61 773.62 L206.67 773.46 L206.73 773.25 L206.78 772.95 L206.84 772.55 L206.90 772.00 L206.96 771.33 L207.02 770.56 L207.07 769.70 L207.13 768.75 L207.18 767.70 L207.24 766.56 L207.28 765.33 L207.33 764.00 L207.37 762.54 L207.41 760.95 L207.44 759.23 L207.47 757.44 L207.50 755.59 L207.53 753.71 L207.56 751.84 L207.59 750.00 L207.63 748.17 L207.66 746.32 L207.69 744.45 L207.73 742.56 L207.76 740.67 L207.80 738.77 L207.83 736.88 L207.86 735.00 L207.90 733.16 L207.93 731.37 L207.96 729.59 L208.00 727.81 L208.03 725.99 L208.07 724.10 L208.11 722.11 L208.15 720.00 L208.19 717.71 L208.23 715.23 L208.28 712.65 L208.32 710.00 L208.37 707.35 L208.42 704.77 L208.47 702.29 L208.52 700.00 L208.58 697.89 L208.64 695.90 L208.70 694.01 L208.76 692.19 L208.83 690.41 L208.89 688.63 L208.96 686.84 L209.03 685.00 L209.11 683.12 L209.18 681.25 L209.26 679.38 L209.34 677.50 L209.42 675.62 L209.50 673.75 L209.58 671.88 L209.66 670.00 L209.75 668.12 L209.83 666.25 L209.92 664.38 L210.00 662.50 L210.09 660.62 L210.18 658.75 L210.27 656.88 L210.36 655.00 L210.45 653.12 L210.54 651.25 L210.63 649.38 L210.73 647.50 L210.82 645.62 L210.91 643.75 L211.01 641.88 L211.10 640.00 L211.20 638.12 L211.29 636.25 L211.39 634.38 L211.48 632.50 L211.58 630.62 L211.68 628.75 L211.78 626.88 L211.88 625.00 L211.98 623.09 L212.09 621.13 L212.21 619.16 L212.32 617.19 L212.43 615.26 L212.54 613.40 L212.64 611.64 L212.74 610.00 L212.83 608.50 L212.91 607.10 L212.99 605.80 L213.07 604.56 L213.14 603.38 L213.21 602.24 L213.28 601.12 L213.36 600.00 L213.42 598.89 L213.48 597.81 L213.53 596.77 L213.59 595.75 L213.65 594.77 L213.71 593.81 L213.79 592.89 L213.87 592.00 L213.98 591.13 L214.10 590.28 L214.24 589.45 L214.38 588.66 L214.52 587.91 L214.66 587.21 L214.79 586.57 L214.90 586.00 L215.00 585.49 L215.08 585.02 L215.15 584.61 L215.22 584.25 L215.29 583.95 L215.37 583.70 L215.45 583.52 L215.55 583.40 L215.66 583.36 L215.79 583.42 L215.92 583.55 L216.05 583.72 L216.19 583.94 L216.33 584.17 L216.47 584.40 L216.60 584.60 L216.73 584.78 L216.85 584.97 L216.98 585.15 L217.10 585.35 L217.22 585.57 L217.35 585.81 L217.47 586.08 L217.60 586.40 L217.74 586.74 L217.88 587.09 L218.03 587.47 L218.18 587.88 L218.33 588.32 L218.46 588.82 L218.57 589.37 L218.66 590.00 L218.73 590.67 L218.77 591.37 L218.79 592.11 L218.81 592.91 L218.81 593.79 L218.82 594.75 L218.83 595.81 L218.86 597.00 L218.89 598.29 L218.92 599.66 L218.96 601.13 L218.99 602.69 L219.03 604.35 L219.08 606.12 L219.12 608.00 L219.16 610.00 L219.21 612.17 L219.26 614.51 L219.31 616.99 L219.36 619.56 L219.41 622.19 L219.47 624.84 L219.52 627.45 L219.57 630.00 L219.61 632.50 L219.66 635.00 L219.71 637.50 L219.75 640.00 L219.79 642.50 L219.84 645.00 L219.88 647.50 L219.93 650.00 L219.97 652.50 L220.02 655.00 L220.07 657.50 L220.12 660.00 L220.16 662.50 L220.21 665.00 L220.26 667.50 L220.30 670.00 L220.35 672.57 L220.40 675.23 L220.46 677.94 L220.51 680.62 L220.56 683.23 L220.60 685.70 L220.65 687.98 L220.68 690.00 L220.71 691.69 L220.73 693.09 L220.74 694.26 L220.75 695.31 L220.76 696.32 L220.78 697.38 L220.82 698.58 L220.88 700.00 L220.95 701.64 L221.05 703.40 L221.16 705.26 L221.27 707.19 L221.40 709.16 L221.52 711.13 L221.63 713.09 L221.74 715.00 L221.84 716.88 L221.94 718.75 L222.03 720.62 L222.13 722.50 L222.22 724.38 L222.31 726.25 L222.40 728.12 L222.49 730.00 L222.58 731.88 L222.67 733.75 L222.76 735.62 L222.85 737.50 L222.94 739.38 L223.03 741.25 L223.11 743.12 L223.20 745.00 L223.29 746.91 L223.38 748.87 L223.47 750.84 L223.56 752.81 L223.64 754.74 L223.73 756.60 L223.81 758.36 L223.88 760.00 L223.95 761.51 L224.02 762.91 L224.08 764.23 L224.13 765.47 L224.19 766.65 L224.24 767.79 L224.30 768.90 L224.36 770.00 L224.41 771.08 L224.47 772.12 L224.52 773.13 L224.57 774.09 L224.63 775.02 L224.68 775.89 L224.74 776.72 L224.80 777.50 L224.86 778.22 L224.93 778.89 L225.01 779.50 L225.08 780.07 L225.15 780.60 L225.22 781.09 L225.29 781.56 L225.35 782.00 L225.41 782.42 L225.47 782.80 L225.53 783.16 L225.58 783.48 L225.64 783.77 L225.68 784.02 L225.72 784.23 L225.75 784.40 L225.80 784.24 L225.86 784.04 L225.93 783.80 L226.01 783.52 L226.09 783.22 L226.18 782.90 L226.27 782.56 L226.35 782.20 L226.43 781.81 L226.52 781.37 L226.60 780.89 L226.69 780.40 L226.78 779.91 L226.87 779.43 L226.96 778.99 L227.05 778.60 L227.14 778.25 L227.24 777.93 L227.33 777.62 L227.43 777.34 L227.53 777.08 L227.63 776.84 L227.74 776.61 L227.85 776.40 L227.97 776.21 L228.09 776.04 L228.21 775.89 L228.34 775.76 L228.47 775.63 L228.60 775.52 L228.73 775.41 L228.85 775.30 L228.97 775.19 L229.09 775.09 L229.20 775.00 L229.32 774.92 L229.43 774.84 L229.54 774.76 L229.65 774.68 L229.75 774.60 L229.85 774.53 L229.94 774.48 L230.04 774.43 L230.12 774.38 L230.21 774.32 L230.29 774.25 L230.37 774.14 L230.45 774.00 L230.52 773.86 L230.59 773.74 L230.66 773.62 L230.72 773.46 L230.78 773.25 L230.83 772.95 L230.89 772.55 L230.95 772.00 L231.01 771.33 L231.07 770.56 L231.12 769.70 L231.18 768.75 L231.23 767.70 L231.29 766.56 L231.33 765.33 L231.38 764.00 L231.42 762.54 L231.46 760.95 L231.49 759.23 L231.52 757.44 L231.55 755.59 L231.58 753.71 L231.61 751.84 L231.64 750.00 L231.68 748.17 L231.71 746.32 L231.74 744.45 L231.78 742.56 L231.81 740.67 L231.85 738.77 L231.88 736.88 L231.91 735.00 L231.95 733.16 L231.98 731.37 L232.01 729.59 L232.05 727.81 L232.08 725.99 L232.12 724.10 L232.16 722.11 L232.20 720.00 L232.24 717.71 L232.28 715.23 L232.33 712.65 L232.37 710.00 L232.42 707.35 L232.47 704.77 L232.52 702.29 L232.57 700.00 L232.63 697.89 L232.69 695.90 L232.75 694.01 L232.81 692.19 L232.88 690.41 L232.94 688.63 L233.01 686.84 L233.08 685.00 L233.16 683.12 L233.23 681.25 L233.31 679.38 L233.39 677.50 L233.47 675.62 L233.55 673.75 L233.63 671.88 L233.71 670.00 L233.80 668.12 L233.88 666.25 L233.97 664.38 L234.05 662.50 L234.14 660.62 L234.23 658.75 L234.32 656.88 L234.41 655.00 L234.50 653.12 L234.59 651.25 L234.68 649.38 L234.78 647.50 L234.87 645.62 L234.96 643.75 L235.06 641.88 L235.15 640.00 L235.25 638.12 L235.34 636.25 L235.44 634.38 L235.53 632.50 L235.63 630.62 L235.73 628.75 L235.83 626.88 L235.93 625.00 L236.03 623.09 L236.14 621.13 L236.26 619.16 L236.37 617.19 L236.48 615.26 L236.59 613.40 L236.69 611.64 L236.79 610.00 L236.88 608.50 L236.96 607.10 L237.04 605.80 L237.12 604.56 L237.19 603.38 L237.26 602.24 L237.33 601.12 L237.41 600.00 L237.47 598.89 L237.53 597.81 L237.58 596.77 L237.64 595.75 L237.70 594.77 L237.76 593.81 L237.84 592.89 L237.92 592.00 L238.03 591.13 L238.15 590.28 L238.29 589.45 L238.43 588.66 L238.57 587.91 L238.71 587.21 L238.84 586.57 L238.95 586.00 L239.05 585.49 L239.13 585.02 L239.20 584.61 L239.27 584.25 L239.34 583.95 L239.42 583.70 L239.50 583.52 L239.60 583.40 L239.71 583.36 L239.84 583.42 L239.97 583.55 L240.10 583.72 L240.24 583.94 L240.38 584.17 L240.52 584.40 L240.65 584.60 L240.78 584.78 L240.90 584.97 L241.03 585.15 L241.15 585.35 L241.27 585.57 L241.40 585.81 L241.52 586.08 L241.65 586.40 L241.79 586.74 L241.93 587.09 L242.08 587.47 L242.23 587.88 L242.38 588.32 L242.51 588.82 L242.62 589.37 L242.71 590.00 L242.78 590.67 L242.82 591.37 L242.84 592.11 L242.86 592.91 L242.86 593.79 L242.87 594.75 L242.88 595.81 L242.91 597.00 L242.94 598.29 L242.97 599.66 L243.01 601.13 L243.04 602.69 L243.08 604.35 L243.13 606.12 L243.17 608.00 L243.21 610.00 L243.26 612.17 L243.31 614.51 L243.36 616.99 L243.41 619.56 L243.46 622.19 L243.52 624.84 L243.57 627.45 L243.62 630.00 L243.66 632.50 L243.71 635.00 L243.76 637.50 L243.80 640.00 L243.84 642.50 L243.89 645.00 L243.93 647.50 L243.98 650.00 L244.02 652.50 L244.07 655.00 L244.12 657.50 L244.17 660.00 L244.21 662.50 L244.26 665.00 L244.31 667.50 L244.35 670.00 L244.40 672.57 L244.45 675.23 L244.51 677.94 L244.56 680.62 L244.61 683.23 L244.65 685.70 L244.70 687.98 L244.73 690.00 L244.76 691.69 L244.78 693.09 L244.79 694.26 L244.80 695.31 L244.81 696.32 L244.83 697.38 L244.87 698.58 L244.93 700.00 L245.00 701.64 L245.10 703.40 L245.21 705.26 L245.32 707.19 L245.45 709.16 L245.57 711.13 L245.68 713.09 L245.79 715.00 L245.89 716.88 L245.99 718.75 L246.08 720.62 L246.18 722.50 L246.27 724.38 L246.36 726.25 L246.45 728.12 L246.54 730.00 L246.63 731.88 L246.72 733.75 L246.81 735.62 L246.90 737.50 L246.99 739.38 L247.08 741.25 L247.16 743.12 L247.25 745.00 L247.34 746.91 L247.43 748.87 L247.52 750.84 L247.61 752.81 L247.69 754.74 L247.78 756.60 L247.86 758.36 L247.93 760.00 L248.00 761.51 L248.07 762.91 L248.13 764.23 L248.18 765.47 L248.24 766.65 L248.29 767.79 L248.35 768.90 L248.41 770.00 L248.46 771.08 L248.52 772.12 L248.57 773.13 L248.62 774.09 L248.68 775.02 L248.73 775.89 L248.79 776.72 L248.85 777.50 L248.91 778.22 L248.98 778.89 L249.06 779.50 L249.13 780.07 L249.20 780.60 L249.27 781.09 L249.34 781.56 L249.40 782.00 L249.46 782.42 L249.52 782.80 L249.58 783.16 L249.63 783.48 L249.69 783.77 L249.73 784.02 L249.77 784.23 L249.80 784.40 L249.85 784.24 L249.91 784.04 L249.98 783.80 L250.06 783.52 L250.14 783.22 L250.23 782.90 L250.32 782.56 L250.40 782.20 L250.48 781.81 L250.57 781.37 L250.65 780.89 L250.74 780.40 L250.83 779.91 L250.92 779.43 L251.01 778.99 L251.10 778.60 L251.19 778.25 L251.29 777.93 L251.38 777.62 L251.48 777.34 L251.58 777.08 L251.68 776.84 L251.79 776.61 L251.90 776.40 L252.02 776.21 L252.14 776.04 L252.26 775.89 L252.39 775.76 L252.52 775.63 L252.65 775.52 L252.78 775.41 L252.90 775.30 L253.02 775.19 L253.14 775.09 L253.25 775.00 L253.37 774.92 L253.48 774.84 L253.59 774.76 L253.70 774.68 L253.80 774.60 L253.90 774.53 L253.99 774.48 L254.09 774.43 L254.18 774.38 L254.26 774.32 L254.34 774.25 L254.42 774.14 L254.50 774.00 L254.57 773.86 L254.64 773.74 L254.71 773.62 L254.77 773.46 L254.83 773.25 L254.88 772.95 L254.94 772.55 L255.00 772.00 L255.06 771.33 L255.12 770.56 L255.17 769.70 L255.23 768.75 L255.28 767.70 L255.34 766.56 L255.38 765.33 L255.43 764.00 L255.47 762.54 L255.51 760.95 L255.54 759.23 L255.57 757.44 L255.60 755.59 L255.63 753.71 L255.66 751.84 L255.69 750.00 L255.73 748.17 L255.76 746.32 L255.79 744.45 L255.83 742.56 L255.86 740.67 L255.90 738.77 L255.93 736.88 L255.96 735.00 L256.00 733.16 L256.03 731.37 L256.06 729.59 L256.10 727.81 L256.13 725.99 L256.17 724.10 L256.21 722.11 L256.25 720.00 L256.29 717.71 L256.33 715.23 L256.38 712.65 L256.42 710.00 L256.47 707.35 L256.52 704.77 L256.57 702.29 L256.62 700.00 L256.68 697.89 L256.74 695.90 L256.80 694.01 L256.86 692.19 L256.93 690.41 L256.99 688.63 L257.06 686.84 L257.13 685.00 L257.21 683.12 L257.28 681.25 L257.36 679.38 L257.44 677.50 L257.52 675.62 L257.60 673.75 L257.68 671.88 L257.76 670.00 L257.85 668.12 L257.93 666.25 L258.02 664.38 L258.10 662.50 L258.19 660.62 L258.28 658.75 L258.37 656.88 L258.46 655.00 L258.55 653.12 L258.64 651.25 L258.73 649.38 L258.83 647.50 L258.92 645.62 L259.01 643.75 L259.11 641.88 L259.20 640.00 L259.30 638.12 L259.39 636.25 L259.49 634.38 L259.58 632.50 L259.68 630.62 L259.78 628.75 L259.88 626.88 L259.98 625.00 L260.08 623.09 L260.19 621.13 L260.31 619.16 L260.42 617.19 L260.53 615.26 L260.64 613.40 L260.74 611.64 L260.84 610.00 L260.93 608.50 L261.01 607.10 L261.09 605.80 L261.17 604.56 L261.24 603.38 L261.31 602.24 L261.38 601.12 L261.46 600.00 L261.52 598.89 L261.58 597.81 L261.63 596.77 L261.69 595.75 L261.75 594.77 L261.81 593.81 L261.89 592.89 L261.97 592.00 L262.08 591.13 L262.20 590.28 L262.34 589.45 L262.48 588.66 L262.62 587.91 L262.76 587.21 L262.89 586.57 L263.00 586.00 L263.10 585.49 L263.18 585.02 L263.25 584.61 L263.32 584.25 L263.39 583.95 L263.47 583.70 L263.55 583.52 L263.65 583.40 L263.76 583.36 L263.89 583.42 L264.02 583.55 L264.15 583.72 L264.29 583.94 L264.43 584.17 L264.57 584.40 L264.70 584.60 L264.83 584.78 L264.95 584.97 L265.08 585.15 L265.20 585.35 L265.32 585.57 L265.45 585.81 L265.57 586.08 L265.70 586.40 L265.84 586.74 L265.98 587.09 L266.13 587.47 L266.28 587.88 L266.43 588.32 L266.56 588.82 L266.67 589.37 L266.76 590.00 L266.83 590.67 L266.87 591.37 L266.89 592.11 L266.91 592.91 L266.91 593.79 L266.92 594.75 L266.93 595.81 L266.96 597.00 L266.99 598.29 L267.02 599.66 L267.06 601.13 L267.09 602.69 L267.13 604.35 L267.18 606.12 L267.22 608.00 L267.26 610.00 L267.31 612.17 L267.36 614.51 L267.41 616.99 L267.46 619.56 L267.51 622.19 L267.57 624.84 L267.62 627.45 L267.67 630.00 L267.71 632.50 L267.76 635.00 L267.81 637.50 L267.85 640.00 L267.89 642.50 L267.94 645.00 L267.98 647.50 L268.03 650.00 L268.07 652.50 L268.12 655.00 L268.17 657.50 L268.22 660.00 L268.26 662.50 L268.31 665.00 L268.36 667.50 L268.40 670.00 L268.45 672.57 L268.50 675.23 L268.56 677.94 L268.61 680.62 L268.66 683.23 L268.70 685.70 L268.75 687.98 L268.78 690.00 L268.81 691.69 L268.83 693.09 L268.84 694.26 L268.85 695.31 L268.86 696.32 L268.88 697.38 L268.92 698.58 L268.98 700.00 L269.05 701.64 L269.15 703.40 L269.26 705.26 L269.37 707.19 L269.50 709.16 L269.62 711.13 L269.73 713.09 L269.84 715.00 L269.94 716.88 L270.04 718.75 L270.13 720.62 L270.23 722.50 L270.32 724.38 L270.41 726.25 L270.50 728.12 L270.59 730.00 L270.68 731.88 L270.77 733.75 L270.86 735.62 L270.95 737.50 L271.04 739.38 L271.13 741.25 L271.21 743.12 L271.30 745.00 L271.39 746.91 L271.48 748.87 L271.57 750.84 L271.66 752.81 L271.74 754.74 L271.83 756.60 L271.91 758.36 L271.98 760.00 L272.05 761.51 L272.12 762.91 L272.18 764.23 L272.23 765.47 L272.29 766.65 L272.34 767.79 L272.40 768.90 L272.46 770.00 L272.51 771.08 L272.57 772.12 L272.62 773.13 L272.67 774.09 L272.73 775.02 L272.78 775.89 L272.84 776.72 L272.90 777.50 L272.96 778.22 L273.03 778.89 L273.11 779.50 L273.18 780.07 L273.25 780.60 L273.32 781.09 L273.39 781.56 L273.45 782.00 L273.51 782.42 L273.57 782.80 L273.63 783.16 L273.68 783.48 L273.74 783.77 L273.78 784.02 L273.82 784.23 L273.85 784.40 L273.90 784.24 L273.96 784.04 L274.03 783.80 L274.11 783.52 L274.19 783.22 L274.28 782.90 L274.37 782.56 L274.45 782.20 L274.53 781.81 L274.62 781.37 L274.70 780.89 L274.79 780.40 L274.88 779.91 L274.97 779.43 L275.06 778.99 L275.15 778.60 L275.24 778.25 L275.34 777.93 L275.43 777.62 L275.53 777.34 L275.63 777.08 L275.73 776.84 L275.84 776.61 L275.95 776.40 L276.07 776.21 L276.19 776.04 L276.31 775.89 L276.44 775.76 L276.57 775.63 L276.70 775.52 L276.83 775.41 L276.95 775.30 L277.07 775.19 L277.19 775.09 L277.30 775.00 L277.42 774.92 L277.53 774.84 L277.64 774.76 L277.75 774.68 L277.85 774.60 L277.95 774.53 L278.04 774.48 L278.14 774.43 L278.23 774.38 L278.31 774.32 L278.39 774.25 L278.47 774.14 L278.55 774.00 L278.62 773.86 L278.69 773.74 L278.76 773.62 L278.82 773.46 L278.88 773.25 L278.93 772.95 L278.99 772.55 L279.05 772.00 L279.11 771.33 L279.17 770.56 L279.22 769.70 L279.28 768.75 L279.33 767.70 L279.39 766.56 L279.43 765.33 L279.48 764.00 L279.52 762.54 L279.56 760.95 L279.59 759.23 L279.62 757.44 L279.65 755.59 L279.68 753.71 L279.71 751.84 L279.74 750.00 L279.78 748.17 L279.81 746.32 L279.84 744.45 L279.88 742.56 L279.91 740.67 L279.95 738.77 L279.98 736.88 L280.01 735.00 L280.05 733.16 L280.08 731.37 L280.11 729.59 L280.15 727.81 L280.18 725.99 L280.22 724.10 L280.26 722.11 L280.30 720.00 L280.34 717.71 L280.38 715.23 L280.43 712.65 L280.47 710.00 L280.52 707.35 L280.57 704.77 L280.62 702.29 L280.67 700.00 L280.73 697.89 L280.79 695.90 L280.85 694.01 L280.91 692.19 L280.98 690.41 L281.04 688.63 L281.11 686.84 L281.18 685.00 L281.26 683.12 L281.33 681.25 L281.41 679.38 L281.49 677.50 L281.57 675.62 L281.65 673.75 L281.73 671.88 L281.81 670.00 L281.90 668.12 L281.98 666.25 L282.07 664.38 L282.15 662.50 L282.24 660.62 L282.33 658.75 L282.42 656.88 L282.51 655.00 L282.60 653.12 L282.69 651.25 L282.78 649.38 L282.88 647.50 L282.97 645.62 L283.06 643.75 L283.16 641.88 L283.25 640.00 L283.35 638.12 L283.44 636.25 L283.54 634.38 L283.63 632.50 L283.73 630.62 L283.83 628.75 L283.93 626.88 L284.03 625.00 L284.13 623.09 L284.24 621.13 L284.36 619.16 L284.47 617.19 L284.58 615.26 L284.69 613.40 L284.79 611.64 L284.89 610.00 L284.98 608.50 L285.06 607.10 L285.14 605.80 L285.22 604.56 L285.29 603.38 L285.36 602.24 L285.43 601.12 L285.51 600.00 L285.57 598.89 L285.63 597.81 L285.68 596.77 L285.74 595.75 L285.80 594.77 L285.86 593.81 L285.94 592.89 L286.02 592.00 L286.13 591.13 L286.25 590.28 L286.39 589.45 L286.53 588.66 L286.67 587.91 L286.81 587.21 L286.94 586.57 L287.05 586.00 L287.15 585.49 L287.23 585.02 L287.30 584.61 L287.37 584.25 L287.44 583.95 L287.52 583.70 L287.60 583.52 L287.70 583.40 L287.81 583.36 L287.94 583.42 L288.07 583.55 L288.20 583.72 L288.34 583.94 L288.48 584.17 L288.62 584.40 L288.75 584.60 L288.88 584.78 L289.00 584.97 L289.13 585.15 L289.25 585.35 L289.37 585.57 L289.50 585.81 L289.62 586.08 L289.75 586.40 L289.89 586.74 L290.03 587.09 L290.18 587.47 L290.33 587.88 L290.48 588.32 L290.61 588.82 L290.72 589.37 L290.81 590.00 L290.88 590.67 L290.92 591.37 L290.94 592.11 L290.96 592.91 L290.96 593.79 L290.97 594.75 L290.98 595.81 L291.01 597.00 L291.04 598.29 L291.07 599.66 L291.11 601.13 L291.14 602.69 L291.18 604.35 L291.23 606.12 L291.27 608.00 L291.31 610.00 L291.36 612.17 L291.41 614.51 L291.46 616.99 L291.51 619.56 L291.56 622.19 L291.62 624.84 L291.67 627.45 L291.72 630.00 L291.76 632.50 L291.81 635.00 L291.86 637.50 L291.90 640.00 L291.94 642.50 L291.99 645.00 L292.03 647.50 L292.08 650.00 L292.12 652.50 L292.17 655.00 L292.22 657.50 L292.27 660.00 L292.31 662.50 L292.36 665.00 L292.41 667.50 L292.45 670.00 L292.50 672.57 L292.55 675.23 L292.61 677.94 L292.66 680.62 L292.71 683.23 L292.75 685.70 L292.80 687.98 L292.83 690.00 L292.86 691.69 L292.88 693.09 L292.89 694.26 L292.90 695.31 L292.91 696.32 L292.93 697.38 L292.97 698.58 L293.03 700.00 L293.10 701.64 L293.20 703.40 L293.31 705.26 L293.42 707.19 L293.55 709.16 L293.67 711.13 L293.78 713.09 L293.89 715.00 L293.99 716.88 L294.09 718.75 L294.18 720.62 L294.28 722.50 L294.37 724.38 L294.46 726.25 L294.55 728.12 L294.64 730.00 L294.73 731.88 L294.82 733.75 L294.91 735.62 L295.00 737.50 L295.09 739.38 L295.18 741.25 L295.26 743.12 L295.35 745.00 L295.44 746.91 L295.53 748.87 L295.62 750.84 L295.71 752.81 L295.79 754.74 L295.88 756.60 L295.96 758.36 L296.03 760.00 L296.10 761.51 L296.17 762.91 L296.23 764.23 L296.28 765.47 L296.34 766.65 L296.39 767.79 L296.45 768.90 L296.51 770.00 L296.56 771.08 L296.62 772.12 L296.67 773.13 L296.72 774.09 L296.78 775.02 L296.83 775.89 L296.89 776.72 L296.95 777.50 L297.01 778.22 L297.08 778.89 L297.16 779.50 L297.23 780.07 L297.30 780.60 L297.37 781.09 L297.44 781.56 L297.50 782.00 L297.56 782.42 L297.62 782.80 L297.68 783.16 L297.73 783.48 L297.79 783.77 L297.83 784.02 L297.87 784.23 L297.90 784.40 L297.95 784.24 L298.01 784.04 L298.08 783.80 L298.16 783.52 L298.24 783.22 L298.33 782.90 L298.42 782.56 L298.50 782.20 L298.58 781.81 L298.67 781.37 L298.75 780.89 L298.84 780.40 L298.93 779.91 L299.02 779.43 L299.11 778.99 L299.20 778.60 L299.29 778.25 L299.39 777.93 L299.48 777.62 L299.58 777.34 L299.68 777.08 L299.78 776.84 L299.89 776.61 L300.00 776.40 L300.12 776.21 L300.24 776.04 L300.36 775.89 L300.49 775.76 L300.62 775.63 L300.75 775.52 L300.88 775.41 L301.00 775.30 L301.12 775.19 L301.24 775.09 L301.35 775.00 L301.47 774.92 L301.58 774.84 L301.69 774.76 L301.80 774.68 L301.90 774.60 L302.00 774.53 L302.09 774.48 L302.19 774.43 L302.28 774.38 L302.36 774.32 L302.44 774.25 L302.52 774.14 L302.60 774.00 L302.67 773.86 L302.74 773.74 L302.81 773.62 L302.87 773.46 L302.93 773.25 L302.98 772.95 L303.04 772.55 L303.10 772.00 L303.16 771.33 L303.22 770.56 L303.27 769.70 L303.33 768.75 L303.38 767.70 L303.44 766.56 L303.48 765.33 L303.53 764.00 L303.57 762.54 L303.61 760.95 L303.64 759.23 L303.67 757.44 L303.70 755.59 L303.73 753.71 L303.76 751.84 L303.79 750.00 L303.83 748.17 L303.86 746.32 L303.89 744.45 L303.93 742.56 L303.96 740.67 L304.00 738.77 L304.03 736.88 L304.06 735.00 L304.10 733.16 L304.13 731.37 L304.16 729.59 L304.20 727.81 L304.23 725.99 L304.27 724.10 L304.31 722.11 L304.35 720.00 L304.39 717.71 L304.43 715.23 L304.48 712.65 L304.52 710.00 L304.57 707.35 L304.62 704.77 L304.67 702.29 L304.72 700.00 L304.78 697.89 L304.84 695.90 L304.90 694.01 L304.96 692.19 L305.03 690.41 L305.09 688.63 L305.16 686.84 L305.23 685.00 L305.31 683.12 L305.38 681.25 L305.46 679.38 L305.54 677.50 L305.62 675.62 L305.70 673.75 L305.78 671.88 L305.86 670.00 L305.95 668.12 L306.03 666.25 L306.12 664.38 L306.20 662.50 L306.29 660.62 L306.38 658.75 L306.47 656.88 L306.56 655.00 L306.65 653.12 L306.74 651.25 L306.83 649.38 L306.93 647.50 L307.02 645.62 L307.11 643.75 L307.21 641.88 L307.30 640.00 L307.40 638.12 L307.49 636.25 L307.59 634.38 L307.68 632.50 L307.78 630.62 L307.88 628.75 L307.98 626.88 L308.08 625.00 L308.18 623.09 L308.29 621.13 L308.41 619.16 L308.52 617.19 L308.63 615.26 L308.74 613.40 L308.84 611.64 L308.94 610.00 L309.03 608.50 L309.11 607.10 L309.19 605.80 L309.27 604.56 L309.34 603.38 L309.41 602.24 L309.48 601.12 L309.56 600.00 L309.62 598.89 L309.68 597.81 L309.73 596.77 L309.79 595.75 L309.85 594.77 L309.91 593.81 L309.99 592.89 L310.07 592.00 L310.18 591.13 L310.30 590.28 L310.44 589.45 L310.58 588.66 L310.72 587.91 L310.86 587.21 L310.99 586.57 L311.10 586.00 L311.20 585.49 L311.28 585.02 L311.35 584.61 L311.42 584.25 L311.49 583.95 L311.57 583.70 L311.65 583.52 L311.75 583.40 L311.86 583.36 L311.99 583.42 L312.12 583.55 L312.25 583.72 L312.39 583.94 L312.53 584.17 L312.67 584.40 L312.80 584.60 L312.93 584.78 L313.05 584.97 L313.18 585.15 L313.30 585.35 L313.42 585.57 L313.55 585.81 L313.67 586.08 L313.80 586.40 L313.94 586.74 L314.08 587.09 L314.23 587.47 L314.38 587.88 L314.53 588.32 L314.66 588.82 L314.77 589.37 L314.86 590.00 L314.93 590.67 L314.97 591.37 L314.99 592.11 L315.01 592.91 L315.01 593.79 L315.02 594.75 L315.03 595.81 L315.06 597.00 L315.09 598.29 L315.12 599.66 L315.16 601.13 L315.19 602.69 L315.23 604.35 L315.28 606.12 L315.32 608.00 L315.36 610.00 L315.41 612.17 L315.46 614.51 L315.51 616.99 L315.56 619.56 L315.61 622.19 L315.67 624.84 L315.72 627.45 L315.77 630.00 L315.81 632.50 L315.86 635.00 L315.91 637.50 L315.95 640.00 L315.99 642.50 L316.04 645.00 L316.08 647.50 L316.13 650.00 L316.17 652.50 L316.22 655.00 L316.27 657.50 L316.32 660.00 L316.36 662.50 L316.41 665.00 L316.46 667.50 L316.50 670.00 L316.55 672.57 L316.60 675.23 L316.66 677.94 L316.71 680.62 L316.76 683.23 L316.80 685.70 L316.85 687.98 L316.88 690.00 L316.91 691.69 L316.93 693.09 L316.94 694.26 L316.95 695.31 L316.96 696.32 L316.98 697.38 L317.02 698.58 L317.08 700.00 L317.15 701.64 L317.25 703.40 L317.36 705.26 L317.47 707.19 L317.60 709.16 L317.72 711.13 L317.83 713.09 L317.94 715.00 L318.04 716.88 L318.14 718.75 L318.23 720.62 L318.33 722.50 L318.42 724.38 L318.51 726.25 L318.60 728.12 L318.69 730.00 L318.78 731.88 L318.87 733.75 L318.96 735.62 L319.05 737.50 L319.14 739.38 L319.23 741.25 L319.31 743.12 L319.40 745.00 L319.49 746.91 L319.58 748.87 L319.67 750.84 L319.76 752.81 L319.84 754.74 L319.93 756.60 L320.01 758.36 L320.08 760.00 L320.15 761.51 L320.22 762.91 L320.28 764.23 L320.33 765.47 L320.39 766.65 L320.44 767.79 L320.50 768.90 L320.56 770.00 L320.61 771.08 L320.67 772.12 L320.72 773.13 L320.77 774.09 L320.83 775.02 L320.88 775.89 L320.94 776.72 L321.00 777.50 L321.06 778.22 L321.13 778.89 L321.21 779.50 L321.28 780.07 L321.35 780.60 L321.42 781.09 L321.49 781.56 L321.55 782.00 L321.61 782.42 L321.67 782.80 L321.73 783.16 L321.78 783.48 L321.84 783.77 L321.88 784.02 L321.92 784.23 L321.95 784.40 L322.00 784.24 L322.06 784.04 L322.13 783.80 L322.21 783.52 L322.29 783.22 L322.38 782.90 L322.47 782.56 L322.55 782.20 L322.63 781.81 L322.72 781.37 L322.80 780.89 L322.89 780.40 L322.98 779.91 L323.07 779.43 L323.16 778.99 L323.25 778.60 L323.34 778.25 L323.44 777.93 L323.53 777.62 L323.63 777.34 L323.73 777.08 L323.83 776.84 L323.94 776.61 L324.05 776.40 L324.17 776.21 L324.29 776.04 L324.41 775.89 L324.54 775.76 L324.67 775.63 L324.80 775.52 L324.93 775.41 L325.05 775.30 L325.17 775.19 L325.29 775.09 L325.40 775.00 L325.52 774.92 L325.63 774.84 L325.74 774.76 L325.85 774.68 L325.95 774.60 L326.05 774.53 L326.14 774.48 L326.24 774.43 L326.33 774.38 L326.41 774.32 L326.49 774.25 L326.57 774.14 L326.65 774.00 L326.72 773.86 L326.79 773.74 L326.86 773.62 L326.92 773.46 L326.98 773.25 L327.03 772.95 L327.09 772.55 L327.15 772.00 L327.21 771.33 L327.27 770.56 L327.32 769.70 L327.38 768.75 L327.43 767.70 L327.49 766.56 L327.53 765.33 L327.58 764.00 L327.62 762.54 L327.66 760.95 L327.69 759.23 L327.72 757.44 L327.75 755.59 L327.78 753.71 L327.81 751.84 L327.84 750.00 L327.88 748.17 L327.91 746.32 L327.94 744.45 L327.98 742.56 L328.01 740.67 L328.05 738.77 L328.08 736.88 L328.11 735.00 L328.15 733.16 L328.18 731.37 L328.21 729.59 L328.25 727.81 L328.28 725.99 L328.32 724.10 L328.36 722.11 L328.40 720.00 L328.44 717.71 L328.48 715.23 L328.53 712.65 L328.57 710.00 L328.62 707.35 L328.67 704.77 L328.72 702.29 L328.77 700.00 L328.83 697.89 L328.89 695.90 L328.95 694.01 L329.01 692.19 L329.08 690.41 L329.14 688.63 L329.21 686.84 L329.28 685.00 L329.36 683.12 L329.43 681.25 L329.51 679.38 L329.59 677.50 L329.67 675.62 L329.75 673.75 L329.83 671.88 L329.91 670.00 L330.00 668.12 L330.08 666.25 L330.17 664.38 L330.25 662.50 L330.34 660.62 L330.43 658.75 L330.52 656.88 L330.61 655.00 L330.70 653.12 L330.79 651.25 L330.88 649.38 L330.98 647.50 L331.07 645.62 L331.16 643.75 L331.26 641.88 L331.35 640.00 L331.45 638.12 L331.54 636.25 L331.64 634.38 L331.73 632.50 L331.83 630.62 L331.93 628.75 L332.03 626.88 L332.13 625.00 L332.23 623.09 L332.34 621.13 L332.46 619.16 L332.57 617.19 L332.68 615.26 L332.79 613.40 L332.89 611.64 L332.99 610.00 L333.08 608.50 L333.16 607.10 L333.24 605.80 L333.32 604.56 L333.39 603.38 L333.46 602.24 L333.53 601.12 L333.61 600.00 L333.67 598.89 L333.73 597.81 L333.78 596.77 L333.84 595.75 L333.90 594.77 L333.96 593.81 L334.04 592.89 L334.12 592.00 L334.23 591.13 L334.35 590.28 L334.49 589.45 L334.63 588.66 L334.77 587.91 L334.91 587.21 L335.04 586.57 L335.15 586.00 L335.25 585.49 L335.33 585.02 L335.40 584.61 L335.47 584.25 L335.54 583.95 L335.62 583.70 L335.70 583.52 L335.80 583.40 L335.91 583.36 L336.04 583.42 L336.17 583.55 L336.30 583.72 L336.44 583.94 L336.58 584.17 L336.72 584.40 L336.85 584.60 L336.98 584.78 L337.10 584.97 L337.23 585.15 L337.35 585.35 L337.47 585.57 L337.60 585.81 L337.72 586.08 L337.85 586.40 L337.99 586.74 L338.13 587.09 L338.28 587.47 L338.43 587.88 L338.58 588.32 L338.71 588.82 L338.82 589.37 L338.91 590.00 L338.98 590.67 L339.02 591.37 L339.04 592.11 L339.06 592.91 L339.06 593.79 L339.07 594.75 L339.08 595.81 L339.11 597.00 L339.14 598.29 L339.17 599.66 L339.21 601.13 L339.24 602.69 L339.28 604.35 L339.33 606.12 L339.37 608.00 L339.41 610.00 L339.46 612.17 L339.51 614.51 L339.56 616.99 L339.61 619.56 L339.66 622.19 L339.72 624.84 L339.77 627.45 L339.82 630.00 L339.86 632.50 L339.91 635.00 L339.96 637.50 L340.00 640.00 L340.04 642.50 L340.09 645.00 L340.13 647.50 L340.18 650.00 L340.22 652.50 L340.27 655.00 L340.32 657.50 L340.37 660.00 L340.41 662.50 L340.46 665.00 L340.51 667.50 L340.55 670.00 L340.60 672.57 L340.65 675.23 L340.71 677.94 L340.76 680.62 L340.81 683.23 L340.85 685.70 L340.90 687.98 L340.93 690.00 L340.96 691.69 L340.98 693.09 L340.99 694.26 L341.00 695.31 L341.01 696.32 L341.03 697.38 L341.07 698.58 L341.13 700.00 L341.20 701.64 L341.30 703.40 L341.41 705.26 L341.52 707.19 L341.65 709.16 L341.77 711.13 L341.88 713.09 L341.99 715.00 L342.09 716.88 L342.19 718.75 L342.28 720.62 L342.38 722.50 L342.47 724.38 L342.56 726.25 L342.65 728.12 L342.74 730.00 L342.83 731.88 L342.92 733.75 L343.01 735.62 L343.10 737.50 L343.19 739.38 L343.28 741.25 L343.36 743.12 L343.45 745.00 L343.54 746.91 L343.63 748.87 L343.72 750.84 L343.81 752.81 L343.89 754.74 L343.98 756.60 L344.06 758.36 L344.13 760.00 L344.20 761.51 L344.27 762.91 L344.33 764.23 L344.38 765.47 L344.44 766.65 L344.49 767.79 L344.55 768.90 L344.61 770.00 L344.66 771.08 L344.72 772.12 L344.77 773.13 L344.82 774.09 L344.88 775.02 L344.93 775.89 L344.99 776.72 L345.05 777.50 L345.11 778.22 L345.18 778.89 L345.26 779.50 L345.33 780.07 L345.40 780.60 L345.47 781.09 L345.54 781.56 L345.60 782.00 L345.66 782.42 L345.72 782.80 L345.78 783.16 L345.83 783.48 L345.89 783.77 L345.93 784.02 L345.97 784.23 L346.00 784.40 L346.05 784.24 L346.11 784.04 L346.18 783.80 L346.26 783.52 L346.34 783.22 L346.43 782.90 L346.52 782.56 L346.60 782.20 L346.68 781.81 L346.77 781.37 L346.85 780.89 L346.94 780.40 L347.03 779.91 L347.12 779.43 L347.21 778.99 L347.30 778.60 L347.39 778.25 L347.49 777.93 L347.58 777.62 L347.68 777.34 L347.78 777.08 L347.88 776.84 L347.99 776.61 L348.10 776.40 L348.22 776.21 L348.34 776.04 L348.46 775.89 L348.59 775.76 L348.72 775.63 L348.85 775.52 L348.98 775.41 L349.10 775.30 L349.22 775.19 L349.34 775.09 L349.45 775.00 L349.57 774.92 L349.68 774.84 L349.79 774.76 L349.90 774.68 L350.00 774.60 L350.10 774.53 L350.19 774.48 L350.29 774.43 L350.38 774.38 L350.46 774.32 L350.54 774.25 L350.62 774.14 L350.70 774.00 L350.77 773.86 L350.84 773.74 L350.91 773.62 L350.97 773.46 L351.03 773.25 L351.08 772.95 L351.14 772.55 L351.20 772.00 L351.26 771.33 L351.32 770.56 L351.37 769.70 L351.43 768.75 L351.48 767.70 L351.54 766.56 L351.58 765.33 L351.63 764.00 L351.67 762.54 L351.71 760.95 L351.74 759.23 L351.77 757.44 L351.80 755.59 L351.83 753.71 L351.86 751.84 L351.89 750.00 L351.93 748.17 L351.96 746.32 L351.99 744.45 L352.03 742.56 L352.06 740.67 L352.10 738.77 L352.13 736.88 L352.16 735.00 L352.20 733.16 L352.23 731.37 L352.26 729.59 L352.30 727.81 L352.33 725.99 L352.37 724.10 L352.41 722.11 L352.45 720.00 L352.49 717.71 L352.53 715.23 L352.58 712.65 L352.62 710.00 L352.67 707.35 L352.72 704.77 L352.77 702.29 L352.82 700.00 L352.88 697.89 L352.94 695.90 L353.00 694.01 L353.06 692.19 L353.13 690.41 L353.19 688.63 L353.26 686.84 L353.33 685.00 L353.41 683.12 L353.48 681.25 L353.56 679.38 L353.64 677.50 L353.72 675.62 L353.80 673.75 L353.88 671.88 L353.96 670.00 L354.05 668.12 L354.13 666.25 L354.22 664.38 L354.30 662.50 L354.39 660.62 L354.48 658.75 L354.57 656.88 L354.66 655.00 L354.75 653.12 L354.84 651.25 L354.93 649.38 L355.03 647.50 L355.12 645.62 L355.21 643.75 L355.31 641.88 L355.40 640.00 L355.50 638.12 L355.59 636.25 L355.69 634.38 L355.78 632.50 L355.88 630.62 L355.98 628.75 L356.08 626.88 L356.18 625.00 L356.28 623.09 L356.39 621.13 L356.51 619.16 L356.62 617.19 L356.73 615.26 L356.84 613.40 L356.94 611.64 L357.04 610.00 L357.13 608.50 L357.21 607.10 L357.29 605.80 L357.37 604.56 L357.44 603.38 L357.51 602.24 L357.58 601.12 L357.66 600.00 L357.72 598.89 L357.78 597.81 L357.83 596.77 L357.89 595.75 L357.95 594.77 L358.01 593.81 L358.09 592.89 L358.17 592.00 L358.28 591.13 L358.40 590.28 L358.54 589.45 L358.68 588.66 L358.82 587.91 L358.96 587.21 L359.09 586.57 L359.20 586.00 L359.30 585.49 L359.38 585.02 L359.45 584.61 L359.52 584.25 L359.59 583.95 L359.67 583.70 L359.75 583.52 L359.85 583.40 L359.96 583.36 L360.09 583.42 L360.22 583.55 L360.35 583.72 L360.49 583.94 L360.63 584.17 L360.77 584.40 L360.90 584.60 L361.03 584.78 L361.15 584.97 L361.28 585.15 L361.40 585.35 L361.52 585.57 L361.65 585.81 L361.77 586.08 L361.90 586.40 L362.04 586.74 L362.18 587.09 L362.33 587.47 L362.48 587.88 L362.63 588.32 L362.76 588.82 L362.87 589.37 L362.96 590.00 L363.03 590.67 L363.07 591.37 L363.09 592.11 L363.11 592.91 L363.11 593.79 L363.12 594.75 L363.13 595.81 L363.16 597.00 L363.19 598.29 L363.22 599.66 L363.26 601.13 L363.29 602.69 L363.33 604.35 L363.38 606.12 L363.42 608.00 L363.46 610.00 L363.51 612.17 L363.56 614.51 L363.61 616.99 L363.66 619.56 L363.71 622.19 L363.77 624.84 L363.82 627.45 L363.87 630.00 L363.91 632.50 L363.96 635.00 L364.01 637.50 L364.05 640.00 L364.09 642.50 L364.14 645.00 L364.18 647.50 L364.23 650.00 L364.27 652.50 L364.32 655.00 L364.37 657.50 L364.42 660.00 L364.46 662.50 L364.51 665.00 L364.56 667.50 L364.60 670.00 L364.65 672.57 L364.70 675.23 L364.76 677.94 L364.81 680.62 L364.86 683.23 L364.90 685.70 L364.95 687.98 L364.98 690.00 L365.01 691.69 L365.03 693.09 L365.04 694.26 L365.05 695.31 L365.06 696.32 L365.08 697.38 L365.12 698.58 L365.18 700.00 L365.25 701.64 L365.35 703.40 L365.46 705.26 L365.57 707.19 L365.70 709.16 L365.82 711.13 L365.93 713.09 L366.04 715.00 L366.14 716.88 L366.24 718.75 L366.33 720.62 L366.43 722.50 L366.52 724.38 L366.61 726.25 L366.70 728.12 L366.79 730.00 L366.88 731.88 L366.97 733.75 L367.06 735.62 L367.15 737.50 L367.24 739.38 L367.33 741.25 L367.41 743.12 L367.50 745.00 L367.59 746.91 L367.68 748.87 L367.77 750.84 L367.86 752.81 L367.94 754.74 L368.03 756.60 L368.11 758.36 L368.18 760.00 L368.25 761.51 L368.32 762.91 L368.38 764.23 L368.43 765.47 L368.49 766.65 L368.54 767.79 L368.60 768.90 L368.66 770.00 L368.71 771.08 L368.77 772.12 L368.82 773.13 L368.87 774.09 L368.93 775.02 L368.98 775.89 L369.04 776.72 L369.10 777.50 L369.16 778.22 L369.23 778.89 L369.31 779.50 L369.38 780.07 L369.45 780.60 L369.52 781.09 L369.59 781.56 L369.65 782.00 L369.71 782.42 L369.77 782.80 L369.83 783.16 L369.88 783.48 L369.94 783.77 L369.98 784.02 L370.02 784.23 L370.05 784.40 L370.10 784.24 L370.16 784.04 L370.23 783.80 L370.31 783.52 L370.39 783.22 L370.48 782.90 L370.57 782.56 L370.65 782.20 L370.73 781.81 L370.82 781.37 L370.90 780.89 L370.99 780.40 L371.08 779.91 L371.17 779.43 L371.26 778.99 L371.35 778.60 L371.44 778.25 L371.54 777.93 L371.63 777.62 L371.73 777.34 L371.83 777.08 L371.93 776.84 L372.04 776.61 L372.15 776.40 L372.27 776.21 L372.39 776.04 L372.51 775.89 L372.64 775.76 L372.77 775.63 L372.90 775.52 L373.03 775.41 L373.15 775.30 L373.27 775.19 L373.39 775.09 L373.50 775.00 L373.62 774.92 L373.73 774.84 L373.84 774.76 L373.95 774.68 L374.05 774.60 L374.15 774.53 L374.24 774.48 L374.34 774.43 L374.43 774.38 L374.51 774.32 L374.59 774.25 L374.67 774.14 L374.75 774.00 L374.82 773.86 L374.89 773.74 L374.96 773.62 L375.02 773.46 L375.08 773.25 L375.13 772.95 L375.19 772.55 L375.25 772.00 L375.31 771.33 L375.37 770.56 L375.42 769.70 L375.48 768.75 L375.53 767.70 L375.59 766.56 L375.63 765.33 L375.68 764.00 L375.72 762.54 L375.76 760.95 L375.79 759.23 L375.82 757.44 L375.85 755.59 L375.88 753.71 L375.91 751.84 L375.94 750.00 L375.98 748.17 L376.01 746.32 L376.04 744.45 L376.08 742.56 L376.11 740.67 L376.15 738.77 L376.18 736.88 L376.21 735.00 L376.25 733.16 L376.28 731.37 L376.31 729.59 L376.35 727.81 L376.38 725.99 L376.42 724.10 L376.46 722.11 L376.50 720.00 L376.54 717.71 L376.58 715.23 L376.63 712.65 L376.67 710.00 L376.72 707.35 L376.77 704.77 L376.82 702.29 L376.87 700.00 L376.93 697.89 L376.99 695.90 L377.05 694.01 L377.11 692.19 L377.18 690.41 L377.24 688.63 L377.31 686.84 L377.38 685.00 L377.46 683.12 L377.53 681.25 L377.61 679.38 L377.69 677.50 L377.77 675.62 L377.85 673.75 L377.93 671.88 L378.01 670.00 L378.10 668.12 L378.18 666.25 L378.27 664.38 L378.35 662.50 L378.44 660.62 L378.53 658.75 L378.62 656.88 L378.71 655.00 L378.80 653.12 L378.89 651.25 L378.98 649.38 L379.08 647.50 L379.17 645.62 L379.26 643.75 L379.36 641.88 L379.45 640.00 L379.55 638.12 L379.64 636.25 L379.74 634.38 L379.83 632.50 L379.93 630.62 L380.03 628.75 L380.13 626.88 L380.23 625.00 L380.33 623.09 L380.44 621.13 L380.56 619.16 L380.67 617.19 L380.78 615.26 L380.89 613.40 L380.99 611.64 L381.09 610.00 L381.18 608.50 L381.26 607.10 L381.34 605.80 L381.42 604.56 L381.49 603.38 L381.56 602.24 L381.63 601.12 L381.71 600.00 L381.77 598.89 L381.83 597.81 L381.88 596.77 L381.94 595.75 L382.00 594.77 L382.06 593.81 L382.14 592.89 L382.22 592.00 L382.33 591.13 L382.45 590.28 L382.59 589.45 L382.73 588.66 L382.87 587.91 L383.01 587.21 L383.14 586.57 L383.25 586.00 L383.35 585.49 L383.43 585.02 L383.50 584.61 L383.57 584.25 L383.64 583.95 L383.72 583.70 L383.80 583.52 L383.90 583.40 L384.01 583.36 L384.14 583.42 L384.27 583.55 L384.40 583.72 L384.54 583.94 L384.68 584.17 L384.82 584.40 L384.95 584.60 L385.08 584.78 L385.20 584.97 L385.33 585.15 L385.45 585.35 L385.57 585.57 L385.70 585.81 L385.82 586.08 L385.95 586.40 L386.09 586.74 L386.23 587.09 L386.38 587.47 L386.53 587.88 L386.68 588.32 L386.81 588.82 L386.92 589.37 L387.01 590.00 L387.08 590.67 L387.12 591.37 L387.14 592.11 L387.16 592.91 L387.16 593.79 L387.17 594.75 L387.18 595.81 L387.21 597.00 L387.24 598.29 L387.27 599.66 L387.31 601.13 L387.34 602.69 L387.38 604.35 L387.43 606.12 L387.47 608.00 L387.51 610.00 L387.56 612.17 L387.61 614.51 L387.66 616.99 L387.71 619.56 L387.76 622.19 L387.82 624.84 L387.87 627.45 L387.92 630.00 L387.96 632.50 L388.01 635.00 L388.06 637.50 L388.10 640.00 L388.14 642.50 L388.19 645.00 L388.23 647.50 L388.28 650.00 L388.32 652.50 L388.37 655.00 L388.42 657.50 L388.47 660.00 L388.51 662.50 L388.56 665.00 L388.61 667.50 L388.65 670.00 L388.70 672.57 L388.75 675.23 L388.81 677.94 L388.86 680.62 L388.91 683.23 L388.95 685.70 L389.00 687.98 L389.03 690.00 L389.06 691.69 L389.08 693.09 L389.09 694.26 L389.10 695.31 L389.11 696.32 L389.13 697.38 L389.17 698.58 L389.23 700.00 L389.30 701.64 L389.40 703.40 L389.51 705.26 L389.62 707.19 L389.75 709.16 L389.87 711.13 L389.98 713.09 L390.09 715.00 L390.19 716.88 L390.29 718.75 L390.38 720.62 L390.48 722.50 L390.57 724.38 L390.66 726.25 L390.75 728.12 L390.84 730.00 L390.93 731.88 L391.02 733.75 L391.11 735.62 L391.20 737.50 L391.29 739.38 L391.38 741.25 L391.46 743.12 L391.55 745.00 L391.64 746.91 L391.73 748.87 L391.82 750.84 L391.91 752.81 L391.99 754.74 L392.08 756.60 L392.16 758.36 L392.23 760.00 L392.30 761.51 L392.37 762.91 L392.43 764.23 L392.48 765.47 L392.54 766.65 L392.59 767.79 L392.65 768.90 L392.71 770.00 L392.76 771.08 L392.82 772.12 L392.87 773.13 L392.92 774.09 L392.98 775.02 L393.03 775.89 L393.09 776.72 L393.15 777.50 L393.21 778.22 L393.28 778.89 L393.36 779.50 L393.43 780.07 L393.50 780.60 L393.57 781.09 L393.64 781.56 L393.70 782.00 L393.76 782.42 L393.82 782.80 L393.88 783.16 L393.93 783.48 L393.99 783.77 L394.03 784.02 L394.07 784.23 L394.10 784.40 L394.15 784.24 L394.21 784.04 L394.28 783.80 L394.36 783.52 L394.44 783.22 L394.53 782.90 L394.62 782.56 L394.70 782.20 L394.78 781.81 L394.87 781.37 L394.95 780.89 L395.04 780.40 L395.13 779.91 L395.22 779.43 L395.31 778.99 L395.40 778.60 L395.49 778.25 L395.59 777.93 L395.68 777.62 L395.78 777.34 L395.88 777.08 L395.98 776.84 L396.09 776.61 L396.20 776.40 L396.32 776.21 L396.44 776.04 L396.56 775.89 L396.69 775.76 L396.82 775.63 L396.95 775.52 L397.08 775.41 L397.20 775.30 L397.32 775.19 L397.44 775.09 L397.55 775.00 L397.67 774.92 L397.78 774.84 L397.89 774.76 L398.00 774.68 L398.10 774.60 L398.20 774.53 L398.29 774.48 L398.39 774.43 L398.48 774.38 L398.56 774.32 L398.64 774.25 L398.72 774.14 L398.80 774.00 L398.87 773.86 L398.94 773.74 L399.01 773.62 L399.07 773.46 L399.13 773.25 L399.18 772.95 L399.24 772.55 L399.30 772.00 L399.36 771.33 L399.42 770.56 L399.47 769.70 L399.53 768.75 L399.58 767.70 L399.64 766.56 L399.68 765.33 L399.73 764.00 L399.77 762.54 L399.81 760.95 L399.84 759.23 L399.87 757.44 L399.90 755.59 L399.93 753.71 L399.96 751.84 L399.99 750.00 L400.03 748.17 L400.06 746.32 L400.09 744.45 L400.13 742.56 L400.16 740.67 L400.20 738.77 L400.23 736.88 L400.26 735.00 L400.30 733.16 L400.33 731.37 L400.36 729.59 L400.40 727.81 L400.43 725.99 L400.47 724.10 L400.51 722.11 L400.55 720.00 L400.59 717.71 L400.63 715.23 L400.68 712.65 L400.72 710.00 L400.77 707.35 L400.82 704.77 L400.87 702.29 L400.92 700.00 L400.98 697.89 L401.04 695.90 L401.10 694.01 L401.16 692.19 L401.23 690.41 L401.29 688.63 L401.36 686.84 L401.43 685.00 L401.51 683.12 L401.58 681.25 L401.66 679.38 L401.74 677.50 L401.82 675.62 L401.90 673.75 L401.98 671.88 L402.06 670.00 L402.15 668.12 L402.23 666.25 L402.32 664.38 L402.40 662.50 L402.49 660.62 L402.58 658.75 L402.67 656.88 L402.76 655.00 L402.85 653.12 L402.94 651.25 L403.03 649.38 L403.13 647.50 L403.22 645.62 L403.31 643.75 L403.41 641.88 L403.50 640.00 L403.60 638.12 L403.69 636.25 L403.79 634.38 L403.88 632.50 L403.98 630.62 L404.08 628.75 L404.18 626.88 L404.28 625.00 L404.38 623.09 L404.49 621.13 L404.61 619.16 L404.72 617.19 L404.83 615.26 L404.94 613.40 L405.04 611.64 L405.14 610.00 L405.23 608.50 L405.31 607.10 L405.39 605.80 L405.47 604.56 L405.54 603.38 L405.61 602.24 L405.68 601.12 L405.76 600.00 L405.82 598.89 L405.88 597.81 L405.93 596.77 L405.99 595.75 L406.05 594.77 L406.11 593.81 L406.19 592.89 L406.27 592.00 L406.38 591.13 L406.50 590.28 L406.64 589.45 L406.78 588.66 L406.92 587.91 L407.06 587.21 L407.19 586.57 L407.30 586.00 L407.40 585.49 L407.48 585.02 L407.55 584.61 L407.62 584.25 L407.69 583.95 L407.77 583.70 L407.85 583.52 L407.95 583.40 L408.06 583.36 L408.19 583.42 L408.32 583.55 L408.45 583.72 L408.59 583.94 L408.73 584.17 L408.87 584.40 L409.00 584.60 L409.13 584.78 L409.25 584.97 L409.38 585.15 L409.50 585.35 L409.62 585.57 L409.75 585.81 L409.87 586.08 L410.00 586.40 L410.14 586.74 L410.28 587.09 L410.43 587.47 L410.58 587.88 L410.73 588.32 L410.86 588.82 L410.97 589.37 L411.06 590.00 L411.13 590.67 L411.17 591.37 L411.19 592.11 L411.21 592.91 L411.21 593.79 L411.22 594.75 L411.23 595.81 L411.26 597.00 L411.29 598.29 L411.32 599.66 L411.36 601.13 L411.39 602.69 L411.43 604.35 L411.48 606.12 L411.52 608.00 L411.56 610.00 L411.61 612.17 L411.66 614.51 L411.71 616.99 L411.76 619.56 L411.81 622.19 L411.87 624.84 L411.92 627.45 L411.97 630.00 L412.01 632.50 L412.06 635.00 L412.11 637.50 L412.15 640.00 L412.19 642.50 L412.24 645.00 L412.28 647.50 L412.33 650.00 L412.37 652.50 L412.42 655.00 L412.47 657.50 L412.52 660.00 L412.56 662.50 L412.61 665.00 L412.66 667.50 L412.70 670.00 L412.75 672.57 L412.80 675.23 L412.86 677.94 L412.91 680.62 L412.96 683.23 L413.00 685.70 L413.05 687.98 L413.08 690.00 L413.11 691.69 L413.13 693.09 L413.14 694.26 L413.15 695.31 L413.16 696.32 L413.18 697.38 L413.22 698.58 L413.28 700.00 L413.35 701.64 L413.45 703.40 L413.56 705.26 L413.67 707.19 L413.80 709.16 L413.92 711.13 L414.03 713.09 L414.14 715.00 L414.24 716.88 L414.34 718.75 L414.43 720.62 L414.53 722.50 L414.62 724.38 L414.71 726.25 L414.80 728.12 L414.89 730.00 L414.98 731.88 L415.07 733.75 L415.16 735.62 L415.25 737.50 L415.34 739.38 L415.43 741.25 L415.51 743.12 L415.60 745.00 L415.69 746.91 L415.78 748.87 L415.87 750.84 L415.96 752.81 L416.04 754.74 L416.13 756.60 L416.21 758.36 L416.28 760.00 L416.35 761.51 L416.42 762.91 L416.48 764.23 L416.53 765.47 L416.59 766.65 L416.64 767.79 L416.70 768.90 L416.76 770.00 L416.81 771.08 L416.87 772.12 L416.92 773.13 L416.97 774.09 L417.03 775.02 L417.08 775.89 L417.14 776.72 L417.20 777.50 L417.26 778.22 L417.33 778.89 L417.41 779.50 L417.48 780.07 L417.55 780.60 L417.62 781.09 L417.69 781.56 L417.75 782.00 L417.81 782.42 L417.87 782.80 L417.93 783.16 L417.98 783.48 L418.04 783.77 L418.08 784.02 L418.12 784.23 L418.15 784.40 L418.20 784.24 L418.26 784.04 L418.33 783.80 L418.41 783.52 L418.49 783.22 L418.58 782.90 L418.67 782.56 L418.75 782.20 L418.83 781.81 L418.92 781.37 L419.00 780.89 L419.09 780.40 L419.18 779.91 L419.27 779.43 L419.36 778.99 L419.45 778.60 L419.54 778.25 L419.64 777.93 L419.73 777.62 L419.83 777.34 L419.93 777.08 L420.03 776.84 L420.14 776.61 L420.25 776.40 L420.37 776.21 L420.49 776.04 L420.61 775.89 L420.74 775.76 L420.87 775.63 L421.00 775.52 L421.13 775.41 L421.25 775.30 L421.37 775.19 L421.49 775.09 L421.60 775.00 L421.72 774.92 L421.83 774.84 L421.94 774.76 L422.05 774.68 L422.15 774.60 L422.25 774.53 L422.34 774.48 L422.44 774.43 L422.53 774.38 L422.61 774.32 L422.69 774.25 L422.77 774.14 L422.85 774.00 L422.92 773.86 L422.99 773.74 L423.06 773.62 L423.12 773.46 L423.18 773.25 L423.23 772.95 L423.29 772.55 L423.35 772.00 L423.41 771.33 L423.47 770.56 L423.52 769.70 L423.58 768.75 L423.63 767.70 L423.69 766.56 L423.73 765.33 L423.78 764.00 L423.82 762.54 L423.86 760.95 L423.89 759.23 L423.92 757.44 L423.95 755.59 L423.98 753.71 L424.01 751.84 L424.04 750.00 L424.08 748.17 L424.11 746.32 L424.14 744.45 L424.18 742.56 L424.21 740.67 L424.25 738.77 L424.28 736.88 L424.31 735.00 L424.35 733.16 L424.38 731.37 L424.41 729.59 L424.45 727.81 L424.48 725.99 L424.52 724.10 L424.56 722.11 L424.60 720.00 L424.64 717.71 L424.68 715.23 L424.73 712.65 L424.77 710.00 L424.82 707.35 L424.87 704.77 L424.92 702.29 L424.97 700.00 L425.03 697.89 L425.09 695.90 L425.15 694.01 L425.21 692.19 L425.28 690.41 L425.34 688.63 L425.41 686.84 L425.48 685.00 L425.56 683.12 L425.63 681.25 L425.71 679.38 L425.79 677.50 L425.87 675.62 L425.95 673.75 L426.03 671.88 L426.11 670.00 L426.20 668.12 L426.28 666.25 L426.37 664.38 L426.45 662.50 L426.54 660.62 L426.63 658.75 L426.72 656.88 L426.81 655.00 L426.90 653.12 L426.99 651.25 L427.08 649.38 L427.18 647.50 L427.27 645.62 L427.36 643.75 L427.46 641.88 L427.55 640.00 L427.65 638.12 L427.74 636.25 L427.84 634.38 L427.93 632.50 L428.03 630.62 L428.13 628.75 L428.23 626.88 L428.33 625.00 L428.43 623.09 L428.54 621.13 L428.66 619.16 L428.77 617.19 L428.88 615.26 L428.99 613.40 L429.09 611.64 L429.19 610.00 L429.28 608.50 L429.36 607.10 L429.44 605.80 L429.52 604.56 L429.59 603.38 L429.66 602.24 L429.73 601.12 L429.81 600.00 L429.87 598.89 L429.93 597.81 L429.98 596.77 L430.04 595.75 L430.10 594.77 L430.16 593.81 L430.24 592.89 L430.32 592.00 L430.43 591.13 L430.55 590.28 L430.69 589.45 L430.83 588.66 L430.97 587.91 L431.11 587.21 L431.24 586.57 L431.35 586.00 L431.45 585.49 L431.53 585.02 L431.60 584.61 L431.67 584.25 L431.74 583.95 L431.82 583.70 L431.90 583.52 L432.00 583.40 L432.11 583.36 L432.24 583.42 L432.37 583.55 L432.50 583.72 L432.64 583.94 L432.78 584.17 L432.92 584.40 L433.05 584.60 L433.18 584.78 L433.30 584.97 L433.43 585.15 L433.55 585.35 L433.67 585.57 L433.80 585.81 L433.92 586.08 L434.05 586.40 L434.19 586.74 L434.33 587.09 L434.48 587.47 L434.63 587.88 L434.78 588.32 L434.91 588.82 L435.02 589.37 L435.11 590.00 L435.18 590.67 L435.22 591.37 L435.24 592.11 L435.26 592.91 L435.26 593.79 L435.27 594.75 L435.28 595.81 L435.31 597.00 L435.34 598.29 L435.37 599.66 L435.41 601.13 L435.44 602.69 L435.48 604.35 L435.53 606.12 L435.57 608.00 L435.61 610.00 L435.66 612.17 L435.71 614.51 L435.76 616.99 L435.81 619.56 L435.86 622.19 L435.92 624.84 L435.97 627.45 L436.02 630.00 L436.06 632.50 L436.11 635.00 L436.16 637.50 L436.20 640.00 L436.24 642.50 L436.29 645.00 L436.33 647.50 L436.38 650.00 L436.42 652.50 L436.47 655.00 L436.52 657.50 L436.57 660.00 L436.61 662.50 L436.66 665.00 L436.71 667.50 L436.75 670.00 L436.80 672.57 L436.85 675.23 L436.91 677.94 L436.96 680.62 L437.01 683.23 L437.05 685.70 L437.10 687.98 L437.13 690.00 L437.16 691.69 L437.18 693.09 L437.19 694.26 L437.20 695.31 L437.21 696.32 L437.23 697.38 L437.27 698.58 L437.33 700.00 L437.40 701.64 L437.50 703.40 L437.61 705.26 L437.72 707.19 L437.85 709.16 L437.97 711.13 L438.08 713.09 L438.19 715.00 L438.29 716.88 L438.39 718.75 L438.48 720.62 L438.58 722.50 L438.67 724.38 L438.76 726.25 L438.85 728.12 L438.94 730.00 L439.03 731.88 L439.12 733.75 L439.21 735.62 L439.30 737.50 L439.39 739.38 L439.48 741.25 L439.56 743.12 L439.65 745.00 L439.74 746.91 L439.83 748.87 L439.92 750.84 L440.01 752.81 L440.09 754.74 L440.18 756.60 L440.26 758.36 L440.33 760.00 L440.40 761.51 L440.47 762.91 L440.53 764.23 L440.58 765.47 L440.64 766.65 L440.69 767.79 L440.75 768.90 L440.81 770.00 L440.86 771.08 L440.92 772.12 L440.97 773.13 L441.02 774.09 L441.08 775.02 L441.13 775.89 L441.19 776.72 L441.25 777.50 L441.31 778.22 L441.38 778.89 L441.46 779.50 L441.53 780.07 L441.60 780.60 L441.67 781.09 L441.74 781.56 L441.80 782.00 L441.86 782.42 L441.92 782.80 L441.98 783.16 L442.03 783.48 L442.09 783.77 L442.13 784.02 L442.17 784.23 L442.20 784.40 L442.25 784.24 L442.31 784.04 L442.38 783.80 L442.46 783.52 L442.54 783.22 L442.63 782.90 L442.72 782.56 L442.80 782.20 L442.88 781.81 L442.97 781.37 L443.05 780.89 L443.14 780.40 L443.23 779.91 L443.32 779.43 L443.41 778.99 L443.50 778.60 L443.59 778.25 L443.69 777.93 L443.78 777.62 L443.88 777.34 L443.98 777.08 L444.08 776.84 L444.19 776.61 L444.30 776.40 L444.42 776.21 L444.54 776.04 L444.66 775.89 L444.79 775.76 L444.92 775.63 L445.05 775.52 L445.18 775.41 L445.30 775.30 L445.42 775.19 L445.54 775.09 L445.65 775.00 L445.77 774.92 L445.88 774.84 L445.99 774.76 L446.10 774.68 L446.20 774.60 L446.30 774.53 L446.39 774.48 L446.49 774.43 L446.58 774.38 L446.66 774.32 L446.74 774.25 L446.82 774.14 L446.90 774.00 L446.97 773.86 L447.04 773.74 L447.11 773.62 L447.17 773.46 L447.23 773.25 L447.28 772.95 L447.34 772.55 L447.40 772.00 L447.46 771.33 L447.52 770.56 L447.57 769.70 L447.63 768.75 L447.68 767.70 L447.74 766.56 L447.78 765.33 L447.83 764.00 L447.87 762.54 L447.91 760.95 L447.94 759.23 L447.97 757.44 L448.00 755.59 L448.03 753.71 L448.06 751.84 L448.09 750.00 L448.13 748.17 L448.16 746.32 L448.19 744.45 L448.23 742.56 L448.26 740.67 L448.30 738.77 L448.33 736.88 L448.36 735.00 L448.40 733.16 L448.43 731.37 L448.46 729.59 L448.50 727.81 L448.53 725.99 L448.57 724.10 L448.61 722.11 L448.65 720.00 L448.69 717.71 L448.73 715.23 L448.78 712.65 L448.82 710.00 L448.87 707.35 L448.92 704.77 L448.97 702.29 L449.02 700.00 L449.08 697.89 L449.14 695.90 L449.20 694.01 L449.26 692.19 L449.33 690.41 L449.39 688.63 L449.46 686.84 L449.53 685.00 L449.61 683.12 L449.68 681.25 L449.76 679.38 L449.84 677.50 L449.92 675.62 L450.00 673.75 L450.08 671.88 L450.16 670.00 L450.25 668.12 L450.33 666.25 L450.42 664.38 L450.50 662.50 L450.59 660.62 L450.68 658.75 L450.77 656.88 L450.86 655.00 L450.95 653.12 L451.04 651.25 L451.13 649.38 L451.23 647.50 L451.32 645.62 L451.41 643.75 L451.51 641.88 L451.60 640.00 L451.70 638.12 L451.79 636.25 L451.89 634.38 L451.98 632.50 L452.08 630.62 L452.18 628.75 L452.28 626.88 L452.38 625.00 L452.48 623.09 L452.59 621.13 L452.71 619.16 L452.82 617.19 L452.93 615.26 L453.04 613.40 L453.14 611.64 L453.24 610.00 L453.33 608.50 L453.41 607.10 L453.49 605.80 L453.57 604.56 L453.64 603.38 L453.71 602.24 L453.78 601.12 L453.86 600.00 L453.92 598.89 L453.98 597.81 L454.03 596.77 L454.09 595.75 L454.15 594.77 L454.21 593.81 L454.29 592.89 L454.37 592.00 L454.48 591.13 L454.60 590.28 L454.74 589.45 L454.88 588.66 L455.02 587.91 L455.16 587.21 L455.29 586.57 L455.40 586.00 L455.50 585.49 L455.58 585.02 L455.65 584.61 L455.72 584.25 L455.79 583.95 L455.87 583.70 L455.95 583.52 L456.05 583.40 L456.16 583.36 L456.29 583.42 L456.42 583.55 L456.55 583.72 L456.69 583.94 L456.83 584.17 L456.97 584.40 L457.10 584.60 L457.23 584.78 L457.35 584.97 L457.48 585.15 L457.60 585.35 L457.72 585.57 L457.85 585.81 L457.97 586.08 L458.10 586.40 L458.24 586.74 L458.38 587.09 L458.53 587.47 L458.68 587.88 L458.83 588.32 L458.96 588.82 L459.07 589.37 L459.16 590.00 L459.23 590.67 L459.27 591.37 L459.29 592.11 L459.31 592.91 L459.31 593.79 L459.32 594.75 L459.33 595.81 L459.36 597.00 L459.39 598.29 L459.42 599.66 L459.46 601.13 L459.49 602.69 L459.53 604.35 L459.58 606.12 L459.62 608.00 L459.66 610.00 L459.71 612.17 L459.76 614.51 L459.81 616.99 L459.86 619.56 L459.91 622.19 L459.97 624.84 L460.02 627.45 L460.07 630.00 L460.11 632.50 L460.16 635.00 L460.21 637.50 L460.25 640.00 L460.29 642.50 L460.34 645.00 L460.38 647.50 L460.43 650.00 L460.47 652.50 L460.52 655.00 L460.57 657.50 L460.62 660.00 L460.66 662.50 L460.71 665.00 L460.76 667.50 L460.80 670.00 L460.85 672.57 L460.90 675.23 L460.96 677.94 L461.01 680.62 L461.06 683.23 L461.10 685.70 L461.15 687.98 L461.18 690.00 L461.21 691.69 L461.23 693.09 L461.24 694.26 L461.25 695.31 L461.26 696.32 L461.28 697.38 L461.32 698.58 L461.38 700.00 L461.45 701.64 L461.55 703.40 L461.66 705.26 L461.77 707.19 L461.90 709.16 L462.02 711.13 L462.13 713.09 L462.24 715.00 L462.34 716.88 L462.44 718.75 L462.53 720.62 L462.63 722.50 L462.72 724.38 L462.81 726.25 L462.90 728.12 L462.99 730.00 L463.08 731.88 L463.17 733.75 L463.26 735.62 L463.35 737.50 L463.44 739.38 L463.53 741.25 L463.61 743.12 L463.70 745.00 L463.79 746.91 L463.88 748.87 L463.97 750.84 L464.06 752.81 L464.14 754.74 L464.23 756.60 L464.31 758.36 L464.38 760.00 L464.45 761.51 L464.52 762.91 L464.58 764.23 L464.63 765.47 L464.69 766.65 L464.74 767.79 L464.80 768.90 L464.86 770.00 L464.91 771.08 L464.97 772.12 L465.02 773.13 L465.07 774.09 L465.13 775.02 L465.18 775.89 L465.24 776.72 L465.30 777.50 L465.36 778.22 L465.43 778.89 L465.51 779.50 L465.58 780.07 L465.65 780.60 L465.72 781.09 L465.79 781.56 L465.85 782.00 L465.91 782.42 L465.97 782.80 L466.03 783.16 L466.08 783.48 L466.14 783.77 L466.18 784.02 L466.22 784.23 L466.25 784.40 L466.30 784.24 L466.36 784.04 L466.43 783.80 L466.51 783.52 L466.59 783.22 L466.68 782.90 L466.77 782.56 L466.85 782.20 L466.93 781.81 L467.02 781.37 L467.10 780.89 L467.19 780.40 L467.28 779.91 L467.37 779.43 L467.46 778.99 L467.55 778.60 L467.64 778.25 L467.74 777.93 L467.83 777.62 L467.93 777.34 L468.03 777.08 L468.13 776.84 L468.24 776.61 L468.35 776.40 L468.47 776.21 L468.59 776.04 L468.71 775.89 L468.84 775.76 L468.97 775.63 L469.10 775.52 L469.23 775.41 L469.35 775.30 L469.47 775.19 L469.59 775.09 L469.70 775.00 L469.82 774.92 L469.93 774.84 L470.04 774.76 L470.15 774.68 L470.25 774.60 L470.35 774.53 L470.44 774.48 L470.54 774.43 L470.63 774.38 L470.71 774.32 L470.79 774.25 L470.87 774.14 L470.95 774.00 L471.02 773.86 L471.09 773.74 L471.16 773.62 L471.22 773.46 L471.28 773.25 L471.33 772.95 L471.39 772.55 L471.45 772.00 L471.51 771.33 L471.57 770.56 L471.62 769.70 L471.68 768.75 L471.73 767.70 L471.79 766.56 L471.83 765.33 L471.88 764.00 L471.92 762.54 L471.96 760.95 L471.99 759.23 L472.02 757.44 L472.05 755.59 L472.08 753.71 L472.11 751.84 L472.14 750.00 L472.18 748.17 L472.21 746.32 L472.24 744.45 L472.28 742.56 L472.31 740.67 L472.35 738.77 L472.38 736.88 L472.41 735.00 L472.45 733.16 L472.48 731.37 L472.51 729.59 L472.55 727.81 L472.58 725.99 L472.62 724.10 L472.66 722.11 L472.70 720.00 L472.74 717.71 L472.78 715.23 L472.83 712.65 L472.87 710.00 L472.92 707.35 L472.97 704.77 L473.02 702.29 L473.07 700.00 L473.13 697.89 L473.19 695.90 L473.25 694.01 L473.31 692.19 L473.38 690.41 L473.44 688.63 L473.51 686.84 L473.58 685.00 L473.66 683.12 L473.73 681.25 L473.81 679.38 L473.89 677.50 L473.97 675.62 L474.05 673.75 L474.13 671.88 L474.21 670.00 L474.30 668.12 L474.38 666.25 L474.47 664.38 L474.55 662.50 L474.64 660.62 L474.73 658.75 L474.82 656.88 L474.91 655.00 L475.00 653.12 L475.09 651.25 L475.18 649.38 L475.28 647.50 L475.37 645.62 L475.46 643.75 L475.56 641.88 L475.65 640.00 L475.75 638.12 L475.84 636.25 L475.94 634.38 L476.03 632.50 L476.13 630.62 L476.23 628.75 L476.33 626.88 L476.43 625.00 L476.53 623.09 L476.64 621.13 L476.76 619.16 L476.87 617.19 L476.98 615.26 L477.09 613.40 L477.19 611.64 L477.29 610.00 L477.38 608.50 L477.46 607.10 L477.54 605.80 L477.62 604.56 L477.69 603.38 L477.76 602.24 L477.83 601.12 L477.91 600.00 L477.97 598.89 L478.03 597.81 L478.08 596.77 L478.14 595.75 L478.20 594.77 L478.26 593.81 L478.34 592.89 L478.42 592.00 L478.53 591.13 L478.65 590.28 L478.79 589.45 L478.93 588.66 L479.07 587.91 L479.21 587.21 L479.34 586.57 L479.45 586.00 L479.55 585.49 L479.63 585.02 L479.70 584.61 L479.77 584.25 L479.84 583.95 L479.92 583.70 L480.00 583.52 L480.10 583.40 L480.21 583.36 L480.34 583.42 L480.47 583.55 L480.60 583.72 L480.74 583.94 L480.88 584.17 L481.02 584.40 L481.15 584.60 L481.28 584.78 L481.40 584.97 L481.53 585.15 L481.65 585.35 L481.77 585.57 L481.90 585.81 L482.02 586.08 L482.15 586.40 L482.29 586.74 L482.43 587.09 L482.58 587.47 L482.73 587.88 L482.88 588.32 L483.01 588.82 L483.12 589.37 L483.21 590.00 L483.28 590.67 L483.32 591.37 L483.34 592.11 L483.36 592.91 L483.36 593.79 L483.37 594.75 L483.38 595.81 L483.41 597.00 L483.44 598.29 L483.47 599.66 L483.51 601.13 L483.54 602.69 L483.58 604.35 L483.63 606.12 L483.67 608.00 L483.71 610.00 L483.76 612.17 L483.81 614.51 L483.86 616.99 L483.91 619.56 L483.96 622.19 L484.02 624.84 L484.07 627.45 L484.12 630.00 L484.16 632.50 L484.21 635.00 L484.26 637.50 L484.30 640.00 L484.34 642.50 L484.39 645.00 L484.43 647.50 L484.48 650.00 L484.52 652.50 L484.57 655.00 L484.62 657.50 L484.67 660.00 L484.71 662.50 L484.76 665.00 L484.81 667.50 L484.85 670.00 L484.90 672.57 L484.95 675.23 L485.01 677.94 L485.06 680.62 L485.11 683.23 L485.15 685.70 L485.20 687.98 L485.23 690.00 L485.26 691.69 L485.28 693.09 L485.29 694.26 L485.30 695.31 L485.31 696.32 L485.33 697.38 L485.37 698.58 L485.43 700.00 L485.50 701.64 L485.60 703.40 L485.71 705.26 L485.82 707.19 L485.95 709.16 L486.07 711.13 L486.18 713.09 L486.29 715.00 L486.39 716.88 L486.49 718.75 L486.58 720.62 L486.68 722.50 L486.77 724.38 L486.86 726.25 L486.95 728.12 L487.04 730.00 L487.13 731.88 L487.22 733.75 L487.31 735.62 L487.40 737.50 L487.49 739.38 L487.58 741.25 L487.66 743.12 L487.75 745.00 L487.84 746.91 L487.93 748.87 L488.02 750.84 L488.11 752.81 L488.19 754.74 L488.28 756.60 L488.36 758.36 L488.43 760.00 L488.50 761.51 L488.57 762.91 L488.63 764.23 L488.68 765.47 L488.74 766.65 L488.79 767.79 L488.85 768.90 L488.91 770.00 L488.96 771.08 L489.02 772.12 L489.07 773.13 L489.12 774.09 L489.18 775.02 L489.23 775.89 L489.29 776.72 L489.35 777.50 L489.41 778.22 L489.48 778.89 L489.56 779.50 L489.63 780.07 L489.70 780.60 L489.77 781.09 L489.84 781.56 L489.90 782.00 L489.96 782.42 L490.02 782.80 L490.08 783.16 L490.13 783.48 L490.19 783.77 L490.23 784.02 L490.27 784.23 L490.30 784.40 L490.35 784.24 L490.41 784.04 L490.48 783.80 L490.56 783.52 L490.64 783.22 L490.73 782.90 L490.82 782.56 L490.90 782.20 L490.98 781.81 L491.07 781.37 L491.15 780.89 L491.24 780.40 L491.33 779.91 L491.42 779.43 L491.51 778.99 L491.60 778.60 L491.69 778.25 L491.79 777.93 L491.88 777.62 L491.98 777.34 L492.08 777.08 L492.18 776.84 L492.29 776.61 L492.40 776.40 L492.52 776.21 L492.64 776.04 L492.76 775.89 L492.89 775.76 L493.02 775.63 L493.15 775.52 L493.28 775.41 L493.40 775.30 L493.52 775.19 L493.64 775.09 L493.75 775.00 L493.87 774.92 L493.98 774.84 L494.09 774.76 L494.20 774.68 L494.30 774.60 L494.40 774.53 L494.49 774.48 L494.59 774.43 L494.68 774.38 L494.76 774.32 L494.84 774.25 L494.92 774.14 L495.00 774.00 L495.07 773.86 L495.14 773.74 L495.21 773.62 L495.27 773.46 L495.33 773.25 L495.38 772.95 L495.44 772.55 L495.50 772.00 L495.56 771.33 L495.62 770.56 L495.67 769.70 L495.73 768.75 L495.78 767.70 L495.84 766.56 L495.88 765.33 L495.93 764.00 L495.97 762.54 L496.01 760.95 L496.04 759.23 L496.07 757.44 L496.10 755.59 L496.13 753.71 L496.16 751.84 L496.19 750.00 L496.23 748.17 L496.26 746.32 L496.29 744.45 L496.33 742.56 L496.36 740.67 L496.40 738.77 L496.43 736.88 L496.46 735.00 L496.50 733.16 L496.53 731.37 L496.56 729.59 L496.60 727.81 L496.63 725.99 L496.67 724.10 L496.71 722.11 L496.75 720.00 L496.79 717.71 L496.83 715.23 L496.88 712.65 L496.92 710.00 L496.97 707.35 L497.02 704.77 L497.07 702.29 L497.12 700.00 L497.18 697.89 L497.24 695.90 L497.30 694.01 L497.36 692.19 L497.43 690.41 L497.49 688.63 L497.56 686.84 L497.63 685.00 L497.71 683.12 L497.78 681.25 L497.86 679.38 L497.94 677.50 L498.02 675.62 L498.10 673.75 L498.18 671.88 L498.26 670.00 L498.35 668.12 L498.43 666.25 L498.52 664.38 L498.60 662.50 L498.69 660.62 L498.78 658.75 L498.87 656.88 L498.96 655.00 L499.05 653.12 L499.14 651.25 L499.23 649.38 L499.33 647.50 L499.42 645.62 L499.51 643.75 L499.61 641.88 L499.70 640.00 L499.80 638.12 L499.89 636.25 L499.99 634.38 L500.08 632.50 L500.18 630.62 L500.28 628.75 L500.38 626.88 L500.48 625.00 L500.58 623.09 L500.69 621.13 L500.81 619.16 L500.92 617.19 L501.03 615.26 L501.14 613.40 L501.24 611.64 L501.34 610.00 L501.43 608.50 L501.51 607.10 L501.59 605.80 L501.67 604.56 L501.74 603.38 L501.81 602.24 L501.88 601.12 L501.96 600.00 L502.02 598.89 L502.08 597.81 L502.13 596.77 L502.19 595.75 L502.25 594.77 L502.31 593.81 L502.39 592.89 L502.47 592.00 L502.58 591.13 L502.70 590.28 L502.84 589.45 L502.98 588.66 L503.12 587.91 L503.26 587.21 L503.39 586.57 L503.50 586.00 L503.60 585.49 L503.68 585.02 L503.75 584.61 L503.82 584.25 L503.89 583.95 L503.97 583.70 L504.05 583.52 L504.15 583.40 L504.26 583.36 L504.39 583.42 L504.52 583.55 L504.65 583.72 L504.79 583.94 L504.93 584.17 L505.07 584.40 L505.20 584.60 L505.33 584.78 L505.45 584.97 L505.58 585.15 L505.70 585.35 L505.82 585.57 L505.95 585.81 L506.07 586.08 L506.20 586.40 L506.34 586.74 L506.48 587.09 L506.63 587.47 L506.78 587.88 L506.93 588.32 L507.06 588.82 L507.17 589.37 L507.26 590.00 L507.33 590.67 L507.37 591.37 L507.39 592.11 L507.41 592.91 L507.41 593.79 L507.42 594.75 L507.43 595.81 L507.46 597.00 L507.49 598.29 L507.52 599.66 L507.56 601.13 L507.59 602.69 L507.63 604.35 L507.68 606.12 L507.72 608.00 L507.76 610.00 L507.81 612.17 L507.86 614.51 L507.91 616.99 L507.96 619.56 L508.01 622.19 L508.07 624.84 L508.12 627.45 L508.17 630.00 L508.21 632.50 L508.26 635.00 L508.31 637.50 L508.35 640.00 L508.39 642.50 L508.44 645.00 L508.48 647.50 L508.53 650.00 L508.57 652.50 L508.62 655.00 L508.67 657.50 L508.72 660.00 L508.76 662.50 L508.81 665.00 L508.86 667.50 L508.90 670.00 L508.95 672.57 L509.00 675.23 L509.06 677.94 L509.11 680.62 L509.16 683.23 L509.20 685.70 L509.25 687.98 L509.28 690.00 L509.31 691.69 L509.33 693.09 L509.34 694.26 L509.35 695.31 L509.36 696.32 L509.38 697.38 L509.42 698.58 L509.48 700.00 L509.55 701.64 L509.65 703.40 L509.76 705.26 L509.87 707.19 L510.00 709.16 L510.12 711.13 L510.23 713.09 L510.34 715.00 L510.44 716.88 L510.54 718.75 L510.63 720.62 L510.73 722.50 L510.82 724.38 L510.91 726.25 L511.00 728.12 L511.09 730.00 L511.18 731.88 L511.27 733.75 L511.36 735.62 L511.45 737.50 L511.54 739.38 L511.63 741.25 L511.71 743.12 L511.80 745.00 L511.89 746.91 L511.98 748.87 L512.07 750.84 L512.16 752.81 L512.24 754.74 L512.33 756.60 L512.41 758.36 L512.48 760.00 L512.55 761.51 L512.62 762.91 L512.68 764.23 L512.73 765.47 L512.79 766.65 L512.84 767.79 L512.90 768.90 L512.96 770.00 L513.01 771.08 L513.07 772.12 L513.12 773.13 L513.17 774.09 L513.23 775.02 L513.28 775.89 L513.34 776.72 L513.40 777.50 L513.46 778.22 L513.53 778.89 L513.61 779.50 L513.68 780.07 L513.75 780.60 L513.82 781.09 L513.89 781.56 L513.95 782.00 L514.01 782.42 L514.07 782.80 L514.13 783.16 L514.18 783.48 L514.24 783.77 L514.28 784.02 L514.32 784.23 L514.35 784.40 L514.40 784.24 L514.46 784.04 L514.53 783.80 L514.61 783.52 L514.69 783.22 L514.78 782.90 L514.87 782.56 L514.95 782.20 L515.03 781.81 L515.12 781.37 L515.20 780.89 L515.29 780.40 L515.38 779.91 L515.47 779.43 L515.56 778.99 L515.65 778.60 L515.74 778.25 L515.84 777.93 L515.93 777.62 L516.03 777.34 L516.13 777.08 L516.23 776.84 L516.34 776.61 L516.45 776.40 L516.57 776.21 L516.69 776.04 L516.81 775.89 L516.94 775.76 L517.07 775.63 L517.20 775.52 L517.33 775.41 L517.45 775.30 L517.57 775.19 L517.69 775.09 L517.80 775.00 L517.92 774.92 L518.03 774.84 L518.14 774.76 L518.25 774.68 L518.35 774.60 L518.45 774.53 L518.54 774.48 L518.64 774.43 L518.73 774.38 L518.81 774.32 L518.89 774.25 L518.97 774.14 L519.05 774.00 L519.12 773.86 L519.19 773.74 L519.26 773.62" stroke="#2C6CA6"/>
</g>
<path d="M38.3 511.5V876.3M519.3 511.5V876.3" stroke="#0a0a0a" stroke-width="1.6" opacity="0.45" fill="none"/>
<rect x="423.7" y="522.2" width="80.300" height="90.5" fill="#000"/>
<rect x="419.2" y="517.7" width="80.300" height="90.5" fill="#fff" stroke="#8a8a8a" stroke-width="0.7"/>
<line x1="422" x2="472" y1="532.800" y2="532.800" stroke="#F0B73A" stroke-width="1.7"/>
<text x="477.3" y="539.800" font-size="19.8" letter-spacing="0.7" fill="#111">//</text>
<line x1="422" x2="472" y1="562.800" y2="562.800" stroke="#D11F30" stroke-width="1.7"/>
<text x="476.8" y="570.300" font-size="19.5" fill="#111">⊥</text>
<line x1="422" x2="472" y1="592.800" y2="592.800" stroke="#2C6CA6" stroke-width="1.7"/>
<text transform="translate(477.4 600.500) scale(1.12 1)" font-size="19.6" fill="#111">σ</text><text x="491.4" y="591.000" font-size="13.5" fill="#111">-</text>
<text x="39.5" y="493.7" font-size="29" letter-spacing="0.5" fill="#111">(b)</text>
<text x="228.2" y="493.7" font-size="29"  fill="#111">1.2 GHz</text>
<text transform="translate(21.4 878.099) rotate(-90)" font-size="29" letter-spacing="0.07" fill="#111">Probe Absorption (arbit. unit)</text>
<text x="192" y="943.2" font-size="34.3" letter-spacing="0.35" fill="#111">Times (ms)</text>
</svg></body></html>
